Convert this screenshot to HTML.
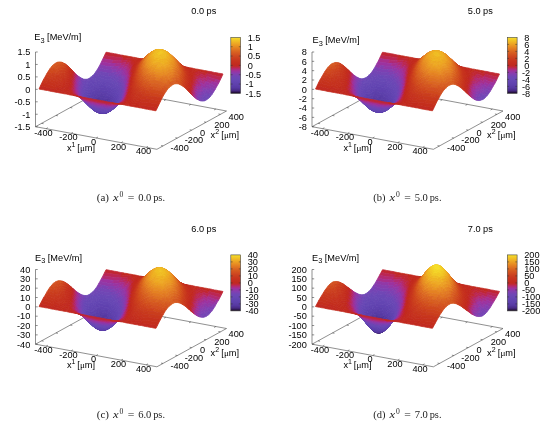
<!DOCTYPE html>
<html><head><meta charset="utf-8"><title>E3 field</title>
<style>
html,body{margin:0;padding:0;background:#fff}
svg{display:block}
.s text{font-family:"Liberation Sans",sans-serif;font-size:9.2px;fill:#000}
.mu{font-family:"Liberation Serif",serif}
.c text{font-family:"Liberation Serif",serif;font-size:9.5px;fill:#222}
.c .u{font-size:7.6px}
.sf path{stroke-width:3.2;stroke-linejoin:round}
.q0{fill:#0f0514;stroke:#0f0514}
.q1{fill:#2c164a;stroke:#2c164a}
.q2{fill:#412474;stroke:#412474}
.q3{fill:#4c2e8c;stroke:#4c2e8c}
.q4{fill:#513498;stroke:#513498}
.q5{fill:#573aa3;stroke:#573aa3}
.q6{fill:#5a3ca7;stroke:#5a3ca7}
.q7{fill:#5c3fab;stroke:#5c3fab}
.q8{fill:#5f41ae;stroke:#5f41ae}
.q9{fill:#6143b0;stroke:#6143b0}
.q10{fill:#6345b2;stroke:#6345b2}
.q11{fill:#6646b3;stroke:#6646b3}
.q12{fill:#6848b5;stroke:#6848b5}
.q13{fill:#6b47b5;stroke:#6b47b5}
.q14{fill:#6f46b5;stroke:#6f46b5}
.q15{fill:#7544b4;stroke:#7544b4}
.q16{fill:#7d41b2;stroke:#7d41b2}
.q17{fill:#863dae;stroke:#863dae}
.q18{fill:#9138a7;stroke:#9138a7}
.q19{fill:#9c33a0;stroke:#9c33a0}
.q20{fill:#a72f8c;stroke:#a72f8c}
.q21{fill:#b22b72;stroke:#b22b72}
.q22{fill:#bb2852;stroke:#bb2852}
.q23{fill:#c02832;stroke:#c02832}
.q24{fill:#c12a20;stroke:#c12a20}
.q25{fill:#c22c20;stroke:#c22c20}
.q26{fill:#c42e1f;stroke:#c42e1f}
.q27{fill:#c5311f;stroke:#c5311f}
.q28{fill:#c7351f;stroke:#c7351f}
.q29{fill:#c8391f;stroke:#c8391f}
.q30{fill:#ca3e1f;stroke:#ca3e1f}
.q31{fill:#cd431f;stroke:#cd431f}
.q32{fill:#cf491f;stroke:#cf491f}
.q33{fill:#d25020;stroke:#d25020}
.q34{fill:#d45720;stroke:#d45720}
.q35{fill:#d75e21;stroke:#d75e21}
.q36{fill:#da6621;stroke:#da6621}
.q37{fill:#dd6f21;stroke:#dd6f21}
.q38{fill:#e17822;stroke:#e17822}
.q39{fill:#e48222;stroke:#e48222}
.q40{fill:#e78c23;stroke:#e78c23}
.q41{fill:#e99623;stroke:#e99623}
.q42{fill:#eca024;stroke:#eca024}
.q43{fill:#eeaa25;stroke:#eeaa25}
.q44{fill:#efb425;stroke:#efb425}
.q45{fill:#f0bf26;stroke:#f0bf26}
.q46{fill:#f2ca27;stroke:#f2ca27}
.q47{fill:#f4d52a;stroke:#f4d52a}
.q48{fill:#f6e02c;stroke:#f6e02c}
</style></head><body>
<svg width="550" height="430" viewBox="0 0 550 430">
<rect width="550" height="430" fill="#fff"/>
<defs><filter id="bl" x="-5%" y="-5%" width="110%" height="110%"><feGaussianBlur stdDeviation="0.45"/></filter><linearGradient id="cb" x1="0" y1="0" x2="0" y2="1"><stop offset="0.000" stop-color="#f6e02c"/><stop offset="0.025" stop-color="#f4d229"/><stop offset="0.050" stop-color="#f1c526"/><stop offset="0.075" stop-color="#f0b926"/><stop offset="0.100" stop-color="#eeac25"/><stop offset="0.125" stop-color="#eca024"/><stop offset="0.150" stop-color="#e99423"/><stop offset="0.175" stop-color="#e68822"/><stop offset="0.200" stop-color="#e27c22"/><stop offset="0.225" stop-color="#de7122"/><stop offset="0.250" stop-color="#da6621"/><stop offset="0.275" stop-color="#d65d20"/><stop offset="0.300" stop-color="#d35420"/><stop offset="0.325" stop-color="#d04c20"/><stop offset="0.350" stop-color="#cd441f"/><stop offset="0.375" stop-color="#ca3e1f"/><stop offset="0.400" stop-color="#c8381f"/><stop offset="0.425" stop-color="#c6331f"/><stop offset="0.450" stop-color="#c42f1f"/><stop offset="0.475" stop-color="#c22c20"/><stop offset="0.500" stop-color="#c12a20"/><stop offset="0.525" stop-color="#c02836"/><stop offset="0.550" stop-color="#b8295f"/><stop offset="0.575" stop-color="#ac2d82"/><stop offset="0.600" stop-color="#9e329e"/><stop offset="0.625" stop-color="#9138a7"/><stop offset="0.650" stop-color="#843eb0"/><stop offset="0.675" stop-color="#7a42b2"/><stop offset="0.700" stop-color="#7046b5"/><stop offset="0.725" stop-color="#6c47b5"/><stop offset="0.750" stop-color="#6848b5"/><stop offset="0.775" stop-color="#6546b3"/><stop offset="0.800" stop-color="#6244b1"/><stop offset="0.825" stop-color="#6042ae"/><stop offset="0.850" stop-color="#5d40ac"/><stop offset="0.875" stop-color="#5a3ca7"/><stop offset="0.900" stop-color="#5639a2"/><stop offset="0.925" stop-color="#4f3193"/><stop offset="0.950" stop-color="#482a84"/><stop offset="0.975" stop-color="#321955"/><stop offset="1.000" stop-color="#0f0514"/></linearGradient></defs>
<g transform="translate(0,0)">
<g stroke="#444" stroke-width="0.6" fill="none">
<path d="M35.50 126.70L156.90 149.30L226.50 111.00L105.10 88.40z"/>
<line x1="35.50" y1="126.70" x2="35.50" y2="52.00"/>
<line x1="35.50" y1="126.70" x2="37.70" y2="126.70"/>
<line x1="35.50" y1="114.25" x2="37.70" y2="114.25"/>
<line x1="35.50" y1="101.80" x2="37.70" y2="101.80"/>
<line x1="35.50" y1="89.35" x2="37.70" y2="89.35"/>
<line x1="35.50" y1="76.90" x2="37.70" y2="76.90"/>
<line x1="35.50" y1="64.45" x2="37.70" y2="64.45"/>
<line x1="35.50" y1="52.00" x2="37.70" y2="52.00"/>
<line x1="46.14" y1="128.68" x2="47.89" y2="127.72"/>
<line x1="115.74" y1="90.38" x2="113.99" y2="91.34"/>
<line x1="163.00" y1="145.94" x2="161.03" y2="145.58"/>
<line x1="41.60" y1="123.34" x2="43.57" y2="123.71"/>
<line x1="71.17" y1="133.34" x2="72.92" y2="132.38"/>
<line x1="140.77" y1="95.04" x2="139.02" y2="96.00"/>
<line x1="177.35" y1="138.05" x2="175.38" y2="137.68"/>
<line x1="55.95" y1="115.45" x2="57.92" y2="115.81"/>
<line x1="96.20" y1="138.00" x2="97.95" y2="137.04"/>
<line x1="165.80" y1="99.70" x2="164.05" y2="100.66"/>
<line x1="191.70" y1="130.15" x2="189.73" y2="129.78"/>
<line x1="70.30" y1="107.55" x2="72.27" y2="107.92"/>
<line x1="121.23" y1="142.66" x2="122.98" y2="141.70"/>
<line x1="190.83" y1="104.36" x2="189.08" y2="105.32"/>
<line x1="206.05" y1="122.25" x2="204.08" y2="121.89"/>
<line x1="84.65" y1="99.65" x2="86.62" y2="100.02"/>
<line x1="146.26" y1="147.32" x2="148.01" y2="146.36"/>
<line x1="215.86" y1="109.02" x2="214.11" y2="109.98"/>
<line x1="220.40" y1="114.36" x2="218.43" y2="113.99"/>
<line x1="99.00" y1="91.76" x2="100.97" y2="92.12"/>
</g>
<g class="sf" filter="url(#bl)"><g transform="scale(0.25)">
<path class="q23" d="M418 222l9 1 8 2 8 1 9 1 8 1 8 1 9 1 8 1 6-10-8-1-9-2-8-2-8-1-9-2-8-1-8-2-9-1z"/>
<path class="q24" d="M485 231l8 1 9 0 8 1 8 1 9 0 8 1 8 0 9 0 8 1 8 0 9 1 8 1 8 0 7 3-9-1-8-2-8-1-9-2-8-1-9-2-8-2-8-1-9-2-8-1-8-2-9-1-8-2z"/>
<path class="q25" d="M593 238l9 1 8 1 9 1 8 1 8 1 9 2 8 1 8 2 9 1 8 2 8 2 9 2 8 2 8 2 9 2 6 4-9-2-8-1-8-2-9-2-8-1-8-2-9-1-8-2-8-1-9-2-8-1-8-2-9-2-8-1-8-2z"/>
<path class="q24" d="M719 261l8 3 8 2 9 3 8 2 8 3 9 3 8 2 9 3 8 3 8 2 9 3 8 2 8 3 6-10-8-2-8-1-9-2-8-1-8-2-9-1-8-2-8-2-9-1-8-2-8-1-9-2-8-1z"/>
<path class="q23" d="M827 295l9 2 8 2 8 2 9 2 8 2 8 2 9 2 6-13-9-2-8-1-8-2-9-1-8-2-8-2-9-1z"/>
<path class="q22" d="M412 234l8 2 9 2 8 1 8 1 9 1 8 0 9 1 8 0 8 0 6-10-8-1-8-1-9-1-8-1-8-1-9-1-8-1-8-2-9-1z"/>
<path class="q23" d="M487 242l9 0 8-1 8 0 9-1 6-6-9 0-8-1-8-1-9 0z"/>
<path class="q24" d="M521 240l8 0 8-1 9 0 8-1 6-2-8-1-9 0-8 0-8-1z"/>
<path class="q25" d="M554 238l8 0 9-1 8 0 8 0 6 1-8 0-8-1-9-1-8 0z"/>
<path class="q26" d="M587 237l9-1 8 1 8 0 9 0 8 1 8 1 9 1 8 1 9 2 8 2 8 2 9 2 8 3 8 2 9 3 8 3 6 4-8-3-9-2-8-2-8-2-9-2-8-2-8-2-9-1-8-2-8-1-9-2-8-1-8-1-9-1-8-1-9-1z"/>
<path class="q25" d="M721 260l8 4 9 3 8 4 8 3 6 0-8-3-8-2-9-3-8-2z"/>
<path class="q24" d="M754 274l9 4 8 4 8 3 9 4 6-4-8-3-9-3-8-2-9-3z"/>
<path class="q23" d="M788 289l8 4 8 3 9 4 8 3 6-8-8-3-8-2-9-3-8-2z"/>
<path class="q22" d="M821 303l9 3 8 3 8 3 9 3 8 2 8 3 9 2 6-13-9-2-8-2-8-2-9-2-8-2-8-2-9-2z"/>
<path class="q20" d="M406 247l8 2 9 2 8 1 8 1 9 1 6-13-9-1-8-1-8-1-9-2-8-2z"/>
<path class="q21" d="M448 254l8 0 8 0 9-1 8 0 6-11-8 0-8 0-9-1-8 0z"/>
<path class="q22" d="M481 253l8-1 9-1 8-1 6-9-8 0-8 1-9 0z"/>
<path class="q23" d="M506 250l9-2 8-1 6-7-8 0-9 1z"/>
<path class="q24" d="M523 247l8-2 9-2 8-1 6-4-8 1-9 0-8 1z"/>
<path class="q25" d="M548 242l8-2 9-1 6-2-9 1-8 0z"/>
<path class="q26" d="M565 239l8-2 8-1 9-1 6 1-9 1-8 0-8 0z"/>
<path class="q27" d="M590 235l8-1 8-1 9 0 8 0 6 5-8-1-9 0-8 0-8-1z"/>
<path class="q28" d="M623 233l8 1 9 0 8 1 8 2 9 1 8 3 9 2 6 6-9-2-8-2-8-2-9-2-8-1-9-1-8-1z"/>
<path class="q27" d="M682 243l8 3 8 3 9 3 8 4 6 4-8-3-9-3-8-2-8-3z"/>
<path class="q26" d="M715 256l8 4 9 4 8 5 6 2-8-4-9-3-8-4z"/>
<path class="q25" d="M740 269l8 4 9 5 6 0-9-4-8-3z"/>
<path class="q24" d="M757 278l8 5 8 4 9 5 6-3-9-4-8-3-8-4z"/>
<path class="q23" d="M782 292l8 5 8 5 6-6-8-3-8-4z"/>
<path class="q22" d="M798 302l9 4 8 4 8 5 7-9-9-3-8-3-9-4z"/>
<path class="q21" d="M823 315l9 4 8 3 8 4 9 3 6-12-8-2-9-3-8-3-8-3z"/>
<path class="q20" d="M857 329l8 2 9 3 6-12-9-2-8-3z"/>
<path class="q19" d="M400 259l8 2 9 2 8 2 8 1 9 1 8 0 8-1 6-12-8 0-8 0-9-1-8-1-8-1-9-2-8-2z"/>
<path class="q20" d="M458 266l9 0 8-1 8-2 6-11-8 1-8 0-9 1z"/>
<path class="q21" d="M483 263l9-2 8-2 6-9-8 1-9 1z"/>
<path class="q22" d="M500 259l8-2 9-2 6-8-8 1-9 2z"/>
<path class="q23" d="M517 255l8-3 6-7-8 2z"/>
<path class="q24" d="M525 252l8-3 9-2 6-5-8 1-9 2z"/>
<path class="q25" d="M542 247l8-3 9-3 6-2-9 1-8 2z"/>
<path class="q26" d="M559 241l8-2 8-2 6-1-8 1-8 2z"/>
<path class="q27" d="M575 237l9-3 8-1 6 1-8 1-9 1z"/>
<path class="q28" d="M592 233l8-2 9-1 6 3-9 0-8 1z"/>
<path class="q29" d="M609 230l8-1 8 0 9 0 8 1 8 1 9 1 8 2 8 3 9 3 8 3 6 6-8-3-8-3-9-2-8-3-9-1-8-2-8-1-9 0-8-1-8 0z"/>
<path class="q28" d="M692 243l8 4 9 4 8 5 6 4-8-4-8-4-9-3z"/>
<path class="q27" d="M717 256l9 5 8 5 6 3-8-5-9-4z"/>
<path class="q26" d="M734 266l8 5 9 6 6 1-9-5-8-4z"/>
<path class="q25" d="M751 277l8 5 6 1-8-5z"/>
<path class="q24" d="M759 282l8 6 9 6 6-2-9-5-8-4z"/>
<path class="q23" d="M776 294l8 6 8 6 6-4-8-5-8-5z"/>
<path class="q22" d="M792 306l9 5 8 6 6-7-8-4-9-4z"/>
<path class="q21" d="M809 317l8 5 9 5 6-8-9-4-8-5z"/>
<path class="q20" d="M826 327l8 4 8 4 6-9-8-4-8-3z"/>
<path class="q19" d="M842 335l9 4 8 4 8 3 7-12-9-3-8-2-9-3z"/>
<path class="q17" d="M394 270l8 3 8 2 9 2 8 2 9 1 8 0 6-13-8 0-9-1-8-1-8-2-9-2-8-2z"/>
<path class="q18" d="M444 280l8-1 9-1 8-1 6-12-8 1-9 0-8 1z"/>
<path class="q19" d="M469 277l8-2 6-12-8 2z"/>
<path class="q20" d="M477 275l9-2 8-3 6-11-8 2-9 2z"/>
<path class="q21" d="M494 270l8-3 9-3 6-9-9 2-8 2z"/>
<path class="q22" d="M511 264l8-4 6-8-8 3z"/>
<path class="q23" d="M519 260l8-3 6-8-8 3z"/>
<path class="q24" d="M527 257l9-4 8-4 6-5-8 3-9 2z"/>
<path class="q25" d="M544 249l8-4 7-4-9 3z"/>
<path class="q26" d="M552 245l9-3 6-3-8 2z"/>
<path class="q27" d="M561 242l8-4 8-3 7-1-9 3-8 2z"/>
<path class="q28" d="M577 235l9-2 6 0-8 1z"/>
<path class="q29" d="M586 233l8-3 9-2 6 2-9 1-8 2z"/>
<path class="q30" d="M603 228l8-2 8-1 9 0 6 4-9 0-8 0-8 1z"/>
<path class="q31" d="M628 225l8 0 8 0 9 1 8 2 8 3 9 2 6 7-9-3-8-3-8-2-9-1-8-1-8-1z"/>
<path class="q30" d="M678 233l8 4 8 4 9 4 6 6-9-4-8-4-8-3z"/>
<path class="q29" d="M703 245l8 5 6 6-8-5z"/>
<path class="q28" d="M711 250l8 6 9 6 6 4-8-5-9-5z"/>
<path class="q27" d="M728 262l8 6 8 6 7 3-9-6-8-5z"/>
<path class="q26" d="M744 274l9 7 6 1-8-5z"/>
<path class="q25" d="M753 281l8 7 6 0-8-6z"/>
<path class="q24" d="M761 288l9 6 8 7 6-1-8-6-9-6z"/>
<path class="q23" d="M778 301l8 7 6-2-8-6z"/>
<path class="q22" d="M786 308l9 7 6-4-9-5z"/>
<path class="q21" d="M795 315l8 6 8 7 6-6-8-5-8-6z"/>
<path class="q20" d="M811 328l9 5 6-6-9-5z"/>
<path class="q19" d="M820 333l8 6 8 5 6-9-8-4-8-4z"/>
<path class="q18" d="M836 344l9 5 8 4 8 4 6-11-8-3-8-4-9-4z"/>
<path class="q16" d="M388 280l8 4 8 3 9 2 8 2 8 1 9 1 8-1 6-13-8 1-8 0-9-1-8-2-9-2-8-2-8-3z"/>
<path class="q17" d="M446 292l8-1 9-1 6-13-8 1-9 1z"/>
<path class="q18" d="M463 290l8-2 9-3 6-12-9 2-8 2z"/>
<path class="q19" d="M480 285l8-3 6-12-8 3z"/>
<path class="q20" d="M488 282l8-4 9-4 6-10-9 3-8 3z"/>
<path class="q21" d="M505 274l8-4 6-10-8 4z"/>
<path class="q22" d="M513 270l8-5 6-8-8 3z"/>
<path class="q23" d="M521 265l9-5 6-7-9 4z"/>
<path class="q24" d="M530 260l8-4 6-7-8 4z"/>
<path class="q25" d="M538 256l8-5 6-6-8 4z"/>
<path class="q26" d="M546 251l9-5 6-4-9 3z"/>
<path class="q27" d="M555 246l8-4 6-4-8 4z"/>
<path class="q28" d="M563 242l8-4 9-4 6-1-9 2-8 3z"/>
<path class="q29" d="M580 234l8-4 6 0-8 3z"/>
<path class="q30" d="M588 230l8-3 9-2 6 1-8 2-9 2z"/>
<path class="q31" d="M605 225l8-2 8-2 7 4-9 0-8 1z"/>
<path class="q32" d="M621 221l9 0 8-1 9 1 8 1 8 2 9 3 8 4 6 6-8-4-9-2-8-3-8-2-9-1-8 0-8 0z"/>
<path class="q31" d="M680 231l8 4 9 4 6 6-9-4-8-4z"/>
<path class="q30" d="M697 239l8 6 8 6 6 5-8-6-8-5z"/>
<path class="q29" d="M713 251l9 6 6 5-9-6z"/>
<path class="q28" d="M722 257l8 7 8 7 6 3-8-6-8-6z"/>
<path class="q27" d="M738 271l9 7 6 3-9-7z"/>
<path class="q26" d="M747 278l8 8 6 2-8-7z"/>
<path class="q25" d="M755 286l8 8 7 0-9-6z"/>
<path class="q24" d="M763 294l9 7 6 0-8-7z"/>
<path class="q23" d="M772 301l8 8 6-1-8-7z"/>
<path class="q22" d="M780 309l8 8 7-2-9-7z"/>
<path class="q21" d="M788 317l9 8 6-4-8-6z"/>
<path class="q20" d="M797 325l8 7 9 7 6-6-9-5-8-7z"/>
<path class="q19" d="M814 339l8 7 6-7-8-6z"/>
<path class="q18" d="M822 346l8 6 9 5 6-8-9-5-8-5z"/>
<path class="q17" d="M839 357l8 5 8 5 6-10-8-4-8-4z"/>
<path class="q15" d="M382 289l8 5 8 4 6-11-8-3-8-4z"/>
<path class="q14" d="M398 298l9 3 8 2 8 2 9 0 6-12-9-1-8-1-8-2-9-2z"/>
<path class="q15" d="M432 305l8 0 8-1 9-1 6-13-9 1-8 1-8 1z"/>
<path class="q16" d="M457 303l8-3 6-12-8 2z"/>
<path class="q17" d="M465 300l8-3 9-3 6-12-8 3-9 3z"/>
<path class="q18" d="M482 294l8-4 6-12-8 4z"/>
<path class="q19" d="M490 290l8-5 7-11-9 4z"/>
<path class="q20" d="M498 285l9-5 6-10-8 4z"/>
<path class="q21" d="M507 280l8-5 6-10-8 5z"/>
<path class="q22" d="M515 275l9-6 6-9-9 5z"/>
<path class="q23" d="M524 269l8-6 6-7-8 4z"/>
<path class="q24" d="M532 263l8-5 6-7-8 5z"/>
<path class="q25" d="M540 258l9-6 6-6-9 5z"/>
<path class="q27" d="M549 252l8-5 6-5-8 4z"/>
<path class="q28" d="M557 247l8-6 6-3-8 4z"/>
<path class="q29" d="M565 241l9-5 8-4 6-2-8 4-9 4z"/>
<path class="q30" d="M582 232l8-4 6-1-8 3z"/>
<path class="q31" d="M590 228l9-4 6 1-9 2z"/>
<path class="q32" d="M599 224l8-3 8-2 6 2-8 2-8 2z"/>
<path class="q33" d="M615 219l9-2 8-1 6 4-8 1-9 0z"/>
<path class="q34" d="M632 216l8 0 9 1 8 2 8 2 7 6-9-3-8-2-8-1-9-1z"/>
<path class="q33" d="M665 221l9 3 8 4 9 5 6 6-9-4-8-4-8-4z"/>
<path class="q32" d="M691 233l8 6 6 6-8-6z"/>
<path class="q31" d="M699 239l8 6 9 6 6 6-9-6-8-6z"/>
<path class="q30" d="M716 251l8 8 6 5-8-7z"/>
<path class="q29" d="M724 259l8 7 6 5-8-7z"/>
<path class="q28" d="M732 266l9 9 6 3-9-7z"/>
<path class="q27" d="M741 275l8 8 6 3-8-8z"/>
<path class="q26" d="M749 283l8 9 6 2-8-8z"/>
<path class="q25" d="M757 292l9 8 6 1-9-7z"/>
<path class="q24" d="M766 300l8 9 6 0-8-8z"/>
<path class="q23" d="M774 309l8 9 6-1-8-8z"/>
<path class="q21" d="M782 318l9 9 6-2-9-8z"/>
<path class="q20" d="M791 327l8 8 6-3-8-7z"/>
<path class="q19" d="M799 335l8 8 9 8 6-5-8-7-9-7z"/>
<path class="q18" d="M816 351l8 7 6-6-8-6z"/>
<path class="q17" d="M824 358l8 7 7-8-9-5z"/>
<path class="q16" d="M832 365l9 6 8 5 6-9-8-5-8-5z"/>
<path class="q14" d="M376 297l8 6 8 4 6-9-8-4-8-5z"/>
<path class="q13" d="M392 307l9 4 8 3 8 2 9 2 8 0 8-1 6-13-8 1-8 0-9 0-8-2-8-2-9-3z"/>
<path class="q14" d="M442 317l9-1 8-3 6-13-8 3-9 1z"/>
<path class="q15" d="M459 313l8-3 6-13-8 3z"/>
<path class="q16" d="M467 310l9-4 6-12-9 3z"/>
<path class="q17" d="M476 306l8-4 6-12-8 4z"/>
<path class="q18" d="M484 302l8-5 6-12-8 5z"/>
<path class="q19" d="M492 297l9-6 6-11-9 5z"/>
<path class="q20" d="M501 291l8-6 6-10-8 5z"/>
<path class="q21" d="M509 285l8-6 7-10-9 6z"/>
<path class="q22" d="M517 279l9-7 6-9-8 6z"/>
<path class="q24" d="M526 272l8-6 6-8-8 5z"/>
<path class="q25" d="M534 266l8-7 7-7-9 6z"/>
<path class="q26" d="M542 259l9-6 6-6-8 5z"/>
<path class="q27" d="M551 253l8-7 6-5-8 6z"/>
<path class="q28" d="M559 246l9-6 6-4-9 5z"/>
<path class="q30" d="M568 240l8-5 6-3-8 4z"/>
<path class="q31" d="M576 235l8-6 6-1-8 4z"/>
<path class="q32" d="M584 229l9-4 8-4 6 0-8 3-9 4z"/>
<path class="q33" d="M601 221l8-3 6 1-8 2z"/>
<path class="q34" d="M609 218l9-3 8-2 6 3-8 1-9 2z"/>
<path class="q35" d="M626 213l8 0 9 0 8 1 8 2 9 3 8 3 6 6-8-4-9-3-8-2-8-2-9-1-8 0z"/>
<path class="q34" d="M676 222l8 5 9 5 6 7-8-6-9-5z"/>
<path class="q33" d="M693 232l8 7 6 6-8-6z"/>
<path class="q32" d="M701 239l8 7 7 5-9-6z"/>
<path class="q31" d="M709 246l9 7 6 6-8-8z"/>
<path class="q30" d="M718 253l8 8 6 5-8-7z"/>
<path class="q29" d="M726 261l9 9 6 5-9-9z"/>
<path class="q28" d="M735 270l8 9 6 4-8-8z"/>
<path class="q27" d="M743 279l8 9 6 4-8-9z"/>
<path class="q26" d="M751 288l9 10 6 2-9-8z"/>
<path class="q24" d="M760 298l8 10 6 1-8-9z"/>
<path class="q23" d="M768 308l8 10 6 0-8-9z"/>
<path class="q22" d="M776 318l9 9 6 0-9-9z"/>
<path class="q21" d="M785 327l8 10 6-2-8-8z"/>
<path class="q20" d="M793 337l8 9 6-3-8-8z"/>
<path class="q18" d="M801 346l9 9 6-4-9-8z"/>
<path class="q17" d="M810 355l8 8 6-5-8-7z"/>
<path class="q16" d="M818 363l8 8 9 7 6-7-9-6-8-7z"/>
<path class="q15" d="M835 378l8 6 6-8-8-5z"/>
<path class="q13" d="M369 304l9 6 8 6 6-9-8-4-8-6z"/>
<path class="q12" d="M386 316l8 5 9 4 8 2 9 2 8 1 8 0 9-1 6-13-9 1-8 1-8 0-9-2-8-2-8-3-9-4z"/>
<path class="q13" d="M445 329l8-3 6-13-8 3z"/>
<path class="q14" d="M453 326l8-3 9-4 6-13-9 4-8 3z"/>
<path class="q15" d="M470 319l8-4 6-13-8 4z"/>
<path class="q16" d="M478 315l8-6 6-12-8 5z"/>
<path class="q18" d="M486 309l9-6 6-12-9 6z"/>
<path class="q19" d="M495 303l8-6 6-12-8 6z"/>
<path class="q20" d="M503 297l8-7 6-11-8 6z"/>
<path class="q21" d="M511 290l9-8 6-10-9 7z"/>
<path class="q23" d="M520 282l8-7 6-9-8 6z"/>
<path class="q24" d="M528 275l8-7 6-9-8 7z"/>
<path class="q25" d="M536 268l9-8 6-7-9 6z"/>
<path class="q27" d="M545 260l8-7 6-7-8 7z"/>
<path class="q28" d="M553 253l8-7 7-6-9 6z"/>
<path class="q29" d="M561 246l9-7 6-4-8 5z"/>
<path class="q31" d="M570 239l8-6 6-4-8 6z"/>
<path class="q32" d="M578 233l9-6 6-2-9 4z"/>
<path class="q33" d="M587 227l8-5 6-1-8 4z"/>
<path class="q34" d="M595 222l8-4 6 0-8 3z"/>
<path class="q35" d="M603 218l9-4 8-3 6 2-8 2-9 3z"/>
<path class="q36" d="M620 211l8-1 9-1 8 0 8 2 9 2 8 3 8 5 6 6-8-5-8-3-9-3-8-2-8-1-9 0-8 0z"/>
<path class="q35" d="M678 221l9 5 6 6-9-5z"/>
<path class="q34" d="M687 226l8 6 8 7 6 7-8-7-8-7z"/>
<path class="q33" d="M703 239l9 8 6 6-9-7z"/>
<path class="q32" d="M712 247l8 9 6 5-8-8z"/>
<path class="q30" d="M720 256l8 9 7 5-9-9z"/>
<path class="q29" d="M728 265l9 9 6 5-8-9z"/>
<path class="q28" d="M737 274l8 10 6 4-8-9z"/>
<path class="q27" d="M745 284l8 11 7 3-9-10z"/>
<path class="q25" d="M753 295l9 10 6 3-8-10z"/>
<path class="q24" d="M762 305l8 11 6 2-8-10z"/>
<path class="q23" d="M770 316l9 11 6 0-9-9z"/>
<path class="q21" d="M779 327l8 10 6 0-8-10z"/>
<path class="q20" d="M787 337l8 10 6-1-8-9z"/>
<path class="q19" d="M795 347l9 10 6-2-9-9z"/>
<path class="q17" d="M804 357l8 9 6-3-8-8z"/>
<path class="q16" d="M812 366l8 9 6-4-8-8z"/>
<path class="q15" d="M820 375l9 8 6-5-9-7z"/>
<path class="q14" d="M829 383l8 8 6-7-8-6z"/>
<path class="q13" d="M363 309l9 8 6-7-9-6z"/>
<path class="q12" d="M372 317l8 6 6-7-8-6z"/>
<path class="q11" d="M380 323l8 6 9 5 8 4 6-11-8-2-9-4-8-5z"/>
<path class="q10" d="M405 338l8 2 9 1 6-11-8-1-9-2z"/>
<path class="q11" d="M422 341l8 1 8-1 9-2 6-13-8 3-9 1-8 0z"/>
<path class="q12" d="M447 339l8-3 6-13-8 3z"/>
<path class="q13" d="M455 336l9-4 6-13-9 4z"/>
<path class="q14" d="M464 332l8-4 6-13-8 4z"/>
<path class="q15" d="M472 328l8-6 6-13-8 6z"/>
<path class="q16" d="M480 322l9-6 6-13-9 6z"/>
<path class="q17" d="M489 316l8-7 6-12-8 6z"/>
<path class="q19" d="M497 309l8-8 6-11-8 7z"/>
<path class="q20" d="M505 301l9-8 6-11-9 8z"/>
<path class="q22" d="M514 293l8-8 6-10-8 7z"/>
<path class="q23" d="M522 285l8-8 6-9-8 7z"/>
<path class="q25" d="M530 277l9-8 6-9-9 8z"/>
<path class="q26" d="M539 269l8-9 6-7-8 7z"/>
<path class="q28" d="M547 260l8-8 6-6-8 7z"/>
<path class="q29" d="M555 252l9-8 6-5-9 7z"/>
<path class="q30" d="M564 244l8-7 6-4-8 6z"/>
<path class="q32" d="M572 237l8-7 7-3-9 6z"/>
<path class="q33" d="M580 230l9-6 6-2-8 5z"/>
<path class="q34" d="M589 224l8-5 6-1-8 4z"/>
<path class="q35" d="M597 219l8-5 7 0-9 4z"/>
<path class="q36" d="M605 214l9-3 6 0-8 3z"/>
<path class="q37" d="M614 211l8-3 9-1 8-1 6 3-8 0-9 1-8 1z"/>
<path class="q38" d="M639 206l8 1 9 1 6 5-9-2-8-2z"/>
<path class="q37" d="M656 208l8 3 8 4 9 5 6 6-9-5-8-5-8-3z"/>
<path class="q36" d="M681 220l8 6 6 6-8-6z"/>
<path class="q35" d="M689 226l8 7 6 6-8-7z"/>
<path class="q34" d="M697 233l9 8 6 6-9-8z"/>
<path class="q33" d="M706 241l8 9 6 6-8-9z"/>
<path class="q32" d="M714 250l8 9 6 6-8-9z"/>
<path class="q31" d="M722 259l9 10 6 5-9-9z"/>
<path class="q29" d="M731 269l8 11 6 4-8-10z"/>
<path class="q28" d="M739 280l8 11 6 4-8-11z"/>
<path class="q26" d="M747 291l9 11 6 3-9-10z"/>
<path class="q25" d="M756 302l8 11 6 3-8-11z"/>
<path class="q23" d="M764 313l8 12 7 2-9-11z"/>
<path class="q22" d="M772 325l9 11 6 1-8-10z"/>
<path class="q20" d="M781 336l8 11 6 0-8-10z"/>
<path class="q19" d="M789 347l8 11 7-1-9-10z"/>
<path class="q18" d="M797 358l9 11 6-3-8-9z"/>
<path class="q16" d="M806 369l8 10 6-4-8-9z"/>
<path class="q15" d="M814 379l9 9 6-5-9-8z"/>
<path class="q14" d="M823 388l8 8 6-5-8-8z"/>
<path class="q13" d="M357 313l9 9 6-5-9-8z"/>
<path class="q12" d="M366 322l8 8 6-7-8-6z"/>
<path class="q11" d="M374 330l8 6 6-7-8-6z"/>
<path class="q10" d="M382 336l9 6 8 5 6-9-8-4-9-5z"/>
<path class="q9" d="M399 347l8 3 9 2 8 1 6-11-8-1-9-1-8-2z"/>
<path class="q10" d="M424 353l8 0 9-2 6-12-9 2-8 1z"/>
<path class="q11" d="M441 351l8-2 8-4 7-13-9 4-8 3z"/>
<path class="q12" d="M457 345l9-4 6-13-8 4z"/>
<path class="q13" d="M466 341l8-6 6-13-8 6z"/>
<path class="q15" d="M474 335l8-6 7-13-9 6z"/>
<path class="q16" d="M482 329l9-8 6-12-8 7z"/>
<path class="q17" d="M491 321l8-7 6-13-8 8z"/>
<path class="q19" d="M499 314l9-9 6-12-9 8z"/>
<path class="q20" d="M508 305l8-9 6-11-8 8z"/>
<path class="q22" d="M516 296l8-9 6-10-8 8z"/>
<path class="q24" d="M524 287l9-9 6-9-9 8z"/>
<path class="q25" d="M533 278l8-9 6-9-8 9z"/>
<path class="q27" d="M541 269l8-9 6-8-8 8z"/>
<path class="q29" d="M549 260l9-9 6-7-9 8z"/>
<path class="q30" d="M558 251l8-8 6-6-8 7z"/>
<path class="q32" d="M566 243l8-8 6-5-8 7z"/>
<path class="q33" d="M574 235l9-7 6-4-9 6z"/>
<path class="q34" d="M583 228l8-6 6-3-8 5z"/>
<path class="q35" d="M591 222l8-6 6-2-8 5z"/>
<path class="q36" d="M599 216l9-5 6 0-9 3z"/>
<path class="q37" d="M608 211l8-3 6 0-8 3z"/>
<path class="q38" d="M616 208l8-3 9-1 6 2-8 1-9 1z"/>
<path class="q39" d="M633 204l8-1 8 1 9 3 6 4-8-3-9-1-8-1z"/>
<path class="q38" d="M658 207l8 3 9 4 6 6-9-5-8-4z"/>
<path class="q37" d="M675 214l8 6 8 7 6 6-8-7-8-6z"/>
<path class="q36" d="M691 227l9 8 6 6-9-8z"/>
<path class="q35" d="M700 235l8 8 6 7-8-9z"/>
<path class="q33" d="M708 243l8 10 6 6-8-9z"/>
<path class="q32" d="M716 253l9 10 6 6-9-10z"/>
<path class="q31" d="M725 263l8 11 6 6-8-11z"/>
<path class="q29" d="M733 274l8 12 6 5-8-11z"/>
<path class="q28" d="M741 286l9 11 6 5-9-11z"/>
<path class="q26" d="M750 297l8 13 6 3-8-11z"/>
<path class="q24" d="M758 310l8 12 6 3-8-12z"/>
<path class="q23" d="M766 322l9 12 6 2-9-11z"/>
<path class="q21" d="M775 334l8 12 6 1-8-11z"/>
<path class="q19" d="M783 346l8 12 6 0-8-11z"/>
<path class="q18" d="M791 358l9 11 6 0-9-11z"/>
<path class="q16" d="M800 369l8 11 6-1-8-10z"/>
<path class="q15" d="M808 380l8 11 7-3-9-9z"/>
<path class="q14" d="M816 391l9 9 6-4-8-8z"/>
<path class="q13" d="M351 316l8 10 7-4-9-9z"/>
<path class="q11" d="M359 326l9 8 6-4-8-8z"/>
<path class="q10" d="M368 334l8 8 9 7 6-7-9-6-8-6z"/>
<path class="q9" d="M385 349l8 5 6-7-8-5z"/>
<path class="q8" d="M393 354l8 5 9 3 8 1 8 1 6-11-8 0-8-1-9-2-8-3z"/>
<path class="q9" d="M426 364l9-1 8-2 6-12-8 2-9 2z"/>
<path class="q10" d="M443 361l8-3 6-13-8 4z"/>
<path class="q11" d="M451 358l9-5 6-12-9 4z"/>
<path class="q12" d="M460 353l8-5 6-13-8 6z"/>
<path class="q13" d="M468 348l8-6 6-13-8 6z"/>
<path class="q14" d="M476 342l9-8 6-13-9 8z"/>
<path class="q16" d="M485 334l8-8 6-12-8 7z"/>
<path class="q17" d="M493 326l8-9 7-12-9 9z"/>
<path class="q19" d="M501 317l9-9 6-12-8 9z"/>
<path class="q21" d="M510 308l8-9 6-12-8 9z"/>
<path class="q23" d="M518 299l8-10 7-11-9 9z"/>
<path class="q24" d="M526 289l9-10 6-10-8 9z"/>
<path class="q26" d="M535 279l8-10 6-9-8 9z"/>
<path class="q28" d="M543 269l9-10 6-8-9 9z"/>
<path class="q30" d="M552 259l8-9 6-7-8 8z"/>
<path class="q31" d="M560 250l8-9 6-6-8 8z"/>
<path class="q33" d="M568 241l9-8 6-5-9 7z"/>
<path class="q34" d="M577 233l8-7 6-4-8 6z"/>
<path class="q35" d="M585 226l8-7 6-3-8 6z"/>
<path class="q37" d="M593 219l9-6 6-2-9 5z"/>
<path class="q38" d="M602 213l8-5 8-3 6 0-8 3-8 3z"/>
<path class="q39" d="M618 205l9-2 6 1-9 1z"/>
<path class="q40" d="M627 203l8-2 8 0 9 2 8 2 6 5-8-3-9-3-8-1-8 1z"/>
<path class="q39" d="M660 205l8 4 9 6 6 5-8-6-9-4z"/>
<path class="q38" d="M677 215l8 6 6 6-8-7z"/>
<path class="q37" d="M685 221l8 7 7 7-9-8z"/>
<path class="q36" d="M693 228l9 9 6 6-8-8z"/>
<path class="q35" d="M702 237l8 10 6 6-8-10z"/>
<path class="q34" d="M710 247l9 10 6 6-9-10z"/>
<path class="q32" d="M719 257l8 11 6 6-8-11z"/>
<path class="q31" d="M727 268l8 12 6 6-8-12z"/>
<path class="q29" d="M735 280l9 12 6 5-9-11z"/>
<path class="q27" d="M744 292l8 13 6 5-8-13z"/>
<path class="q25" d="M752 305l8 13 6 4-8-12z"/>
<path class="q24" d="M760 318l9 13 6 3-9-12z"/>
<path class="q22" d="M769 331l8 13 6 2-8-12z"/>
<path class="q20" d="M777 344l8 13 6 1-8-12z"/>
<path class="q18" d="M785 357l9 12 6 0-9-11z"/>
<path class="q17" d="M794 369l8 12 6-1-8-11z"/>
<path class="q15" d="M802 381l8 11 6-1-8-11z"/>
<path class="q14" d="M810 392l9 11 6-3-9-9z"/>
<path class="q13" d="M345 317l8 11 6-2-8-10z"/>
<path class="q11" d="M353 328l9 10 6-4-9-8z"/>
<path class="q10" d="M362 338l8 9 6-5-8-8z"/>
<path class="q9" d="M370 347l8 8 7-6-9-7z"/>
<path class="q8" d="M378 355l9 6 8 5 6-7-8-5-8-5z"/>
<path class="q7" d="M395 366l8 4 9 3 8 1 9 0 6-11-9 1-8-1-8-1-9-3z"/>
<path class="q8" d="M429 374l8-1 8-3 6-12-8 3-8 2z"/>
<path class="q9" d="M445 370l9-4 6-13-9 5z"/>
<path class="q10" d="M454 366l8-5 6-13-8 5z"/>
<path class="q11" d="M462 361l8-7 6-12-8 6z"/>
<path class="q13" d="M470 354l9-7 6-13-9 8z"/>
<path class="q14" d="M479 347l8-8 6-13-8 8z"/>
<path class="q16" d="M487 339l8-9 6-13-8 9z"/>
<path class="q18" d="M495 330l9-9 6-13-9 9z"/>
<path class="q19" d="M504 321l8-10 6-12-8 9z"/>
<path class="q21" d="M512 311l8-11 6-11-8 10z"/>
<path class="q23" d="M520 300l9-10 6-11-9 10z"/>
<path class="q25" d="M529 290l8-11 6-10-8 10z"/>
<path class="q27" d="M537 279l8-10 7-10-9 10z"/>
<path class="q29" d="M545 269l9-10 6-9-8 9z"/>
<path class="q31" d="M554 259l8-10 6-8-8 9z"/>
<path class="q32" d="M562 249l8-9 7-7-9 8z"/>
<path class="q34" d="M570 240l9-9 6-5-8 7z"/>
<path class="q35" d="M579 231l8-8 6-4-8 7z"/>
<path class="q37" d="M587 223l9-7 6-3-9 6z"/>
<path class="q38" d="M596 216l8-5 6-3-8 5z"/>
<path class="q39" d="M604 211l8-5 6-1-8 3z"/>
<path class="q40" d="M612 206l9-3 8-3 6 1-8 2-9 2z"/>
<path class="q41" d="M629 200l8 0 9 0 8 2 8 3 6 4-8-4-8-2-9-2-8 0z"/>
<path class="q40" d="M662 205l9 5 8 6 6 5-8-6-9-6z"/>
<path class="q39" d="M679 216l8 7 6 5-8-7z"/>
<path class="q38" d="M687 223l9 8 6 6-9-9z"/>
<path class="q37" d="M696 231l8 9 6 7-8-10z"/>
<path class="q35" d="M704 240l8 11 7 6-9-10z"/>
<path class="q34" d="M712 251l9 11 6 6-8-11z"/>
<path class="q32" d="M721 262l8 12 6 6-8-12z"/>
<path class="q30" d="M729 274l8 13 7 5-9-12z"/>
<path class="q29" d="M737 287l9 13 6 5-8-13z"/>
<path class="q27" d="M746 300l8 13 6 5-8-13z"/>
<path class="q25" d="M754 313l9 14 6 4-9-13z"/>
<path class="q23" d="M763 327l8 13 6 4-8-13z"/>
<path class="q21" d="M771 340l8 14 6 3-8-13z"/>
<path class="q19" d="M779 354l9 13 6 2-9-12z"/>
<path class="q17" d="M788 367l8 13 6 1-8-12z"/>
<path class="q16" d="M796 380l8 13 6-1-8-11z"/>
<path class="q14" d="M804 393l9 11 6-1-9-11z"/>
<path class="q13" d="M339 317l8 12 6-1-8-11z"/>
<path class="q12" d="M347 329l9 11 6-2-9-10z"/>
<path class="q10" d="M356 340l8 10 6-3-8-9z"/>
<path class="q9" d="M364 350l8 9 6-4-8-8z"/>
<path class="q8" d="M372 359l9 7 6-5-9-6z"/>
<path class="q7" d="M381 366l8 7 8 5 6-8-8-4-8-5z"/>
<path class="q6" d="M397 378l9 3 8 2 8 1 7-10-9 0-8-1-9-3z"/>
<path class="q7" d="M422 384l9-1 8-2 6-11-8 3-8 1z"/>
<path class="q8" d="M439 381l8-3 7-12-9 4z"/>
<path class="q9" d="M447 378l9-5 6-12-8 5z"/>
<path class="q10" d="M456 373l8-6 6-13-8 7z"/>
<path class="q11" d="M464 367l9-7 6-13-9 7z"/>
<path class="q13" d="M473 360l8-8 6-13-8 8z"/>
<path class="q14" d="M481 352l8-9 6-13-8 9z"/>
<path class="q16" d="M489 343l9-10 6-12-9 9z"/>
<path class="q18" d="M498 333l8-10 6-12-8 10z"/>
<path class="q20" d="M506 323l8-11 6-12-8 11z"/>
<path class="q22" d="M514 312l9-11 6-11-9 10z"/>
<path class="q24" d="M523 301l8-11 6-11-8 11z"/>
<path class="q26" d="M531 290l8-11 6-10-8 10z"/>
<path class="q28" d="M539 279l9-11 6-9-9 10z"/>
<path class="q30" d="M548 268l8-11 6-8-8 10z"/>
<path class="q32" d="M556 257l8-10 6-7-8 9z"/>
<path class="q33" d="M564 247l9-9 6-7-9 9z"/>
<path class="q35" d="M573 238l8-9 6-6-8 8z"/>
<path class="q36" d="M581 229l8-8 7-5-9 7z"/>
<path class="q38" d="M589 221l9-7 6-3-8 5z"/>
<path class="q39" d="M598 214l8-6 6-2-8 5z"/>
<path class="q40" d="M606 208l8-4 7-1-9 3z"/>
<path class="q41" d="M614 204l9-3 8-2 6 1-8 0-8 3z"/>
<path class="q42" d="M631 199l9-1 8 1 8 3 6 3-8-3-8-2-9 0z"/>
<path class="q41" d="M656 202l9 4 8 5 6 5-8-6-9-5z"/>
<path class="q40" d="M673 211l8 6 6 6-8-7z"/>
<path class="q39" d="M681 217l9 8 6 6-9-8z"/>
<path class="q38" d="M690 225l8 9 6 6-8-9z"/>
<path class="q37" d="M698 234l8 10 6 7-8-11z"/>
<path class="q35" d="M706 244l9 12 6 6-9-11z"/>
<path class="q34" d="M715 256l8 12 6 6-8-12z"/>
<path class="q32" d="M723 268l8 12 6 7-8-13z"/>
<path class="q30" d="M731 280l9 14 6 6-9-13z"/>
<path class="q28" d="M740 294l8 14 6 5-8-13z"/>
<path class="q26" d="M748 308l8 14 7 5-9-14z"/>
<path class="q24" d="M756 322l9 14 6 4-8-13z"/>
<path class="q22" d="M765 336l8 14 6 4-8-14z"/>
<path class="q20" d="M773 350l8 14 7 3-9-13z"/>
<path class="q18" d="M781 364l9 14 6 2-8-13z"/>
<path class="q16" d="M790 378l8 14 6 1-8-13z"/>
<path class="q15" d="M798 392l9 12 6 0-9-11z"/>
<path class="q14" d="M333 316l8 13 6 0-8-12z"/>
<path class="q12" d="M341 329l9 12 6-1-9-11z"/>
<path class="q10" d="M350 341l8 11 6-2-8-10z"/>
<path class="q9" d="M358 352l8 10 6-3-8-9z"/>
<path class="q8" d="M366 362l9 8 6-4-9-7z"/>
<path class="q7" d="M375 370l8 8 6-5-8-7z"/>
<path class="q6" d="M383 378l8 6 9 4 6-7-9-3-8-5z"/>
<path class="q5" d="M400 388l8 3 8 2 6-9-8-1-8-2z"/>
<path class="q6" d="M416 393l9 0 8-1 6-11-8 2-9 1z"/>
<path class="q7" d="M433 392l8-3 9-4 6-12-9 5-8 3z"/>
<path class="q9" d="M450 385l8-6 6-12-8 6z"/>
<path class="q10" d="M458 379l8-6 7-13-9 7z"/>
<path class="q11" d="M466 373l9-8 6-13-8 8z"/>
<path class="q13" d="M475 365l8-9 6-13-8 9z"/>
<path class="q15" d="M483 356l9-10 6-13-9 10z"/>
<path class="q16" d="M492 346l8-10 6-13-8 10z"/>
<path class="q18" d="M500 336l8-11 6-13-8 11z"/>
<path class="q20" d="M508 325l9-11 6-13-9 11z"/>
<path class="q22" d="M517 314l8-12 6-12-8 11z"/>
<path class="q25" d="M525 302l8-12 6-11-8 11z"/>
<path class="q27" d="M533 290l9-11 6-11-9 11z"/>
<path class="q29" d="M542 279l8-12 6-10-8 11z"/>
<path class="q31" d="M550 267l8-11 6-9-8 10z"/>
<path class="q33" d="M558 256l9-10 6-8-9 9z"/>
<path class="q34" d="M567 246l8-10 6-7-8 9z"/>
<path class="q36" d="M575 236l8-9 6-6-8 8z"/>
<path class="q38" d="M583 227l9-8 6-5-9 7z"/>
<path class="q39" d="M592 219l8-7 6-4-8 6z"/>
<path class="q40" d="M600 212l8-5 6-3-8 4z"/>
<path class="q41" d="M608 207l9-5 6-1-9 3z"/>
<path class="q42" d="M617 202l8-2 8-2 7 0-9 1-8 2z"/>
<path class="q43" d="M633 198l9 0 8 2 6 2-8-3-8-1z"/>
<path class="q42" d="M650 200l8 3 9 4 6 4-8-5-9-4z"/>
<path class="q41" d="M667 207l8 6 9 7 6 5-9-8-8-6z"/>
<path class="q39" d="M684 220l8 9 6 5-8-9z"/>
<path class="q38" d="M692 229l8 10 6 5-8-10z"/>
<path class="q37" d="M700 239l9 10 6 7-9-12z"/>
<path class="q35" d="M709 249l8 12 6 7-8-12z"/>
<path class="q33" d="M717 261l8 13 6 6-8-12z"/>
<path class="q32" d="M725 274l9 14 6 6-9-14z"/>
<path class="q30" d="M734 288l8 14 6 6-8-14z"/>
<path class="q28" d="M742 302l8 14 6 6-8-14z"/>
<path class="q26" d="M750 316l9 15 6 5-9-14z"/>
<path class="q23" d="M759 331l8 15 6 4-8-14z"/>
<path class="q21" d="M767 346l8 15 6 3-8-14z"/>
<path class="q19" d="M775 361l9 14 6 3-9-14z"/>
<path class="q17" d="M784 375l8 14 6 3-8-14z"/>
<path class="q15" d="M792 389l8 14 7 1-9-12z"/>
<path class="q14" d="M327 313l8 14 6 2-8-13z"/>
<path class="q13" d="M335 327l8 13 7 1-9-12z"/>
<path class="q11" d="M343 340l9 12 6 0-8-11z"/>
<path class="q9" d="M352 352l8 11 6-1-8-10z"/>
<path class="q8" d="M360 363l9 10 6-3-9-8z"/>
<path class="q7" d="M369 373l8 8 6-3-8-8z"/>
<path class="q6" d="M377 381l8 7 6-4-8-6z"/>
<path class="q5" d="M385 388l9 6 8 4 8 3 9 1 8-1 8-2 6-10-8 3-8 1-9 0-8-2-8-3-9-4z"/>
<path class="q6" d="M435 399l9-3 6-11-9 4z"/>
<path class="q7" d="M444 396l8-5 6-12-8 6z"/>
<path class="q8" d="M452 391l8-6 6-12-8 6z"/>
<path class="q10" d="M460 385l9-7 6-13-9 8z"/>
<path class="q11" d="M469 378l8-9 6-13-8 9z"/>
<path class="q13" d="M477 369l8-10 7-13-9 10z"/>
<path class="q15" d="M485 359l9-10 6-13-8 10z"/>
<path class="q17" d="M494 349l8-11 6-13-8 11z"/>
<path class="q19" d="M502 338l8-12 7-12-9 11z"/>
<path class="q21" d="M510 326l9-12 6-12-8 12z"/>
<path class="q23" d="M519 314l8-12 6-12-8 12z"/>
<path class="q25" d="M527 302l9-12 6-11-9 11z"/>
<path class="q28" d="M536 290l8-12 6-11-8 12z"/>
<path class="q30" d="M544 278l8-12 6-10-8 11z"/>
<path class="q32" d="M552 266l9-11 6-9-9 10z"/>
<path class="q34" d="M561 255l8-11 6-8-8 10z"/>
<path class="q35" d="M569 244l8-10 6-7-8 9z"/>
<path class="q37" d="M577 234l9-9 6-6-9 8z"/>
<path class="q39" d="M586 225l8-7 6-6-8 7z"/>
<path class="q40" d="M594 218l8-7 6-4-8 5z"/>
<path class="q41" d="M602 211l9-5 6-4-9 5z"/>
<path class="q42" d="M611 206l8-4 6-2-8 2z"/>
<path class="q43" d="M619 202l8-3 9-1 8 0 8 3 9 3 8 5 6 4-8-6-9-4-8-3-8-2-9 0-8 2z"/>
<path class="q42" d="M669 209l8 7 7 4-9-7z"/>
<path class="q41" d="M677 216l9 8 6 5-8-9z"/>
<path class="q40" d="M686 224l8 9 6 6-8-10z"/>
<path class="q38" d="M694 233l8 11 7 5-9-10z"/>
<path class="q37" d="M702 244l9 11 6 6-8-12z"/>
<path class="q35" d="M711 255l8 13 6 6-8-13z"/>
<path class="q33" d="M719 268l9 13 6 7-9-14z"/>
<path class="q31" d="M728 281l8 15 6 6-8-14z"/>
<path class="q29" d="M736 296l8 14 6 6-8-14z"/>
<path class="q27" d="M744 310l9 15 6 6-9-15z"/>
<path class="q25" d="M753 325l8 16 6 5-8-15z"/>
<path class="q23" d="M761 341l8 15 6 5-8-15z"/>
<path class="q20" d="M769 356l9 15 6 4-9-14z"/>
<path class="q18" d="M778 371l8 15 6 3-8-14z"/>
<path class="q16" d="M786 386l8 14 6 3-8-14z"/>
<path class="q15" d="M321 310l8 15 6 2-8-14z"/>
<path class="q13" d="M329 325l8 13 6 2-8-13z"/>
<path class="q12" d="M337 338l9 13 6 1-9-12z"/>
<path class="q10" d="M346 351l8 12 6 0-8-11z"/>
<path class="q8" d="M354 363l8 11 7-1-9-10z"/>
<path class="q7" d="M362 374l9 10 6-3-8-8z"/>
<path class="q6" d="M371 384l8 8 6-4-8-7z"/>
<path class="q5" d="M379 392l8 7 7-5-9-6z"/>
<path class="q4" d="M387 399l9 5 8 3 9 2 8 1 8-1 6-10-8 2-8 1-9-1-8-3-8-4z"/>
<path class="q5" d="M429 409l9-3 6-10-9 3z"/>
<path class="q6" d="M438 406l8-4 6-11-8 5z"/>
<path class="q7" d="M446 402l8-6 6-11-8 6z"/>
<path class="q8" d="M454 396l9-6 6-12-9 7z"/>
<path class="q10" d="M463 390l8-9 6-12-8 9z"/>
<path class="q12" d="M471 381l8-9 6-13-8 10z"/>
<path class="q13" d="M479 372l9-10 6-13-9 10z"/>
<path class="q15" d="M488 362l8-11 6-13-8 11z"/>
<path class="q17" d="M496 351l8-12 6-13-8 12z"/>
<path class="q20" d="M504 339l9-12 6-13-9 12z"/>
<path class="q22" d="M513 327l8-12 6-13-8 12z"/>
<path class="q24" d="M521 315l8-13 7-12-9 12z"/>
<path class="q26" d="M529 302l9-13 6-11-8 12z"/>
<path class="q28" d="M538 289l8-12 6-11-8 12z"/>
<path class="q31" d="M546 277l8-12 7-10-9 11z"/>
<path class="q33" d="M554 265l9-11 6-10-8 11z"/>
<path class="q35" d="M563 254l8-11 6-9-8 10z"/>
<path class="q36" d="M571 243l9-10 6-8-9 9z"/>
<path class="q38" d="M580 233l8-9 6-6-8 7z"/>
<path class="q40" d="M588 224l8-8 6-5-8 7z"/>
<path class="q41" d="M596 216l9-6 6-4-9 5z"/>
<path class="q42" d="M605 210l8-5 6-3-8 4z"/>
<path class="q43" d="M613 205l8-4 6-2-8 3z"/>
<path class="q44" d="M621 201l9-2 8 0 8 1 9 2 8 5 6 2-8-5-9-3-8-3-8 0-9 1z"/>
<path class="q43" d="M663 207l8 5 6 4-8-7z"/>
<path class="q42" d="M671 212l9 8 6 4-9-8z"/>
<path class="q41" d="M680 220l8 8 6 5-8-9z"/>
<path class="q40" d="M688 228l8 10 6 6-8-11z"/>
<path class="q38" d="M696 238l9 11 6 6-9-11z"/>
<path class="q36" d="M705 249l8 13 6 6-8-13z"/>
<path class="q35" d="M713 262l8 13 7 6-9-13z"/>
<path class="q33" d="M721 275l9 14 6 7-8-15z"/>
<path class="q31" d="M730 289l8 15 6 6-8-14z"/>
<path class="q28" d="M738 304l9 15 6 6-9-15z"/>
<path class="q26" d="M747 319l8 16 6 6-8-16z"/>
<path class="q24" d="M755 335l8 16 6 5-8-15z"/>
<path class="q22" d="M763 351l9 15 6 5-9-15z"/>
<path class="q20" d="M772 366l8 16 6 4-8-15z"/>
<path class="q17" d="M780 382l8 15 6 3-8-14z"/>
<path class="q16" d="M315 306l8 15 6 4-8-15z"/>
<path class="q14" d="M323 321l8 15 6 2-8-13z"/>
<path class="q12" d="M331 336l9 13 6 2-9-13z"/>
<path class="q11" d="M340 349l8 13 6 1-8-12z"/>
<path class="q9" d="M348 362l8 12 6 0-8-11z"/>
<path class="q7" d="M356 374l9 11 6-1-9-10z"/>
<path class="q6" d="M365 385l8 9 6-2-8-8z"/>
<path class="q5" d="M373 394l8 8 6-3-8-7z"/>
<path class="q4" d="M381 402l9 6 8 5 8 3 7-7-9-2-8-3-9-5z"/>
<path class="q3" d="M406 416l9 1 6-7-8-1z"/>
<path class="q4" d="M415 417l8 0 8-2 7-9-9 3-8 1z"/>
<path class="q5" d="M431 415l9-3 6-10-8 4z"/>
<path class="q6" d="M440 412l8-5 6-11-8 6z"/>
<path class="q7" d="M448 407l9-6 6-11-9 6z"/>
<path class="q8" d="M457 401l8-8 6-12-8 9z"/>
<path class="q10" d="M465 393l8-8 6-13-8 9z"/>
<path class="q12" d="M473 385l9-10 6-13-9 10z"/>
<path class="q14" d="M482 375l8-11 6-13-8 11z"/>
<path class="q16" d="M490 364l8-12 6-13-8 12z"/>
<path class="q18" d="M498 352l9-12 6-13-9 12z"/>
<path class="q20" d="M507 340l8-13 6-12-8 12z"/>
<path class="q23" d="M515 327l8-12 6-13-8 13z"/>
<path class="q25" d="M523 315l9-13 6-13-9 13z"/>
<path class="q27" d="M532 302l8-13 6-12-8 12z"/>
<path class="q29" d="M540 289l8-13 6-11-8 12z"/>
<path class="q32" d="M548 276l9-12 6-10-9 11z"/>
<path class="q34" d="M557 264l8-12 6-9-8 11z"/>
<path class="q36" d="M565 252l8-10 7-9-9 10z"/>
<path class="q37" d="M573 242l9-10 6-8-8 9z"/>
<path class="q39" d="M582 232l8-9 6-7-8 8z"/>
<path class="q41" d="M590 223l8-7 7-6-9 6z"/>
<path class="q42" d="M598 216l9-6 6-5-8 5z"/>
<path class="q43" d="M607 210l8-5 6-4-8 4z"/>
<path class="q44" d="M615 205l9-3 8-2 8 0 6 0-8-1-8 0-9 2z"/>
<path class="q45" d="M640 200l9 2 6 0-9-2z"/>
<path class="q44" d="M649 202l8 3 8 5 6 2-8-5-8-5z"/>
<path class="q43" d="M665 210l9 6 6 4-9-8z"/>
<path class="q42" d="M674 216l8 8 6 4-8-8z"/>
<path class="q41" d="M682 224l8 10 6 4-8-10z"/>
<path class="q40" d="M690 234l9 10 6 5-9-11z"/>
<path class="q38" d="M699 244l8 12 6 6-8-13z"/>
<path class="q36" d="M707 256l8 13 6 6-8-13z"/>
<path class="q34" d="M715 269l9 14 6 6-9-14z"/>
<path class="q32" d="M724 283l8 15 6 6-8-15z"/>
<path class="q30" d="M732 298l8 15 7 6-9-15z"/>
<path class="q28" d="M740 313l9 16 6 6-8-16z"/>
<path class="q25" d="M749 329l8 16 6 6-8-16z"/>
<path class="q23" d="M757 345l8 16 7 5-9-15z"/>
<path class="q21" d="M765 361l9 16 6 5-8-16z"/>
<path class="q19" d="M774 377l8 16 6 4-8-15z"/>
<path class="q18" d="M308 301l9 15 6 5-8-15z"/>
<path class="q15" d="M317 316l8 16 6 4-8-15z"/>
<path class="q13" d="M325 332l9 14 6 3-9-13z"/>
<path class="q11" d="M334 346l8 14 6 2-8-13z"/>
<path class="q10" d="M342 360l8 13 6 1-8-12z"/>
<path class="q8" d="M350 373l9 11 6 1-9-11z"/>
<path class="q7" d="M359 384l8 10 6 0-8-9z"/>
<path class="q5" d="M367 394l8 9 6-1-8-8z"/>
<path class="q4" d="M375 403l9 8 8 5 6-3-8-5-9-6z"/>
<path class="q3" d="M392 416l8 5 9 2 8 1 8-1 6-8-8 2-8 0-9-1-8-3z"/>
<path class="q4" d="M425 423l9-2 6-9-9 3z"/>
<path class="q5" d="M434 421l8-4 6-10-8 5z"/>
<path class="q6" d="M442 417l8-6 7-10-9 6z"/>
<path class="q7" d="M450 411l9-6 6-12-8 8z"/>
<path class="q9" d="M459 405l8-9 6-11-8 8z"/>
<path class="q10" d="M467 396l8-9 7-12-9 10z"/>
<path class="q12" d="M475 387l9-11 6-12-8 11z"/>
<path class="q14" d="M484 376l8-11 6-13-8 12z"/>
<path class="q16" d="M492 365l9-12 6-13-9 12z"/>
<path class="q19" d="M501 353l8-13 6-13-8 13z"/>
<path class="q21" d="M509 340l8-13 6-12-8 12z"/>
<path class="q23" d="M517 327l9-13 6-12-9 13z"/>
<path class="q26" d="M526 314l8-13 6-12-8 13z"/>
<path class="q28" d="M534 301l8-13 6-12-8 13z"/>
<path class="q30" d="M542 288l9-13 6-11-9 12z"/>
<path class="q33" d="M551 275l8-12 6-11-8 12z"/>
<path class="q35" d="M559 263l8-12 6-9-8 10z"/>
<path class="q37" d="M567 251l9-10 6-9-9 10z"/>
<path class="q38" d="M576 241l8-10 6-8-8 9z"/>
<path class="q40" d="M584 231l8-8 6-7-8 7z"/>
<path class="q41" d="M592 223l9-7 6-6-9 6z"/>
<path class="q43" d="M601 216l8-6 6-5-8 5z"/>
<path class="q44" d="M609 210l8-4 9-3 6-3-8 2-9 3z"/>
<path class="q45" d="M626 203l8-1 8 0 9 3 8 4 6 1-8-5-8-3-9-2-8 0z"/>
<path class="q44" d="M659 209l9 5 6 2-9-6z"/>
<path class="q43" d="M668 214l8 7 6 3-8-8z"/>
<path class="q42" d="M676 221l8 9 6 4-8-10z"/>
<path class="q41" d="M684 230l9 10 6 4-9-10z"/>
<path class="q39" d="M693 240l8 11 6 5-8-12z"/>
<path class="q38" d="M701 251l8 13 6 5-8-13z"/>
<path class="q36" d="M709 264l9 13 6 6-9-14z"/>
<path class="q34" d="M718 277l8 15 6 6-8-15z"/>
<path class="q32" d="M726 292l8 15 6 6-8-15z"/>
<path class="q29" d="M734 307l9 16 6 6-9-16z"/>
<path class="q27" d="M743 323l8 16 6 6-8-16z"/>
<path class="q25" d="M751 339l8 16 6 6-8-16z"/>
<path class="q22" d="M759 355l9 16 6 6-9-16z"/>
<path class="q20" d="M768 371l8 17 6 5-8-16z"/>
<path class="q19" d="M302 295l9 16 6 5-9-15z"/>
<path class="q17" d="M311 311l8 16 6 5-8-16z"/>
<path class="q15" d="M319 327l8 15 7 4-9-14z"/>
<path class="q12" d="M327 342l9 15 6 3-8-14z"/>
<path class="q11" d="M336 357l8 13 6 3-8-13z"/>
<path class="q9" d="M344 370l8 13 7 1-9-11z"/>
<path class="q7" d="M352 383l9 11 6 0-8-10z"/>
<path class="q6" d="M361 394l8 10 6-1-8-9z"/>
<path class="q5" d="M369 404l9 8 6-1-9-8z"/>
<path class="q4" d="M378 412l8 7 6-3-8-5z"/>
<path class="q3" d="M386 419l8 5 9 4 8 2 8 0 9-1 6-8-9 2-8 1-8-1-9-2-8-5z"/>
<path class="q4" d="M428 429l8-3 6-9-8 4z"/>
<path class="q5" d="M436 426l8-5 6-10-8 6z"/>
<path class="q6" d="M444 421l9-6 6-10-9 6z"/>
<path class="q7" d="M453 415l8-8 6-11-8 9z"/>
<path class="q9" d="M461 407l8-8 6-12-8 9z"/>
<path class="q11" d="M469 399l9-10 6-13-9 11z"/>
<path class="q13" d="M478 389l8-11 6-13-8 11z"/>
<path class="q15" d="M486 378l8-12 7-13-9 12z"/>
<path class="q17" d="M494 366l9-13 6-13-8 13z"/>
<path class="q19" d="M503 353l8-13 6-13-8 13z"/>
<path class="q22" d="M511 340l8-13 7-13-9 13z"/>
<path class="q24" d="M519 327l9-13 6-13-8 13z"/>
<path class="q27" d="M528 314l8-14 6-12-8 13z"/>
<path class="q29" d="M536 300l9-13 6-12-9 13z"/>
<path class="q31" d="M545 287l8-13 6-11-8 12z"/>
<path class="q33" d="M553 274l8-12 6-11-8 12z"/>
<path class="q36" d="M561 262l9-11 6-10-9 10z"/>
<path class="q37" d="M570 251l8-11 6-9-8 10z"/>
<path class="q39" d="M578 240l8-9 6-8-8 8z"/>
<path class="q41" d="M586 231l9-8 6-7-9 7z"/>
<path class="q42" d="M595 223l8-7 6-6-8 6z"/>
<path class="q43" d="M603 216l8-5 6-5-8 4z"/>
<path class="q44" d="M611 211l9-4 6-4-9 3z"/>
<path class="q45" d="M620 207l8-2 8 0 9 1 8 3 8 4 7 1-9-5-8-4-9-3-8 0-8 1z"/>
<path class="q44" d="M661 213l9 6 6 2-8-7z"/>
<path class="q43" d="M670 219l8 8 6 3-8-9z"/>
<path class="q42" d="M678 227l8 9 7 4-9-10z"/>
<path class="q41" d="M686 236l9 11 6 4-8-11z"/>
<path class="q39" d="M695 247l8 12 6 5-8-13z"/>
<path class="q37" d="M703 259l9 13 6 5-9-13z"/>
<path class="q35" d="M712 272l8 14 6 6-8-15z"/>
<path class="q33" d="M720 286l8 15 6 6-8-15z"/>
<path class="q31" d="M728 301l9 15 6 7-9-16z"/>
<path class="q29" d="M737 316l8 16 6 7-8-16z"/>
<path class="q26" d="M745 332l8 17 6 6-8-16z"/>
<path class="q24" d="M753 349l9 16 6 6-9-16z"/>
<path class="q21" d="M762 365l8 17 6 6-8-17z"/>
<path class="q21" d="M296 289l9 16 6 6-9-16z"/>
<path class="q18" d="M305 305l8 17 6 5-8-16z"/>
<path class="q16" d="M313 322l8 15 6 5-8-15z"/>
<path class="q14" d="M321 337l9 15 6 5-9-15z"/>
<path class="q12" d="M330 352l8 15 6 3-8-13z"/>
<path class="q10" d="M338 367l8 13 6 3-8-13z"/>
<path class="q8" d="M346 380l9 12 6 2-9-11z"/>
<path class="q7" d="M355 392l8 11 6 1-8-10z"/>
<path class="q5" d="M363 403l8 9 7 0-9-8z"/>
<path class="q4" d="M371 412l9 8 6-1-8-7z"/>
<path class="q3" d="M380 420l8 6 8 5 9 3 6-4-8-2-9-4-8-5z"/>
<path class="q2" d="M405 434l8 1 6-5-8 0z"/>
<path class="q3" d="M413 435l9 0 8-2 6-7-8 3-9 1z"/>
<path class="q4" d="M430 433l8-4 6-8-8 5z"/>
<path class="q5" d="M438 429l9-5 6-9-9 6z"/>
<path class="q6" d="M447 424l8-7 6-10-8 8z"/>
<path class="q8" d="M455 417l8-8 6-10-8 8z"/>
<path class="q10" d="M463 409l9-9 6-11-9 10z"/>
<path class="q11" d="M472 400l8-10 6-12-8 11z"/>
<path class="q13" d="M480 390l8-12 6-12-8 12z"/>
<path class="q16" d="M488 378l9-12 6-13-9 13z"/>
<path class="q18" d="M497 366l8-13 6-13-8 13z"/>
<path class="q20" d="M505 353l8-13 6-13-8 13z"/>
<path class="q23" d="M513 340l9-13 6-13-9 13z"/>
<path class="q25" d="M522 327l8-14 6-13-8 14z"/>
<path class="q27" d="M530 313l8-13 7-13-9 13z"/>
<path class="q30" d="M538 300l9-14 6-12-8 13z"/>
<path class="q32" d="M547 286l8-12 6-12-8 12z"/>
<path class="q34" d="M555 274l8-12 7-11-9 11z"/>
<path class="q36" d="M563 262l9-11 6-11-8 11z"/>
<path class="q38" d="M572 251l8-10 6-10-8 9z"/>
<path class="q40" d="M580 241l9-9 6-9-9 8z"/>
<path class="q41" d="M589 232l8-8 6-8-8 7z"/>
<path class="q43" d="M597 224l8-6 6-7-8 5z"/>
<path class="q44" d="M605 218l9-5 6-6-9 4z"/>
<path class="q45" d="M614 213l8-3 8-2 9 0 6-2-9-1-8 0-8 2z"/>
<path class="q46" d="M639 208l8 2 6-1-8-3z"/>
<path class="q45" d="M647 210l8 3 9 6 6 0-9-6-8-4z"/>
<path class="q44" d="M664 219l8 6 6 2-8-8z"/>
<path class="q43" d="M672 225l8 9 6 2-8-9z"/>
<path class="q42" d="M680 234l9 9 6 4-9-11z"/>
<path class="q40" d="M689 243l8 12 6 4-8-12z"/>
<path class="q38" d="M697 255l8 12 7 5-9-13z"/>
<path class="q37" d="M705 267l9 13 6 6-8-14z"/>
<path class="q35" d="M714 280l8 15 6 6-8-15z"/>
<path class="q32" d="M722 295l8 15 7 6-9-15z"/>
<path class="q30" d="M730 310l9 16 6 6-8-16z"/>
<path class="q28" d="M739 326l8 17 6 6-8-17z"/>
<path class="q25" d="M747 343l9 16 6 6-9-16z"/>
<path class="q23" d="M756 359l8 17 6 6-8-17z"/>
<path class="q22" d="M290 282l9 17 6 6-9-16z"/>
<path class="q20" d="M299 299l8 17 6 6-8-17z"/>
<path class="q17" d="M307 316l8 16 6 5-8-15z"/>
<path class="q15" d="M315 332l9 15 6 5-9-15z"/>
<path class="q13" d="M324 347l8 15 6 5-8-15z"/>
<path class="q11" d="M332 362l8 14 6 4-8-13z"/>
<path class="q9" d="M340 376l9 13 6 3-9-12z"/>
<path class="q7" d="M349 389l8 12 6 2-8-11z"/>
<path class="q6" d="M357 401l8 10 6 1-8-9z"/>
<path class="q5" d="M365 411l9 9 6 0-9-8z"/>
<path class="q4" d="M374 420l8 7 6-1-8-6z"/>
<path class="q3" d="M382 427l8 6 9 4 6-3-9-3-8-5z"/>
<path class="q2" d="M399 437l8 2 8 1 7-5-9 0-8-1z"/>
<path class="q3" d="M415 440l9-1 8-2 6-8-8 4-8 2z"/>
<path class="q4" d="M432 437l9-5 6-8-9 5z"/>
<path class="q5" d="M441 432l8-6 6-9-8 7z"/>
<path class="q7" d="M449 426l8-7 6-10-8 8z"/>
<path class="q8" d="M457 419l9-8 6-11-9 9z"/>
<path class="q10" d="M466 411l8-10 6-11-8 10z"/>
<path class="q12" d="M474 401l8-11 6-12-8 12z"/>
<path class="q14" d="M482 390l9-12 6-12-9 12z"/>
<path class="q16" d="M491 378l8-12 6-13-8 13z"/>
<path class="q19" d="M499 366l8-13 6-13-8 13z"/>
<path class="q21" d="M507 353l9-13 6-13-9 13z"/>
<path class="q24" d="M516 340l8-14 6-13-8 14z"/>
<path class="q26" d="M524 326l8-14 6-12-8 13z"/>
<path class="q28" d="M532 312l9-13 6-13-9 14z"/>
<path class="q31" d="M541 299l8-13 6-12-8 12z"/>
<path class="q33" d="M549 286l8-12 6-12-8 12z"/>
<path class="q35" d="M557 274l9-12 6-11-9 11z"/>
<path class="q37" d="M566 262l8-11 6-10-8 10z"/>
<path class="q39" d="M574 251l8-10 7-9-9 9z"/>
<path class="q41" d="M582 241l9-8 6-9-8 8z"/>
<path class="q42" d="M591 233l8-7 6-8-8 6z"/>
<path class="q43" d="M599 226l8-6 7-7-9 5z"/>
<path class="q44" d="M607 220l9-5 6-5-8 3z"/>
<path class="q45" d="M616 215l8-2 9-1 6-4-9 0-8 2z"/>
<path class="q46" d="M633 212l8 1 8 2 6-2-8-3-8-2z"/>
<path class="q45" d="M649 215l9 4 8 6 6 0-8-6-9-6z"/>
<path class="q44" d="M666 225l8 7 6 2-8-9z"/>
<path class="q43" d="M674 232l9 9 6 2-9-9z"/>
<path class="q41" d="M683 241l8 10 6 4-8-12z"/>
<path class="q40" d="M691 251l8 12 6 4-8-12z"/>
<path class="q38" d="M699 263l9 13 6 4-9-13z"/>
<path class="q36" d="M708 276l8 14 6 5-8-15z"/>
<path class="q34" d="M716 290l8 15 6 5-8-15z"/>
<path class="q32" d="M724 305l9 15 6 6-9-16z"/>
<path class="q29" d="M733 320l8 16 6 7-8-17z"/>
<path class="q27" d="M741 336l8 17 7 6-9-16z"/>
<path class="q24" d="M749 353l9 17 6 6-8-17z"/>
<path class="q24" d="M284 276l8 17 7 6-9-17z"/>
<path class="q21" d="M292 293l9 16 6 7-8-17z"/>
<path class="q19" d="M301 309l8 17 6 6-8-16z"/>
<path class="q16" d="M309 326l9 16 6 5-9-15z"/>
<path class="q14" d="M318 342l8 15 6 5-8-15z"/>
<path class="q12" d="M326 357l8 15 6 4-8-14z"/>
<path class="q10" d="M334 372l9 13 6 4-9-13z"/>
<path class="q8" d="M343 385l8 12 6 4-8-12z"/>
<path class="q7" d="M351 397l8 12 6 2-8-10z"/>
<path class="q5" d="M359 409l9 9 6 2-9-9z"/>
<path class="q4" d="M368 418l8 9 6 0-8-7z"/>
<path class="q3" d="M376 427l8 6 9 6 6-2-9-4-8-6z"/>
<path class="q2" d="M393 439l8 3 8 2 6-4-8-1-8-2z"/>
<path class="q3" d="M409 444l9 0 8-2 6-5-8 2-9 1z"/>
<path class="q4" d="M426 442l8-3 7-7-9 5z"/>
<path class="q5" d="M434 439l9-5 6-8-8 6z"/>
<path class="q6" d="M443 434l8-6 6-9-8 7z"/>
<path class="q7" d="M451 428l8-8 7-9-9 8z"/>
<path class="q9" d="M459 420l9-9 6-10-8 10z"/>
<path class="q11" d="M468 411l8-10 6-11-8 11z"/>
<path class="q13" d="M476 401l9-11 6-12-9 12z"/>
<path class="q15" d="M485 390l8-12 6-12-8 12z"/>
<path class="q17" d="M493 378l8-12 6-13-8 13z"/>
<path class="q20" d="M501 366l9-14 6-12-9 13z"/>
<path class="q22" d="M510 352l8-13 6-13-8 14z"/>
<path class="q24" d="M518 339l8-14 6-13-8 14z"/>
<path class="q27" d="M526 325l9-13 6-13-9 13z"/>
<path class="q29" d="M535 312l8-13 6-13-8 13z"/>
<path class="q32" d="M543 299l8-13 6-12-8 12z"/>
<path class="q34" d="M551 286l9-12 6-12-9 12z"/>
<path class="q36" d="M560 274l8-12 6-11-8 11z"/>
<path class="q38" d="M568 262l8-10 6-11-8 10z"/>
<path class="q40" d="M576 252l9-9 6-10-9 8z"/>
<path class="q41" d="M585 243l8-8 6-9-8 7z"/>
<path class="q43" d="M593 235l8-7 6-8-8 6z"/>
<path class="q44" d="M601 228l9-5 6-8-9 5z"/>
<path class="q45" d="M610 223l8-4 8-2 7-5-9 1-8 2z"/>
<path class="q46" d="M626 217l9 0 8 1 6-3-8-2-8-1z"/>
<path class="q45" d="M643 218l9 3 8 5 6-1-8-6-9-4z"/>
<path class="q44" d="M660 226l8 6 6 0-8-7z"/>
<path class="q43" d="M668 232l9 8 6 1-9-9z"/>
<path class="q42" d="M677 240l8 9 6 2-8-10z"/>
<path class="q41" d="M685 249l8 11 6 3-8-12z"/>
<path class="q39" d="M693 260l9 12 6 4-9-13z"/>
<path class="q37" d="M702 272l8 13 6 5-8-14z"/>
<path class="q35" d="M710 285l8 15 6 5-8-15z"/>
<path class="q33" d="M718 300l9 15 6 5-9-15z"/>
<path class="q31" d="M727 315l8 15 6 6-8-16z"/>
<path class="q28" d="M735 330l8 17 6 6-8-17z"/>
<path class="q26" d="M743 347l9 16 6 7-9-17z"/>
<path class="q25" d="M278 270l8 17 6 6-8-17z"/>
<path class="q23" d="M286 287l9 16 6 6-9-16z"/>
<path class="q20" d="M295 303l8 17 6 6-8-17z"/>
<path class="q18" d="M303 320l8 16 7 6-9-16z"/>
<path class="q16" d="M311 336l9 15 6 6-8-15z"/>
<path class="q13" d="M320 351l8 15 6 6-8-15z"/>
<path class="q11" d="M328 366l8 14 7 5-9-13z"/>
<path class="q10" d="M336 380l9 13 6 4-8-12z"/>
<path class="q8" d="M345 393l8 12 6 4-8-12z"/>
<path class="q6" d="M353 405l9 11 6 2-9-9z"/>
<path class="q5" d="M362 416l8 9 6 2-8-9z"/>
<path class="q4" d="M370 425l8 8 6 0-8-6z"/>
<path class="q3" d="M378 433l9 6 8 4 6-1-8-3-9-6z"/>
<path class="q2" d="M395 443l8 3 6-2-8-2z"/>
<path class="q3" d="M403 446l9 1 8 0 8-2 6-6-8 3-8 2-9 0z"/>
<path class="q4" d="M428 445l9-4 6-7-9 5z"/>
<path class="q5" d="M437 441l8-5 6-8-8 6z"/>
<path class="q7" d="M445 436l8-7 6-9-8 8z"/>
<path class="q8" d="M453 429l9-8 6-10-9 9z"/>
<path class="q10" d="M462 421l8-9 6-11-8 10z"/>
<path class="q12" d="M470 412l8-11 7-11-9 11z"/>
<path class="q14" d="M478 401l9-11 6-12-8 12z"/>
<path class="q16" d="M487 390l8-12 6-12-8 12z"/>
<path class="q18" d="M495 378l8-13 7-13-9 14z"/>
<path class="q21" d="M503 365l9-13 6-13-8 13z"/>
<path class="q23" d="M512 352l8-14 6-13-8 14z"/>
<path class="q25" d="M520 338l9-13 6-13-9 13z"/>
<path class="q28" d="M529 325l8-13 6-13-8 13z"/>
<path class="q30" d="M537 312l8-13 6-13-8 13z"/>
<path class="q32" d="M545 299l9-13 6-12-9 12z"/>
<path class="q35" d="M554 286l8-12 6-12-8 12z"/>
<path class="q37" d="M562 274l8-11 6-11-8 10z"/>
<path class="q38" d="M570 263l9-10 6-10-9 9z"/>
<path class="q40" d="M579 253l8-8 6-10-8 8z"/>
<path class="q42" d="M587 245l8-8 6-9-8 7z"/>
<path class="q43" d="M595 237l9-6 6-8-9 5z"/>
<path class="q44" d="M604 231l8-5 6-7-8 4z"/>
<path class="q45" d="M612 226l8-3 9-1 6-5-9 0-8 2z"/>
<path class="q46" d="M629 222l8 0 6-4-8-1z"/>
<path class="q45" d="M637 222l8 2 9 4 8 5 6-1-8-6-8-5-9-3z"/>
<path class="q44" d="M662 233l8 7 7 0-9-8z"/>
<path class="q43" d="M670 240l9 8 6 1-8-9z"/>
<path class="q41" d="M679 248l8 10 6 2-8-11z"/>
<path class="q40" d="M687 258l9 11 6 3-9-12z"/>
<path class="q38" d="M696 269l8 13 6 3-8-13z"/>
<path class="q36" d="M704 282l8 13 6 5-8-15z"/>
<path class="q34" d="M712 295l9 15 6 5-9-15z"/>
<path class="q32" d="M721 310l8 15 6 5-8-15z"/>
<path class="q30" d="M729 325l8 16 6 6-8-17z"/>
<path class="q27" d="M737 341l9 16 6 6-9-16z"/>
<path class="q27" d="M272 264l8 17 6 6-8-17z"/>
<path class="q24" d="M280 281l9 16 6 6-9-16z"/>
<path class="q22" d="M289 297l8 16 6 7-8-17z"/>
<path class="q19" d="M297 313l8 16 6 7-8-16z"/>
<path class="q17" d="M305 329l9 16 6 6-9-15z"/>
<path class="q15" d="M314 345l8 15 6 6-8-15z"/>
<path class="q13" d="M322 360l8 15 6 5-8-14z"/>
<path class="q11" d="M330 375l9 13 6 5-9-13z"/>
<path class="q9" d="M339 388l8 13 6 4-8-12z"/>
<path class="q7" d="M347 401l8 11 7 4-9-11z"/>
<path class="q6" d="M355 412l9 10 6 3-8-9z"/>
<path class="q5" d="M364 422l8 9 6 2-8-8z"/>
<path class="q4" d="M372 431l8 7 7 1-9-6z"/>
<path class="q3" d="M380 438l9 5 8 4 9 3 8 0 8-1 6-4-8 2-8 0-9-1-8-3-8-4z"/>
<path class="q4" d="M422 449l9-3 6-5-9 4z"/>
<path class="q5" d="M431 446l8-4 6-6-8 5z"/>
<path class="q6" d="M439 442l8-6 6-7-8 7z"/>
<path class="q7" d="M447 436l9-7 6-8-9 8z"/>
<path class="q9" d="M456 429l8-8 6-9-8 9z"/>
<path class="q11" d="M464 421l8-10 6-10-8 11z"/>
<path class="q12" d="M472 411l9-10 6-11-9 11z"/>
<path class="q15" d="M481 401l8-12 6-11-8 12z"/>
<path class="q17" d="M489 389l8-12 6-12-8 13z"/>
<path class="q19" d="M497 377l9-13 6-12-9 13z"/>
<path class="q21" d="M506 364l8-13 6-13-8 14z"/>
<path class="q24" d="M514 351l8-13 7-13-9 13z"/>
<path class="q26" d="M522 338l9-13 6-13-8 13z"/>
<path class="q29" d="M531 325l8-13 6-13-8 13z"/>
<path class="q31" d="M539 312l8-13 7-13-9 13z"/>
<path class="q33" d="M547 299l9-12 6-13-8 12z"/>
<path class="q35" d="M556 287l8-11 6-13-8 11z"/>
<path class="q37" d="M564 276l9-11 6-12-9 10z"/>
<path class="q39" d="M573 265l8-9 6-11-8 8z"/>
<path class="q41" d="M581 256l8-9 6-10-8 8z"/>
<path class="q42" d="M589 247l9-6 6-10-9 6z"/>
<path class="q43" d="M598 241l8-6 6-9-8 5z"/>
<path class="q44" d="M606 235l8-4 6-8-8 3z"/>
<path class="q45" d="M614 231l9-2 8-1 8 1 9 2 8 5 6-3-8-5-9-4-8-2-8 0-9 1z"/>
<path class="q44" d="M656 236l8 5 6-1-8-7z"/>
<path class="q43" d="M664 241l9 8 6-1-9-8z"/>
<path class="q42" d="M673 249l8 9 6 0-8-10z"/>
<path class="q41" d="M681 258l8 10 7 1-9-11z"/>
<path class="q39" d="M689 268l9 11 6 3-8-13z"/>
<path class="q37" d="M698 279l8 13 6 3-8-13z"/>
<path class="q36" d="M706 292l8 14 7 4-9-15z"/>
<path class="q33" d="M714 306l9 14 6 5-8-15z"/>
<path class="q31" d="M723 320l8 16 6 5-8-16z"/>
<path class="q29" d="M731 336l9 15 6 6-9-16z"/>
<path class="q28" d="M266 259l8 16 6 6-8-17z"/>
<path class="q26" d="M274 275l9 16 6 6-9-16z"/>
<path class="q23" d="M283 291l8 16 6 6-8-16z"/>
<path class="q21" d="M291 307l8 16 6 6-8-16z"/>
<path class="q19" d="M299 323l9 16 6 6-9-16z"/>
<path class="q16" d="M308 339l8 15 6 6-8-15z"/>
<path class="q14" d="M316 354l8 15 6 6-8-15z"/>
<path class="q12" d="M324 369l9 14 6 5-9-13z"/>
<path class="q10" d="M333 383l8 13 6 5-8-13z"/>
<path class="q9" d="M341 396l8 12 6 4-8-11z"/>
<path class="q7" d="M349 408l9 10 6 4-9-10z"/>
<path class="q6" d="M358 418l8 10 6 3-8-9z"/>
<path class="q5" d="M366 428l8 8 6 2-8-7z"/>
<path class="q4" d="M374 436l9 6 6 1-9-5z"/>
<path class="q3" d="M383 442l8 5 8 3 9 2 8 0 6-3-8 1-8 0-9-3-8-4z"/>
<path class="q4" d="M416 452l8-2 9-3 6-5-8 4-9 3z"/>
<path class="q5" d="M433 447l8-5 6-6-8 6z"/>
<path class="q7" d="M441 442l9-6 6-7-9 7z"/>
<path class="q8" d="M450 436l8-7 6-8-8 8z"/>
<path class="q10" d="M458 429l8-9 6-9-8 10z"/>
<path class="q11" d="M466 420l9-10 6-9-9 10z"/>
<path class="q13" d="M475 410l8-10 6-11-8 12z"/>
<path class="q15" d="M483 400l8-12 6-11-8 12z"/>
<path class="q18" d="M491 388l9-12 6-12-9 13z"/>
<path class="q20" d="M500 376l8-13 6-12-8 13z"/>
<path class="q22" d="M508 363l8-13 6-12-8 13z"/>
<path class="q25" d="M516 350l9-13 6-12-9 13z"/>
<path class="q27" d="M525 337l8-12 6-13-8 13z"/>
<path class="q29" d="M533 325l8-13 6-13-8 13z"/>
<path class="q32" d="M541 312l9-12 6-13-9 12z"/>
<path class="q34" d="M550 300l8-12 6-12-8 11z"/>
<path class="q36" d="M558 288l8-11 7-12-9 11z"/>
<path class="q38" d="M566 277l9-10 6-11-8 9z"/>
<path class="q39" d="M575 267l8-8 6-12-8 9z"/>
<path class="q41" d="M583 259l8-8 7-10-9 6z"/>
<path class="q42" d="M591 251l9-6 6-10-8 6z"/>
<path class="q43" d="M600 245l8-5 6-9-8 4z"/>
<path class="q44" d="M608 240l9-3 6-8-9 2z"/>
<path class="q45" d="M617 237l8-2 8 0 9 1 8 3 6-3-8-5-9-2-8-1-8 1z"/>
<path class="q44" d="M650 239l8 5 9 6 6-1-9-8-8-5z"/>
<path class="q43" d="M667 250l8 8 6 0-8-9z"/>
<path class="q41" d="M675 258l8 9 6 1-8-10z"/>
<path class="q40" d="M683 267l9 11 6 1-9-11z"/>
<path class="q38" d="M692 278l8 12 6 2-8-13z"/>
<path class="q37" d="M700 290l8 13 6 3-8-14z"/>
<path class="q35" d="M708 303l9 13 6 4-9-14z"/>
<path class="q33" d="M717 316l8 15 6 5-8-16z"/>
<path class="q30" d="M725 331l8 15 7 5-9-15z"/>
<path class="q29" d="M260 255l8 15 6 5-8-16z"/>
<path class="q27" d="M268 270l8 16 7 5-9-16z"/>
<path class="q25" d="M276 286l9 15 6 6-8-16z"/>
<path class="q23" d="M285 301l8 16 6 6-8-16z"/>
<path class="q20" d="M293 317l8 16 7 6-9-16z"/>
<path class="q18" d="M301 333l9 15 6 6-8-15z"/>
<path class="q16" d="M310 348l8 15 6 6-8-15z"/>
<path class="q14" d="M318 363l9 14 6 6-9-14z"/>
<path class="q12" d="M327 377l8 13 6 6-8-13z"/>
<path class="q10" d="M335 390l8 13 6 5-8-12z"/>
<path class="q8" d="M343 403l9 11 6 4-9-10z"/>
<path class="q7" d="M352 414l8 10 6 4-8-10z"/>
<path class="q6" d="M360 424l8 8 6 4-8-8z"/>
<path class="q5" d="M368 432l9 8 6 2-9-6z"/>
<path class="q4" d="M377 440l8 5 8 5 6 0-8-3-8-5z"/>
<path class="q3" d="M393 450l9 2 6 0-9-2z"/>
<path class="q4" d="M402 452l8 1 8 0 9-2 6-4-9 3-8 2-8 0z"/>
<path class="q5" d="M427 451l8-4 6-5-8 5z"/>
<path class="q6" d="M435 447l8-5 7-6-9 6z"/>
<path class="q7" d="M443 442l9-6 6-7-8 7z"/>
<path class="q9" d="M452 436l8-8 6-8-8 9z"/>
<path class="q11" d="M460 428l8-9 7-9-9 10z"/>
<path class="q12" d="M468 419l9-10 6-9-8 10z"/>
<path class="q14" d="M477 409l8-11 6-10-8 12z"/>
<path class="q16" d="M485 398l9-11 6-11-9 12z"/>
<path class="q19" d="M494 387l8-12 6-12-8 13z"/>
<path class="q21" d="M502 375l8-12 6-13-8 13z"/>
<path class="q23" d="M510 363l9-13 6-13-9 13z"/>
<path class="q25" d="M519 350l8-13 6-12-8 12z"/>
<path class="q28" d="M527 337l8-12 6-13-8 13z"/>
<path class="q30" d="M535 325l9-12 6-13-9 12z"/>
<path class="q32" d="M544 313l8-12 6-13-8 12z"/>
<path class="q34" d="M552 301l8-11 6-13-8 11z"/>
<path class="q36" d="M560 290l9-10 6-13-9 10z"/>
<path class="q38" d="M569 280l8-9 6-12-8 8z"/>
<path class="q40" d="M577 271l8-9 6-11-8 8z"/>
<path class="q41" d="M585 262l9-6 6-11-9 6z"/>
<path class="q42" d="M594 256l8-6 6-10-8 5z"/>
<path class="q43" d="M602 250l8-4 7-9-9 3z"/>
<path class="q44" d="M610 246l9-3 8-1 6-7-8 0-8 2z"/>
<path class="q45" d="M627 242l8 1 7-7-9-1z"/>
<path class="q44" d="M635 243l9 2 8 3 9 5 6-3-9-6-8-5-8-3z"/>
<path class="q43" d="M661 253l8 7 6-2-8-8z"/>
<path class="q42" d="M669 260l8 8 6-1-8-9z"/>
<path class="q41" d="M677 268l9 10 6 0-9-11z"/>
<path class="q39" d="M686 278l8 11 6 1-8-12z"/>
<path class="q37" d="M694 289l8 12 6 2-8-13z"/>
<path class="q36" d="M702 301l9 13 6 2-9-13z"/>
<path class="q34" d="M711 314l8 13 6 4-8-15z"/>
<path class="q32" d="M719 327l8 15 6 4-8-15z"/>
<path class="q31" d="M254 252l8 14 6 4-8-15z"/>
<path class="q28" d="M262 266l8 15 6 5-8-16z"/>
<path class="q26" d="M270 281l9 15 6 5-9-15z"/>
<path class="q24" d="M279 296l8 15 6 6-8-16z"/>
<path class="q22" d="M287 311l8 16 6 6-8-16z"/>
<path class="q20" d="M295 327l9 15 6 6-9-15z"/>
<path class="q17" d="M304 342l8 14 6 7-8-15z"/>
<path class="q15" d="M312 356l8 15 7 6-9-14z"/>
<path class="q13" d="M320 371l9 13 6 6-8-13z"/>
<path class="q12" d="M329 384l8 13 6 6-8-13z"/>
<path class="q10" d="M337 397l9 11 6 6-9-11z"/>
<path class="q8" d="M346 408l8 11 6 5-8-10z"/>
<path class="q7" d="M354 419l8 9 6 4-8-8z"/>
<path class="q6" d="M362 428l9 8 6 4-9-8z"/>
<path class="q5" d="M371 436l8 7 6 2-8-5z"/>
<path class="q4" d="M379 443l8 5 9 3 8 3 8 0 9-1 6-2-9 2-8 0-8-1-9-2-8-5z"/>
<path class="q5" d="M421 453l8-3 6-3-8 4z"/>
<path class="q6" d="M429 450l8-4 6-4-8 5z"/>
<path class="q7" d="M437 446l9-5 6-5-9 6z"/>
<path class="q8" d="M446 441l8-7 6-6-8 8z"/>
<path class="q10" d="M454 434l8-7 6-8-8 9z"/>
<path class="q12" d="M462 427l9-9 6-9-9 10z"/>
<path class="q13" d="M471 418l8-10 6-10-8 11z"/>
<path class="q15" d="M479 408l8-11 7-10-9 11z"/>
<path class="q17" d="M487 397l9-11 6-11-8 12z"/>
<path class="q20" d="M496 386l8-12 6-11-8 12z"/>
<path class="q22" d="M504 374l8-12 7-12-9 13z"/>
<path class="q24" d="M512 362l9-12 6-13-8 13z"/>
<path class="q26" d="M521 350l8-12 6-13-8 12z"/>
<path class="q28" d="M529 338l9-12 6-13-9 12z"/>
<path class="q31" d="M538 326l8-12 6-13-8 12z"/>
<path class="q33" d="M546 314l8-11 6-13-8 11z"/>
<path class="q35" d="M554 303l9-10 6-13-9 10z"/>
<path class="q36" d="M563 293l8-10 6-12-8 9z"/>
<path class="q38" d="M571 283l8-9 6-12-8 9z"/>
<path class="q40" d="M579 274l9-7 6-11-9 6z"/>
<path class="q41" d="M588 267l8-6 6-11-8 6z"/>
<path class="q42" d="M596 261l8-5 6-10-8 4z"/>
<path class="q43" d="M604 256l9-3 6-10-9 3z"/>
<path class="q44" d="M613 253l8-2 8-1 9 1 8 3 8 4 7-5-9-5-8-3-9-2-8-1-8 1z"/>
<path class="q43" d="M654 258l9 6 6-4-8-7z"/>
<path class="q42" d="M663 264l8 7 6-3-8-8z"/>
<path class="q41" d="M671 271l8 8 7-1-9-10z"/>
<path class="q40" d="M679 279l9 10 6 0-8-11z"/>
<path class="q38" d="M688 289l8 11 6 1-8-12z"/>
<path class="q36" d="M696 300l9 12 6 2-9-13z"/>
<path class="q35" d="M705 312l8 13 6 2-8-13z"/>
<path class="q33" d="M713 325l8 14 6 3-8-15z"/>
<path class="q32" d="M248 249l8 14 6 3-8-14z"/>
<path class="q30" d="M256 263l8 14 6 4-8-15z"/>
<path class="q28" d="M264 277l9 14 6 5-9-15z"/>
<path class="q25" d="M273 291l8 15 6 5-8-15z"/>
<path class="q23" d="M281 306l8 15 6 6-8-16z"/>
<path class="q21" d="M289 321l9 15 6 6-9-15z"/>
<path class="q19" d="M298 336l8 14 6 6-8-14z"/>
<path class="q17" d="M306 350l8 14 6 7-8-15z"/>
<path class="q15" d="M314 364l9 14 6 6-9-13z"/>
<path class="q13" d="M323 378l8 13 6 6-8-13z"/>
<path class="q11" d="M331 391l8 12 7 5-9-11z"/>
<path class="q10" d="M339 403l9 10 6 6-8-11z"/>
<path class="q8" d="M348 413l8 10 6 5-8-9z"/>
<path class="q7" d="M356 423l8 9 7 4-9-8z"/>
<path class="q6" d="M364 432l9 7 6 4-8-7z"/>
<path class="q5" d="M373 439l8 6 9 4 8 3 8 2 9 0 8-2 6-2-8 3-9 1-8 0-8-3-9-3-8-5z"/>
<path class="q6" d="M423 452l8-2 6-4-8 4z"/>
<path class="q7" d="M431 450l9-5 6-4-9 5z"/>
<path class="q8" d="M440 445l8-5 6-6-8 7z"/>
<path class="q9" d="M448 440l8-7 6-6-8 7z"/>
<path class="q11" d="M456 433l9-8 6-7-9 9z"/>
<path class="q13" d="M465 425l8-9 6-8-8 10z"/>
<path class="q14" d="M473 416l8-10 6-9-8 11z"/>
<path class="q16" d="M481 406l9-10 6-10-9 11z"/>
<path class="q18" d="M490 396l8-11 6-11-8 12z"/>
<path class="q20" d="M498 385l8-12 6-11-8 12z"/>
<path class="q23" d="M506 373l9-11 6-12-9 12z"/>
<path class="q25" d="M515 362l8-12 6-12-8 12z"/>
<path class="q27" d="M523 350l8-12 7-12-9 12z"/>
<path class="q29" d="M531 338l9-11 6-13-8 12z"/>
<path class="q31" d="M540 327l8-11 6-13-8 11z"/>
<path class="q33" d="M548 316l8-10 7-13-9 10z"/>
<path class="q35" d="M556 306l9-10 6-13-8 10z"/>
<path class="q37" d="M565 296l8-9 6-13-8 9z"/>
<path class="q38" d="M573 287l9-8 6-12-9 7z"/>
<path class="q40" d="M582 279l8-6 6-12-8 6z"/>
<path class="q41" d="M590 273l8-6 6-11-8 5z"/>
<path class="q42" d="M598 267l9-4 6-10-9 3z"/>
<path class="q43" d="M607 263l8-3 8-1 9 0 8 2 8 3 9 4 6-4-9-6-8-4-8-3-9-1-8 1-8 2z"/>
<path class="q42" d="M657 268l8 6 6-3-8-7z"/>
<path class="q41" d="M665 274l8 8 6-3-8-8z"/>
<path class="q40" d="M673 282l9 8 6-1-9-10z"/>
<path class="q39" d="M682 290l8 10 6 0-8-11z"/>
<path class="q37" d="M690 300l8 11 7 1-9-12z"/>
<path class="q35" d="M698 311l9 12 6 2-8-13z"/>
<path class="q34" d="M707 323l8 13 6 3-8-14z"/>
<path class="q33" d="M241 248l9 12 6 3-8-14z"/>
<path class="q31" d="M250 260l8 14 6 3-8-14z"/>
<path class="q29" d="M258 274l9 14 6 3-9-14z"/>
<path class="q27" d="M267 288l8 14 6 4-8-15z"/>
<path class="q25" d="M275 302l8 14 6 5-8-15z"/>
<path class="q22" d="M283 316l9 14 6 6-9-15z"/>
<path class="q20" d="M292 330l8 14 6 6-8-14z"/>
<path class="q18" d="M300 344l8 14 6 6-8-14z"/>
<path class="q16" d="M308 358l9 14 6 6-9-14z"/>
<path class="q15" d="M317 372l8 12 6 7-8-13z"/>
<path class="q13" d="M325 384l8 12 6 7-8-12z"/>
<path class="q11" d="M333 396l9 12 6 5-9-10z"/>
<path class="q10" d="M342 408l8 10 6 5-8-10z"/>
<path class="q9" d="M350 418l8 9 6 5-8-9z"/>
<path class="q7" d="M358 427l9 8 8 6 6 4-8-6-9-7z"/>
<path class="q6" d="M375 441l8 5 9 4 6 2-8-3-9-4z"/>
<path class="q5" d="M392 450l8 3 8 1 7 0-9 0-8-2z"/>
<path class="q6" d="M408 454l9-1 8-2 6-1-8 2-8 2z"/>
<path class="q7" d="M425 451l9-3 6-3-9 5z"/>
<path class="q8" d="M434 448l8-4 6-4-8 5z"/>
<path class="q9" d="M442 444l8-6 6-5-8 7z"/>
<path class="q10" d="M450 438l9-7 6-6-9 8z"/>
<path class="q12" d="M459 431l8-8 6-7-8 9z"/>
<path class="q14" d="M467 423l8-9 6-8-8 10z"/>
<path class="q15" d="M475 414l9-9 6-9-9 10z"/>
<path class="q17" d="M484 405l8-10 6-10-8 11z"/>
<path class="q19" d="M492 395l8-11 6-11-8 12z"/>
<path class="q21" d="M500 384l9-11 6-11-9 11z"/>
<path class="q23" d="M509 373l8-11 6-12-8 12z"/>
<path class="q26" d="M517 362l8-11 6-13-8 12z"/>
<path class="q28" d="M525 351l9-11 6-13-9 11z"/>
<path class="q30" d="M534 340l8-11 6-13-8 11z"/>
<path class="q32" d="M542 329l8-10 6-13-8 10z"/>
<path class="q33" d="M550 319l9-10 6-13-9 10z"/>
<path class="q35" d="M559 309l8-9 6-13-8 9z"/>
<path class="q37" d="M567 300l8-8 7-13-9 8z"/>
<path class="q38" d="M575 292l9-7 6-12-8 6z"/>
<path class="q39" d="M584 285l8-6 6-12-8 6z"/>
<path class="q41" d="M592 279l9-5 8-3 6-11-8 3-9 4z"/>
<path class="q42" d="M609 271l8-2 9-1 6-9-9 0-8 1z"/>
<path class="q43" d="M626 268l8 1 8 2 6-7-8-3-8-2z"/>
<path class="q42" d="M642 271l9 3 8 5 6-5-8-6-9-4z"/>
<path class="q41" d="M659 279l8 7 6-4-8-8z"/>
<path class="q40" d="M667 286l9 7 6-3-9-8z"/>
<path class="q39" d="M676 293l8 9 6-2-8-10z"/>
<path class="q38" d="M684 302l8 10 6-1-8-11z"/>
<path class="q36" d="M692 312l9 11 6 0-9-12z"/>
<path class="q34" d="M701 323l8 12 6 1-8-13z"/>
<path class="q33" d="M235 248l9 11 6 1-9-12z"/>
<path class="q32" d="M244 259l8 13 6 2-8-14z"/>
<path class="q30" d="M252 272l8 13 7 3-9-14z"/>
<path class="q28" d="M260 285l9 13 6 4-8-14z"/>
<path class="q26" d="M269 298l8 14 6 4-8-14z"/>
<path class="q24" d="M277 312l8 13 7 5-9-14z"/>
<path class="q22" d="M285 325l9 14 6 5-8-14z"/>
<path class="q20" d="M294 339l8 13 6 6-8-14z"/>
<path class="q18" d="M302 352l9 13 6 7-9-14z"/>
<path class="q16" d="M311 365l8 13 6 6-8-12z"/>
<path class="q14" d="M319 378l8 12 6 6-8-12z"/>
<path class="q13" d="M327 390l9 11 6 7-9-12z"/>
<path class="q11" d="M336 401l8 11 6 6-8-10z"/>
<path class="q10" d="M344 412l8 9 6 6-8-9z"/>
<path class="q9" d="M352 421l9 8 6 6-9-8z"/>
<path class="q8" d="M361 429l8 7 6 5-8-6z"/>
<path class="q7" d="M369 436l8 6 9 5 6 3-9-4-8-5z"/>
<path class="q6" d="M386 447l8 3 8 2 9 0 6 1-9 1-8-1-8-3z"/>
<path class="q7" d="M411 452l8 0 8-3 7-1-9 3-8 2z"/>
<path class="q8" d="M427 449l9-3 6-2-8 4z"/>
<path class="q9" d="M436 446l8-5 6-3-8 6z"/>
<path class="q10" d="M444 441l8-5 7-5-9 7z"/>
<path class="q12" d="M452 436l9-7 6-6-8 8z"/>
<path class="q13" d="M461 429l8-8 6-7-8 9z"/>
<path class="q15" d="M469 421l9-9 6-7-9 9z"/>
<path class="q16" d="M478 412l8-9 6-8-8 10z"/>
<path class="q18" d="M486 403l8-10 6-9-8 11z"/>
<path class="q20" d="M494 393l9-10 6-10-9 11z"/>
<path class="q22" d="M503 383l8-10 6-11-8 11z"/>
<path class="q24" d="M511 373l8-11 6-11-8 11z"/>
<path class="q26" d="M519 362l9-10 6-12-9 11z"/>
<path class="q28" d="M528 352l8-11 6-12-8 11z"/>
<path class="q30" d="M536 341l8-10 6-12-8 10z"/>
<path class="q32" d="M544 331l9-9 6-13-9 10z"/>
<path class="q34" d="M553 322l8-9 6-13-8 9z"/>
<path class="q35" d="M561 313l8-8 6-13-8 8z"/>
<path class="q37" d="M569 305l9-7 6-13-9 7z"/>
<path class="q38" d="M578 298l8-7 6-12-8 6z"/>
<path class="q39" d="M586 291l8-5 7-12-9 5z"/>
<path class="q40" d="M594 286l9-4 6-11-8 3z"/>
<path class="q41" d="M603 282l8-3 8-1 7-10-9 1-8 2z"/>
<path class="q42" d="M619 278l9 0 8 1 9 3 6-8-9-3-8-2-8-1z"/>
<path class="q41" d="M645 282l8 4 8 5 6-5-8-7-8-5z"/>
<path class="q40" d="M661 291l9 6 6-4-9-7z"/>
<path class="q39" d="M670 297l8 8 6-3-8-9z"/>
<path class="q38" d="M678 305l8 9 6-2-8-10z"/>
<path class="q36" d="M686 314l9 10 6-1-9-11z"/>
<path class="q35" d="M695 324l8 11 6 0-8-12z"/>
<path class="q34" d="M229 249l9 11 6-1-9-11z"/>
<path class="q32" d="M238 260l8 11 6 1-8-13z"/>
<path class="q31" d="M246 271l8 12 6 2-8-13z"/>
<path class="q29" d="M254 283l9 12 6 3-9-13z"/>
<path class="q27" d="M263 295l8 13 6 4-8-14z"/>
<path class="q25" d="M271 308l8 13 6 4-8-13z"/>
<path class="q23" d="M279 321l9 13 6 5-9-14z"/>
<path class="q21" d="M288 334l8 13 6 5-8-13z"/>
<path class="q19" d="M296 347l8 13 7 5-9-13z"/>
<path class="q18" d="M304 360l9 12 6 6-8-13z"/>
<path class="q16" d="M313 372l8 12 6 6-8-12z"/>
<path class="q14" d="M321 384l8 11 7 6-9-11z"/>
<path class="q13" d="M329 395l9 10 6 7-8-11z"/>
<path class="q11" d="M338 405l8 10 6 6-8-9z"/>
<path class="q10" d="M346 415l9 9 6 5-9-8z"/>
<path class="q9" d="M355 424l8 7 6 5-8-7z"/>
<path class="q8" d="M363 431l8 6 9 6 6 4-9-5-8-6z"/>
<path class="q7" d="M380 443l8 4 8 2 9 2 8 0 6 1-8 0-9 0-8-2-8-3z"/>
<path class="q8" d="M413 451l8-2 9-2 6-1-9 3-8 3z"/>
<path class="q9" d="M430 447l8-3 6-3-8 5z"/>
<path class="q10" d="M438 444l8-5 6-3-8 5z"/>
<path class="q11" d="M446 439l9-6 6-4-9 7z"/>
<path class="q13" d="M455 433l8-7 6-5-8 8z"/>
<path class="q14" d="M463 426l8-7 7-7-9 9z"/>
<path class="q16" d="M471 419l9-8 6-8-8 9z"/>
<path class="q17" d="M480 411l8-9 6-9-8 10z"/>
<path class="q19" d="M488 402l8-9 7-10-9 10z"/>
<path class="q21" d="M496 393l9-10 6-10-8 10z"/>
<path class="q23" d="M505 383l8-10 6-11-8 11z"/>
<path class="q25" d="M513 373l9-10 6-11-9 10z"/>
<path class="q27" d="M522 363l8-10 6-12-8 11z"/>
<path class="q29" d="M530 353l8-9 6-13-8 10z"/>
<path class="q30" d="M538 344l9-9 6-13-9 9z"/>
<path class="q32" d="M547 335l8-9 6-13-8 9z"/>
<path class="q34" d="M555 326l8-8 6-13-8 8z"/>
<path class="q35" d="M563 318l9-8 6-12-9 7z"/>
<path class="q37" d="M572 310l8-6 6-13-8 7z"/>
<path class="q38" d="M580 304l8-5 6-13-8 5z"/>
<path class="q39" d="M588 299l9-5 6-12-9 4z"/>
<path class="q40" d="M597 294l8-3 8-2 6-11-8 1-8 3z"/>
<path class="q41" d="M613 289l9-1 8 1 8 1 9 3 6-7-8-4-9-3-8-1-9 0z"/>
<path class="q40" d="M647 293l8 5 8 5 7-6-9-6-8-5z"/>
<path class="q39" d="M663 303l9 7 6-5-8-8z"/>
<path class="q38" d="M672 310l8 8 6-4-8-9z"/>
<path class="q37" d="M680 318l9 8 6-2-9-10z"/>
<path class="q35" d="M689 326l8 10 6-1-8-11z"/>
<path class="q34" d="M223 252l9 9 6-1-9-11z"/>
<path class="q33" d="M232 261l8 11 6-1-8-11z"/>
<path class="q31" d="M240 272l8 11 6 0-8-12z"/>
<path class="q30" d="M248 283l9 11 6 1-9-12z"/>
<path class="q28" d="M257 294l8 12 6 2-8-13z"/>
<path class="q26" d="M265 306l8 12 6 3-8-13z"/>
<path class="q24" d="M273 318l9 12 6 4-9-13z"/>
<path class="q23" d="M282 330l8 12 6 5-8-13z"/>
<path class="q21" d="M290 342l8 13 6 5-8-13z"/>
<path class="q19" d="M298 355l9 11 6 6-9-12z"/>
<path class="q17" d="M307 366l8 12 6 6-8-12z"/>
<path class="q16" d="M315 378l8 11 6 6-8-11z"/>
<path class="q14" d="M323 389l9 10 6 6-9-10z"/>
<path class="q13" d="M332 399l8 10 6 6-8-10z"/>
<path class="q12" d="M340 409l8 8 7 7-9-9z"/>
<path class="q11" d="M348 417l9 8 6 6-8-7z"/>
<path class="q10" d="M357 425l8 7 6 5-8-6z"/>
<path class="q9" d="M365 432l8 6 9 4 6 5-8-4-9-6z"/>
<path class="q8" d="M382 442l8 3 9 3 8 1 8-1 6 1-8 2-8 0-9-2-8-2z"/>
<path class="q9" d="M415 448l9-1 6 0-9 2z"/>
<path class="q10" d="M424 447l8-3 8-3 6-2-8 5-8 3z"/>
<path class="q11" d="M440 441l9-5 6-3-9 6z"/>
<path class="q13" d="M449 436l8-6 6-4-8 7z"/>
<path class="q14" d="M457 430l8-6 6-5-8 7z"/>
<path class="q15" d="M465 424l9-7 6-6-9 8z"/>
<path class="q17" d="M474 417l8-8 6-7-8 9z"/>
<path class="q18" d="M482 409l8-8 6-8-8 9z"/>
<path class="q20" d="M490 401l9-9 6-9-9 10z"/>
<path class="q22" d="M499 392l8-9 6-10-8 10z"/>
<path class="q24" d="M507 383l8-9 7-11-9 10z"/>
<path class="q25" d="M515 374l9-9 6-12-8 10z"/>
<path class="q27" d="M524 365l8-9 6-12-8 9z"/>
<path class="q29" d="M532 356l8-9 7-12-9 9z"/>
<path class="q31" d="M540 347l9-9 6-12-8 9z"/>
<path class="q32" d="M549 338l8-7 6-13-8 8z"/>
<path class="q34" d="M557 331l9-8 6-13-9 8z"/>
<path class="q35" d="M566 323l8-6 6-13-8 6z"/>
<path class="q36" d="M574 317l8-6 6-12-8 5z"/>
<path class="q37" d="M582 311l9-4 6-13-9 5z"/>
<path class="q38" d="M591 307l8-4 6-12-8 3z"/>
<path class="q39" d="M599 303l8-2 9-2 6-11-9 1-8 2z"/>
<path class="q40" d="M616 299l8 0 8 1 9 2 8 3 6-7-8-5-9-3-8-1-8-1z"/>
<path class="q39" d="M649 305l8 5 6-7-8-5z"/>
<path class="q38" d="M657 310l9 6 8 6 6-4-8-8-9-7z"/>
<path class="q37" d="M674 322l8 8 7-4-9-8z"/>
<path class="q35" d="M682 330l9 9 6-3-8-10z"/>
<path class="q34" d="M217 256l8 8 7-3-9-9z"/>
<path class="q33" d="M225 264l9 9 6-1-8-11z"/>
<path class="q32" d="M234 273l8 10 6 0-8-11z"/>
<path class="q30" d="M242 283l9 11 6 0-9-11z"/>
<path class="q29" d="M251 294l8 11 6 1-8-12z"/>
<path class="q27" d="M259 305l8 11 6 2-8-12z"/>
<path class="q25" d="M267 316l9 11 6 3-9-12z"/>
<path class="q24" d="M276 327l8 12 6 3-8-12z"/>
<path class="q22" d="M284 339l8 11 6 5-8-13z"/>
<path class="q20" d="M292 350l9 11 6 5-9-11z"/>
<path class="q19" d="M301 361l8 11 6 6-8-12z"/>
<path class="q17" d="M309 372l8 11 6 6-8-11z"/>
<path class="q16" d="M317 383l9 10 6 6-9-10z"/>
<path class="q15" d="M326 393l8 9 6 7-8-10z"/>
<path class="q13" d="M334 402l8 9 6 6-8-8z"/>
<path class="q12" d="M342 411l9 8 6 6-9-8z"/>
<path class="q11" d="M351 419l8 7 8 6 6 6-8-6-8-7z"/>
<path class="q10" d="M367 432l9 5 8 4 6 4-8-3-9-4z"/>
<path class="q9" d="M384 441l8 3 9 1 8 1 6 2-8 1-8-1-9-3z"/>
<path class="q10" d="M409 446l8-1 9-1 6 0-8 3-9 1z"/>
<path class="q11" d="M426 444l8-3 6 0-8 3z"/>
<path class="q12" d="M434 441l9-3 6-2-9 5z"/>
<path class="q13" d="M443 438l8-5 6-3-8 6z"/>
<path class="q14" d="M451 433l8-5 6-4-8 6z"/>
<path class="q15" d="M459 428l9-6 6-5-9 7z"/>
<path class="q16" d="M468 422l8-7 6-6-8 8z"/>
<path class="q18" d="M476 415l8-7 6-7-8 8z"/>
<path class="q19" d="M484 408l9-8 6-8-9 9z"/>
<path class="q21" d="M493 400l8-8 6-9-8 9z"/>
<path class="q23" d="M501 392l8-9 6-9-8 9z"/>
<path class="q24" d="M509 383l9-8 6-10-9 9z"/>
<path class="q26" d="M518 375l8-8 6-11-8 9z"/>
<path class="q28" d="M526 367l8-8 6-12-8 9z"/>
<path class="q29" d="M534 359l9-8 6-13-9 9z"/>
<path class="q31" d="M543 351l8-8 6-12-8 7z"/>
<path class="q32" d="M551 343l8-7 7-13-9 8z"/>
<path class="q33" d="M559 336l9-6 6-13-8 6z"/>
<path class="q35" d="M568 330l8-6 6-13-8 6z"/>
<path class="q36" d="M576 324l8-4 7-13-9 4z"/>
<path class="q37" d="M584 320l9-4 8-3 6-12-8 2-8 4z"/>
<path class="q38" d="M601 313l9-2 8-1 6-11-8 0-9 2z"/>
<path class="q39" d="M618 310l8 1 9 1 8 2 6-9-8-3-9-2-8-1z"/>
<path class="q38" d="M643 314l8 4 9 5 6-7-9-6-8-5z"/>
<path class="q37" d="M660 323l8 6 6-7-8-6z"/>
<path class="q36" d="M668 329l8 6 6-5-8-8z"/>
<path class="q35" d="M676 335l9 8 6-4-9-9z"/>
<path class="q34" d="M211 261l8 8 6-5-8-8z"/>
<path class="q33" d="M219 269l9 8 6-4-9-9z"/>
<path class="q32" d="M228 277l8 9 6-3-8-10z"/>
<path class="q30" d="M236 286l8 9 7-1-9-11z"/>
<path class="q29" d="M244 295l9 10 6 0-8-11z"/>
<path class="q28" d="M253 305l8 10 6 1-8-11z"/>
<path class="q26" d="M261 315l8 10 7 2-9-11z"/>
<path class="q25" d="M269 325l9 11 6 3-8-12z"/>
<path class="q23" d="M278 336l8 11 6 3-8-11z"/>
<path class="q22" d="M286 347l9 10 6 4-9-11z"/>
<path class="q20" d="M295 357l8 11 6 4-8-11z"/>
<path class="q19" d="M303 368l8 10 6 5-8-11z"/>
<path class="q17" d="M311 378l9 9 6 6-9-10z"/>
<path class="q16" d="M320 387l8 9 6 6-8-9z"/>
<path class="q15" d="M328 396l8 9 6 6-8-9z"/>
<path class="q14" d="M336 405l9 8 6 6-9-8z"/>
<path class="q13" d="M345 413l8 7 6 6-8-7z"/>
<path class="q12" d="M353 420l8 6 6 6-8-6z"/>
<path class="q11" d="M361 426l9 5 8 5 8 3 6 5-8-3-8-4-9-5z"/>
<path class="q10" d="M386 439l9 2 8 2 6 3-8-1-9-1z"/>
<path class="q11" d="M403 443l8 0 9-1 8-1 6 0-8 3-9 1-8 1z"/>
<path class="q12" d="M428 441l8-3 7 0-9 3z"/>
<path class="q13" d="M436 438l9-4 6-1-8 5z"/>
<path class="q14" d="M445 434l8-4 6-2-8 5z"/>
<path class="q15" d="M453 430l8-5 7-3-9 6z"/>
<path class="q16" d="M461 425l9-6 6-4-8 7z"/>
<path class="q18" d="M470 419l8-6 6-5-8 7z"/>
<path class="q19" d="M478 413l9-7 6-6-9 8z"/>
<path class="q20" d="M487 406l8-7 6-7-8 8z"/>
<path class="q22" d="M495 399l8-7 6-9-8 9z"/>
<path class="q23" d="M503 392l9-8 6-9-9 8z"/>
<path class="q25" d="M512 384l8-7 6-10-8 8z"/>
<path class="q26" d="M520 377l8-7 6-11-8 8z"/>
<path class="q28" d="M528 370l9-8 6-11-9 8z"/>
<path class="q29" d="M537 362l8-7 6-12-8 8z"/>
<path class="q31" d="M545 355l8-6 6-13-8 7z"/>
<path class="q32" d="M553 349l9-6 6-13-9 6z"/>
<path class="q33" d="M562 343l8-6 6-13-8 6z"/>
<path class="q34" d="M570 337l8-4 6-13-8 4z"/>
<path class="q35" d="M578 333l9-4 6-13-9 4z"/>
<path class="q36" d="M587 329l8-3 6-13-8 3z"/>
<path class="q37" d="M595 326l8-3 9-1 8 0 6-11-8-1-8 1-9 2z"/>
<path class="q38" d="M620 322l8 1 9 2 6-11-8-2-9-1z"/>
<path class="q37" d="M637 325l8 2 9 4 8 5 6-7-8-6-9-5-8-4z"/>
<path class="q36" d="M662 336l8 6 6-7-8-6z"/>
<path class="q35" d="M670 342l9 6 6-5-9-8z"/>
<path class="q34" d="M205 268l8 6 6-5-8-8z"/>
<path class="q33" d="M213 274l9 7 6-4-9-8z"/>
<path class="q32" d="M222 281l8 8 6-3-8-9z"/>
<path class="q31" d="M230 289l8 8 6-2-8-9z"/>
<path class="q29" d="M238 297l9 9 6-1-9-10z"/>
<path class="q28" d="M247 306l8 9 6 0-8-10z"/>
<path class="q27" d="M255 315l8 10 6 0-8-10z"/>
<path class="q25" d="M263 325l9 9 6 2-9-11z"/>
<path class="q24" d="M272 334l8 10 6 3-8-11z"/>
<path class="q23" d="M280 344l8 10 7 3-9-10z"/>
<path class="q21" d="M288 354l9 10 6 4-8-11z"/>
<path class="q20" d="M297 364l8 9 6 5-8-10z"/>
<path class="q19" d="M305 373l8 9 7 5-9-9z"/>
<path class="q18" d="M313 382l9 9 6 5-8-9z"/>
<path class="q16" d="M322 391l8 8 6 6-8-9z"/>
<path class="q15" d="M330 399l9 7 6 7-9-8z"/>
<path class="q14" d="M339 406l8 7 8 7 6 6-8-6-8-7z"/>
<path class="q13" d="M355 420l9 5 6 6-9-5z"/>
<path class="q12" d="M364 425l8 5 8 3 9 3 8 2 8 1 9 0 8 0 6 2-8 1-9 1-8 0-8-2-9-2-8-3-8-5z"/>
<path class="q13" d="M422 439l8-2 9-3 6 0-9 4-8 3z"/>
<path class="q14" d="M439 434l8-3 6-1-8 4z"/>
<path class="q15" d="M447 431l8-4 6-2-8 5z"/>
<path class="q16" d="M455 427l9-4 6-4-9 6z"/>
<path class="q17" d="M464 423l8-6 6-4-8 6z"/>
<path class="q19" d="M472 417l8-5 7-6-9 7z"/>
<path class="q20" d="M480 412l9-6 6-7-8 7z"/>
<path class="q21" d="M489 406l8-7 6-7-8 7z"/>
<path class="q23" d="M497 399l9-6 6-9-9 8z"/>
<path class="q24" d="M506 393l8-7 6-9-8 7z"/>
<path class="q25" d="M514 386l8-6 6-10-8 7z"/>
<path class="q27" d="M522 380l9-7 6-11-9 8z"/>
<path class="q28" d="M531 373l8-6 6-12-8 7z"/>
<path class="q29" d="M539 367l8-6 6-12-8 6z"/>
<path class="q30" d="M547 361l9-6 6-12-9 6z"/>
<path class="q32" d="M556 355l8-5 6-13-8 6z"/>
<path class="q33" d="M564 350l8-4 6-13-8 4z"/>
<path class="q34" d="M572 346l9-4 8-3 6-13-8 3-9 4z"/>
<path class="q35" d="M589 339l8-3 6-13-8 3z"/>
<path class="q36" d="M597 336l9-1 8-1 8 0 9 2 8 2 8 3 9 4 6-9-8-5-9-4-8-2-9-2-8-1-8 0-9 1z"/>
<path class="q35" d="M656 345l8 4 8 6 7-7-9-6-8-6z"/>
<path class="q33" d="M199 276l8 5 6-7-8-6z"/>
<path class="q32" d="M207 281l9 6 8 7 6-5-8-8-9-7z"/>
<path class="q31" d="M224 294l8 7 6-4-8-8z"/>
<path class="q30" d="M232 301l9 8 6-3-9-9z"/>
<path class="q28" d="M241 309l8 8 6-2-8-9z"/>
<path class="q27" d="M249 317l8 8 6 0-8-10z"/>
<path class="q26" d="M257 325l9 9 6 0-9-9z"/>
<path class="q25" d="M266 334l8 9 6 1-8-10z"/>
<path class="q24" d="M274 343l8 9 6 2-8-10z"/>
<path class="q22" d="M282 352l9 8 6 4-9-10z"/>
<path class="q21" d="M291 360l8 9 6 4-8-9z"/>
<path class="q20" d="M299 369l8 8 6 5-8-9z"/>
<path class="q19" d="M307 377l9 9 6 5-9-9z"/>
<path class="q18" d="M316 386l8 7 6 6-8-8z"/>
<path class="q17" d="M324 393l8 8 7 5-9-7z"/>
<path class="q16" d="M332 401l9 6 6 6-8-7z"/>
<path class="q15" d="M341 407l8 6 6 7-8-7z"/>
<path class="q14" d="M349 413l8 6 9 5 6 6-8-5-9-5z"/>
<path class="q13" d="M366 424l8 4 9 3 8 2 8 2 9 1 8 0 6 3-8 0-9 0-8-1-8-2-9-3-8-3z"/>
<path class="q14" d="M416 436l8-1 9-2 6 1-9 3-8 2z"/>
<path class="q15" d="M433 433l8-2 6 0-8 3z"/>
<path class="q16" d="M441 431l8-3 9-4 6-1-9 4-8 4z"/>
<path class="q17" d="M458 424l8-4 6-3-8 6z"/>
<path class="q18" d="M466 420l8-4 6-4-8 5z"/>
<path class="q20" d="M474 416l9-5 6-5-9 6z"/>
<path class="q21" d="M483 411l8-6 6-6-8 7z"/>
<path class="q22" d="M491 405l8-5 7-7-9 6z"/>
<path class="q23" d="M499 400l9-6 6-8-8 7z"/>
<path class="q24" d="M508 394l8-5 6-9-8 6z"/>
<path class="q26" d="M516 389l8-6 7-10-9 7z"/>
<path class="q27" d="M524 383l9-6 6-10-8 6z"/>
<path class="q28" d="M533 377l8-5 6-11-8 6z"/>
<path class="q29" d="M541 372l9-5 6-12-9 6z"/>
<path class="q30" d="M550 367l8-5 6-12-8 5z"/>
<path class="q31" d="M558 362l8-4 6-12-8 4z"/>
<path class="q32" d="M566 358l9-3 6-13-9 4z"/>
<path class="q33" d="M575 355l8-3 6-13-8 3z"/>
<path class="q34" d="M583 352l8-3 9-1 6-13-9 1-8 3z"/>
<path class="q35" d="M600 348l8-1 8 0 9 0 8 2 8 2 9 3 6-9-9-4-8-3-8-2-9-2-8 0-8 1z"/>
<path class="q34" d="M650 354l8 4 8 5 6-8-8-6-8-4z"/>
<path class="q32" d="M193 285l8 5 8 5 7-8-9-6-8-5z"/>
<path class="q31" d="M209 295l9 5 6-6-8-7z"/>
<path class="q30" d="M218 300l8 6 6-5-8-7z"/>
<path class="q29" d="M226 306l8 7 9 7 6-3-8-8-9-8z"/>
<path class="q28" d="M243 320l8 7 6-2-8-8z"/>
<path class="q27" d="M251 327l9 8 6-1-9-9z"/>
<path class="q25" d="M260 335l8 8 6 0-8-9z"/>
<path class="q24" d="M268 343l8 8 6 1-8-9z"/>
<path class="q23" d="M276 351l9 7 6 2-9-8z"/>
<path class="q22" d="M285 358l8 8 6 3-8-9z"/>
<path class="q21" d="M293 366l8 8 6 3-8-8z"/>
<path class="q20" d="M301 374l9 7 6 5-9-9z"/>
<path class="q19" d="M310 381l8 7 6 5-8-7z"/>
<path class="q18" d="M318 388l8 7 6 6-8-8z"/>
<path class="q17" d="M326 395l9 6 8 6 6 6-8-6-9-6z"/>
<path class="q16" d="M343 407l8 6 6 6-8-6z"/>
<path class="q15" d="M351 413l9 4 8 4 8 4 7 6-9-3-8-4-9-5z"/>
<path class="q14" d="M376 425l9 3 8 2 8 1 9 1 6 4-8 0-9-1-8-2-8-2z"/>
<path class="q15" d="M410 432l8-1 9 0 6 2-9 2-8 1z"/>
<path class="q16" d="M427 431l8-2 8-2 6 1-8 3-8 2z"/>
<path class="q17" d="M443 427l9-2 6-1-9 4z"/>
<path class="q18" d="M452 425l8-3 6-2-8 4z"/>
<path class="q19" d="M460 422l8-4 9-4 6-3-9 5-8 4z"/>
<path class="q20" d="M477 414l8-4 6-5-8 6z"/>
<path class="q21" d="M485 410l8-4 6-6-8 5z"/>
<path class="q23" d="M493 406l9-5 6-7-9 6z"/>
<path class="q24" d="M502 401l8-5 6-7-8 5z"/>
<path class="q25" d="M510 396l8-4 6-9-8 6z"/>
<path class="q26" d="M518 392l9-5 6-10-9 6z"/>
<path class="q27" d="M527 387l8-5 6-10-8 5z"/>
<path class="q28" d="M535 382l8-4 7-11-9 5z"/>
<path class="q29" d="M543 378l9-4 6-12-8 5z"/>
<path class="q30" d="M552 374l8-4 6-12-8 4z"/>
<path class="q31" d="M560 370l8-3 9-3 6-12-8 3-9 3z"/>
<path class="q32" d="M577 364l8-2 6-13-8 3z"/>
<path class="q33" d="M585 362l9-1 8-1 8-1 6-12-8 0-8 1-9 1z"/>
<path class="q34" d="M610 359l9 1 8 1 8 2 9 2 6-11-9-3-8-2-8-2-9 0z"/>
<path class="q33" d="M644 365l8 3 8 4 6-9-8-5-8-4z"/>
<path class="q31" d="M187 295l8 4 8 4 6-8-8-5-8-5z"/>
<path class="q30" d="M203 303l9 5 8 5 6-7-8-6-9-5z"/>
<path class="q29" d="M220 313l8 6 6-6-8-7z"/>
<path class="q28" d="M228 319l9 5 8 7 6-4-8-7-9-7z"/>
<path class="q27" d="M245 331l8 6 7-2-9-8z"/>
<path class="q26" d="M253 337l9 7 6-1-8-8z"/>
<path class="q25" d="M262 344l8 7 6 0-8-8z"/>
<path class="q24" d="M270 351l8 7 7 0-9-7z"/>
<path class="q23" d="M278 358l9 6 6 2-8-8z"/>
<path class="q22" d="M287 364l8 7 6 3-8-8z"/>
<path class="q21" d="M295 371l9 7 6 3-9-7z"/>
<path class="q20" d="M304 378l8 6 8 6 6 5-8-7-8-7z"/>
<path class="q19" d="M320 390l9 6 6 5-9-6z"/>
<path class="q18" d="M329 396l8 6 8 5 6 6-8-6-8-6z"/>
<path class="q17" d="M345 407l9 4 8 4 6 6-8-4-9-4z"/>
<path class="q16" d="M362 415l8 4 9 2 8 3 8 2 9 1 8 0 8 0 7 4-9 0-8 1-9-1-8-1-8-2-9-3-8-4z"/>
<path class="q17" d="M420 427l9 0 8-1 6 1-8 2-8 2z"/>
<path class="q18" d="M437 426l8-2 9-2 6 0-8 3-9 2z"/>
<path class="q19" d="M454 422l8-3 6-1-8 4z"/>
<path class="q20" d="M462 419l9-2 8-3 6-4-8 4-9 4z"/>
<path class="q21" d="M479 414l8-4 6-4-8 4z"/>
<path class="q22" d="M487 410l9-3 6-6-9 5z"/>
<path class="q23" d="M496 407l8-4 6-7-8 5z"/>
<path class="q24" d="M504 403l8-4 6-7-8 4z"/>
<path class="q25" d="M512 399l9-4 6-8-9 5z"/>
<path class="q26" d="M521 395l8-3 6-10-8 5z"/>
<path class="q27" d="M529 392l8-4 6-10-8 4z"/>
<path class="q28" d="M537 388l9-3 8-3 6-12-8 4-9 4z"/>
<path class="q29" d="M554 382l8-3 6-12-8 3z"/>
<path class="q30" d="M562 379l9-2 8-2 6-13-8 2-9 3z"/>
<path class="q31" d="M579 375l8-1 9-1 6-13-8 1-9 1z"/>
<path class="q32" d="M596 373l8-1 8 0 9 1 8 2 9 2 8 2 8 3 6-10-8-4-8-3-9-2-8-2-8-1-9-1-8 1z"/>
<path class="q30" d="M181 306l8 3 8 4 9 4 6-9-9-5-8-4-8-4z"/>
<path class="q29" d="M206 317l8 4 8 4 6-6-8-6-8-5z"/>
<path class="q28" d="M222 325l9 5 6-6-9-5z"/>
<path class="q27" d="M231 330l8 5 8 6 6-4-8-6-8-7z"/>
<path class="q26" d="M247 341l9 5 6-2-9-7z"/>
<path class="q25" d="M256 346l8 6 6-1-8-7z"/>
<path class="q24" d="M264 352l8 6 9 6 6 0-9-6-8-7z"/>
<path class="q23" d="M281 364l8 6 6 1-8-7z"/>
<path class="q22" d="M289 370l8 5 7 3-9-7z"/>
<path class="q21" d="M297 375l9 6 8 5 6 4-8-6-8-6z"/>
<path class="q20" d="M314 386l8 5 9 5 6 6-8-6-9-6z"/>
<path class="q19" d="M331 396l8 5 6 6-8-5z"/>
<path class="q18" d="M339 401l9 4 8 4 8 3 6 7-8-4-8-4-9-4z"/>
<path class="q17" d="M364 412l9 3 8 3 8 2 9 1 8 1 8 1 6 4-8 0-8 0-9-1-8-2-8-3-9-2z"/>
<path class="q18" d="M414 423l9 0 8 0 8-1 6 2-8 2-8 1-9 0z"/>
<path class="q19" d="M439 422l9-1 8-2 6 0-8 3-9 2z"/>
<path class="q20" d="M456 419l8-1 7-1-9 2z"/>
<path class="q21" d="M464 418l9-3 8-2 6-3-8 4-8 3z"/>
<path class="q22" d="M481 413l8-2 7-4-9 3z"/>
<path class="q23" d="M489 411l9-3 6-5-8 4z"/>
<path class="q24" d="M498 408l8-3 9-2 6-8-9 4-8 4z"/>
<path class="q25" d="M515 403l8-3 6-8-8 3z"/>
<path class="q26" d="M523 400l8-3 6-9-8 4z"/>
<path class="q27" d="M531 397l9-2 8-2 6-11-8 3-9 3z"/>
<path class="q28" d="M548 393l8-2 9-2 6-12-9 2-8 3z"/>
<path class="q29" d="M565 389l8-2 6-12-8 2z"/>
<path class="q30" d="M573 387l8-1 9 0 8-1 6-13-8 1-9 1-8 1z"/>
<path class="q31" d="M598 385l8 0 9 1 8 1 8 2 9 2 8 2 6-11-8-3-8-2-9-2-8-2-9-1-8 0z"/>
<path class="q29" d="M174 318l9 3 8 2 9 3 6-9-9-4-8-4-8-3z"/>
<path class="q28" d="M200 326l8 4 8 3 6-8-8-4-8-4z"/>
<path class="q27" d="M216 333l9 4 8 5 6-7-8-5-9-5z"/>
<path class="q26" d="M233 342l8 4 9 4 6-4-9-5-8-6z"/>
<path class="q25" d="M250 350l8 5 8 5 6-2-8-6-8-6z"/>
<path class="q24" d="M266 360l9 5 8 4 6 1-8-6-9-6z"/>
<path class="q23" d="M283 369l8 5 6 1-8-5z"/>
<path class="q22" d="M291 374l9 5 8 4 6 3-8-5-9-6z"/>
<path class="q21" d="M308 383l8 5 9 4 6 4-9-5-8-5z"/>
<path class="q20" d="M325 392l8 4 8 4 9 3 6 6-8-4-9-4-8-5z"/>
<path class="q19" d="M350 403l8 3 8 3 9 2 8 3 9 1 8 2 8 1 9 0 8 1 8 0 6 3-8 1-8 0-9 0-8-1-8-1-9-1-8-2-8-3-9-3-8-3z"/>
<path class="q20" d="M433 419l9 0 8-1 6 1-8 2-9 1z"/>
<path class="q21" d="M450 418l8-1 9-1 6-1-9 3-8 1z"/>
<path class="q22" d="M467 416l8-1 8-2 6-2-8 2-8 2z"/>
<path class="q23" d="M483 413l9-1 8-2 6-5-8 3-9 3z"/>
<path class="q24" d="M500 410l8-1 9-2 6-7-8 3-9 2z"/>
<path class="q25" d="M517 407l8-2 6-8-8 3z"/>
<path class="q26" d="M525 405l8-1 9-2 6-9-8 2-9 2z"/>
<path class="q27" d="M542 402l8-1 9-1 6-11-9 2-8 2z"/>
<path class="q28" d="M559 400l8-1 8 0 9-1 6-12-9 0-8 1-8 2z"/>
<path class="q29" d="M584 398l8 0 8 0 9 1 8 1 8 1 9 2 8 2 6-12-8-2-9-2-8-2-8-1-9-1-8 0-8 1z"/>
<path class="q28" d="M168 330l9 2 8 3 6-12-8-2-9-3z"/>
<path class="q27" d="M185 335l8 2 9 3 8 3 8 3 7-9-9-4-8-3-8-4-9-3z"/>
<path class="q26" d="M218 346l9 3 8 3 9 4 6-6-9-4-8-4-8-5z"/>
<path class="q25" d="M244 356l8 3 8 4 6-3-8-5-8-5z"/>
<path class="q24" d="M260 363l9 4 8 3 8 4 6 0-8-5-8-4-9-5z"/>
<path class="q23" d="M285 374l9 4 8 3 6 2-8-4-9-5z"/>
<path class="q22" d="M302 381l8 4 9 3 8 4 6 4-8-4-9-4-8-5z"/>
<path class="q21" d="M327 392l8 3 9 3 8 2 8 3 6 6-8-3-8-3-9-3-8-4z"/>
<path class="q20" d="M360 403l9 2 8 2 8 2 9 2 8 1 9 1 8 1 6 5-8-1-9 0-8-1-8-2-9-1-8-3-9-2z"/>
<path class="q21" d="M419 414l8 1 9 0 8 0 8 1 6 1-8 1-8 1-9 0-8 0z"/>
<path class="q22" d="M452 416l9-1 8 0 8 0 6-2-8 2-8 1-9 1z"/>
<path class="q23" d="M477 415l9-1 8 0 6-4-8 2-9 1z"/>
<path class="q24" d="M494 414l8-1 9 0 8-1 6-7-8 2-9 2-8 1z"/>
<path class="q25" d="M519 412l8 0 9-1 6-9-9 2-8 1z"/>
<path class="q26" d="M536 411l8 0 8-1 9 0 6-11-8 1-9 1-8 1z"/>
<path class="q27" d="M561 410l8 0 8 0 9 1 8 0 6-13-8 0-8 0-9 1-8 0z"/>
<path class="q28" d="M594 411l9 1 8 1 8 1 9 2 8 2 6-13-8-2-9-2-8-1-8-1-9-1z"/>
<path class="q26" d="M162 343l9 2 8 2 8 2 9 2 8 2 8 2 9 2 6-8-9-3-8-3-8-3-9-3-8-2-8-3-9-2z"/>
<path class="q25" d="M221 357l8 3 8 2 9 3 8 2 6-4-8-4-8-3-9-4-8-3z"/>
<path class="q24" d="M254 367l8 3 9 3 8 2 9 3 6 0-9-4-8-4-8-3-9-4z"/>
<path class="q23" d="M288 378l8 3 8 2 9 3 8 2 6 4-8-4-9-3-8-4-8-3z"/>
<path class="q22" d="M321 388l8 3 9 2 8 2 8 2 9 2 8 2 8 2 9 1 8 2 8 1 9 2 8 1 8 1 9 1 8 1 9 1 6 1-9 1-8-1-8 0-9 0-8-1-8-1-9-1-8-1-9-2-8-2-8-2-9-2-8-3-8-2-9-3-8-3z"/>
<path class="q23" d="M455 414l8 0 8 1 9 1 8 0 6-2-8 0-9 1-8 0-8 0z"/>
<path class="q24" d="M488 416l8 1 9 0 8 0 8 1 6-6-8 0-8 1-9 0-8 1z"/>
<path class="q25" d="M521 418l9 0 8 1 8 1 9 0 6-10-9 0-8 1-8 0-9 1z"/>
<path class="q26" d="M555 420l8 1 8 1 9 1 8 1 8 1 9 1 8 1 8 2 9 1 6-12-8-2-9-2-8-1-8-1-9-1-8 0-9-1-8 0-8 0z"/>
<path class="q25" d="M156 356l9 2 8 1 8 2 9 1 8 2 8 2 9 1 6-10-9-2-8-2-8-2-9-2-8-2-8-2-9-2z"/>
<path class="q24" d="M215 367l8 2 8 1 9 2 8 1 8 2 9 1 8 2 8 2 9 1 8 2 8 1 9 2 8 1 6 4-8-3-8-2-9-3-8-2-8-3-9-3-8-2-9-3-8-3-8-2-9-3-8-2-8-3z"/>
<path class="q23" d="M323 387l9 2 8 1 8 2 9 2 8 1 8 2 9 1 8 2 8 1 9 2 8 1 8 2 9 2 8 1 8 2 7 3-9-1-8-1-9-1-8-1-8-1-9-2-8-1-8-2-9-1-8-2-8-2-9-2-8-2-8-2-9-2z"/>
<path class="q24" d="M448 411l9 1 8 2 8 1 9 2 8 1 9 2 8 2 8 1 9 2 8 1 8 2 9 1 8 2 6-10-8-1-9 0-8-1-8-1-9 0-8-1-8 0-9 0-8-1-8 0-9-1-8-1-8 0z"/>
<path class="q25" d="M557 431l8 1 9 2 8 2 8 1 9 2 8 1 8 2 9 1 6-13-9-1-8-2-8-1-9-1-8-1-8-1-9-1-8-1z"/>
</g></g>
<rect x="230.8" y="37.4" width="9.8" height="56" fill="url(#cb)" stroke="#444" stroke-width="0.6"/>
<g stroke="#333" stroke-width="0.5">
<line x1="230.80" y1="46.73" x2="232.60" y2="46.73"/>
<line x1="240.60" y1="46.73" x2="238.80" y2="46.73"/>
<line x1="230.80" y1="56.07" x2="232.60" y2="56.07"/>
<line x1="240.60" y1="56.07" x2="238.80" y2="56.07"/>
<line x1="230.80" y1="65.40" x2="232.60" y2="65.40"/>
<line x1="240.60" y1="65.40" x2="238.80" y2="65.40"/>
<line x1="230.80" y1="74.73" x2="232.60" y2="74.73"/>
<line x1="240.60" y1="74.73" x2="238.80" y2="74.73"/>
<line x1="230.80" y1="84.07" x2="232.60" y2="84.07"/>
<line x1="240.60" y1="84.07" x2="238.80" y2="84.07"/>
</g>
<g class="s">
<text x="203.8" y="14.3" text-anchor="middle">0.0 ps</text>
<text x="34.3" y="40.0">E<tspan dy="2.5" font-size="7.4">3</tspan><tspan dy="-2.5"> [MeV/m]</tspan></text>
<text x="30.3" y="130.00" text-anchor="end">-1.5</text>
<text x="30.3" y="117.55" text-anchor="end">-1</text>
<text x="30.3" y="105.10" text-anchor="end">-0.5</text>
<text x="30.3" y="92.65" text-anchor="end">0</text>
<text x="30.3" y="80.20" text-anchor="end">0.5</text>
<text x="30.3" y="67.75" text-anchor="end">1</text>
<text x="30.3" y="55.30" text-anchor="end">1.5</text>
<text x="245.4" y="96.70">-1.5</text>
<text x="245.4" y="87.37">-1</text>
<text x="245.4" y="78.03">-0.5</text>
<text x="247.7" y="68.70">0</text>
<text x="247.7" y="59.37">0.5</text>
<text x="247.7" y="50.03">1</text>
<text x="247.7" y="40.70">1.5</text>
<text x="43.44" y="135.53" text-anchor="middle">-400</text>
<text x="170.40" y="151.34">-400</text>
<text x="68.47" y="140.19" text-anchor="middle">-200</text>
<text x="184.75" y="143.45">-200</text>
<text x="93.50" y="144.85" text-anchor="middle">0</text>
<text x="199.90" y="135.55">0</text>
<text x="118.53" y="149.51" text-anchor="middle">200</text>
<text x="214.25" y="127.65">200</text>
<text x="143.56" y="154.17" text-anchor="middle">400</text>
<text x="228.60" y="119.76">400</text>
<text x="66.9" y="150.6">x<tspan dy="-3.8" font-size="7">1</tspan><tspan dy="3.8" dx="-0.6"> [<tspan class="mu">μ</tspan>m]</tspan></text>
<text x="210.6" y="138.0">x<tspan dy="-3.8" font-size="7">2</tspan><tspan dy="3.8" dx="-0.3"> [<tspan class="mu">μ</tspan>m]</tspan></text>
</g>
<g class="c">
<text x="96.8" y="200.5" textLength="12.2" lengthAdjust="spacingAndGlyphs">(a)</text>
<text x="113.0" y="200.5" font-style="italic" textLength="5.6" lengthAdjust="spacingAndGlyphs">x</text>
<text class="u" x="119.5" y="196.6">0</text>
<text x="127.8" y="200.5" textLength="6.6" lengthAdjust="spacingAndGlyphs">=</text>
<text x="138.2" y="200.5" textLength="13.2" lengthAdjust="spacingAndGlyphs">0.0</text>
<text x="153.2" y="200.5" textLength="11.8" lengthAdjust="spacingAndGlyphs">ps.</text>
</g>
</g>
<g transform="translate(276.5,0)">
<g stroke="#444" stroke-width="0.6" fill="none">
<path d="M35.50 126.70L156.90 149.30L226.50 111.00L105.10 88.40z"/>
<line x1="35.50" y1="126.70" x2="35.50" y2="52.00"/>
<line x1="35.50" y1="126.70" x2="37.70" y2="126.70"/>
<line x1="35.50" y1="117.36" x2="37.70" y2="117.36"/>
<line x1="35.50" y1="108.03" x2="37.70" y2="108.03"/>
<line x1="35.50" y1="98.69" x2="37.70" y2="98.69"/>
<line x1="35.50" y1="89.35" x2="37.70" y2="89.35"/>
<line x1="35.50" y1="80.01" x2="37.70" y2="80.01"/>
<line x1="35.50" y1="70.67" x2="37.70" y2="70.67"/>
<line x1="35.50" y1="61.34" x2="37.70" y2="61.34"/>
<line x1="35.50" y1="52.00" x2="37.70" y2="52.00"/>
<line x1="46.14" y1="128.68" x2="47.89" y2="127.72"/>
<line x1="115.74" y1="90.38" x2="113.99" y2="91.34"/>
<line x1="163.00" y1="145.94" x2="161.03" y2="145.58"/>
<line x1="41.60" y1="123.34" x2="43.57" y2="123.71"/>
<line x1="71.17" y1="133.34" x2="72.92" y2="132.38"/>
<line x1="140.77" y1="95.04" x2="139.02" y2="96.00"/>
<line x1="177.35" y1="138.05" x2="175.38" y2="137.68"/>
<line x1="55.95" y1="115.45" x2="57.92" y2="115.81"/>
<line x1="96.20" y1="138.00" x2="97.95" y2="137.04"/>
<line x1="165.80" y1="99.70" x2="164.05" y2="100.66"/>
<line x1="191.70" y1="130.15" x2="189.73" y2="129.78"/>
<line x1="70.30" y1="107.55" x2="72.27" y2="107.92"/>
<line x1="121.23" y1="142.66" x2="122.98" y2="141.70"/>
<line x1="190.83" y1="104.36" x2="189.08" y2="105.32"/>
<line x1="206.05" y1="122.25" x2="204.08" y2="121.89"/>
<line x1="84.65" y1="99.65" x2="86.62" y2="100.02"/>
<line x1="146.26" y1="147.32" x2="148.01" y2="146.36"/>
<line x1="215.86" y1="109.02" x2="214.11" y2="109.98"/>
<line x1="220.40" y1="114.36" x2="218.43" y2="113.99"/>
<line x1="99.00" y1="91.76" x2="100.97" y2="92.12"/>
</g>
<g class="sf" filter="url(#bl)"><g transform="scale(0.25)">
<path class="q23" d="M418 221l9 2 8 1 8 2 9 1 8 1 8 1 9 1 8 1 6-10-8-1-9-2-8-2-8-1-9-2-8-1-8-2-9-1z"/>
<path class="q24" d="M485 231l8 1 9 0 8 1 8 0 9 1 8 0 8 1 9 1 8 0 8 1 9 0 8 1 8 1 7 2-9-1-8-2-8-1-9-2-8-1-9-2-8-2-8-1-9-2-8-1-8-2-9-1-8-2z"/>
<path class="q25" d="M593 239l9 0 8 1 9 1 8 1 8 2 9 1 8 1 8 2 9 2 8 1 8 2 9 2 8 2 8 2 9 3 6 3-9-2-8-1-8-2-9-2-8-1-8-2-9-1-8-2-8-1-9-2-8-1-8-2-9-2-8-1-8-2z"/>
<path class="q24" d="M719 262l8 2 8 3 9 2 8 3 8 2 9 3 8 2 9 3 8 2 8 3 9 2 8 3 8 2 6-9-8-2-8-1-9-2-8-1-8-2-9-1-8-2-8-2-9-1-8-2-8-1-9-2-8-1z"/>
<path class="q23" d="M827 294l9 3 8 2 8 2 9 2 8 2 8 2 9 1 6-12-9-2-8-1-8-2-9-1-8-2-8-2-9-1z"/>
<path class="q22" d="M412 234l8 1 9 2 8 1 8 1 9 1 8 1 9 0 8 0 6-10-8-1-9-1-8-1-8-1-9-1-8-2-8-1-9-2z"/>
<path class="q23" d="M479 241l8 0 9 0 8 0 8 0 9-1 6-6-9-1-8 0-8-1-9 0-8-1z"/>
<path class="q24" d="M521 240l8 0 8-1 9 0 8-1 6-2-8 0-9-1-8-1-8 0z"/>
<path class="q25" d="M554 238l8 0 9-1 8 0 8 0 9 0 6 2-9 0-8-1-8-1-9 0-8-1z"/>
<path class="q26" d="M596 237l8 0 8 0 9 1 8 1 8 0 9 2 8 1 9 2 8 1 8 3 9 2 8 2 8 3 9 3 6 4-9-3-8-2-8-2-9-2-8-2-8-1-9-2-8-2-8-1-9-1-8-2-8-1-9-1-8-1z"/>
<path class="q25" d="M713 258l8 3 8 3 9 4 8 3 8 3 6 0-8-2-8-3-9-2-8-3-8-2z"/>
<path class="q24" d="M754 274l9 4 8 4 8 3 9 4 6-5-8-2-9-3-8-2-9-3z"/>
<path class="q23" d="M788 289l8 3 8 4 9 3 8 4 9 3 6-9-9-3-8-2-8-3-9-2-8-3z"/>
<path class="q22" d="M830 306l8 3 8 3 9 2 8 3 8 2 9 2 6-13-9-1-8-2-8-2-9-2-8-2-8-2z"/>
<path class="q20" d="M406 246l8 2 9 2 8 1 8 1 9 1 6-13-9-1-8-1-8-1-9-2-8-1z"/>
<path class="q21" d="M448 253l8 0 8 0 9 0 8-1 6-11-8 0-8 0-9 0-8-1z"/>
<path class="q22" d="M481 252l8-1 9-1 8-1 6-8-8 0-8 0-9 0z"/>
<path class="q23" d="M506 249l9-1 8-2 6-6-8 0-9 1z"/>
<path class="q24" d="M523 246l8-1 9-2 8-1 6-4-8 1-9 0-8 1z"/>
<path class="q25" d="M548 242l8-2 9-1 6-2-9 1-8 0z"/>
<path class="q26" d="M565 239l8-1 8-2 9 0 6 1-9 0-8 0-8 0z"/>
<path class="q27" d="M590 236l8-1 8-1 9 0 8 0 8 1 6 4-8 0-8-1-9-1-8 0-8 0z"/>
<path class="q28" d="M631 235l9 0 8 1 8 2 9 2 8 2 9 2 6 6-9-2-8-3-8-1-9-2-8-1-9-2z"/>
<path class="q27" d="M682 244l8 3 8 3 9 3 8 4 6 4-8-3-9-3-8-3-8-2z"/>
<path class="q26" d="M715 257l8 4 9 4 8 4 6 2-8-3-9-4-8-3z"/>
<path class="q25" d="M740 269l8 5 9 4 6 0-9-4-8-3z"/>
<path class="q24" d="M757 278l8 5 8 4 9 5 6-3-9-4-8-3-8-4z"/>
<path class="q23" d="M782 292l8 5 8 4 6-5-8-4-8-3z"/>
<path class="q22" d="M798 301l9 5 8 4 8 4 7-8-9-3-8-4-9-3z"/>
<path class="q21" d="M823 314l9 4 8 3 8 4 9 3 8 2 6-11-8-2-8-3-9-2-8-3-8-3z"/>
<path class="q20" d="M865 330l9 3 6-12-9-2z"/>
<path class="q19" d="M400 257l8 3 9 2 8 1 8 1 9 1 8 0 8 0 6-12-8 0-8 0-9-1-8-1-8-1-9-2-8-2z"/>
<path class="q20" d="M458 265l9 0 8-1 8-2 6-11-8 1-8 1-9 0z"/>
<path class="q21" d="M483 262l9-1 8-2 6-10-8 1-9 1z"/>
<path class="q22" d="M500 259l8-2 9-3 6-8-8 2-9 1z"/>
<path class="q23" d="M517 254l8-2 6-7-8 1z"/>
<path class="q24" d="M525 252l8-3 9-2 6-5-8 1-9 2z"/>
<path class="q25" d="M542 247l8-3 9-2 6-3-9 1-8 2z"/>
<path class="q26" d="M559 242l8-3 8-2 6-1-8 2-8 1z"/>
<path class="q27" d="M575 237l9-2 8-1 6 1-8 1-9 0z"/>
<path class="q28" d="M592 234l8-2 9-1 8 0 6 3-8 0-9 0-8 1z"/>
<path class="q29" d="M617 231l8-1 9 1 8 0 8 1 9 2 8 2 8 2 9 3 8 3 6 6-8-3-8-3-9-2-8-2-9-2-8-2-8-1-9 0-8-1z"/>
<path class="q28" d="M692 244l8 4 9 4 8 5 6 4-8-4-8-4-9-3z"/>
<path class="q27" d="M717 257l9 4 8 5 6 3-8-4-9-4z"/>
<path class="q26" d="M734 266l8 6 9 5 6 1-9-4-8-5z"/>
<path class="q25" d="M751 277l8 6 6 0-8-5z"/>
<path class="q24" d="M759 283l8 5 9 6 6-2-9-5-8-4z"/>
<path class="q23" d="M776 294l8 6 8 5 6-4-8-4-8-5z"/>
<path class="q22" d="M792 305l9 6 8 5 6-6-8-4-9-5z"/>
<path class="q21" d="M809 316l8 5 9 5 6-8-9-4-8-4z"/>
<path class="q20" d="M826 326l8 4 8 4 9 4 6-10-9-3-8-4-8-3z"/>
<path class="q19" d="M851 338l8 3 8 3 7-11-9-3-8-2z"/>
<path class="q18" d="M394 268l8 3 8 3 7-12-9-2-8-3z"/>
<path class="q17" d="M410 274l9 2 8 1 6-13-8-1-8-1z"/>
<path class="q18" d="M427 277l9 1 8 0 8 0 9-1 6-12-9 0-8 0-8 0-9-1z"/>
<path class="q19" d="M461 277l8-1 8-2 6-12-8 2-8 1z"/>
<path class="q20" d="M477 274l9-2 8-3 6-10-8 2-9 1z"/>
<path class="q21" d="M494 269l8-3 6-9-8 2z"/>
<path class="q22" d="M502 266l9-3 8-3 6-8-8 2-9 3z"/>
<path class="q23" d="M519 260l8-4 6-7-8 3z"/>
<path class="q24" d="M527 256l9-3 8-4 6-5-8 3-9 2z"/>
<path class="q25" d="M544 249l8-3 7-4-9 2z"/>
<path class="q26" d="M552 246l9-4 6-3-8 3z"/>
<path class="q27" d="M561 242l8-3 8-3 7-1-9 2-8 2z"/>
<path class="q28" d="M577 236l9-2 8-3 6 1-8 2-8 1z"/>
<path class="q29" d="M594 231l9-2 8-1 6 3-8 0-9 1z"/>
<path class="q30" d="M611 228l8-1 9-1 8 0 8 1 6 5-8-1-8 0-9-1-8 1z"/>
<path class="q31" d="M644 227l9 1 8 2 6 6-8-2-9-2z"/>
<path class="q30" d="M661 230l8 2 9 3 8 4 8 3 6 6-8-4-8-3-9-3-8-2z"/>
<path class="q29" d="M694 242l9 5 8 5 6 5-8-5-9-4z"/>
<path class="q28" d="M711 252l8 5 9 6 6 3-8-5-9-4z"/>
<path class="q27" d="M728 263l8 6 6 3-8-6z"/>
<path class="q26" d="M736 269l8 6 9 6 6 2-8-6-9-5z"/>
<path class="q25" d="M753 281l8 7 6 0-8-5z"/>
<path class="q24" d="M761 288l9 7 8 6 6-1-8-6-9-6z"/>
<path class="q23" d="M778 301l8 7 6-3-8-5z"/>
<path class="q22" d="M786 308l9 6 6-3-9-6z"/>
<path class="q21" d="M795 314l8 7 8 6 6-6-8-5-8-5z"/>
<path class="q20" d="M811 327l9 5 8 6 6-8-8-4-9-5z"/>
<path class="q19" d="M828 338l8 5 9 4 6-9-9-4-8-4z"/>
<path class="q18" d="M845 347l8 4 8 4 6-11-8-3-8-3z"/>
<path class="q16" d="M388 278l8 4 8 3 9 2 8 2 8 1 9 1 8-1 6-12-8 0-8 0-9-1-8-1-9-2-8-3-8-3z"/>
<path class="q17" d="M446 290l8-1 9-1 6-12-8 1-9 1z"/>
<path class="q18" d="M463 288l8-2 9-3 6-11-9 2-8 2z"/>
<path class="q19" d="M480 283l8-3 6-11-8 3z"/>
<path class="q20" d="M488 280l8-3 6-11-8 3z"/>
<path class="q21" d="M496 277l9-4 8-4 6-9-8 3-9 3z"/>
<path class="q22" d="M513 269l8-4 6-9-8 4z"/>
<path class="q23" d="M521 265l9-5 6-7-9 3z"/>
<path class="q24" d="M530 260l8-4 6-7-8 4z"/>
<path class="q25" d="M538 256l8-5 6-5-8 3z"/>
<path class="q26" d="M546 251l9-4 6-5-9 4z"/>
<path class="q27" d="M555 247l8-4 8-4 6-3-8 3-8 3z"/>
<path class="q28" d="M571 239l9-4 6-1-9 2z"/>
<path class="q29" d="M580 235l8-3 6-1-8 3z"/>
<path class="q30" d="M588 232l8-3 9-3 6 2-8 1-9 2z"/>
<path class="q31" d="M605 226l8-1 8-2 7 3-9 1-8 1z"/>
<path class="q32" d="M621 223l9 0 8 0 9 0 8 2 8 2 9 2 8 4 6 6-8-4-9-3-8-2-8-2-9-1-8-1-8 0z"/>
<path class="q31" d="M680 233l8 4 9 4 6 6-9-5-8-3z"/>
<path class="q30" d="M697 241l8 5 8 6 6 5-8-5-8-5z"/>
<path class="q29" d="M713 252l9 6 6 5-9-6z"/>
<path class="q28" d="M722 258l8 7 6 4-8-6z"/>
<path class="q27" d="M730 265l8 7 9 7 6 2-9-6-8-6z"/>
<path class="q26" d="M747 279l8 7 6 2-8-7z"/>
<path class="q25" d="M755 286l8 8 7 1-9-7z"/>
<path class="q24" d="M763 294l9 7 6 0-8-6z"/>
<path class="q23" d="M772 301l8 8 6-1-8-7z"/>
<path class="q22" d="M780 309l8 8 7-3-9-6z"/>
<path class="q21" d="M788 317l9 7 8 7 6-4-8-6-8-7z"/>
<path class="q20" d="M805 331l9 7 6-6-9-5z"/>
<path class="q19" d="M814 338l8 6 6-6-8-6z"/>
<path class="q18" d="M822 344l8 6 9 6 6-9-9-4-8-5z"/>
<path class="q17" d="M839 356l8 5 8 4 6-10-8-4-8-4z"/>
<path class="q15" d="M382 287l8 4 8 4 9 3 8 3 8 1 9 1 8 0 8-1 6-13-8 1-8 1-9-1-8-1-8-2-9-2-8-3-8-4z"/>
<path class="q16" d="M448 302l9-1 8-3 6-12-8 2-9 1z"/>
<path class="q17" d="M465 298l8-2 7-13-9 3z"/>
<path class="q18" d="M473 296l9-4 8-4 6-11-8 3-8 3z"/>
<path class="q19" d="M490 288l8-4 7-11-9 4z"/>
<path class="q20" d="M498 284l9-5 6-10-8 4z"/>
<path class="q21" d="M507 279l8-5 6-9-8 4z"/>
<path class="q22" d="M515 274l9-5 6-9-9 5z"/>
<path class="q23" d="M524 269l8-6 6-7-8 4z"/>
<path class="q24" d="M532 263l8-5 6-7-8 5z"/>
<path class="q25" d="M540 258l9-5 6-6-9 4z"/>
<path class="q26" d="M549 253l8-6 6-4-8 4z"/>
<path class="q27" d="M557 247l8-5 6-3-8 4z"/>
<path class="q28" d="M565 242l9-4 6-3-9 4z"/>
<path class="q29" d="M574 238l8-5 6-1-8 3z"/>
<path class="q30" d="M582 233l8-4 6 0-8 3z"/>
<path class="q31" d="M590 229l9-3 6 0-9 3z"/>
<path class="q32" d="M599 226l8-3 8-2 6 2-8 2-8 1z"/>
<path class="q33" d="M615 221l9-1 8-1 8 0 9 1 8 1 8 3 9 3 8 4 6 6-8-4-8-4-9-2-8-2-8-2-9 0-8 0-9 0z"/>
<path class="q32" d="M682 231l9 4 8 6 6 5-8-5-9-4z"/>
<path class="q31" d="M699 241l8 6 6 5-8-6z"/>
<path class="q30" d="M707 247l9 6 8 7 6 5-8-7-9-6z"/>
<path class="q29" d="M724 260l8 8 6 4-8-7z"/>
<path class="q28" d="M732 268l9 7 6 4-9-7z"/>
<path class="q27" d="M741 275l8 9 6 2-8-7z"/>
<path class="q26" d="M749 284l8 8 6 2-8-8z"/>
<path class="q25" d="M757 292l9 9 6 0-9-7z"/>
<path class="q24" d="M766 301l8 8 6 0-8-8z"/>
<path class="q23" d="M774 309l8 9 6-1-8-8z"/>
<path class="q22" d="M782 318l9 8 6-2-9-7z"/>
<path class="q21" d="M791 326l8 8 6-3-8-7z"/>
<path class="q20" d="M799 334l8 8 7-4-9-7z"/>
<path class="q19" d="M807 342l9 7 6-5-8-6z"/>
<path class="q18" d="M816 349l8 7 6-6-8-6z"/>
<path class="q17" d="M824 356l8 7 7-7-9-6z"/>
<path class="q16" d="M832 363l9 6 8 5 6-9-8-4-8-5z"/>
<path class="q15" d="M376 295l8 5 6-9-8-4z"/>
<path class="q14" d="M384 300l8 5 9 4 6-11-9-3-8-4z"/>
<path class="q13" d="M401 309l8 3 8 2 9 1 6-12-9-1-8-1-8-3z"/>
<path class="q14" d="M426 315l8 0 8 0 9-2 6-12-9 1-8 1-8 0z"/>
<path class="q15" d="M451 313l8-2 8-3 6-12-8 2-8 3z"/>
<path class="q16" d="M467 308l9-4 6-12-9 4z"/>
<path class="q17" d="M476 304l8-4 6-12-8 4z"/>
<path class="q18" d="M484 300l8-5 6-11-8 4z"/>
<path class="q19" d="M492 295l9-5 6-11-9 5z"/>
<path class="q20" d="M501 290l8-6 6-10-8 5z"/>
<path class="q21" d="M509 284l8-6 7-9-9 5z"/>
<path class="q22" d="M517 278l9-6 6-9-8 6z"/>
<path class="q24" d="M526 272l8-6 6-8-8 5z"/>
<path class="q25" d="M534 266l8-7 7-6-9 5z"/>
<path class="q26" d="M542 259l9-6 6-6-8 6z"/>
<path class="q27" d="M551 253l8-6 6-5-8 5z"/>
<path class="q28" d="M559 247l9-6 6-3-9 4z"/>
<path class="q29" d="M568 241l8-5 6-3-8 5z"/>
<path class="q30" d="M576 236l8-5 6-2-8 4z"/>
<path class="q31" d="M584 231l9-4 6-1-9 3z"/>
<path class="q32" d="M593 227l8-4 6 0-8 3z"/>
<path class="q33" d="M601 223l8-3 9-2 6 2-9 1-8 2z"/>
<path class="q34" d="M618 218l8-2 8-1 6 4-8 0-8 1z"/>
<path class="q35" d="M634 215l9 1 8 1 8 1 6 6-8-3-8-1-9-1z"/>
<path class="q34" d="M659 218l9 3 8 4 8 4 7 6-9-4-8-4-9-3z"/>
<path class="q33" d="M684 229l9 6 8 6 6 6-8-6-8-6z"/>
<path class="q32" d="M701 241l8 7 7 5-9-6z"/>
<path class="q31" d="M709 248l9 7 6 5-8-7z"/>
<path class="q30" d="M718 255l8 8 6 5-8-8z"/>
<path class="q29" d="M726 263l9 8 6 4-9-7z"/>
<path class="q28" d="M735 271l8 9 6 4-8-9z"/>
<path class="q27" d="M743 280l8 9 6 3-8-8z"/>
<path class="q26" d="M751 289l9 9 6 3-9-9z"/>
<path class="q24" d="M760 298l8 10 6 1-8-8z"/>
<path class="q23" d="M768 308l8 9 6 1-8-9z"/>
<path class="q22" d="M776 317l9 10 6-1-9-8z"/>
<path class="q21" d="M785 327l8 9 6-2-8-8z"/>
<path class="q20" d="M793 336l8 9 6-3-8-8z"/>
<path class="q19" d="M801 345l9 8 6-4-9-7z"/>
<path class="q18" d="M810 353l8 8 6-5-8-7z"/>
<path class="q17" d="M818 361l8 8 6-6-8-7z"/>
<path class="q16" d="M826 369l9 7 6-7-9-6z"/>
<path class="q15" d="M835 376l8 6 6-8-8-5z"/>
<path class="q14" d="M369 301l9 7 6-8-8-5z"/>
<path class="q13" d="M378 308l8 5 8 5 7-9-9-4-8-5z"/>
<path class="q12" d="M394 318l9 4 8 2 9 2 8 1 8 0 6-12-8 0-8 0-9-1-8-2-8-3z"/>
<path class="q13" d="M436 327l9-1 8-2 6-13-8 2-9 2z"/>
<path class="q14" d="M453 324l8-3 6-13-8 3z"/>
<path class="q15" d="M461 321l9-4 6-13-9 4z"/>
<path class="q16" d="M470 317l8-5 6-12-8 4z"/>
<path class="q17" d="M478 312l8-5 6-12-8 5z"/>
<path class="q18" d="M486 307l9-5 6-12-9 5z"/>
<path class="q19" d="M495 302l8-7 6-11-8 6z"/>
<path class="q20" d="M503 295l8-6 6-11-8 6z"/>
<path class="q21" d="M511 289l9-7 6-10-9 6z"/>
<path class="q23" d="M520 282l8-7 6-9-8 6z"/>
<path class="q24" d="M528 275l8-7 6-9-8 7z"/>
<path class="q25" d="M536 268l9-8 6-7-9 6z"/>
<path class="q27" d="M545 260l8-7 6-6-8 6z"/>
<path class="q28" d="M553 253l8-6 7-6-9 6z"/>
<path class="q29" d="M561 247l9-7 6-4-8 5z"/>
<path class="q30" d="M570 240l8-6 6-3-8 5z"/>
<path class="q31" d="M578 234l9-5 6-2-9 4z"/>
<path class="q32" d="M587 229l8-5 6-1-8 4z"/>
<path class="q33" d="M595 224l8-4 6 0-8 3z"/>
<path class="q34" d="M603 220l9-3 6 1-9 2z"/>
<path class="q35" d="M612 217l8-3 8-1 6 2-8 1-8 2z"/>
<path class="q36" d="M628 213l9-1 8 1 8 1 9 2 8 3 6 6-8-4-9-3-8-1-8-1-9-1z"/>
<path class="q35" d="M670 219l8 5 9 5 6 6-9-6-8-4z"/>
<path class="q34" d="M687 229l8 6 6 6-8-6z"/>
<path class="q33" d="M695 235l8 7 6 6-8-7z"/>
<path class="q32" d="M703 242l9 7 6 6-9-7z"/>
<path class="q31" d="M712 249l8 8 6 6-8-8z"/>
<path class="q30" d="M720 257l8 9 7 5-9-8z"/>
<path class="q29" d="M728 266l9 10 6 4-8-9z"/>
<path class="q28" d="M737 276l8 9 6 4-8-9z"/>
<path class="q27" d="M745 285l8 10 7 3-9-9z"/>
<path class="q25" d="M753 295l9 11 6 2-8-10z"/>
<path class="q24" d="M762 306l8 10 6 1-8-9z"/>
<path class="q23" d="M770 316l9 10 6 1-9-10z"/>
<path class="q21" d="M779 326l8 10 6 0-8-9z"/>
<path class="q20" d="M787 336l8 10 6-1-8-9z"/>
<path class="q19" d="M795 346l9 10 6-3-9-8z"/>
<path class="q18" d="M804 356l8 9 6-4-8-8z"/>
<path class="q17" d="M812 365l8 8 6-4-8-8z"/>
<path class="q16" d="M820 373l9 8 6-5-9-7z"/>
<path class="q15" d="M829 381l8 7 6-6-8-6z"/>
<path class="q13" d="M363 307l9 7 8 6 6-7-8-5-9-7z"/>
<path class="q12" d="M380 320l8 6 6-8-8-5z"/>
<path class="q11" d="M388 326l9 5 8 3 8 3 9 1 8 0 8 0 7-12-9 1-8 0-8-1-9-2-8-2-9-4z"/>
<path class="q12" d="M438 338l9-2 6-12-8 2z"/>
<path class="q13" d="M447 336l8-3 9-3 6-13-9 4-8 3z"/>
<path class="q14" d="M464 330l8-5 6-13-8 5z"/>
<path class="q15" d="M472 325l8-5 6-13-8 5z"/>
<path class="q16" d="M480 320l9-6 6-12-9 5z"/>
<path class="q18" d="M489 314l8-7 6-12-8 7z"/>
<path class="q19" d="M497 307l8-7 6-11-8 6z"/>
<path class="q20" d="M505 300l9-7 6-11-9 7z"/>
<path class="q22" d="M514 293l8-8 6-10-8 7z"/>
<path class="q23" d="M522 285l8-8 6-9-8 7z"/>
<path class="q25" d="M530 277l9-8 6-9-9 8z"/>
<path class="q26" d="M539 269l8-8 6-8-8 7z"/>
<path class="q28" d="M547 261l8-8 6-6-8 6z"/>
<path class="q29" d="M555 253l9-7 6-6-9 7z"/>
<path class="q30" d="M564 246l8-7 6-5-8 6z"/>
<path class="q31" d="M572 239l8-7 7-3-9 5z"/>
<path class="q33" d="M580 232l9-5 6-3-8 5z"/>
<path class="q34" d="M589 227l8-6 6-1-8 4z"/>
<path class="q35" d="M597 221l8-4 9-3 6 0-8 3-9 3z"/>
<path class="q36" d="M614 214l8-3 6 2-8 1z"/>
<path class="q37" d="M622 211l9-1 8-1 8 1 9 2 8 3 8 3 6 6-8-5-8-3-9-2-8-1-8-1-9 1z"/>
<path class="q36" d="M672 218l9 5 6 6-9-5z"/>
<path class="q35" d="M681 223l8 6 8 7 6 6-8-7-8-6z"/>
<path class="q34" d="M697 236l9 7 6 6-9-7z"/>
<path class="q33" d="M706 243l8 9 6 5-8-8z"/>
<path class="q32" d="M714 252l8 9 6 5-8-9z"/>
<path class="q30" d="M722 261l9 10 6 5-9-10z"/>
<path class="q29" d="M731 271l8 10 6 4-8-9z"/>
<path class="q28" d="M739 281l8 10 6 4-8-10z"/>
<path class="q26" d="M747 291l9 11 6 4-9-11z"/>
<path class="q25" d="M756 302l8 11 6 3-8-10z"/>
<path class="q23" d="M764 313l8 11 7 2-9-10z"/>
<path class="q22" d="M772 324l9 12 6 0-8-10z"/>
<path class="q20" d="M781 336l8 10 6 0-8-10z"/>
<path class="q19" d="M789 346l8 11 7-1-9-10z"/>
<path class="q18" d="M797 357l9 10 6-2-8-9z"/>
<path class="q17" d="M806 367l8 9 6-3-8-8z"/>
<path class="q15" d="M814 376l9 9 6-4-9-8z"/>
<path class="q14" d="M823 385l8 9 6-6-8-7z"/>
<path class="q13" d="M357 311l9 8 6-5-9-7z"/>
<path class="q12" d="M366 319l8 8 6-7-8-6z"/>
<path class="q11" d="M374 327l8 6 9 6 6-8-9-5-8-6z"/>
<path class="q10" d="M391 339l8 4 8 3 9 2 8 1 8 0 6-11-8 0-8 0-9-1-8-3-8-3z"/>
<path class="q11" d="M432 349l9-1 8-2 6-13-8 3-9 2z"/>
<path class="q12" d="M449 346l8-4 7-12-9 3z"/>
<path class="q13" d="M457 342l9-4 6-13-8 5z"/>
<path class="q14" d="M466 338l8-6 6-12-8 5z"/>
<path class="q15" d="M474 332l8-6 7-12-9 6z"/>
<path class="q16" d="M482 326l9-7 6-12-8 7z"/>
<path class="q18" d="M491 319l8-7 6-12-8 7z"/>
<path class="q19" d="M499 312l9-8 6-11-9 7z"/>
<path class="q21" d="M508 304l8-8 6-11-8 8z"/>
<path class="q22" d="M516 296l8-9 6-10-8 8z"/>
<path class="q24" d="M524 287l9-9 6-9-9 8z"/>
<path class="q25" d="M533 278l8-8 6-9-8 8z"/>
<path class="q27" d="M541 270l8-9 6-8-8 8z"/>
<path class="q28" d="M549 261l9-8 6-7-9 7z"/>
<path class="q30" d="M558 253l8-8 6-6-8 7z"/>
<path class="q31" d="M566 245l8-8 6-5-8 7z"/>
<path class="q33" d="M574 237l9-7 6-3-9 5z"/>
<path class="q34" d="M583 230l8-6 6-3-8 6z"/>
<path class="q35" d="M591 224l8-5 6-2-8 4z"/>
<path class="q36" d="M599 219l9-5 6 0-9 3z"/>
<path class="q37" d="M608 214l8-3 8-2 7 1-9 1-8 3z"/>
<path class="q38" d="M624 209l9-2 8 0 8 1 9 2 8 4 6 4-8-3-8-3-9-2-8-1-8 1z"/>
<path class="q37" d="M666 214l9 4 8 5 6 6-8-6-9-5z"/>
<path class="q36" d="M683 223l8 7 6 6-8-7z"/>
<path class="q35" d="M691 230l9 7 6 6-9-7z"/>
<path class="q34" d="M700 237l8 9 6 6-8-9z"/>
<path class="q33" d="M708 246l8 9 6 6-8-9z"/>
<path class="q32" d="M716 255l9 10 6 6-9-10z"/>
<path class="q30" d="M725 265l8 11 6 5-8-10z"/>
<path class="q29" d="M733 276l8 11 6 4-8-10z"/>
<path class="q27" d="M741 287l9 11 6 4-9-11z"/>
<path class="q26" d="M750 298l8 12 6 3-8-11z"/>
<path class="q24" d="M758 310l8 12 6 2-8-11z"/>
<path class="q23" d="M766 322l9 12 6 2-9-12z"/>
<path class="q21" d="M775 334l8 11 6 1-8-10z"/>
<path class="q20" d="M783 345l8 12 6 0-8-11z"/>
<path class="q18" d="M791 357l9 11 6-1-9-10z"/>
<path class="q17" d="M800 368l8 10 6-2-8-9z"/>
<path class="q15" d="M808 378l8 10 7-3-9-9z"/>
<path class="q14" d="M816 388l9 10 6-4-8-9z"/>
<path class="q13" d="M351 313l8 10 7-4-9-8z"/>
<path class="q12" d="M359 323l9 8 6-4-8-8z"/>
<path class="q11" d="M368 331l8 8 6-6-8-6z"/>
<path class="q10" d="M376 339l9 6 8 6 6-8-8-4-9-6z"/>
<path class="q9" d="M393 351l8 4 9 3 8 2 8 0 9-1 6-11-9 1-8 0-8-1-9-2-8-3z"/>
<path class="q10" d="M435 359l8-2 8-3 6-12-8 4-8 2z"/>
<path class="q11" d="M451 354l9-4 6-12-9 4z"/>
<path class="q12" d="M460 350l8-5 6-13-8 6z"/>
<path class="q13" d="M468 345l8-6 6-13-8 6z"/>
<path class="q15" d="M476 339l9-7 6-13-9 7z"/>
<path class="q16" d="M485 332l8-8 6-12-8 7z"/>
<path class="q18" d="M493 324l8-8 7-12-9 8z"/>
<path class="q19" d="M501 316l9-9 6-11-8 8z"/>
<path class="q21" d="M510 307l8-9 6-11-8 9z"/>
<path class="q23" d="M518 298l8-9 7-11-9 9z"/>
<path class="q24" d="M526 289l9-10 6-9-8 8z"/>
<path class="q26" d="M535 279l8-9 6-9-8 9z"/>
<path class="q28" d="M543 270l9-9 6-8-9 8z"/>
<path class="q29" d="M552 261l8-9 6-7-8 8z"/>
<path class="q31" d="M560 252l8-9 6-6-8 8z"/>
<path class="q32" d="M568 243l9-8 6-5-9 7z"/>
<path class="q34" d="M577 235l8-7 6-4-8 6z"/>
<path class="q35" d="M585 228l8-6 6-3-8 5z"/>
<path class="q36" d="M593 222l9-6 6-2-9 5z"/>
<path class="q37" d="M602 216l8-4 6-1-8 3z"/>
<path class="q38" d="M610 212l8-3 9-3 6 1-9 2-8 2z"/>
<path class="q39" d="M627 206l8-1 8 0 9 2 8 2 8 4 7 5-9-4-8-4-9-2-8-1-8 0z"/>
<path class="q38" d="M668 213l9 5 8 6 6 6-8-7-8-5z"/>
<path class="q37" d="M685 224l8 8 7 5-9-7z"/>
<path class="q36" d="M693 232l9 8 6 6-8-9z"/>
<path class="q35" d="M702 240l8 9 6 6-8-9z"/>
<path class="q33" d="M710 249l9 10 6 6-9-10z"/>
<path class="q32" d="M719 259l8 11 6 6-8-11z"/>
<path class="q30" d="M727 270l8 11 6 6-8-11z"/>
<path class="q29" d="M735 281l9 12 6 5-9-11z"/>
<path class="q27" d="M744 293l8 13 6 4-8-12z"/>
<path class="q25" d="M752 306l8 12 6 4-8-12z"/>
<path class="q24" d="M760 318l9 13 6 3-9-12z"/>
<path class="q22" d="M769 331l8 12 6 2-8-11z"/>
<path class="q20" d="M777 343l8 13 6 1-8-12z"/>
<path class="q19" d="M785 356l9 12 6 0-9-11z"/>
<path class="q17" d="M794 368l8 11 6-1-8-10z"/>
<path class="q16" d="M802 379l8 11 6-2-8-10z"/>
<path class="q14" d="M810 390l9 10 6-2-9-10z"/>
<path class="q13" d="M345 315l8 10 6-2-8-10z"/>
<path class="q12" d="M353 325l9 10 6-4-9-8z"/>
<path class="q11" d="M362 335l8 8 6-4-8-8z"/>
<path class="q10" d="M370 343l8 8 7-6-9-6z"/>
<path class="q9" d="M378 351l9 6 6-6-8-6z"/>
<path class="q8" d="M387 357l8 5 8 4 9 3 8 1 9 0 8-1 6-12-8 2-9 1-8 0-8-2-9-3-8-4z"/>
<path class="q9" d="M437 369l8-3 6-12-8 3z"/>
<path class="q10" d="M445 366l9-4 6-12-9 4z"/>
<path class="q11" d="M454 362l8-5 6-12-8 5z"/>
<path class="q12" d="M462 357l8-6 6-12-8 6z"/>
<path class="q13" d="M470 351l9-6 6-13-9 7z"/>
<path class="q15" d="M479 345l8-8 6-13-8 8z"/>
<path class="q16" d="M487 337l8-9 6-12-8 8z"/>
<path class="q18" d="M495 328l9-9 6-12-9 9z"/>
<path class="q20" d="M504 319l8-9 6-12-8 9z"/>
<path class="q21" d="M512 310l8-10 6-11-8 9z"/>
<path class="q23" d="M520 300l9-10 6-11-9 10z"/>
<path class="q25" d="M529 290l8-10 6-10-8 9z"/>
<path class="q27" d="M537 280l8-10 7-9-9 9z"/>
<path class="q29" d="M545 270l9-10 6-8-8 9z"/>
<path class="q30" d="M554 260l8-10 6-7-8 9z"/>
<path class="q32" d="M562 250l8-8 7-7-9 8z"/>
<path class="q33" d="M570 242l9-9 6-5-8 7z"/>
<path class="q35" d="M579 233l8-7 6-4-8 6z"/>
<path class="q36" d="M587 226l9-6 6-4-9 6z"/>
<path class="q37" d="M596 220l8-6 6-2-8 4z"/>
<path class="q38" d="M604 214l8-4 6-1-8 3z"/>
<path class="q39" d="M612 210l9-4 6 0-9 3z"/>
<path class="q40" d="M621 206l8-2 8 0 9 0 8 2 8 3 9 5 6 4-9-5-8-4-8-2-9-2-8 0-8 1z"/>
<path class="q39" d="M671 214l8 5 6 5-8-6z"/>
<path class="q38" d="M679 219l8 7 6 6-8-8z"/>
<path class="q37" d="M687 226l9 8 6 6-9-8z"/>
<path class="q36" d="M696 234l8 9 6 6-8-9z"/>
<path class="q35" d="M704 243l8 10 7 6-9-10z"/>
<path class="q33" d="M712 253l9 11 6 6-8-11z"/>
<path class="q32" d="M721 264l8 12 6 5-8-11z"/>
<path class="q30" d="M729 276l8 12 7 5-9-12z"/>
<path class="q28" d="M737 288l9 13 6 5-8-13z"/>
<path class="q27" d="M746 301l8 13 6 4-8-12z"/>
<path class="q25" d="M754 314l9 13 6 4-9-13z"/>
<path class="q23" d="M763 327l8 13 6 3-8-12z"/>
<path class="q21" d="M771 340l8 13 6 3-8-13z"/>
<path class="q19" d="M779 353l9 13 6 2-9-12z"/>
<path class="q18" d="M788 366l8 12 6 1-8-11z"/>
<path class="q16" d="M796 378l8 12 6 0-8-11z"/>
<path class="q15" d="M804 390l9 12 6-2-9-10z"/>
<path class="q13" d="M339 315l8 11 6-1-8-10z"/>
<path class="q12" d="M347 326l9 11 6-2-9-10z"/>
<path class="q11" d="M356 337l8 9 6-3-8-8z"/>
<path class="q10" d="M364 346l8 9 6-4-8-8z"/>
<path class="q9" d="M372 355l9 7 6-5-9-6z"/>
<path class="q8" d="M381 362l8 7 6-7-8-5z"/>
<path class="q7" d="M389 369l8 4 9 4 8 2 8 1 9-1 6-10-8 1-9 0-8-1-9-3-8-4z"/>
<path class="q8" d="M431 379l8-2 6-11-8 3z"/>
<path class="q9" d="M439 377l8-3 9-5 6-12-8 5-9 4z"/>
<path class="q11" d="M456 369l8-5 6-13-8 6z"/>
<path class="q12" d="M464 364l9-7 6-12-9 6z"/>
<path class="q13" d="M473 357l8-8 6-12-8 8z"/>
<path class="q15" d="M481 349l8-8 6-13-8 9z"/>
<path class="q16" d="M489 341l9-9 6-13-9 9z"/>
<path class="q18" d="M498 332l8-10 6-12-8 9z"/>
<path class="q20" d="M506 322l8-10 6-12-8 10z"/>
<path class="q22" d="M514 312l9-11 6-11-9 10z"/>
<path class="q24" d="M523 301l8-11 6-10-8 10z"/>
<path class="q26" d="M531 290l8-10 6-10-8 10z"/>
<path class="q28" d="M539 280l9-11 6-9-9 10z"/>
<path class="q29" d="M548 269l8-10 6-9-8 10z"/>
<path class="q31" d="M556 259l8-10 6-7-8 8z"/>
<path class="q33" d="M564 249l9-9 6-7-9 9z"/>
<path class="q35" d="M573 240l8-8 6-6-8 7z"/>
<path class="q36" d="M581 232l8-8 7-4-9 6z"/>
<path class="q37" d="M589 224l9-6 6-4-8 6z"/>
<path class="q38" d="M598 218l8-6 6-2-8 4z"/>
<path class="q39" d="M606 212l8-4 7-2-9 4z"/>
<path class="q40" d="M614 208l9-3 6-1-8 2z"/>
<path class="q41" d="M623 205l8-2 9 0 8 1 8 2 9 4 6 4-9-5-8-3-8-2-9 0-8 0z"/>
<path class="q40" d="M665 210l8 5 6 4-8-5z"/>
<path class="q39" d="M673 215l8 6 9 8 6 5-9-8-8-7z"/>
<path class="q37" d="M690 229l8 9 6 5-8-9z"/>
<path class="q36" d="M698 238l8 10 6 5-8-10z"/>
<path class="q35" d="M706 248l9 10 6 6-9-11z"/>
<path class="q33" d="M715 258l8 12 6 6-8-12z"/>
<path class="q32" d="M723 270l8 12 6 6-8-12z"/>
<path class="q30" d="M731 282l9 13 6 6-9-13z"/>
<path class="q28" d="M740 295l8 14 6 5-8-13z"/>
<path class="q26" d="M748 309l8 13 7 5-9-13z"/>
<path class="q24" d="M756 322l9 14 6 4-8-13z"/>
<path class="q22" d="M765 336l8 14 6 3-8-13z"/>
<path class="q20" d="M773 350l8 13 7 3-9-13z"/>
<path class="q19" d="M781 363l9 14 6 1-8-12z"/>
<path class="q17" d="M790 377l8 13 6 0-8-12z"/>
<path class="q15" d="M798 390l9 12 6 0-9-12z"/>
<path class="q14" d="M333 314l8 12 6 0-8-11z"/>
<path class="q12" d="M341 326l9 12 6-1-9-11z"/>
<path class="q11" d="M350 338l8 10 6-2-8-9z"/>
<path class="q10" d="M358 348l8 10 6-3-8-9z"/>
<path class="q9" d="M366 358l9 8 6-4-9-7z"/>
<path class="q8" d="M375 366l8 8 6-5-8-7z"/>
<path class="q7" d="M383 374l8 5 6-6-8-4z"/>
<path class="q6" d="M391 379l9 5 8 3 8 1 9 1 6-10-9 1-8-1-8-2-9-4z"/>
<path class="q7" d="M425 389l8-2 8-2 6-11-8 3-8 2z"/>
<path class="q8" d="M441 385l9-4 6-12-9 5z"/>
<path class="q9" d="M450 381l8-5 6-12-8 5z"/>
<path class="q10" d="M458 376l8-7 7-12-9 7z"/>
<path class="q12" d="M466 369l9-7 6-13-8 8z"/>
<path class="q13" d="M475 362l8-9 6-12-8 8z"/>
<path class="q15" d="M483 353l9-9 6-12-9 9z"/>
<path class="q17" d="M492 344l8-10 6-12-8 10z"/>
<path class="q19" d="M500 334l8-10 6-12-8 10z"/>
<path class="q21" d="M508 324l9-11 6-12-9 11z"/>
<path class="q23" d="M517 313l8-11 6-12-8 11z"/>
<path class="q25" d="M525 302l8-12 6-10-8 10z"/>
<path class="q27" d="M533 290l9-11 6-10-9 11z"/>
<path class="q29" d="M542 279l8-11 6-9-8 10z"/>
<path class="q30" d="M550 268l8-10 6-9-8 10z"/>
<path class="q32" d="M558 258l9-10 6-8-9 9z"/>
<path class="q34" d="M567 248l8-9 6-7-8 8z"/>
<path class="q36" d="M575 239l8-9 6-6-8 8z"/>
<path class="q37" d="M583 230l9-7 6-5-9 6z"/>
<path class="q38" d="M592 223l8-7 6-4-8 6z"/>
<path class="q39" d="M600 216l8-5 6-3-8 4z"/>
<path class="q40" d="M608 211l9-4 6-2-9 3z"/>
<path class="q41" d="M617 207l8-3 6-1-8 2z"/>
<path class="q42" d="M625 204l8-1 9 0 8 1 8 3 7 3-9-4-8-2-8-1-9 0z"/>
<path class="q41" d="M658 207l9 4 8 6 6 4-8-6-8-5z"/>
<path class="q40" d="M675 217l9 7 6 5-9-8z"/>
<path class="q39" d="M684 224l8 8 6 6-8-9z"/>
<path class="q38" d="M692 232l8 10 6 6-8-10z"/>
<path class="q36" d="M700 242l9 11 6 5-9-10z"/>
<path class="q35" d="M709 253l8 11 6 6-8-12z"/>
<path class="q33" d="M717 264l8 12 6 6-8-12z"/>
<path class="q31" d="M725 276l9 13 6 6-9-13z"/>
<path class="q29" d="M734 289l8 14 6 6-8-14z"/>
<path class="q27" d="M742 303l8 14 6 5-8-13z"/>
<path class="q25" d="M750 317l9 14 6 5-9-14z"/>
<path class="q23" d="M759 331l8 15 6 4-8-14z"/>
<path class="q21" d="M767 346l8 14 6 3-8-13z"/>
<path class="q19" d="M775 360l9 14 6 3-9-14z"/>
<path class="q18" d="M784 374l8 14 6 2-8-13z"/>
<path class="q16" d="M792 388l8 13 7 1-9-12z"/>
<path class="q15" d="M327 311l8 14 6 1-8-12z"/>
<path class="q13" d="M335 325l8 12 7 1-9-12z"/>
<path class="q11" d="M343 337l9 12 6-1-8-10z"/>
<path class="q10" d="M352 349l8 10 6-1-8-10z"/>
<path class="q9" d="M360 359l9 10 6-3-9-8z"/>
<path class="q8" d="M369 369l8 8 6-3-8-8z"/>
<path class="q7" d="M377 377l8 7 6-5-8-5z"/>
<path class="q6" d="M385 384l9 6 8 4 6-7-8-3-9-5z"/>
<path class="q5" d="M402 394l8 2 9 1 6-8-9-1-8-1z"/>
<path class="q6" d="M419 397l8 0 8-2 6-10-8 2-8 2z"/>
<path class="q7" d="M435 395l9-3 6-11-9 4z"/>
<path class="q8" d="M444 392l8-5 6-11-8 5z"/>
<path class="q9" d="M452 387l8-6 6-12-8 7z"/>
<path class="q10" d="M460 381l9-7 6-12-9 7z"/>
<path class="q12" d="M469 374l8-8 6-13-8 9z"/>
<path class="q13" d="M477 366l8-9 7-13-9 9z"/>
<path class="q15" d="M485 357l9-10 6-13-8 10z"/>
<path class="q17" d="M494 347l8-11 6-12-8 10z"/>
<path class="q19" d="M502 336l8-11 7-12-9 11z"/>
<path class="q21" d="M510 325l9-11 6-12-8 11z"/>
<path class="q23" d="M519 314l8-12 6-12-8 12z"/>
<path class="q25" d="M527 302l9-12 6-11-9 11z"/>
<path class="q27" d="M536 290l8-11 6-11-8 11z"/>
<path class="q29" d="M544 279l8-11 6-10-8 10z"/>
<path class="q31" d="M552 268l9-11 6-9-9 10z"/>
<path class="q33" d="M561 257l8-10 6-8-8 9z"/>
<path class="q35" d="M569 247l8-10 6-7-8 9z"/>
<path class="q37" d="M577 237l9-8 6-6-9 7z"/>
<path class="q38" d="M586 229l8-8 6-5-8 7z"/>
<path class="q39" d="M594 221l8-6 6-4-8 5z"/>
<path class="q40" d="M602 215l9-5 6-3-9 4z"/>
<path class="q41" d="M611 210l8-4 6-2-8 3z"/>
<path class="q42" d="M619 206l8-2 9-1 6 0-9 0-8 1z"/>
<path class="q43" d="M636 203l8 0 8 2 6 2-8-3-8-1z"/>
<path class="q42" d="M652 205l9 4 8 5 6 3-8-6-9-4z"/>
<path class="q41" d="M669 214l8 6 7 4-9-7z"/>
<path class="q40" d="M677 220l9 8 6 4-8-8z"/>
<path class="q39" d="M686 228l8 9 6 5-8-10z"/>
<path class="q38" d="M694 237l8 10 7 6-9-11z"/>
<path class="q36" d="M702 247l9 11 6 6-8-11z"/>
<path class="q35" d="M711 258l8 12 6 6-8-12z"/>
<path class="q33" d="M719 270l9 14 6 5-9-13z"/>
<path class="q31" d="M728 284l8 13 6 6-8-14z"/>
<path class="q29" d="M736 297l8 14 6 6-8-14z"/>
<path class="q27" d="M744 311l9 15 6 5-9-14z"/>
<path class="q25" d="M753 326l8 15 6 5-8-15z"/>
<path class="q23" d="M761 341l8 15 6 4-8-14z"/>
<path class="q21" d="M769 356l9 14 6 4-9-14z"/>
<path class="q19" d="M778 370l8 15 6 3-8-14z"/>
<path class="q17" d="M786 385l8 14 6 2-8-13z"/>
<path class="q16" d="M321 308l8 14 6 3-8-14z"/>
<path class="q14" d="M329 322l8 14 6 1-8-12z"/>
<path class="q12" d="M337 336l9 12 6 1-9-12z"/>
<path class="q10" d="M346 348l8 12 6-1-8-10z"/>
<path class="q9" d="M354 360l8 10 7-1-9-10z"/>
<path class="q8" d="M362 370l9 9 6-2-8-8z"/>
<path class="q7" d="M371 379l8 8 6-3-8-7z"/>
<path class="q6" d="M379 387l8 7 7-4-9-6z"/>
<path class="q5" d="M387 394l9 5 8 4 9 2 8 0 8-1 6-9-8 2-8 0-9-1-8-2-8-4z"/>
<path class="q6" d="M429 404l9-2 6-10-9 3z"/>
<path class="q7" d="M438 402l8-4 6-11-8 5z"/>
<path class="q8" d="M446 398l8-6 6-11-8 6z"/>
<path class="q9" d="M454 392l9-6 6-12-9 7z"/>
<path class="q10" d="M463 386l8-8 6-12-8 8z"/>
<path class="q12" d="M471 378l8-9 6-12-8 9z"/>
<path class="q14" d="M479 369l9-10 6-12-9 10z"/>
<path class="q16" d="M488 359l8-10 6-13-8 11z"/>
<path class="q18" d="M496 349l8-11 6-13-8 11z"/>
<path class="q20" d="M504 338l9-12 6-12-9 11z"/>
<path class="q22" d="M513 326l8-12 6-12-8 12z"/>
<path class="q24" d="M521 314l8-12 7-12-9 12z"/>
<path class="q26" d="M529 302l9-12 6-11-8 11z"/>
<path class="q28" d="M538 290l8-12 6-10-8 11z"/>
<path class="q30" d="M546 278l8-11 7-10-9 11z"/>
<path class="q32" d="M554 267l9-11 6-9-8 10z"/>
<path class="q34" d="M563 256l8-11 6-8-8 10z"/>
<path class="q36" d="M571 245l9-9 6-7-9 8z"/>
<path class="q38" d="M580 236l8-8 6-7-8 8z"/>
<path class="q39" d="M588 228l8-8 6-5-8 6z"/>
<path class="q40" d="M596 220l9-6 6-4-9 5z"/>
<path class="q41" d="M605 214l8-5 6-3-8 4z"/>
<path class="q42" d="M613 209l8-3 6-2-8 2z"/>
<path class="q43" d="M621 206l9-2 8 0 8 1 9 2 8 4 6 3-8-5-9-4-8-2-8 0-9 1z"/>
<path class="q42" d="M663 211l8 6 6 3-8-6z"/>
<path class="q41" d="M671 217l9 7 6 4-9-8z"/>
<path class="q40" d="M680 224l8 8 6 5-8-9z"/>
<path class="q39" d="M688 232l8 10 6 5-8-10z"/>
<path class="q38" d="M696 242l9 11 6 5-9-11z"/>
<path class="q36" d="M705 253l8 12 6 5-8-12z"/>
<path class="q34" d="M713 265l8 13 7 6-9-14z"/>
<path class="q32" d="M721 278l9 13 6 6-8-13z"/>
<path class="q30" d="M730 291l8 15 6 5-8-14z"/>
<path class="q28" d="M738 306l9 14 6 6-9-15z"/>
<path class="q26" d="M747 320l8 15 6 6-8-15z"/>
<path class="q24" d="M755 335l8 16 6 5-8-15z"/>
<path class="q22" d="M763 351l9 15 6 4-9-14z"/>
<path class="q20" d="M772 366l8 15 6 4-8-15z"/>
<path class="q18" d="M780 381l8 14 6 4-8-14z"/>
<path class="q17" d="M315 304l8 15 6 3-8-14z"/>
<path class="q15" d="M323 319l8 14 6 3-8-14z"/>
<path class="q13" d="M331 333l9 13 6 2-9-12z"/>
<path class="q11" d="M340 346l8 13 6 1-8-12z"/>
<path class="q9" d="M348 359l8 11 6 0-8-10z"/>
<path class="q8" d="M356 370l9 10 6-1-9-9z"/>
<path class="q7" d="M365 380l8 9 6-2-8-8z"/>
<path class="q6" d="M373 389l8 8 6-3-8-7z"/>
<path class="q5" d="M381 397l9 6 8 5 6-5-8-4-9-5z"/>
<path class="q4" d="M398 408l8 3 9 1 8 0 6-8-8 1-8 0-9-2z"/>
<path class="q5" d="M423 412l8-2 7-8-9 2z"/>
<path class="q6" d="M431 410l9-3 6-9-8 4z"/>
<path class="q7" d="M440 407l8-4 6-11-8 6z"/>
<path class="q8" d="M448 403l9-6 6-11-9 6z"/>
<path class="q9" d="M457 397l8-7 6-12-8 8z"/>
<path class="q11" d="M465 390l8-9 6-12-8 9z"/>
<path class="q12" d="M473 381l9-9 6-13-9 10z"/>
<path class="q14" d="M482 372l8-11 6-12-8 10z"/>
<path class="q16" d="M490 361l8-11 6-12-8 11z"/>
<path class="q18" d="M498 350l9-11 6-13-9 12z"/>
<path class="q20" d="M507 339l8-12 6-13-8 12z"/>
<path class="q23" d="M515 327l8-13 6-12-8 12z"/>
<path class="q25" d="M523 314l9-12 6-12-9 12z"/>
<path class="q27" d="M532 302l8-12 6-12-8 12z"/>
<path class="q29" d="M540 290l8-13 6-10-8 11z"/>
<path class="q31" d="M548 277l9-11 6-10-9 11z"/>
<path class="q33" d="M557 266l8-11 6-10-8 11z"/>
<path class="q35" d="M565 255l8-10 7-9-9 9z"/>
<path class="q37" d="M573 245l9-10 6-7-8 8z"/>
<path class="q39" d="M582 235l8-8 6-7-8 8z"/>
<path class="q40" d="M590 227l8-7 7-6-9 6z"/>
<path class="q41" d="M598 220l9-6 6-5-8 5z"/>
<path class="q42" d="M607 214l8-4 6-4-8 3z"/>
<path class="q43" d="M615 210l9-3 8-2 6-1-8 0-9 2z"/>
<path class="q44" d="M632 205l8 0 9 2 8 3 6 1-8-4-9-2-8-1z"/>
<path class="q43" d="M657 210l8 5 6 2-8-6z"/>
<path class="q42" d="M665 215l9 6 6 3-9-7z"/>
<path class="q41" d="M674 221l8 8 6 3-8-8z"/>
<path class="q40" d="M682 229l8 9 6 4-8-10z"/>
<path class="q39" d="M690 238l9 10 6 5-9-11z"/>
<path class="q37" d="M699 248l8 11 6 6-8-12z"/>
<path class="q36" d="M707 259l8 13 6 6-8-13z"/>
<path class="q34" d="M715 272l9 13 6 6-9-13z"/>
<path class="q32" d="M724 285l8 15 6 6-8-15z"/>
<path class="q30" d="M732 300l8 14 7 6-9-14z"/>
<path class="q28" d="M740 314l9 16 6 5-8-15z"/>
<path class="q25" d="M749 330l8 15 6 6-8-16z"/>
<path class="q23" d="M757 345l8 16 7 5-9-15z"/>
<path class="q21" d="M765 361l9 15 6 5-8-15z"/>
<path class="q19" d="M774 376l8 15 6 4-8-14z"/>
<path class="q18" d="M308 299l9 16 6 4-8-15z"/>
<path class="q16" d="M317 315l8 14 6 4-8-14z"/>
<path class="q14" d="M325 329l9 15 6 2-9-13z"/>
<path class="q12" d="M334 344l8 13 6 2-8-13z"/>
<path class="q10" d="M342 357l8 12 6 1-8-11z"/>
<path class="q9" d="M350 369l9 11 6 0-9-10z"/>
<path class="q7" d="M359 380l8 10 6-1-8-9z"/>
<path class="q6" d="M367 390l8 9 6-2-8-8z"/>
<path class="q5" d="M375 399l9 7 6-3-9-6z"/>
<path class="q4" d="M384 406l8 5 8 5 9 2 8 1 8-1 6-8-8 2-8 0-9-1-8-3-8-5z"/>
<path class="q5" d="M425 418l9-2 6-9-9 3z"/>
<path class="q6" d="M434 416l8-4 6-9-8 4z"/>
<path class="q7" d="M442 412l8-5 7-10-9 6z"/>
<path class="q8" d="M450 407l9-7 6-10-8 7z"/>
<path class="q9" d="M459 400l8-7 6-12-8 9z"/>
<path class="q11" d="M467 393l8-9 7-12-9 9z"/>
<path class="q13" d="M475 384l9-10 6-13-8 11z"/>
<path class="q15" d="M484 374l8-11 6-13-8 11z"/>
<path class="q17" d="M492 363l9-12 6-12-9 11z"/>
<path class="q19" d="M501 351l8-12 6-12-8 12z"/>
<path class="q21" d="M509 339l8-12 6-13-8 13z"/>
<path class="q23" d="M517 327l9-13 6-12-9 12z"/>
<path class="q26" d="M526 314l8-13 6-11-8 12z"/>
<path class="q28" d="M534 301l8-12 6-12-8 13z"/>
<path class="q30" d="M542 289l9-12 6-11-9 11z"/>
<path class="q32" d="M551 277l8-12 6-10-8 11z"/>
<path class="q34" d="M559 265l8-11 6-9-8 10z"/>
<path class="q36" d="M567 254l9-10 6-9-9 10z"/>
<path class="q38" d="M576 244l8-9 6-8-8 8z"/>
<path class="q39" d="M584 235l8-8 6-7-8 7z"/>
<path class="q41" d="M592 227l9-7 6-6-9 6z"/>
<path class="q42" d="M601 220l8-5 6-5-8 4z"/>
<path class="q43" d="M609 215l8-5 7-3-9 3z"/>
<path class="q44" d="M617 210l9-2 8-1 8 1 9 2 8 4 6 1-8-5-8-3-9-2-8 0-8 2z"/>
<path class="q43" d="M659 214l9 5 6 2-9-6z"/>
<path class="q42" d="M668 219l8 7 6 3-8-8z"/>
<path class="q41" d="M676 226l8 8 6 4-8-9z"/>
<path class="q40" d="M684 234l9 10 6 4-9-10z"/>
<path class="q39" d="M693 244l8 11 6 4-8-11z"/>
<path class="q37" d="M701 255l8 12 6 5-8-13z"/>
<path class="q35" d="M709 267l9 13 6 5-9-13z"/>
<path class="q33" d="M718 280l8 14 6 6-8-15z"/>
<path class="q31" d="M726 294l8 15 6 5-8-14z"/>
<path class="q29" d="M734 309l9 15 6 6-9-16z"/>
<path class="q27" d="M743 324l8 15 6 6-8-15z"/>
<path class="q25" d="M751 339l8 16 6 6-8-16z"/>
<path class="q22" d="M759 355l9 16 6 5-9-15z"/>
<path class="q20" d="M768 371l8 15 6 5-8-15z"/>
<path class="q19" d="M302 294l9 16 6 5-9-16z"/>
<path class="q17" d="M311 310l8 15 6 4-8-14z"/>
<path class="q15" d="M319 325l8 15 7 4-9-15z"/>
<path class="q13" d="M327 340l9 14 6 3-8-13z"/>
<path class="q11" d="M336 354l8 13 6 2-8-12z"/>
<path class="q9" d="M344 367l8 12 7 1-9-11z"/>
<path class="q8" d="M352 379l9 11 6 0-8-10z"/>
<path class="q7" d="M361 390l8 9 6 0-8-9z"/>
<path class="q5" d="M369 399l9 8 8 7 6-3-8-5-9-7z"/>
<path class="q4" d="M386 414l8 5 9 4 8 2 8 0 9-1 6-8-9 2-8 1-8-1-9-2-8-5z"/>
<path class="q5" d="M428 424l8-3 6-9-8 4z"/>
<path class="q6" d="M436 421l8-5 6-9-8 5z"/>
<path class="q7" d="M444 416l9-5 6-11-9 7z"/>
<path class="q8" d="M453 411l8-8 6-10-8 7z"/>
<path class="q10" d="M461 403l8-8 6-11-8 9z"/>
<path class="q11" d="M469 395l9-9 6-12-9 10z"/>
<path class="q13" d="M478 386l8-11 6-12-8 11z"/>
<path class="q15" d="M486 375l8-11 7-13-9 12z"/>
<path class="q17" d="M494 364l9-12 6-13-8 12z"/>
<path class="q20" d="M503 352l8-13 6-12-8 12z"/>
<path class="q22" d="M511 339l8-12 7-13-9 13z"/>
<path class="q24" d="M519 327l9-13 6-13-8 13z"/>
<path class="q26" d="M528 314l8-13 6-12-8 12z"/>
<path class="q29" d="M536 301l9-13 6-11-9 12z"/>
<path class="q31" d="M545 288l8-12 6-11-8 12z"/>
<path class="q33" d="M553 276l8-11 6-11-8 11z"/>
<path class="q35" d="M561 265l9-11 6-10-9 10z"/>
<path class="q37" d="M570 254l8-10 6-9-8 9z"/>
<path class="q39" d="M578 244l8-9 6-8-8 8z"/>
<path class="q40" d="M586 235l9-8 6-7-9 7z"/>
<path class="q41" d="M595 227l8-6 6-6-8 5z"/>
<path class="q43" d="M603 221l8-5 9-4 6-4-9 2-8 5z"/>
<path class="q44" d="M620 212l8-2 8 0 9 1 8 3 8 4 7 1-9-5-8-4-9-2-8-1-8 1z"/>
<path class="q43" d="M661 218l9 6 6 2-8-7z"/>
<path class="q42" d="M670 224l8 8 6 2-8-8z"/>
<path class="q41" d="M678 232l8 8 7 4-9-10z"/>
<path class="q40" d="M686 240l9 11 6 4-8-11z"/>
<path class="q38" d="M695 251l8 11 6 5-8-12z"/>
<path class="q37" d="M703 262l9 13 6 5-9-13z"/>
<path class="q35" d="M712 275l8 13 6 6-8-14z"/>
<path class="q33" d="M720 288l8 15 6 6-8-15z"/>
<path class="q31" d="M728 303l9 15 6 6-9-15z"/>
<path class="q28" d="M737 318l8 15 6 6-8-15z"/>
<path class="q26" d="M745 333l8 16 6 6-8-16z"/>
<path class="q24" d="M753 349l9 16 6 6-9-16z"/>
<path class="q22" d="M762 365l8 16 6 5-8-15z"/>
<path class="q21" d="M296 288l9 16 6 6-9-16z"/>
<path class="q18" d="M305 304l8 16 6 5-8-15z"/>
<path class="q16" d="M313 320l8 15 6 5-8-15z"/>
<path class="q14" d="M321 335l9 15 6 4-9-14z"/>
<path class="q12" d="M330 350l8 14 6 3-8-13z"/>
<path class="q10" d="M338 364l8 12 6 3-8-12z"/>
<path class="q9" d="M346 376l9 12 6 2-9-11z"/>
<path class="q7" d="M355 388l8 10 6 1-8-9z"/>
<path class="q6" d="M363 398l8 10 7-1-9-8z"/>
<path class="q5" d="M371 408l9 7 6-1-8-7z"/>
<path class="q4" d="M380 415l8 6 8 5 7-3-9-4-8-5z"/>
<path class="q3" d="M396 426l9 3 8 1 6-5-8 0-8-2z"/>
<path class="q4" d="M413 430l9 0 8-2 6-7-8 3-9 1z"/>
<path class="q5" d="M430 428l8-3 6-9-8 5z"/>
<path class="q6" d="M438 425l9-5 6-9-9 5z"/>
<path class="q7" d="M447 420l8-7 6-10-8 8z"/>
<path class="q8" d="M455 413l8-7 6-11-8 8z"/>
<path class="q10" d="M463 406l9-9 6-11-9 9z"/>
<path class="q12" d="M472 397l8-10 6-12-8 11z"/>
<path class="q14" d="M480 387l8-11 6-12-8 11z"/>
<path class="q16" d="M488 376l9-12 6-12-9 12z"/>
<path class="q18" d="M497 364l8-12 6-13-8 13z"/>
<path class="q20" d="M505 352l8-13 6-12-8 12z"/>
<path class="q23" d="M513 339l9-13 6-12-9 13z"/>
<path class="q25" d="M522 326l8-13 6-12-8 13z"/>
<path class="q27" d="M530 313l8-12 7-13-9 13z"/>
<path class="q30" d="M538 301l9-13 6-12-8 12z"/>
<path class="q32" d="M547 288l8-12 6-11-8 11z"/>
<path class="q34" d="M555 276l8-12 7-10-9 11z"/>
<path class="q36" d="M563 264l9-10 6-10-8 10z"/>
<path class="q38" d="M572 254l8-10 6-9-8 9z"/>
<path class="q39" d="M580 244l9-8 6-9-9 8z"/>
<path class="q41" d="M589 236l8-8 6-7-8 6z"/>
<path class="q42" d="M597 228l8-6 6-6-8 5z"/>
<path class="q43" d="M605 222l9-4 6-6-9 4z"/>
<path class="q44" d="M614 218l8-3 8-2 6-3-8 0-8 2z"/>
<path class="q45" d="M630 213l9 0 8 2 6-1-8-3-9-1z"/>
<path class="q44" d="M647 215l8 3 9 6 6 0-9-6-8-4z"/>
<path class="q43" d="M664 224l8 6 6 2-8-8z"/>
<path class="q42" d="M672 230l8 8 6 2-8-8z"/>
<path class="q41" d="M680 238l9 10 6 3-9-11z"/>
<path class="q40" d="M689 248l8 10 6 4-8-11z"/>
<path class="q38" d="M697 258l8 12 7 5-9-13z"/>
<path class="q36" d="M705 270l9 13 6 5-8-13z"/>
<path class="q34" d="M714 283l8 14 6 6-8-15z"/>
<path class="q32" d="M722 297l8 15 7 6-9-15z"/>
<path class="q30" d="M730 312l9 16 6 5-8-15z"/>
<path class="q28" d="M739 328l8 15 6 6-8-16z"/>
<path class="q25" d="M747 343l9 16 6 6-9-16z"/>
<path class="q23" d="M756 359l8 16 6 6-8-16z"/>
<path class="q22" d="M290 282l9 17 6 5-9-16z"/>
<path class="q20" d="M299 299l8 16 6 5-8-16z"/>
<path class="q18" d="M307 315l8 15 6 5-8-15z"/>
<path class="q15" d="M315 330l9 15 6 5-9-15z"/>
<path class="q13" d="M324 345l8 14 6 5-8-14z"/>
<path class="q11" d="M332 359l8 14 6 3-8-12z"/>
<path class="q10" d="M340 373l9 12 6 3-9-12z"/>
<path class="q8" d="M349 385l8 12 6 1-8-10z"/>
<path class="q7" d="M357 397l8 10 6 1-8-10z"/>
<path class="q5" d="M365 407l9 8 8 7 6-1-8-6-9-7z"/>
<path class="q4" d="M382 422l8 6 6-2-8-5z"/>
<path class="q3" d="M390 428l9 4 8 2 8 1 7-5-9 0-8-1-9-3z"/>
<path class="q4" d="M415 435l9-1 8-2 6-7-8 3-8 2z"/>
<path class="q5" d="M432 432l9-4 6-8-9 5z"/>
<path class="q6" d="M441 428l8-6 6-9-8 7z"/>
<path class="q7" d="M449 422l8-7 6-9-8 7z"/>
<path class="q9" d="M457 415l9-8 6-10-9 9z"/>
<path class="q11" d="M466 407l8-9 6-11-8 10z"/>
<path class="q13" d="M474 398l8-11 6-11-8 11z"/>
<path class="q15" d="M482 387l9-11 6-12-9 12z"/>
<path class="q17" d="M491 376l8-12 6-12-8 12z"/>
<path class="q19" d="M499 364l8-12 6-13-8 13z"/>
<path class="q21" d="M507 352l9-13 6-13-9 13z"/>
<path class="q24" d="M516 339l8-13 6-13-8 13z"/>
<path class="q26" d="M524 326l8-13 6-12-8 12z"/>
<path class="q28" d="M532 313l9-13 6-12-9 13z"/>
<path class="q30" d="M541 300l8-12 6-12-8 12z"/>
<path class="q33" d="M549 288l8-12 6-12-8 12z"/>
<path class="q35" d="M557 276l9-11 6-11-9 10z"/>
<path class="q37" d="M566 265l8-11 6-10-8 10z"/>
<path class="q38" d="M574 254l8-9 7-9-9 8z"/>
<path class="q40" d="M582 245l9-8 6-9-8 8z"/>
<path class="q41" d="M591 237l8-7 6-8-8 6z"/>
<path class="q43" d="M599 230l8-6 9-4 6-5-8 3-9 4z"/>
<path class="q44" d="M616 220l8-2 6-5-8 2z"/>
<path class="q45" d="M624 218l9-1 8 1 8 2 6-2-8-3-8-2-9 0z"/>
<path class="q44" d="M649 220l9 4 8 6 6 0-8-6-9-6z"/>
<path class="q43" d="M666 230l8 7 6 1-8-8z"/>
<path class="q42" d="M674 237l9 8 6 3-9-10z"/>
<path class="q41" d="M683 245l8 10 6 3-8-10z"/>
<path class="q39" d="M691 255l8 12 6 3-8-12z"/>
<path class="q37" d="M699 267l9 12 6 4-9-13z"/>
<path class="q35" d="M708 279l8 14 6 4-8-14z"/>
<path class="q33" d="M716 293l8 14 6 5-8-15z"/>
<path class="q31" d="M724 307l9 15 6 6-9-16z"/>
<path class="q29" d="M733 322l8 15 6 6-8-15z"/>
<path class="q27" d="M741 337l8 16 7 6-9-16z"/>
<path class="q24" d="M749 353l9 17 6 5-8-16z"/>
<path class="q24" d="M284 277l8 16 7 6-9-17z"/>
<path class="q21" d="M292 293l9 16 6 6-8-16z"/>
<path class="q19" d="M301 309l8 15 6 6-8-15z"/>
<path class="q17" d="M309 324l9 16 6 5-9-15z"/>
<path class="q15" d="M318 340l8 15 6 4-8-14z"/>
<path class="q13" d="M326 355l8 14 6 4-8-14z"/>
<path class="q11" d="M334 369l9 13 6 3-9-12z"/>
<path class="q9" d="M343 382l8 12 6 3-8-12z"/>
<path class="q7" d="M351 394l8 10 6 3-8-10z"/>
<path class="q6" d="M359 404l9 10 6 1-9-8z"/>
<path class="q5" d="M368 414l8 8 6 0-8-7z"/>
<path class="q4" d="M376 422l8 6 9 6 6-2-9-4-8-6z"/>
<path class="q3" d="M393 434l8 3 8 2 9 0 6-5-9 1-8-1-8-2z"/>
<path class="q4" d="M418 439l8-2 6-5-8 2z"/>
<path class="q5" d="M426 437l8-3 9-4 6-8-8 6-9 4z"/>
<path class="q7" d="M443 430l8-6 6-9-8 7z"/>
<path class="q8" d="M451 424l8-8 7-9-9 8z"/>
<path class="q10" d="M459 416l9-8 6-10-8 9z"/>
<path class="q11" d="M468 408l8-10 6-11-8 11z"/>
<path class="q13" d="M476 398l9-10 6-12-9 11z"/>
<path class="q15" d="M485 388l8-12 6-12-8 12z"/>
<path class="q18" d="M493 376l8-12 6-12-8 12z"/>
<path class="q20" d="M501 364l9-13 6-12-9 13z"/>
<path class="q22" d="M510 351l8-12 6-13-8 13z"/>
<path class="q24" d="M518 339l8-13 6-13-8 13z"/>
<path class="q27" d="M526 326l9-13 6-13-9 13z"/>
<path class="q29" d="M535 313l8-13 6-12-8 12z"/>
<path class="q31" d="M543 300l8-12 6-12-8 12z"/>
<path class="q33" d="M551 288l9-12 6-11-9 11z"/>
<path class="q35" d="M560 276l8-11 6-11-8 11z"/>
<path class="q37" d="M568 265l8-10 6-10-8 9z"/>
<path class="q39" d="M576 255l9-9 6-9-9 8z"/>
<path class="q41" d="M585 246l8-7 6-9-8 7z"/>
<path class="q42" d="M593 239l8-7 6-8-8 6z"/>
<path class="q43" d="M601 232l9-5 6-7-9 4z"/>
<path class="q44" d="M610 227l8-3 8-2 7-5-9 1-8 2z"/>
<path class="q45" d="M626 222l9 0 8 1 9 3 6-2-9-4-8-2-8-1z"/>
<path class="q44" d="M652 226l8 5 6-1-8-6z"/>
<path class="q43" d="M660 231l8 6 9 7 6 1-9-8-8-7z"/>
<path class="q41" d="M677 244l8 10 6 1-8-10z"/>
<path class="q40" d="M685 254l8 10 6 3-8-12z"/>
<path class="q38" d="M693 264l9 12 6 3-9-12z"/>
<path class="q37" d="M702 276l8 12 6 5-8-14z"/>
<path class="q35" d="M710 288l8 14 6 5-8-14z"/>
<path class="q33" d="M718 302l9 15 6 5-9-15z"/>
<path class="q30" d="M727 317l8 15 6 5-8-15z"/>
<path class="q28" d="M735 332l8 16 6 5-8-16z"/>
<path class="q26" d="M743 348l9 16 6 6-9-17z"/>
<path class="q25" d="M278 271l8 16 6 6-8-16z"/>
<path class="q23" d="M286 287l9 16 6 6-9-16z"/>
<path class="q20" d="M295 303l8 16 6 5-8-15z"/>
<path class="q18" d="M303 319l8 15 7 6-9-16z"/>
<path class="q16" d="M311 334l9 15 6 6-8-15z"/>
<path class="q14" d="M320 349l8 15 6 5-8-14z"/>
<path class="q12" d="M328 364l8 13 7 5-9-13z"/>
<path class="q10" d="M336 377l9 13 6 4-8-12z"/>
<path class="q8" d="M345 390l8 11 6 3-8-10z"/>
<path class="q7" d="M353 401l9 11 6 2-9-10z"/>
<path class="q6" d="M362 412l8 8 6 2-8-8z"/>
<path class="q5" d="M370 420l8 8 6 0-8-6z"/>
<path class="q4" d="M378 428l9 6 8 4 6-1-8-3-9-6z"/>
<path class="q3" d="M395 438l8 3 9 1 6-3-9 0-8-2z"/>
<path class="q4" d="M412 442l8 0 8-2 6-6-8 3-8 2z"/>
<path class="q5" d="M428 440l9-4 6-6-9 4z"/>
<path class="q6" d="M437 436l8-5 6-7-8 6z"/>
<path class="q7" d="M445 431l8-6 6-9-8 8z"/>
<path class="q9" d="M453 425l9-8 6-9-9 8z"/>
<path class="q10" d="M462 417l8-9 6-10-8 10z"/>
<path class="q12" d="M470 408l8-10 7-10-9 10z"/>
<path class="q14" d="M478 398l9-11 6-11-8 12z"/>
<path class="q16" d="M487 387l8-11 6-12-8 12z"/>
<path class="q18" d="M495 376l8-12 7-13-9 13z"/>
<path class="q21" d="M503 364l9-13 6-12-8 12z"/>
<path class="q23" d="M512 351l8-13 6-12-8 13z"/>
<path class="q25" d="M520 338l9-13 6-12-9 13z"/>
<path class="q28" d="M529 325l8-12 6-13-8 13z"/>
<path class="q30" d="M537 313l8-13 6-12-8 12z"/>
<path class="q32" d="M545 300l9-12 6-12-9 12z"/>
<path class="q34" d="M554 288l8-11 6-12-8 11z"/>
<path class="q36" d="M562 277l8-11 6-11-8 10z"/>
<path class="q38" d="M570 266l9-9 6-11-9 9z"/>
<path class="q40" d="M579 257l8-8 6-10-8 7z"/>
<path class="q41" d="M587 249l8-8 6-9-8 7z"/>
<path class="q42" d="M595 241l9-5 6-9-9 5z"/>
<path class="q43" d="M604 236l8-5 6-7-8 3z"/>
<path class="q44" d="M612 231l8-3 9-1 6-5-9 0-8 2z"/>
<path class="q45" d="M629 227l8 0 8 2 7-3-9-3-8-1z"/>
<path class="q44" d="M645 229l9 4 8 5 6-1-8-6-8-5z"/>
<path class="q43" d="M662 238l8 7 7-1-9-7z"/>
<path class="q42" d="M670 245l9 8 6 1-8-10z"/>
<path class="q41" d="M679 253l8 9 6 2-8-10z"/>
<path class="q39" d="M687 262l9 11 6 3-9-12z"/>
<path class="q38" d="M696 273l8 12 6 3-8-12z"/>
<path class="q36" d="M704 285l8 13 6 4-8-14z"/>
<path class="q34" d="M712 298l9 14 6 5-9-15z"/>
<path class="q32" d="M721 312l8 15 6 5-8-15z"/>
<path class="q30" d="M729 327l8 15 6 6-8-16z"/>
<path class="q27" d="M737 342l9 16 6 6-9-16z"/>
<path class="q26" d="M272 266l8 15 6 6-8-16z"/>
<path class="q24" d="M280 281l9 16 6 6-9-16z"/>
<path class="q22" d="M289 297l8 16 6 6-8-16z"/>
<path class="q20" d="M297 313l8 15 6 6-8-15z"/>
<path class="q17" d="M305 328l9 15 6 6-9-15z"/>
<path class="q15" d="M314 343l8 15 6 6-8-15z"/>
<path class="q13" d="M322 358l8 14 6 5-8-13z"/>
<path class="q11" d="M330 372l9 13 6 5-9-13z"/>
<path class="q10" d="M339 385l8 12 6 4-8-11z"/>
<path class="q8" d="M347 397l8 11 7 4-9-11z"/>
<path class="q7" d="M355 408l9 10 6 2-8-8z"/>
<path class="q6" d="M364 418l8 8 6 2-8-8z"/>
<path class="q5" d="M372 426l8 7 7 1-9-6z"/>
<path class="q4" d="M380 433l9 5 8 4 9 2 8 1 8-1 6-4-8 2-8 0-9-1-8-3-8-4z"/>
<path class="q5" d="M422 444l9-2 8-5 6-6-8 5-9 4z"/>
<path class="q7" d="M439 437l8-5 6-7-8 6z"/>
<path class="q8" d="M447 432l9-7 6-8-9 8z"/>
<path class="q9" d="M456 425l8-8 6-9-8 9z"/>
<path class="q11" d="M464 417l8-9 6-10-8 10z"/>
<path class="q13" d="M472 408l9-10 6-11-9 11z"/>
<path class="q15" d="M481 398l8-11 6-11-8 11z"/>
<path class="q17" d="M489 387l8-12 6-11-8 12z"/>
<path class="q19" d="M497 375l9-12 6-12-9 13z"/>
<path class="q22" d="M506 363l8-12 6-13-8 13z"/>
<path class="q24" d="M514 351l8-13 7-13-9 13z"/>
<path class="q26" d="M522 338l9-13 6-12-8 12z"/>
<path class="q28" d="M531 325l8-12 6-13-8 13z"/>
<path class="q31" d="M539 313l8-12 7-13-9 12z"/>
<path class="q33" d="M547 301l9-12 6-12-8 11z"/>
<path class="q35" d="M556 289l8-11 6-12-8 11z"/>
<path class="q37" d="M564 278l9-10 6-11-9 9z"/>
<path class="q38" d="M573 268l8-9 6-10-8 8z"/>
<path class="q40" d="M581 259l8-7 6-11-8 8z"/>
<path class="q41" d="M589 252l9-7 6-9-9 5z"/>
<path class="q42" d="M598 245l8-5 6-9-8 5z"/>
<path class="q43" d="M606 240l8-4 6-8-8 3z"/>
<path class="q44" d="M614 236l9-2 8-1 8 1 9 2 8 5 6-3-8-5-9-4-8-2-8 0-9 1z"/>
<path class="q43" d="M656 241l8 5 9 7 6 0-9-8-8-7z"/>
<path class="q41" d="M673 253l8 9 6 0-8-9z"/>
<path class="q40" d="M681 262l8 10 7 1-9-11z"/>
<path class="q39" d="M689 272l9 11 6 2-8-12z"/>
<path class="q37" d="M698 283l8 12 6 3-8-13z"/>
<path class="q35" d="M706 295l8 13 7 4-9-14z"/>
<path class="q33" d="M714 308l9 15 6 4-8-15z"/>
<path class="q31" d="M723 323l8 14 6 5-8-15z"/>
<path class="q29" d="M731 337l9 16 6 5-9-16z"/>
<path class="q28" d="M266 261l8 15 6 5-8-15z"/>
<path class="q26" d="M274 276l9 15 6 6-9-16z"/>
<path class="q23" d="M283 291l8 16 6 6-8-16z"/>
<path class="q21" d="M291 307l8 15 6 6-8-15z"/>
<path class="q19" d="M299 322l9 16 6 5-9-15z"/>
<path class="q17" d="M308 338l8 14 6 6-8-15z"/>
<path class="q15" d="M316 352l8 15 6 5-8-14z"/>
<path class="q13" d="M324 367l9 13 6 5-9-13z"/>
<path class="q11" d="M333 380l8 13 6 4-8-12z"/>
<path class="q9" d="M341 393l8 11 6 4-8-11z"/>
<path class="q8" d="M349 404l9 10 6 4-9-10z"/>
<path class="q7" d="M358 414l8 9 6 3-8-8z"/>
<path class="q6" d="M366 423l8 8 6 2-8-7z"/>
<path class="q5" d="M374 431l9 6 6 1-9-5z"/>
<path class="q4" d="M383 437l8 5 8 3 9 2 8 0 8-2 7-3-9 2-8 1-8-1-9-2-8-4z"/>
<path class="q5" d="M424 445l9-3 6-5-8 5z"/>
<path class="q6" d="M433 442l8-4 6-6-8 5z"/>
<path class="q7" d="M441 438l9-6 6-7-9 7z"/>
<path class="q9" d="M450 432l8-7 6-8-8 8z"/>
<path class="q10" d="M458 425l8-8 6-9-8 9z"/>
<path class="q12" d="M466 417l9-10 6-9-9 10z"/>
<path class="q14" d="M475 407l8-10 6-10-8 11z"/>
<path class="q16" d="M483 397l8-11 6-11-8 12z"/>
<path class="q18" d="M491 386l9-11 6-12-9 12z"/>
<path class="q20" d="M500 375l8-13 6-11-8 12z"/>
<path class="q22" d="M508 362l8-12 6-12-8 13z"/>
<path class="q25" d="M516 350l9-12 6-13-9 13z"/>
<path class="q27" d="M525 338l8-13 6-12-8 12z"/>
<path class="q29" d="M533 325l8-12 6-12-8 12z"/>
<path class="q31" d="M541 313l9-11 6-13-9 12z"/>
<path class="q33" d="M550 302l8-11 6-13-8 11z"/>
<path class="q35" d="M558 291l8-11 7-12-9 10z"/>
<path class="q37" d="M566 280l9-9 6-12-8 9z"/>
<path class="q39" d="M575 271l8-9 6-10-8 7z"/>
<path class="q40" d="M583 262l8-7 7-10-9 7z"/>
<path class="q41" d="M591 255l9-6 6-9-8 5z"/>
<path class="q42" d="M600 249l8-4 6-9-8 4z"/>
<path class="q43" d="M608 245l9-3 6-8-9 2z"/>
<path class="q44" d="M617 242l8-2 8 0 9 1 8 3 8 5 6-3-8-5-8-5-9-2-8-1-8 1z"/>
<path class="q43" d="M658 249l9 6 6-2-9-7z"/>
<path class="q42" d="M667 255l8 8 6-1-8-9z"/>
<path class="q41" d="M675 263l8 9 6 0-8-10z"/>
<path class="q39" d="M683 272l9 10 6 1-9-11z"/>
<path class="q38" d="M692 282l8 11 6 2-8-12z"/>
<path class="q36" d="M700 293l8 13 6 2-8-13z"/>
<path class="q34" d="M708 306l9 13 6 4-9-15z"/>
<path class="q32" d="M717 319l8 14 6 4-8-14z"/>
<path class="q30" d="M725 333l8 15 7 5-9-16z"/>
<path class="q29" d="M260 257l8 14 6 5-8-15z"/>
<path class="q27" d="M268 271l8 15 7 5-9-15z"/>
<path class="q25" d="M276 286l9 15 6 6-8-16z"/>
<path class="q23" d="M285 301l8 16 6 5-8-15z"/>
<path class="q20" d="M293 317l8 15 7 6-9-16z"/>
<path class="q18" d="M301 332l9 14 6 6-8-14z"/>
<path class="q16" d="M310 346l8 15 6 6-8-15z"/>
<path class="q14" d="M318 361l9 13 6 6-9-13z"/>
<path class="q12" d="M327 374l8 13 6 6-8-13z"/>
<path class="q11" d="M335 387l8 12 6 5-8-11z"/>
<path class="q9" d="M343 399l9 11 6 4-9-10z"/>
<path class="q8" d="M352 410l8 10 6 3-8-9z"/>
<path class="q7" d="M360 420l8 8 6 3-8-8z"/>
<path class="q6" d="M368 428l9 7 6 2-9-6z"/>
<path class="q5" d="M377 435l8 6 6 1-8-5z"/>
<path class="q4" d="M385 441l8 4 9 2 8 1 6-1-8 0-9-2-8-3z"/>
<path class="q5" d="M410 448l8 0 9-2 6-4-9 3-8 2z"/>
<path class="q6" d="M427 446l8-3 6-5-8 4z"/>
<path class="q7" d="M435 443l8-5 7-6-9 6z"/>
<path class="q8" d="M443 438l9-6 6-7-8 7z"/>
<path class="q9" d="M452 432l8-8 6-7-8 8z"/>
<path class="q11" d="M460 424l8-8 7-9-9 10z"/>
<path class="q13" d="M468 416l9-9 6-10-8 10z"/>
<path class="q15" d="M477 407l8-11 6-10-8 11z"/>
<path class="q17" d="M485 396l9-11 6-10-9 11z"/>
<path class="q19" d="M494 385l8-11 6-12-8 13z"/>
<path class="q21" d="M502 374l8-12 6-12-8 12z"/>
<path class="q23" d="M510 362l9-12 6-12-9 12z"/>
<path class="q25" d="M519 350l8-12 6-13-8 13z"/>
<path class="q28" d="M527 338l8-12 6-13-8 12z"/>
<path class="q30" d="M535 326l9-12 6-12-9 11z"/>
<path class="q32" d="M544 314l8-11 6-12-8 11z"/>
<path class="q34" d="M552 303l8-10 6-13-8 11z"/>
<path class="q36" d="M560 293l9-10 6-12-9 9z"/>
<path class="q37" d="M569 283l8-9 6-12-8 9z"/>
<path class="q39" d="M577 274l8-8 6-11-8 7z"/>
<path class="q40" d="M585 266l9-6 6-11-9 6z"/>
<path class="q41" d="M594 260l8-6 6-9-8 4z"/>
<path class="q42" d="M602 254l8-4 7-8-9 3z"/>
<path class="q43" d="M610 250l9-2 6-8-8 2z"/>
<path class="q44" d="M619 248l8-1 8 0 9 2 6-5-8-3-9-1-8 0z"/>
<path class="q43" d="M644 249l8 4 9 5 6-3-9-6-8-5z"/>
<path class="q42" d="M661 258l8 7 6-2-8-8z"/>
<path class="q41" d="M669 265l8 8 6-1-8-9z"/>
<path class="q40" d="M677 273l9 9 6 0-9-10z"/>
<path class="q39" d="M686 282l8 10 6 1-8-11z"/>
<path class="q37" d="M694 292l8 12 6 2-8-13z"/>
<path class="q35" d="M702 304l9 12 6 3-9-13z"/>
<path class="q33" d="M711 316l8 14 6 3-8-14z"/>
<path class="q31" d="M719 330l8 14 6 4-8-15z"/>
<path class="q30" d="M254 253l8 14 6 4-8-14z"/>
<path class="q28" d="M262 267l8 15 6 4-8-15z"/>
<path class="q26" d="M270 282l9 14 6 5-9-15z"/>
<path class="q24" d="M279 296l8 15 6 6-8-16z"/>
<path class="q22" d="M287 311l8 15 6 6-8-15z"/>
<path class="q20" d="M295 326l9 15 6 5-9-14z"/>
<path class="q18" d="M304 341l8 14 6 6-8-15z"/>
<path class="q16" d="M312 355l8 13 7 6-9-13z"/>
<path class="q14" d="M320 368l9 14 6 5-8-13z"/>
<path class="q12" d="M329 382l8 12 6 5-8-12z"/>
<path class="q10" d="M337 394l9 11 6 5-9-11z"/>
<path class="q9" d="M346 405l8 10 6 5-8-10z"/>
<path class="q8" d="M354 415l8 9 6 4-8-8z"/>
<path class="q7" d="M362 424l9 8 6 3-9-7z"/>
<path class="q6" d="M371 432l8 6 6 3-8-6z"/>
<path class="q5" d="M379 438l8 5 9 4 8 2 8 0 9-1 6-2-9 2-8 0-8-1-9-2-8-4z"/>
<path class="q6" d="M421 448l8-2 6-3-8 3z"/>
<path class="q7" d="M429 446l8-4 6-4-8 5z"/>
<path class="q8" d="M437 442l9-5 6-5-9 6z"/>
<path class="q9" d="M446 437l8-6 6-7-8 8z"/>
<path class="q10" d="M454 431l8-8 6-7-8 8z"/>
<path class="q12" d="M462 423l9-8 6-8-9 9z"/>
<path class="q14" d="M471 415l8-10 6-9-8 11z"/>
<path class="q16" d="M479 405l8-10 7-10-9 11z"/>
<path class="q18" d="M487 395l9-11 6-10-8 11z"/>
<path class="q20" d="M496 384l8-11 6-11-8 12z"/>
<path class="q22" d="M504 373l8-11 7-12-9 12z"/>
<path class="q24" d="M512 362l9-12 6-12-8 12z"/>
<path class="q26" d="M521 350l8-12 6-12-8 12z"/>
<path class="q28" d="M529 338l9-11 6-13-9 12z"/>
<path class="q30" d="M538 327l8-11 6-13-8 11z"/>
<path class="q32" d="M546 316l8-11 6-12-8 10z"/>
<path class="q34" d="M554 305l9-10 6-12-9 10z"/>
<path class="q36" d="M563 295l8-9 6-12-8 9z"/>
<path class="q38" d="M571 286l8-8 6-12-8 8z"/>
<path class="q39" d="M579 278l9-7 6-11-9 6z"/>
<path class="q40" d="M588 271l8-6 6-11-8 6z"/>
<path class="q41" d="M596 265l8-5 6-10-8 4z"/>
<path class="q42" d="M604 260l9-3 6-9-9 2z"/>
<path class="q43" d="M613 257l8-2 8 0 9 1 8 2 8 4 7-4-9-5-8-4-9-2-8 0-8 1z"/>
<path class="q42" d="M654 262l9 6 6-3-8-7z"/>
<path class="q41" d="M663 268l8 7 6-2-8-8z"/>
<path class="q40" d="M671 275l8 8 7-1-9-9z"/>
<path class="q39" d="M679 283l9 10 6-1-8-10z"/>
<path class="q38" d="M688 293l8 10 6 1-8-12z"/>
<path class="q36" d="M696 303l9 12 6 1-9-12z"/>
<path class="q34" d="M705 315l8 12 6 3-8-14z"/>
<path class="q32" d="M713 327l8 14 6 3-8-14z"/>
<path class="q31" d="M248 251l8 13 6 3-8-14z"/>
<path class="q29" d="M256 264l8 14 6 4-8-15z"/>
<path class="q27" d="M264 278l9 14 6 4-9-14z"/>
<path class="q25" d="M273 292l8 14 6 5-8-15z"/>
<path class="q23" d="M281 306l8 15 6 5-8-15z"/>
<path class="q21" d="M289 321l9 14 6 6-9-15z"/>
<path class="q19" d="M298 335l8 14 6 6-8-14z"/>
<path class="q17" d="M306 349l8 14 6 5-8-13z"/>
<path class="q15" d="M314 363l9 13 6 6-9-14z"/>
<path class="q13" d="M323 376l8 12 6 6-8-12z"/>
<path class="q12" d="M331 388l8 11 7 6-9-11z"/>
<path class="q10" d="M339 399l9 11 6 5-8-10z"/>
<path class="q9" d="M348 410l8 10 6 4-8-9z"/>
<path class="q8" d="M356 420l8 8 7 4-9-8z"/>
<path class="q7" d="M364 428l9 7 6 3-8-6z"/>
<path class="q6" d="M373 435l8 6 9 4 6 2-9-4-8-5z"/>
<path class="q5" d="M390 445l8 3 8 1 6 0-8 0-8-2z"/>
<path class="q6" d="M406 449l9 0 8-1 6-2-8 2-9 1z"/>
<path class="q7" d="M423 448l8-3 6-3-8 4z"/>
<path class="q8" d="M431 445l9-4 6-4-9 5z"/>
<path class="q9" d="M440 441l8-5 6-5-8 6z"/>
<path class="q10" d="M448 436l8-7 6-6-8 8z"/>
<path class="q11" d="M456 429l9-7 6-7-9 8z"/>
<path class="q13" d="M465 422l8-9 6-8-8 10z"/>
<path class="q15" d="M473 413l8-9 6-9-8 10z"/>
<path class="q17" d="M481 404l9-10 6-10-9 11z"/>
<path class="q19" d="M490 394l8-10 6-11-8 11z"/>
<path class="q21" d="M498 384l8-11 6-11-8 11z"/>
<path class="q23" d="M506 373l9-11 6-12-9 12z"/>
<path class="q25" d="M515 362l8-12 6-12-8 12z"/>
<path class="q27" d="M523 350l8-11 7-12-9 11z"/>
<path class="q29" d="M531 339l9-11 6-12-8 11z"/>
<path class="q31" d="M540 328l8-10 6-13-8 11z"/>
<path class="q33" d="M548 318l8-10 7-13-9 10z"/>
<path class="q35" d="M556 308l9-9 6-13-8 9z"/>
<path class="q36" d="M565 299l8-9 6-12-8 8z"/>
<path class="q38" d="M573 290l9-7 6-12-9 7z"/>
<path class="q39" d="M582 283l8-7 6-11-8 6z"/>
<path class="q40" d="M590 276l8-5 6-11-8 5z"/>
<path class="q41" d="M598 271l9-4 6-10-9 3z"/>
<path class="q42" d="M607 267l8-2 8-2 6-8-8 0-8 2z"/>
<path class="q43" d="M623 263l9 1 8 1 6-7-8-2-9-1z"/>
<path class="q42" d="M640 265l8 3 9 5 6-5-9-6-8-4z"/>
<path class="q41" d="M657 273l8 5 6-3-8-7z"/>
<path class="q40" d="M665 278l8 8 6-3-8-8z"/>
<path class="q39" d="M673 286l9 8 6-1-9-10z"/>
<path class="q38" d="M682 294l8 10 6-1-8-10z"/>
<path class="q37" d="M690 304l8 10 7 1-9-12z"/>
<path class="q35" d="M698 314l9 12 6 1-8-12z"/>
<path class="q33" d="M707 326l8 12 6 3-8-14z"/>
<path class="q32" d="M241 250l9 12 6 2-8-13z"/>
<path class="q30" d="M250 262l8 13 6 3-8-14z"/>
<path class="q29" d="M258 275l9 14 6 3-9-14z"/>
<path class="q27" d="M267 289l8 13 6 4-8-14z"/>
<path class="q25" d="M275 302l8 14 6 5-8-15z"/>
<path class="q23" d="M283 316l9 14 6 5-9-14z"/>
<path class="q21" d="M292 330l8 13 6 6-8-14z"/>
<path class="q19" d="M300 343l8 14 6 6-8-14z"/>
<path class="q17" d="M308 357l9 13 6 6-9-13z"/>
<path class="q15" d="M317 370l8 12 6 6-8-12z"/>
<path class="q13" d="M325 382l8 12 6 5-8-11z"/>
<path class="q12" d="M333 394l9 10 6 6-9-11z"/>
<path class="q10" d="M342 404l8 10 6 6-8-10z"/>
<path class="q9" d="M350 414l8 9 6 5-8-8z"/>
<path class="q8" d="M358 423l9 8 6 4-9-7z"/>
<path class="q7" d="M367 431l8 6 8 5 7 3-9-4-8-6z"/>
<path class="q6" d="M383 442l9 4 8 2 8 1 9 0 6-1-8 1-9 0-8-1-8-3z"/>
<path class="q7" d="M417 449l8-2 6-2-8 3z"/>
<path class="q8" d="M425 447l9-3 6-3-9 4z"/>
<path class="q9" d="M434 444l8-4 6-4-8 5z"/>
<path class="q10" d="M442 440l8-6 6-5-8 7z"/>
<path class="q11" d="M450 434l9-6 6-6-9 7z"/>
<path class="q12" d="M459 428l8-8 6-7-8 9z"/>
<path class="q14" d="M467 420l8-8 6-8-8 9z"/>
<path class="q16" d="M475 412l9-9 6-9-9 10z"/>
<path class="q18" d="M484 403l8-10 6-9-8 10z"/>
<path class="q19" d="M492 393l8-10 6-10-8 11z"/>
<path class="q21" d="M500 383l9-11 6-10-9 11z"/>
<path class="q23" d="M509 372l8-10 6-12-8 12z"/>
<path class="q25" d="M517 362l8-11 6-12-8 11z"/>
<path class="q27" d="M525 351l9-11 6-12-9 11z"/>
<path class="q29" d="M534 340l8-10 6-12-8 10z"/>
<path class="q31" d="M542 330l8-10 6-12-8 10z"/>
<path class="q33" d="M550 320l9-9 6-12-9 9z"/>
<path class="q35" d="M559 311l8-8 6-13-8 9z"/>
<path class="q36" d="M567 303l8-8 7-12-9 7z"/>
<path class="q38" d="M575 295l9-7 6-12-8 7z"/>
<path class="q39" d="M584 288l8-5 6-12-8 5z"/>
<path class="q40" d="M592 283l9-5 6-11-9 4z"/>
<path class="q41" d="M601 278l8-3 8-2 6-10-8 2-8 2z"/>
<path class="q42" d="M617 273l9-1 8 1 8 2 9 4 6-6-9-5-8-3-8-1-9-1z"/>
<path class="q41" d="M651 279l8 4 6-5-8-5z"/>
<path class="q40" d="M659 283l8 7 6-4-8-8z"/>
<path class="q39" d="M667 290l9 7 6-3-9-8z"/>
<path class="q38" d="M676 297l8 9 6-2-8-10z"/>
<path class="q37" d="M684 306l8 9 6-1-8-10z"/>
<path class="q36" d="M692 315l9 11 6 0-9-12z"/>
<path class="q34" d="M701 326l8 11 6 1-8-12z"/>
<path class="q33" d="M235 250l9 12 6 0-9-12z"/>
<path class="q31" d="M244 262l8 12 6 1-8-13z"/>
<path class="q29" d="M252 274l8 12 7 3-9-14z"/>
<path class="q28" d="M260 286l9 13 6 3-8-13z"/>
<path class="q26" d="M269 299l8 13 6 4-8-14z"/>
<path class="q24" d="M277 312l8 13 7 5-9-14z"/>
<path class="q22" d="M285 325l9 13 6 5-8-13z"/>
<path class="q20" d="M294 338l8 13 6 6-8-14z"/>
<path class="q18" d="M302 351l9 13 6 6-9-13z"/>
<path class="q16" d="M311 364l8 12 6 6-8-12z"/>
<path class="q15" d="M319 376l8 12 6 6-8-12z"/>
<path class="q13" d="M327 388l9 11 6 5-9-10z"/>
<path class="q12" d="M336 399l8 10 6 5-8-10z"/>
<path class="q11" d="M344 409l8 9 6 5-8-9z"/>
<path class="q9" d="M352 418l9 8 8 7 6 4-8-6-9-8z"/>
<path class="q8" d="M369 433l8 5 6 4-8-5z"/>
<path class="q7" d="M377 438l9 5 8 3 8 2 9 0 8 0 6-1-8 2-9 0-8-1-8-2-9-4z"/>
<path class="q8" d="M419 448l8-2 7-2-9 3z"/>
<path class="q9" d="M427 446l9-4 6-2-8 4z"/>
<path class="q10" d="M436 442l8-4 6-4-8 6z"/>
<path class="q11" d="M444 438l8-6 7-4-9 6z"/>
<path class="q12" d="M452 432l9-6 6-6-8 8z"/>
<path class="q13" d="M461 426l8-7 6-7-8 8z"/>
<path class="q15" d="M469 419l9-9 6-7-9 9z"/>
<path class="q17" d="M478 410l8-8 6-9-8 10z"/>
<path class="q19" d="M486 402l8-10 6-9-8 10z"/>
<path class="q20" d="M494 392l9-10 6-10-9 11z"/>
<path class="q22" d="M503 382l8-10 6-10-8 10z"/>
<path class="q24" d="M511 372l8-10 6-11-8 11z"/>
<path class="q26" d="M519 362l9-10 6-12-9 11z"/>
<path class="q28" d="M528 352l8-10 6-12-8 10z"/>
<path class="q30" d="M536 342l8-9 6-13-8 10z"/>
<path class="q32" d="M544 333l9-9 6-13-9 9z"/>
<path class="q33" d="M553 324l8-9 6-12-8 8z"/>
<path class="q35" d="M561 315l8-8 6-12-8 8z"/>
<path class="q36" d="M569 307l9-6 6-13-9 7z"/>
<path class="q37" d="M578 301l8-6 6-12-8 5z"/>
<path class="q39" d="M586 295l8-5 9-4 6-11-8 3-9 5z"/>
<path class="q40" d="M603 286l8-3 6-10-8 2z"/>
<path class="q41" d="M611 283l8-1 9 0 8 1 9 3 8 4 6-7-8-4-9-4-8-2-8-1-9 1z"/>
<path class="q40" d="M653 290l8 5 6-5-8-7z"/>
<path class="q39" d="M661 295l9 6 6-4-9-7z"/>
<path class="q38" d="M670 301l8 8 6-3-8-9z"/>
<path class="q37" d="M678 309l8 8 6-2-8-9z"/>
<path class="q36" d="M686 317l9 10 6-1-9-11z"/>
<path class="q35" d="M695 327l8 10 6 0-8-11z"/>
<path class="q33" d="M229 252l9 10 6 0-9-12z"/>
<path class="q32" d="M238 262l8 11 6 1-8-12z"/>
<path class="q30" d="M246 273l8 11 6 2-8-12z"/>
<path class="q29" d="M254 284l9 12 6 3-9-13z"/>
<path class="q27" d="M263 296l8 13 6 3-8-13z"/>
<path class="q25" d="M271 309l8 12 6 4-8-13z"/>
<path class="q23" d="M279 321l9 13 6 4-9-13z"/>
<path class="q21" d="M288 334l8 12 6 5-8-13z"/>
<path class="q20" d="M296 346l8 13 7 5-9-13z"/>
<path class="q18" d="M304 359l9 12 6 5-8-12z"/>
<path class="q16" d="M313 371l8 11 6 6-8-12z"/>
<path class="q15" d="M321 382l8 11 7 6-9-11z"/>
<path class="q13" d="M329 393l9 10 6 6-8-10z"/>
<path class="q12" d="M338 403l8 9 6 6-8-9z"/>
<path class="q11" d="M346 412l9 8 6 6-9-8z"/>
<path class="q10" d="M355 420l8 8 6 5-8-7z"/>
<path class="q9" d="M363 428l8 6 6 4-8-5z"/>
<path class="q8" d="M371 434l9 5 8 4 8 2 9 2 8 0 8-1 6 0-8 2-8 0-9 0-8-2-8-3-9-5z"/>
<path class="q9" d="M421 446l9-3 6-1-9 4z"/>
<path class="q10" d="M430 443l8-3 6-2-8 4z"/>
<path class="q11" d="M438 440l8-4 6-4-8 6z"/>
<path class="q12" d="M446 436l9-6 6-4-9 6z"/>
<path class="q13" d="M455 430l8-6 6-5-8 7z"/>
<path class="q15" d="M463 424l8-7 7-7-9 9z"/>
<path class="q16" d="M471 417l9-8 6-7-8 8z"/>
<path class="q18" d="M480 409l8-9 6-8-8 10z"/>
<path class="q19" d="M488 400l8-9 7-9-9 10z"/>
<path class="q21" d="M496 391l9-9 6-10-8 10z"/>
<path class="q23" d="M505 382l8-9 6-11-8 10z"/>
<path class="q25" d="M513 373l9-10 6-11-9 10z"/>
<path class="q27" d="M522 363l8-9 6-12-8 10z"/>
<path class="q28" d="M530 354l8-9 6-12-8 9z"/>
<path class="q30" d="M538 345l9-9 6-12-9 9z"/>
<path class="q32" d="M547 336l8-8 6-13-8 9z"/>
<path class="q33" d="M555 328l8-8 6-13-8 8z"/>
<path class="q35" d="M563 320l9-7 6-12-9 6z"/>
<path class="q36" d="M572 313l8-6 6-12-8 6z"/>
<path class="q37" d="M580 307l8-5 6-12-8 5z"/>
<path class="q38" d="M588 302l9-4 6-12-9 4z"/>
<path class="q39" d="M597 298l8-3 6-12-8 3z"/>
<path class="q40" d="M605 295l8-2 9-1 8 0 8 2 9 3 8 4 6-6-8-5-8-4-9-3-8-1-9 0-8 1z"/>
<path class="q39" d="M655 301l8 6 7-6-9-6z"/>
<path class="q38" d="M663 307l9 6 6-4-8-8z"/>
<path class="q37" d="M672 313l8 8 6-4-8-8z"/>
<path class="q36" d="M680 321l9 8 6-2-9-10z"/>
<path class="q35" d="M689 329l8 10 6-2-8-10z"/>
<path class="q34" d="M223 254l9 10 6-2-9-10z"/>
<path class="q32" d="M232 264l8 10 6-1-8-11z"/>
<path class="q31" d="M240 274l8 10 6 0-8-11z"/>
<path class="q29" d="M248 284l9 11 6 1-9-12z"/>
<path class="q28" d="M257 295l8 12 6 2-8-13z"/>
<path class="q26" d="M265 307l8 11 6 3-8-12z"/>
<path class="q24" d="M273 318l9 12 6 4-9-13z"/>
<path class="q23" d="M282 330l8 12 6 4-8-12z"/>
<path class="q21" d="M290 342l8 12 6 5-8-13z"/>
<path class="q19" d="M298 354l9 11 6 6-9-12z"/>
<path class="q18" d="M307 365l8 11 6 6-8-11z"/>
<path class="q16" d="M315 376l8 11 6 6-8-11z"/>
<path class="q15" d="M323 387l9 10 6 6-9-10z"/>
<path class="q13" d="M332 397l8 9 6 6-8-9z"/>
<path class="q12" d="M340 406l8 9 7 5-9-8z"/>
<path class="q11" d="M348 415l9 7 6 6-8-8z"/>
<path class="q10" d="M357 422l8 7 8 5 7 5-9-5-8-6z"/>
<path class="q9" d="M373 434l9 4 8 4 9 2 8 1 8 0 6 1-8 1-8 0-9-2-8-2-8-4z"/>
<path class="q10" d="M415 445l9-2 8-2 6-1-8 3-9 3z"/>
<path class="q11" d="M432 441l8-3 6-2-8 4z"/>
<path class="q12" d="M440 438l9-5 6-3-9 6z"/>
<path class="q13" d="M449 433l8-5 6-4-8 6z"/>
<path class="q14" d="M457 428l8-6 6-5-8 7z"/>
<path class="q16" d="M465 422l9-7 6-6-9 8z"/>
<path class="q17" d="M474 415l8-8 6-7-8 9z"/>
<path class="q19" d="M482 407l8-8 6-8-8 9z"/>
<path class="q20" d="M490 399l9-8 6-9-9 9z"/>
<path class="q22" d="M499 391l8-9 6-9-8 9z"/>
<path class="q24" d="M507 382l8-8 7-11-9 10z"/>
<path class="q25" d="M515 374l9-9 6-11-8 9z"/>
<path class="q27" d="M524 365l8-9 6-11-8 9z"/>
<path class="q29" d="M532 356l8-8 7-12-9 9z"/>
<path class="q30" d="M540 348l9-8 6-12-8 8z"/>
<path class="q32" d="M549 340l8-7 6-13-8 8z"/>
<path class="q33" d="M557 333l9-7 6-13-9 7z"/>
<path class="q35" d="M566 326l8-6 6-13-8 6z"/>
<path class="q36" d="M574 320l8-6 6-12-8 5z"/>
<path class="q37" d="M582 314l9-4 6-12-9 4z"/>
<path class="q38" d="M591 310l8-4 8-2 6-11-8 2-8 3z"/>
<path class="q39" d="M607 304l9-1 8 0 8 1 9 2 8 3 6-8-8-4-9-3-8-2-8 0-9 1z"/>
<path class="q38" d="M649 309l8 4 9 6 6-6-9-6-8-6z"/>
<path class="q37" d="M666 319l8 6 6-4-8-8z"/>
<path class="q36" d="M674 325l8 8 7-4-9-8z"/>
<path class="q35" d="M682 333l9 8 6-2-8-10z"/>
<path class="q34" d="M217 258l8 9 7-3-9-10z"/>
<path class="q33" d="M225 267l9 9 6-2-8-10z"/>
<path class="q31" d="M234 276l8 9 6-1-8-10z"/>
<path class="q30" d="M242 285l9 10 6 0-9-11z"/>
<path class="q28" d="M251 295l8 11 6 1-8-12z"/>
<path class="q27" d="M259 306l8 10 6 2-8-11z"/>
<path class="q25" d="M267 316l9 12 6 2-9-12z"/>
<path class="q24" d="M276 328l8 11 6 3-8-12z"/>
<path class="q22" d="M284 339l8 11 6 4-8-12z"/>
<path class="q21" d="M292 350l9 11 6 4-9-11z"/>
<path class="q19" d="M301 361l8 10 6 5-8-11z"/>
<path class="q18" d="M309 371l8 10 6 6-8-11z"/>
<path class="q16" d="M317 381l9 10 6 6-9-10z"/>
<path class="q15" d="M326 391l8 9 6 6-8-9z"/>
<path class="q14" d="M334 400l8 9 6 6-8-9z"/>
<path class="q13" d="M342 409l9 7 6 6-9-7z"/>
<path class="q12" d="M351 416l8 7 6 6-8-7z"/>
<path class="q11" d="M359 423l8 6 9 5 6 4-9-4-8-5z"/>
<path class="q10" d="M376 434l8 3 8 3 9 2 8 1 8-1 7 1-9 2-8 0-8-1-9-2-8-4z"/>
<path class="q11" d="M417 442l9-1 8-3 6 0-8 3-8 2z"/>
<path class="q12" d="M434 438l9-3 6-2-9 5z"/>
<path class="q13" d="M443 435l8-4 6-3-8 5z"/>
<path class="q14" d="M451 431l8-6 6-3-8 6z"/>
<path class="q15" d="M459 425l9-5 6-5-9 7z"/>
<path class="q17" d="M468 420l8-7 6-6-8 8z"/>
<path class="q18" d="M476 413l8-7 6-7-8 8z"/>
<path class="q20" d="M484 406l9-7 6-8-9 8z"/>
<path class="q21" d="M493 399l8-8 6-9-8 9z"/>
<path class="q23" d="M501 391l8-8 6-9-8 8z"/>
<path class="q24" d="M509 383l9-8 6-10-9 9z"/>
<path class="q26" d="M518 375l8-8 6-11-8 9z"/>
<path class="q27" d="M526 367l8-8 6-11-8 8z"/>
<path class="q29" d="M534 359l9-7 6-12-9 8z"/>
<path class="q30" d="M543 352l8-7 6-12-8 7z"/>
<path class="q32" d="M551 345l8-7 7-12-9 7z"/>
<path class="q33" d="M559 338l9-6 6-12-8 6z"/>
<path class="q34" d="M568 332l8-5 6-13-8 6z"/>
<path class="q35" d="M576 327l8-5 7-12-9 4z"/>
<path class="q36" d="M584 322l9-3 6-13-8 4z"/>
<path class="q37" d="M593 319l8-3 9-2 6-11-9 1-8 2z"/>
<path class="q38" d="M610 314l8 0 8 0 9 1 8 3 8 3 6-8-8-4-8-3-9-2-8-1-8 0z"/>
<path class="q37" d="M651 321l9 5 8 6 6-7-8-6-9-6z"/>
<path class="q36" d="M668 332l8 6 6-5-8-8z"/>
<path class="q35" d="M676 338l9 7 6-4-9-8z"/>
<path class="q34" d="M211 264l8 7 6-4-8-9z"/>
<path class="q33" d="M219 271l9 8 6-3-9-9z"/>
<path class="q31" d="M228 279l8 8 6-2-8-9z"/>
<path class="q30" d="M236 287l8 9 7-1-9-10z"/>
<path class="q29" d="M244 296l9 10 6 0-8-11z"/>
<path class="q28" d="M253 306l8 10 6 0-8-10z"/>
<path class="q26" d="M261 316l8 10 7 2-9-12z"/>
<path class="q25" d="M269 326l9 10 6 3-8-11z"/>
<path class="q23" d="M278 336l8 10 6 4-8-11z"/>
<path class="q22" d="M286 346l9 11 6 4-9-11z"/>
<path class="q20" d="M295 357l8 10 6 4-8-10z"/>
<path class="q19" d="M303 367l8 9 6 5-8-10z"/>
<path class="q18" d="M311 376l9 10 6 5-9-10z"/>
<path class="q16" d="M320 386l8 9 6 5-8-9z"/>
<path class="q15" d="M328 395l8 8 6 6-8-9z"/>
<path class="q14" d="M336 403l9 7 6 6-9-7z"/>
<path class="q13" d="M345 410l8 7 8 6 6 6-8-6-8-7z"/>
<path class="q12" d="M361 423l9 5 6 6-9-5z"/>
<path class="q11" d="M370 428l8 5 8 3 9 2 8 1 8 1 9-1 6 2-9 1-8 1-8-1-9-2-8-3-8-3z"/>
<path class="q12" d="M420 439l8-1 6 0-8 3z"/>
<path class="q13" d="M428 438l8-3 9-3 6-1-8 4-9 3z"/>
<path class="q14" d="M445 432l8-4 6-3-8 6z"/>
<path class="q15" d="M453 428l8-5 7-3-9 5z"/>
<path class="q17" d="M461 423l9-5 6-5-8 7z"/>
<path class="q18" d="M470 418l8-6 6-6-8 7z"/>
<path class="q19" d="M478 412l9-7 6-6-9 7z"/>
<path class="q20" d="M487 405l8-6 6-8-8 8z"/>
<path class="q22" d="M495 399l8-7 6-9-8 8z"/>
<path class="q23" d="M503 392l9-8 6-9-9 8z"/>
<path class="q25" d="M512 384l8-7 6-10-8 8z"/>
<path class="q26" d="M520 377l8-7 6-11-8 8z"/>
<path class="q28" d="M528 370l9-7 6-11-9 7z"/>
<path class="q29" d="M537 363l8-6 6-12-8 7z"/>
<path class="q30" d="M545 357l8-7 6-12-8 7z"/>
<path class="q32" d="M553 350l9-5 6-13-9 6z"/>
<path class="q33" d="M562 345l8-5 6-13-8 5z"/>
<path class="q34" d="M570 340l8-5 6-13-8 5z"/>
<path class="q35" d="M578 335l9-4 8-3 6-12-8 3-9 3z"/>
<path class="q36" d="M595 328l8-2 7-12-9 2z"/>
<path class="q37" d="M603 326l9-1 8 0 8 1 9 2 8 2 9 4 6-8-9-5-8-3-8-3-9-1-8 0-8 0z"/>
<path class="q36" d="M654 334l8 5 6-7-8-6z"/>
<path class="q35" d="M662 339l8 5 9 7 6-6-9-7-8-6z"/>
<path class="q33" d="M205 270l8 6 6-5-8-7z"/>
<path class="q32" d="M213 276l9 7 6-4-9-8z"/>
<path class="q31" d="M222 283l8 8 6-4-8-8z"/>
<path class="q30" d="M230 291l8 8 6-3-8-9z"/>
<path class="q29" d="M238 299l9 8 6-1-9-10z"/>
<path class="q28" d="M247 307l8 9 6 0-8-10z"/>
<path class="q27" d="M255 316l8 9 6 1-8-10z"/>
<path class="q25" d="M263 325l9 10 6 1-9-10z"/>
<path class="q24" d="M272 335l8 9 6 2-8-10z"/>
<path class="q23" d="M280 344l8 10 7 3-9-11z"/>
<path class="q21" d="M288 354l9 9 6 4-8-10z"/>
<path class="q20" d="M297 363l8 9 6 4-8-9z"/>
<path class="q19" d="M305 372l8 9 7 5-9-10z"/>
<path class="q18" d="M313 381l9 8 6 6-8-9z"/>
<path class="q17" d="M322 389l8 8 6 6-8-8z"/>
<path class="q16" d="M330 397l9 7 6 6-9-7z"/>
<path class="q15" d="M339 404l8 7 6 6-8-7z"/>
<path class="q14" d="M347 411l8 6 6 6-8-6z"/>
<path class="q13" d="M355 417l9 6 8 4 6 6-8-5-9-5z"/>
<path class="q12" d="M372 427l8 4 9 3 8 1 8 1 9 1 6 2-9 1-8-1-8-1-9-2-8-3z"/>
<path class="q13" d="M414 437l8-1 8-2 6 1-8 3-8 1z"/>
<path class="q14" d="M430 434l9-2 6 0-9 3z"/>
<path class="q15" d="M439 432l8-3 6-1-8 4z"/>
<path class="q16" d="M447 429l8-4 6-2-8 5z"/>
<path class="q17" d="M455 425l9-4 6-3-9 5z"/>
<path class="q18" d="M464 421l8-5 6-4-8 6z"/>
<path class="q19" d="M472 416l8-5 7-6-9 7z"/>
<path class="q20" d="M480 411l9-6 6-6-8 6z"/>
<path class="q21" d="M489 405l8-6 6-7-8 7z"/>
<path class="q23" d="M497 399l9-6 6-9-9 8z"/>
<path class="q24" d="M506 393l8-7 6-9-8 7z"/>
<path class="q25" d="M514 386l8-6 6-10-8 7z"/>
<path class="q27" d="M522 380l9-6 6-11-9 7z"/>
<path class="q28" d="M531 374l8-6 6-11-8 6z"/>
<path class="q29" d="M539 368l8-6 6-12-8 7z"/>
<path class="q30" d="M547 362l9-5 6-12-9 5z"/>
<path class="q31" d="M556 357l8-5 6-12-8 5z"/>
<path class="q32" d="M564 352l8-4 6-13-8 5z"/>
<path class="q33" d="M572 348l9-4 6-13-9 4z"/>
<path class="q34" d="M581 344l8-3 6-13-8 3z"/>
<path class="q35" d="M589 341l8-2 9-2 6-12-9 1-8 2z"/>
<path class="q36" d="M606 337l8 0 8 0 9 1 8 2 8 3 7-9-9-4-8-2-9-2-8-1-8 0z"/>
<path class="q35" d="M647 343l9 4 8 5 6-8-8-5-8-5z"/>
<path class="q34" d="M664 352l8 5 7-6-9-7z"/>
<path class="q33" d="M199 278l8 5 6-7-8-6z"/>
<path class="q32" d="M207 283l9 6 6-6-9-7z"/>
<path class="q31" d="M216 289l8 7 6-5-8-8z"/>
<path class="q30" d="M224 296l8 7 6-4-8-8z"/>
<path class="q29" d="M232 303l9 7 6-3-9-8z"/>
<path class="q28" d="M241 310l8 8 6-2-8-9z"/>
<path class="q27" d="M249 318l8 8 6-1-8-9z"/>
<path class="q26" d="M257 326l9 8 6 1-9-10z"/>
<path class="q25" d="M266 334l8 9 6 1-8-9z"/>
<path class="q24" d="M274 343l8 8 6 3-8-10z"/>
<path class="q22" d="M282 351l9 9 6 3-9-9z"/>
<path class="q21" d="M291 360l8 8 6 4-8-9z"/>
<path class="q20" d="M299 368l8 9 6 4-8-9z"/>
<path class="q19" d="M307 377l9 7 6 5-9-8z"/>
<path class="q18" d="M316 384l8 8 6 5-8-8z"/>
<path class="q17" d="M324 392l8 7 7 5-9-7z"/>
<path class="q16" d="M332 399l9 6 6 6-8-7z"/>
<path class="q15" d="M341 405l8 6 8 6 7 6-9-6-8-6z"/>
<path class="q14" d="M357 417l9 4 8 4 9 3 6 6-9-3-8-4-8-4z"/>
<path class="q13" d="M383 428l8 3 8 1 9 1 6 4-9-1-8-1-8-1z"/>
<path class="q14" d="M408 433l8 0 8-1 6 2-8 2-8 1z"/>
<path class="q15" d="M424 432l9-1 8-2 6 0-8 3-9 2z"/>
<path class="q16" d="M441 429l8-3 6-1-8 4z"/>
<path class="q17" d="M449 426l9-3 6-2-9 4z"/>
<path class="q18" d="M458 423l8-4 6-3-8 5z"/>
<path class="q19" d="M466 419l8-5 6-3-8 5z"/>
<path class="q20" d="M474 414l9-4 6-5-9 6z"/>
<path class="q21" d="M483 410l8-5 6-6-8 6z"/>
<path class="q22" d="M491 405l8-6 7-6-9 6z"/>
<path class="q23" d="M499 399l9-5 6-8-8 7z"/>
<path class="q24" d="M508 394l8-5 6-9-8 6z"/>
<path class="q26" d="M516 389l8-6 7-9-9 6z"/>
<path class="q27" d="M524 383l9-5 6-10-8 6z"/>
<path class="q28" d="M533 378l8-5 6-11-8 6z"/>
<path class="q29" d="M541 373l9-5 6-11-9 5z"/>
<path class="q30" d="M550 368l8-4 6-12-8 5z"/>
<path class="q31" d="M558 364l8-4 6-12-8 4z"/>
<path class="q32" d="M566 360l9-4 6-12-9 4z"/>
<path class="q33" d="M575 356l8-2 8-3 6-12-8 2-8 3z"/>
<path class="q34" d="M591 351l9-1 8-1 8 0 6-12-8 0-8 0-9 2z"/>
<path class="q35" d="M616 349l9 1 8 1 8 3 6-11-8-3-8-2-9-1z"/>
<path class="q34" d="M641 354l9 3 8 4 6-9-8-5-9-4z"/>
<path class="q33" d="M658 361l8 4 6-8-8-5z"/>
<path class="q32" d="M193 287l8 4 8 5 7-7-9-6-8-5z"/>
<path class="q31" d="M209 296l9 6 6-6-8-7z"/>
<path class="q30" d="M218 302l8 6 6-5-8-7z"/>
<path class="q29" d="M226 308l8 6 7-4-9-7z"/>
<path class="q28" d="M234 314l9 7 6-3-8-8z"/>
<path class="q27" d="M243 321l8 7 6-2-8-8z"/>
<path class="q26" d="M251 328l9 7 6-1-9-8z"/>
<path class="q25" d="M260 335l8 8 6 0-8-9z"/>
<path class="q24" d="M268 343l8 8 6 0-8-8z"/>
<path class="q23" d="M276 351l9 7 6 2-9-9z"/>
<path class="q22" d="M285 358l8 8 6 2-8-8z"/>
<path class="q21" d="M293 366l8 7 6 4-8-9z"/>
<path class="q20" d="M301 373l9 7 6 4-9-7z"/>
<path class="q19" d="M310 380l8 7 6 5-8-8z"/>
<path class="q18" d="M318 387l8 7 9 6 6 5-9-6-8-7z"/>
<path class="q17" d="M335 400l8 6 6 5-8-6z"/>
<path class="q16" d="M343 406l8 5 9 4 6 6-9-4-8-6z"/>
<path class="q15" d="M360 415l8 4 8 4 9 2 8 2 8 2 9 0 8 0 9 0 6 2-9 1-8 1-8 0-9-1-8-1-8-3-9-3-8-4z"/>
<path class="q16" d="M427 429l8-2 8-1 6 0-8 3-8 2z"/>
<path class="q17" d="M443 426l9-3 6 0-9 3z"/>
<path class="q18" d="M452 423l8-3 6-1-8 4z"/>
<path class="q19" d="M460 420l8-3 6-3-8 5z"/>
<path class="q20" d="M468 417l9-4 6-3-9 4z"/>
<path class="q21" d="M477 413l8-4 6-4-8 5z"/>
<path class="q22" d="M485 409l8-4 6-6-8 6z"/>
<path class="q23" d="M493 405l9-4 6-7-9 5z"/>
<path class="q24" d="M502 401l8-5 6-7-8 5z"/>
<path class="q25" d="M510 396l8-4 6-9-8 6z"/>
<path class="q26" d="M518 392l9-5 6-9-9 5z"/>
<path class="q27" d="M527 387l8-4 6-10-8 5z"/>
<path class="q28" d="M535 383l8-4 7-11-9 5z"/>
<path class="q29" d="M543 379l9-4 6-11-8 4z"/>
<path class="q30" d="M552 375l8-3 8-3 7-13-9 4-8 4z"/>
<path class="q31" d="M568 369l9-3 6-12-8 2z"/>
<path class="q32" d="M577 366l8-2 9-1 6-13-9 1-8 3z"/>
<path class="q33" d="M594 363l8-1 8-1 9 1 8 1 8 2 9 2 8 3 8 4 6-9-8-4-8-4-9-3-8-3-8-1-9-1-8 0-8 1z"/>
<path class="q31" d="M187 297l8 4 8 4 6-9-8-5-8-4z"/>
<path class="q30" d="M203 305l9 4 8 5 6-6-8-6-9-6z"/>
<path class="q29" d="M220 314l8 6 6-6-8-6z"/>
<path class="q28" d="M228 320l9 5 6-4-9-7z"/>
<path class="q27" d="M237 325l8 6 8 7 7-3-9-7-8-7z"/>
<path class="q26" d="M253 338l9 6 6-1-8-8z"/>
<path class="q25" d="M262 344l8 7 6 0-8-8z"/>
<path class="q24" d="M270 351l8 6 7 1-9-7z"/>
<path class="q23" d="M278 357l9 7 6 2-8-8z"/>
<path class="q22" d="M287 364l8 7 6 2-8-7z"/>
<path class="q21" d="M295 371l9 6 8 6 6 4-8-7-9-7z"/>
<path class="q20" d="M312 383l8 6 6 5-8-7z"/>
<path class="q19" d="M320 389l9 6 6 5-9-6z"/>
<path class="q18" d="M329 395l8 5 8 5 6 6-8-5-8-6z"/>
<path class="q17" d="M345 405l9 5 8 3 6 6-8-4-9-4z"/>
<path class="q16" d="M362 413l8 4 9 3 8 2 8 2 9 1 8 1 8 0 7 3-9 0-8 0-9 0-8-2-8-2-9-2-8-4z"/>
<path class="q17" d="M420 426l9-1 8-1 6 2-8 1-8 2z"/>
<path class="q18" d="M437 424l8-1 9-2 6-1-8 3-9 3z"/>
<path class="q19" d="M454 421l8-3 6-1-8 3z"/>
<path class="q20" d="M462 418l9-2 6-3-9 4z"/>
<path class="q21" d="M471 416l8-3 8-3 6-5-8 4-8 4z"/>
<path class="q22" d="M487 410l9-4 6-5-9 4z"/>
<path class="q23" d="M496 406l8-3 6-7-8 5z"/>
<path class="q24" d="M504 403l8-4 6-7-8 4z"/>
<path class="q25" d="M512 399l9-3 6-9-9 5z"/>
<path class="q26" d="M521 396l8-4 6-9-8 4z"/>
<path class="q27" d="M529 392l8-3 9-3 6-11-9 4-8 4z"/>
<path class="q28" d="M546 386l8-3 6-11-8 3z"/>
<path class="q29" d="M554 383l8-3 6-11-8 3z"/>
<path class="q30" d="M562 380l9-2 8-2 6-12-8 2-9 3z"/>
<path class="q31" d="M579 376l8-1 9-1 6-12-8 1-9 1z"/>
<path class="q32" d="M596 374l8 0 8 0 9 1 8 1 9 2 8 3 8 3 6-10-8-4-8-3-9-2-8-2-8-1-9-1-8 1z"/>
<path class="q30" d="M181 308l8 3 8 3 6-9-8-4-8-4z"/>
<path class="q29" d="M197 314l9 4 8 4 6-8-8-5-9-4z"/>
<path class="q28" d="M214 322l8 4 9 5 6-6-9-5-8-6z"/>
<path class="q27" d="M231 331l8 5 8 5 6-3-8-7-8-6z"/>
<path class="q26" d="M247 341l9 6 6-3-9-6z"/>
<path class="q25" d="M256 347l8 5 6-1-8-7z"/>
<path class="q24" d="M264 352l8 6 9 6 6 0-9-7-8-6z"/>
<path class="q23" d="M281 364l8 5 6 2-8-7z"/>
<path class="q22" d="M289 369l8 6 9 5 6 3-8-6-9-6z"/>
<path class="q21" d="M306 380l8 6 6 3-8-6z"/>
<path class="q20" d="M314 386l8 5 9 4 6 5-8-5-9-6z"/>
<path class="q19" d="M331 395l8 5 9 4 6 6-9-5-8-5z"/>
<path class="q18" d="M348 404l8 4 8 3 9 3 8 2 6 6-8-2-9-3-8-4-8-3z"/>
<path class="q17" d="M381 416l8 2 9 2 6 5-9-1-8-2z"/>
<path class="q18" d="M398 420l8 1 8 0 9 1 8-1 6 3-8 1-9 1-8 0-8-1z"/>
<path class="q19" d="M431 421l8 0 9-1 6 1-9 2-8 1z"/>
<path class="q20" d="M448 420l8-2 8-1 7-1-9 2-8 3z"/>
<path class="q21" d="M464 417l9-2 8-2 6-3-8 3-8 3z"/>
<path class="q22" d="M481 413l8-3 7-4-9 4z"/>
<path class="q23" d="M489 410l9-2 6-5-8 3z"/>
<path class="q24" d="M498 408l8-3 9-2 6-7-9 3-8 4z"/>
<path class="q25" d="M515 403l8-3 6-8-8 4z"/>
<path class="q26" d="M523 400l8-2 9-3 6-9-9 3-8 3z"/>
<path class="q27" d="M540 395l8-2 6-10-8 3z"/>
<path class="q28" d="M548 393l8-2 9-1 6-12-9 2-8 3z"/>
<path class="q29" d="M565 390l8-2 8-1 6-12-8 1-8 2z"/>
<path class="q30" d="M581 387l9 0 8 0 8 0 9 1 6-13-9-1-8 0-8 0-9 1z"/>
<path class="q31" d="M615 388l8 1 8 1 7-12-9-2-8-1z"/>
<path class="q30" d="M631 390l9 2 8 3 6-11-8-3-8-3z"/>
<path class="q29" d="M174 319l9 3 8 2 6-10-8-3-8-3z"/>
<path class="q28" d="M191 324l9 3 8 4 8 3 6-8-8-4-8-4-9-4z"/>
<path class="q27" d="M216 334l9 4 8 4 6-6-8-5-9-5z"/>
<path class="q26" d="M233 342l8 4 9 5 6-4-9-6-8-5z"/>
<path class="q25" d="M250 351l8 4 8 5 6-2-8-6-8-5z"/>
<path class="q24" d="M266 360l9 5 8 4 6 0-8-5-9-6z"/>
<path class="q23" d="M283 369l8 5 6 1-8-6z"/>
<path class="q22" d="M291 374l9 4 8 5 6 3-8-6-9-5z"/>
<path class="q21" d="M308 383l8 4 9 4 6 4-9-4-8-5z"/>
<path class="q20" d="M325 391l8 4 8 4 9 3 6 6-8-4-9-4-8-5z"/>
<path class="q19" d="M350 402l8 3 8 3 9 2 8 2 9 2 8 2 8 1 9 0 8 1 6 3-8 1-9-1-8 0-8-1-9-2-8-2-8-2-9-3-8-3z"/>
<path class="q20" d="M425 418l8 0 9 0 8-1 6 1-8 2-9 1-8 0z"/>
<path class="q21" d="M450 417l8-1 9 0 6-1-9 2-8 1z"/>
<path class="q22" d="M467 416l8-2 8-1 6-3-8 3-8 2z"/>
<path class="q23" d="M483 413l9-1 8-2 6-5-8 3-9 2z"/>
<path class="q24" d="M500 410l8-1 9-2 6-7-8 3-9 2z"/>
<path class="q25" d="M517 407l8-1 6-8-8 2z"/>
<path class="q26" d="M525 406l8-2 9-1 6-10-8 2-9 3z"/>
<path class="q27" d="M542 403l8-1 9-1 6-11-9 1-8 2z"/>
<path class="q28" d="M559 401l8-1 8-1 9 0 6-12-9 0-8 1-8 2z"/>
<path class="q29" d="M584 399l8 0 8 0 9 1 8 1 8 1 9 2 8 2 6-11-8-3-9-2-8-1-8-1-9-1-8 0-8 0z"/>
<path class="q28" d="M168 331l9 2 6-11-9-3z"/>
<path class="q27" d="M177 333l8 2 8 3 9 2 8 3 8 3 7-8-9-4-8-3-8-4-9-3-8-2z"/>
<path class="q26" d="M218 346l9 3 8 4 9 3 6-5-9-5-8-4-8-4z"/>
<path class="q25" d="M244 356l8 4 8 3 6-3-8-5-8-4z"/>
<path class="q24" d="M260 363l9 4 8 3 8 4 6 0-8-5-8-4-9-5z"/>
<path class="q23" d="M285 374l9 4 8 3 6 2-8-5-9-4z"/>
<path class="q22" d="M302 381l8 3 9 4 8 3 6 4-8-4-9-4-8-4z"/>
<path class="q21" d="M327 391l8 3 9 3 8 3 8 2 6 6-8-3-8-3-9-3-8-4z"/>
<path class="q20" d="M360 402l9 2 8 3 8 1 9 2 8 1 9 2 6 4-9 0-8-1-8-2-9-2-8-2-9-2z"/>
<path class="q21" d="M411 413l8 0 8 1 9 1 8 0 8 0 6 1-8 1-8 1-9 0-8 0-8-1z"/>
<path class="q22" d="M452 415l9 0 8 0 8 0 6-2-8 1-8 2-9 0z"/>
<path class="q23" d="M477 415l9-1 8 0 6-4-8 2-9 1z"/>
<path class="q24" d="M494 414l8-1 9 0 8-1 6-6-8 1-9 2-8 1z"/>
<path class="q25" d="M519 412l8 0 9-1 6-8-9 1-8 2z"/>
<path class="q26" d="M536 411l8 0 8 0 9 0 6-11-8 1-9 1-8 1z"/>
<path class="q27" d="M561 411l8 0 8 0 9 0 8 1 6-13-8 0-8 0-9 0-8 1z"/>
<path class="q28" d="M594 412l9 1 8 1 8 1 9 2 8 1 6-12-8-2-9-2-8-1-8-1-9-1z"/>
<path class="q26" d="M162 344l9 1 8 2 8 2 9 2 8 2 8 2 6-9-8-3-8-3-9-2-8-3-8-2-9-2z"/>
<path class="q25" d="M212 355l9 3 8 2 8 3 9 2 8 3 6-5-8-3-8-4-9-3-8-4-9-3z"/>
<path class="q24" d="M254 368l8 2 9 3 8 2 9 3 6 0-9-4-8-4-8-3-9-4z"/>
<path class="q23" d="M288 378l8 2 8 3 9 2 8 3 8 2 6 4-8-3-8-3-9-4-8-3-8-3z"/>
<path class="q22" d="M329 390l9 3 8 2 8 2 9 2 8 2 8 1 9 2 8 2 8 1 9 1 8 2 8 1 9 1 8 1 6 2-8 0-8 0-9-1-8-1-8 0-9-2-8-1-9-2-8-1-8-3-9-2-8-2-8-3-9-3z"/>
<path class="q23" d="M446 413l9 0 8 1 8 1 9 0 8 1 6-2-8 0-9 1-8 0-8 0-9 0z"/>
<path class="q24" d="M488 416l8 0 9 1 8 1 8 0 6-6-8 0-8 1-9 0-8 1z"/>
<path class="q25" d="M521 418l9 1 8 0 8 1 9 0 8 1 6-10-8 0-9 0-8 0-8 0-9 1z"/>
<path class="q26" d="M563 421l8 1 9 1 8 1 8 1 9 1 8 2 8 1 9 2 6-13-8-1-9-2-8-1-8-1-9-1-8-1-9 0-8 0z"/>
<path class="q25" d="M156 356l9 2 8 1 8 2 9 1 8 2 8 2 9 1 6-9-9-3-8-2-8-2-9-2-8-2-8-2-9-1z"/>
<path class="q24" d="M215 367l8 2 8 1 9 2 8 1 8 2 9 1 8 2 8 2 9 1 8 2 8 1 9 2 8 1 6 3-8-2-8-3-9-2-8-3-8-2-9-3-8-2-9-3-8-2-8-3-9-2-8-3-8-2z"/>
<path class="q23" d="M323 387l9 2 8 1 8 2 9 2 8 1 8 2 9 1 8 2 8 1 9 2 8 1 8 2 9 2 8 1 8 2 7 2-9 0-8-1-9-1-8-1-8-2-9-1-8-1-8-2-9-2-8-1-8-2-9-2-8-2-8-2-9-3z"/>
<path class="q24" d="M448 411l9 1 8 2 8 1 9 2 8 1 9 2 8 2 8 1 9 2 8 1 8 2 9 1 8 2 6-10-8-1-9 0-8-1-8 0-9-1-8 0-8-1-9-1-8 0-8-1-9 0-8-1-8-1z"/>
<path class="q25" d="M557 431l8 1 9 2 8 2 8 1 9 2 8 1 8 2 9 1 6-12-9-2-8-1-8-2-9-1-8-1-8-1-9-1-8-1z"/>
</g></g>
<rect x="230.8" y="37.4" width="9.8" height="56" fill="url(#cb)" stroke="#444" stroke-width="0.6"/>
<g stroke="#333" stroke-width="0.5">
<line x1="230.80" y1="44.40" x2="232.60" y2="44.40"/>
<line x1="240.60" y1="44.40" x2="238.80" y2="44.40"/>
<line x1="230.80" y1="51.40" x2="232.60" y2="51.40"/>
<line x1="240.60" y1="51.40" x2="238.80" y2="51.40"/>
<line x1="230.80" y1="58.40" x2="232.60" y2="58.40"/>
<line x1="240.60" y1="58.40" x2="238.80" y2="58.40"/>
<line x1="230.80" y1="65.40" x2="232.60" y2="65.40"/>
<line x1="240.60" y1="65.40" x2="238.80" y2="65.40"/>
<line x1="230.80" y1="72.40" x2="232.60" y2="72.40"/>
<line x1="240.60" y1="72.40" x2="238.80" y2="72.40"/>
<line x1="230.80" y1="79.40" x2="232.60" y2="79.40"/>
<line x1="240.60" y1="79.40" x2="238.80" y2="79.40"/>
<line x1="230.80" y1="86.40" x2="232.60" y2="86.40"/>
<line x1="240.60" y1="86.40" x2="238.80" y2="86.40"/>
</g>
<g class="s">
<text x="203.8" y="14.3" text-anchor="middle">5.0 ps</text>
<text x="36.0" y="43.4">E<tspan dy="2.5" font-size="7.4">3</tspan><tspan dy="-2.5"> [MeV/m]</tspan></text>
<text x="30.3" y="130.00" text-anchor="end">-8</text>
<text x="30.3" y="120.66" text-anchor="end">-6</text>
<text x="30.3" y="111.33" text-anchor="end">-4</text>
<text x="30.3" y="101.99" text-anchor="end">-2</text>
<text x="30.3" y="92.65" text-anchor="end">0</text>
<text x="30.3" y="83.31" text-anchor="end">2</text>
<text x="30.3" y="73.97" text-anchor="end">4</text>
<text x="30.3" y="64.64" text-anchor="end">6</text>
<text x="30.3" y="55.30" text-anchor="end">8</text>
<text x="245.4" y="96.70">-8</text>
<text x="245.4" y="89.70">-6</text>
<text x="245.4" y="82.70">-4</text>
<text x="245.4" y="75.70">-2</text>
<text x="247.7" y="68.70">0</text>
<text x="247.7" y="61.70">2</text>
<text x="247.7" y="54.70">4</text>
<text x="247.7" y="47.70">6</text>
<text x="247.7" y="40.70">8</text>
<text x="43.44" y="135.53" text-anchor="middle">-400</text>
<text x="170.40" y="151.34">-400</text>
<text x="68.47" y="140.19" text-anchor="middle">-200</text>
<text x="184.75" y="143.45">-200</text>
<text x="93.50" y="144.85" text-anchor="middle">0</text>
<text x="199.90" y="135.55">0</text>
<text x="118.53" y="149.51" text-anchor="middle">200</text>
<text x="214.25" y="127.65">200</text>
<text x="143.56" y="154.17" text-anchor="middle">400</text>
<text x="228.60" y="119.76">400</text>
<text x="66.9" y="150.6">x<tspan dy="-3.8" font-size="7">1</tspan><tspan dy="3.8" dx="-0.6"> [<tspan class="mu">μ</tspan>m]</tspan></text>
<text x="210.6" y="138.0">x<tspan dy="-3.8" font-size="7">2</tspan><tspan dy="3.8" dx="-0.3"> [<tspan class="mu">μ</tspan>m]</tspan></text>
</g>
<g class="c">
<text x="96.8" y="200.5" textLength="12.2" lengthAdjust="spacingAndGlyphs">(b)</text>
<text x="113.0" y="200.5" font-style="italic" textLength="5.6" lengthAdjust="spacingAndGlyphs">x</text>
<text class="u" x="119.5" y="196.6">0</text>
<text x="127.8" y="200.5" textLength="6.6" lengthAdjust="spacingAndGlyphs">=</text>
<text x="138.2" y="200.5" textLength="13.2" lengthAdjust="spacingAndGlyphs">5.0</text>
<text x="153.2" y="200.5" textLength="11.8" lengthAdjust="spacingAndGlyphs">ps.</text>
</g>
</g>
<g transform="translate(0,217.5)">
<g stroke="#444" stroke-width="0.6" fill="none">
<path d="M35.50 126.70L156.90 149.30L226.50 111.00L105.10 88.40z"/>
<line x1="35.50" y1="126.70" x2="35.50" y2="52.00"/>
<line x1="35.50" y1="126.70" x2="37.70" y2="126.70"/>
<line x1="35.50" y1="117.36" x2="37.70" y2="117.36"/>
<line x1="35.50" y1="108.03" x2="37.70" y2="108.03"/>
<line x1="35.50" y1="98.69" x2="37.70" y2="98.69"/>
<line x1="35.50" y1="89.35" x2="37.70" y2="89.35"/>
<line x1="35.50" y1="80.01" x2="37.70" y2="80.01"/>
<line x1="35.50" y1="70.67" x2="37.70" y2="70.67"/>
<line x1="35.50" y1="61.34" x2="37.70" y2="61.34"/>
<line x1="35.50" y1="52.00" x2="37.70" y2="52.00"/>
<line x1="46.14" y1="128.68" x2="47.89" y2="127.72"/>
<line x1="115.74" y1="90.38" x2="113.99" y2="91.34"/>
<line x1="163.00" y1="145.94" x2="161.03" y2="145.58"/>
<line x1="41.60" y1="123.34" x2="43.57" y2="123.71"/>
<line x1="71.17" y1="133.34" x2="72.92" y2="132.38"/>
<line x1="140.77" y1="95.04" x2="139.02" y2="96.00"/>
<line x1="177.35" y1="138.05" x2="175.38" y2="137.68"/>
<line x1="55.95" y1="115.45" x2="57.92" y2="115.81"/>
<line x1="96.20" y1="138.00" x2="97.95" y2="137.04"/>
<line x1="165.80" y1="99.70" x2="164.05" y2="100.66"/>
<line x1="191.70" y1="130.15" x2="189.73" y2="129.78"/>
<line x1="70.30" y1="107.55" x2="72.27" y2="107.92"/>
<line x1="121.23" y1="142.66" x2="122.98" y2="141.70"/>
<line x1="190.83" y1="104.36" x2="189.08" y2="105.32"/>
<line x1="206.05" y1="122.25" x2="204.08" y2="121.89"/>
<line x1="84.65" y1="99.65" x2="86.62" y2="100.02"/>
<line x1="146.26" y1="147.32" x2="148.01" y2="146.36"/>
<line x1="215.86" y1="109.02" x2="214.11" y2="109.98"/>
<line x1="220.40" y1="114.36" x2="218.43" y2="113.99"/>
<line x1="99.00" y1="91.76" x2="100.97" y2="92.12"/>
</g>
<g class="sf" filter="url(#bl)"><g transform="scale(0.25)">
<path class="q23" d="M418 221l9 1 8 2 8 1 9 1 8 2 8 1 9 1 8 0 6-9-8-1-9-2-8-2-8-1-9-2-8-1-8-2-9-1z"/>
<path class="q24" d="M485 230l8 1 9 1 8 1 8 0 9 1 8 0 8 1 9 1 8 0 8 1 9 1 8 0 8 1 9 1 6 3-8-2-9-1-8-2-8-1-9-2-8-1-9-2-8-2-8-1-9-2-8-1-8-2-9-1-8-2z"/>
<path class="q25" d="M602 240l8 1 9 1 8 1 8 1 9 1 8 2 8 1 9 2 8 2 8 2 9 2 8 2 8 2 9 2 6 3-9-2-8-1-8-2-9-2-8-1-8-2-9-1-8-2-8-1-9-2-8-1-8-2-9-2-8-1z"/>
<path class="q24" d="M719 262l8 2 8 3 9 2 8 3 8 2 9 3 8 2 9 3 8 2 8 3 9 2 8 3 8 2 9 2 6-10-9-1-8-2-8-1-9-2-8-1-8-2-9-1-8-2-8-2-9-1-8-2-8-1-9-2-8-1z"/>
<path class="q23" d="M836 296l8 2 8 2 9 2 8 2 8 2 9 2 6-12-9-2-8-1-8-2-9-1-8-2-8-2z"/>
<path class="q22" d="M412 233l8 1 9 2 8 1 8 1 9 1 8 1 9 0 8 1 6-11-8 0-9-1-8-1-8-2-9-1-8-1-8-2-9-1z"/>
<path class="q23" d="M479 241l8 0 9 0 8 0 8-1 9 0 6-6-9-1-8 0-8-1-9-1-8-1z"/>
<path class="q24" d="M521 240l8 0 8-1 9 0 8-1 6-2-8 0-9-1-8-1-8 0z"/>
<path class="q25" d="M554 238l8 0 9 0 8 0 8 0 9 0 6 2-9-1-8-1-8 0-9-1-8-1z"/>
<path class="q26" d="M596 238l8 0 8 0 9 1 8 1 8 1 9 1 8 1 9 2 8 2 8 2 9 2 8 2 8 3 9 3 6 3-9-2-8-2-8-2-9-2-8-2-8-2-9-2-8-1-8-2-9-1-8-1-8-1-9-1-8-1z"/>
<path class="q25" d="M713 259l8 3 8 3 9 3 8 3 8 4 6-1-8-2-8-3-9-2-8-3-8-2z"/>
<path class="q24" d="M754 275l9 3 8 4 8 3 9 4 6-5-8-2-9-3-8-2-9-3z"/>
<path class="q23" d="M788 289l8 3 8 4 9 3 8 3 9 3 6-9-9-2-8-2-8-3-9-2-8-3z"/>
<path class="q22" d="M830 305l8 3 8 3 9 2 8 3 8 2 9 2 6-12-9-2-8-2-8-2-9-2-8-2-8-2z"/>
<path class="q21" d="M406 244l8 2 9 2 8 1 8 1 9 1 8 0 8 1 9-1 8 0 6-10-8 0-8-1-9 0-8-1-9-1-8-1-8-1-9-2-8-1z"/>
<path class="q22" d="M481 251l8-1 9-1 8-1 6-8-8 1-8 0-9 0z"/>
<path class="q23" d="M506 248l9-1 8-1 6-6-8 0-9 0z"/>
<path class="q24" d="M523 246l8-1 9-2 8-1 6-4-8 1-9 0-8 1z"/>
<path class="q25" d="M548 242l8-1 9-2 8-1 6 0-8 0-9 0-8 0z"/>
<path class="q26" d="M573 238l8-1 9 0 8-1 6 2-8 0-9 0-8 0z"/>
<path class="q27" d="M598 236l8 0 9-1 8 1 8 0 9 1 8 1 8 1 9 2 8 2 9 3 8 2 8 3 9 4 8 3 6 4-8-3-9-3-8-3-8-2-9-2-8-2-8-2-9-2-8-1-9-1-8-1-8-1-9-1-8 0z"/>
<path class="q26" d="M715 258l8 4 9 4 8 4 6 1-8-3-9-3-8-3z"/>
<path class="q25" d="M740 270l8 4 9 5 6-1-9-3-8-4z"/>
<path class="q24" d="M757 279l8 4 8 4 9 5 6-3-9-4-8-3-8-4z"/>
<path class="q23" d="M782 292l8 4 8 5 9 4 6-6-9-3-8-4-8-3z"/>
<path class="q22" d="M807 305l8 4 8 4 9 4 6-9-8-3-9-3-8-3z"/>
<path class="q21" d="M832 317l8 3 8 3 9 3 8 3 9 2 6-11-9-2-8-2-8-3-9-2-8-3z"/>
<path class="q19" d="M400 255l8 3 9 2 8 1 8 2 9 0 8 1 6-13-8 0-9-1-8-1-8-1-9-2-8-2z"/>
<path class="q20" d="M450 264l8-1 9 0 8-1 6-11-8 0-9 1-8-1z"/>
<path class="q21" d="M475 262l8-1 9-2 6-10-9 1-8 1z"/>
<path class="q22" d="M492 259l8-1 8-2 7-9-9 1-8 1z"/>
<path class="q23" d="M508 256l9-2 8-3 6-6-8 1-8 1z"/>
<path class="q24" d="M525 251l8-2 9-2 6-5-8 1-9 2z"/>
<path class="q25" d="M542 247l8-2 9-3 6-3-9 2-8 1z"/>
<path class="q26" d="M559 242l8-2 8-2 6-1-8 1-8 1z"/>
<path class="q27" d="M575 238l9-2 8-1 6 1-8 1-9 0z"/>
<path class="q28" d="M592 235l8-1 9-1 8-1 8 0 6 4-8 0-8-1-9 1-8 0z"/>
<path class="q29" d="M625 232l9 0 8 1 8 1 9 2 8 2 8 2 9 3 6 5-8-2-9-3-8-2-9-2-8-1-8-1-9-1z"/>
<path class="q28" d="M684 243l8 3 8 4 9 4 6 4-8-3-9-4-8-3z"/>
<path class="q27" d="M709 254l8 4 9 5 6 3-9-4-8-4z"/>
<path class="q26" d="M726 263l8 4 8 6 6 1-8-4-8-4z"/>
<path class="q25" d="M742 273l9 5 8 5 6 0-8-4-9-5z"/>
<path class="q24" d="M759 283l8 5 9 6 6-2-9-5-8-4z"/>
<path class="q23" d="M776 294l8 5 8 6 6-4-8-5-8-4z"/>
<path class="q22" d="M792 305l9 5 8 5 6-6-8-4-9-4z"/>
<path class="q21" d="M809 315l8 5 9 4 6-7-9-4-8-4z"/>
<path class="q20" d="M826 324l8 5 8 4 9 3 8 4 6-11-8-3-9-3-8-3-8-3z"/>
<path class="q19" d="M859 340l8 2 7-11-9-2z"/>
<path class="q18" d="M394 266l8 3 8 2 9 2 8 2 9 1 8 0 8 0 6-13-8 1-8-1-9 0-8-2-8-1-9-2-8-3z"/>
<path class="q19" d="M452 276l9-1 8-1 8-2 6-11-8 1-8 1-9 0z"/>
<path class="q20" d="M477 272l9-2 8-2 6-10-8 1-9 2z"/>
<path class="q21" d="M494 268l8-3 6-9-8 2z"/>
<path class="q22" d="M502 265l9-3 8-3 6-8-8 3-9 2z"/>
<path class="q23" d="M519 259l8-3 6-7-8 2z"/>
<path class="q24" d="M527 256l9-3 8-3 6-5-8 2-9 2z"/>
<path class="q25" d="M544 250l8-4 7-4-9 3z"/>
<path class="q26" d="M552 246l9-3 8-3 6-2-8 2-8 2z"/>
<path class="q27" d="M569 240l8-2 7-2-9 2z"/>
<path class="q28" d="M577 238l9-3 8-2 6 1-8 1-8 1z"/>
<path class="q29" d="M594 233l9-2 8-1 8-1 6 3-8 0-8 1-9 1z"/>
<path class="q30" d="M619 229l9 0 8 0 8 0 9 1 8 2 8 2 9 3 8 4 6 5-8-3-9-3-8-2-8-2-9-2-8-1-8-1-9 0z"/>
<path class="q29" d="M686 241l8 3 9 5 8 5 6 4-8-4-9-4-8-4z"/>
<path class="q28" d="M711 254l8 5 9 5 6 3-8-4-9-5z"/>
<path class="q27" d="M728 264l8 6 6 3-8-6z"/>
<path class="q26" d="M736 270l8 6 9 6 6 1-8-5-9-5z"/>
<path class="q25" d="M753 282l8 6 6 0-8-5z"/>
<path class="q24" d="M761 288l9 7 8 6 6-2-8-5-9-6z"/>
<path class="q23" d="M778 301l8 6 6-2-8-6z"/>
<path class="q22" d="M786 307l9 6 8 6 6-4-8-5-9-5z"/>
<path class="q21" d="M803 319l8 6 6-5-8-5z"/>
<path class="q20" d="M811 325l9 6 8 5 6-7-8-5-9-4z"/>
<path class="q19" d="M828 336l8 5 9 4 8 4 6-9-8-4-9-3-8-4z"/>
<path class="q18" d="M853 349l8 4 6-11-8-2z"/>
<path class="q17" d="M388 276l8 3 8 3 6-11-8-2-8-3z"/>
<path class="q16" d="M404 282l9 3 8 2 8 1 7-12-9-1-8-2-9-2z"/>
<path class="q17" d="M429 288l9 0 8 0 8-1 7-12-9 1-8 0-8 0z"/>
<path class="q18" d="M454 287l9-1 8-2 6-12-8 2-8 1z"/>
<path class="q19" d="M471 284l9-3 8-2 6-11-8 2-9 2z"/>
<path class="q20" d="M488 279l8-4 6-10-8 3z"/>
<path class="q21" d="M496 275l9-3 8-4 6-9-8 3-9 3z"/>
<path class="q22" d="M513 268l8-4 6-8-8 3z"/>
<path class="q23" d="M521 264l9-4 6-7-9 3z"/>
<path class="q24" d="M530 260l8-4 6-6-8 3z"/>
<path class="q25" d="M538 256l8-4 6-6-8 4z"/>
<path class="q26" d="M546 252l9-4 8-4 6-4-8 3-9 3z"/>
<path class="q27" d="M563 244l8-4 6-2-8 2z"/>
<path class="q28" d="M571 240l9-3 6-2-9 3z"/>
<path class="q29" d="M580 237l8-4 8-2 7 0-9 2-8 2z"/>
<path class="q30" d="M596 231l9-3 8-1 6 2-8 1-8 1z"/>
<path class="q31" d="M613 227l8-1 9-1 8 0 6 4-8 0-8 0-9 0z"/>
<path class="q32" d="M638 225l9 1 8 1 8 2 6 5-8-2-8-2-9-1z"/>
<path class="q31" d="M663 229l9 3 8 3 8 4 6 5-8-3-8-4-9-3z"/>
<path class="q30" d="M688 239l9 4 8 5 6 6-8-5-9-5z"/>
<path class="q29" d="M705 248l8 6 9 6 6 4-9-5-8-5z"/>
<path class="q28" d="M722 260l8 6 6 4-8-6z"/>
<path class="q27" d="M730 266l8 7 9 7 6 2-9-6-8-6z"/>
<path class="q26" d="M747 280l8 7 6 1-8-6z"/>
<path class="q25" d="M755 287l8 7 7 1-9-7z"/>
<path class="q24" d="M763 294l9 7 6 0-8-6z"/>
<path class="q23" d="M772 301l8 8 6-2-8-6z"/>
<path class="q22" d="M780 309l8 7 9 7 6-4-8-6-9-6z"/>
<path class="q21" d="M797 323l8 7 6-5-8-6z"/>
<path class="q20" d="M805 330l9 6 6-5-9-6z"/>
<path class="q19" d="M814 336l8 6 8 6 6-7-8-5-8-5z"/>
<path class="q18" d="M830 348l9 6 8 4 6-9-8-4-9-4z"/>
<path class="q17" d="M847 358l8 5 6-10-8-4z"/>
<path class="q16" d="M382 285l8 4 6-10-8-3z"/>
<path class="q15" d="M390 289l8 4 9 3 8 2 8 2 9 1 8-1 6-12-8 0-9 0-8-1-8-2-9-3-8-3z"/>
<path class="q16" d="M440 300l8 0 9-2 6-12-9 1-8 1z"/>
<path class="q17" d="M457 298l8-2 8-3 7-12-9 3-8 2z"/>
<path class="q18" d="M473 293l9-3 6-11-8 2z"/>
<path class="q19" d="M482 290l8-4 6-11-8 4z"/>
<path class="q20" d="M490 286l8-4 9-4 6-10-8 4-9 3z"/>
<path class="q21" d="M507 278l8-5 6-9-8 4z"/>
<path class="q22" d="M515 273l9-5 6-8-9 4z"/>
<path class="q23" d="M524 268l8-5 6-7-8 4z"/>
<path class="q24" d="M532 263l8-5 6-6-8 4z"/>
<path class="q25" d="M540 258l9-5 6-5-9 4z"/>
<path class="q26" d="M549 253l8-5 6-4-8 4z"/>
<path class="q27" d="M557 248l8-4 6-4-8 4z"/>
<path class="q28" d="M565 244l9-5 6-2-9 3z"/>
<path class="q29" d="M574 239l8-4 6-2-8 4z"/>
<path class="q30" d="M582 235l8-4 9-3 6 0-9 3-8 2z"/>
<path class="q31" d="M599 228l8-3 6 2-8 1z"/>
<path class="q32" d="M607 225l8-2 9-1 6 3-9 1-8 1z"/>
<path class="q33" d="M624 222l8-1 8 0 9 1 8 2 8 2 9 3 6 6-8-3-9-3-8-2-8-1-9-1-8 0z"/>
<path class="q32" d="M674 229l8 4 9 5 6 5-9-4-8-4z"/>
<path class="q31" d="M691 238l8 5 8 6 6 5-8-6-8-5z"/>
<path class="q30" d="M707 249l9 6 6 5-9-6z"/>
<path class="q29" d="M716 255l8 7 6 4-8-6z"/>
<path class="q28" d="M724 262l8 7 9 8 6 3-9-7-8-7z"/>
<path class="q27" d="M741 277l8 8 6 2-8-7z"/>
<path class="q26" d="M749 285l8 8 6 1-8-7z"/>
<path class="q25" d="M757 293l9 8 6 0-9-7z"/>
<path class="q24" d="M766 301l8 8 6 0-8-8z"/>
<path class="q23" d="M774 309l8 8 6-1-8-7z"/>
<path class="q22" d="M782 317l9 8 6-2-9-7z"/>
<path class="q21" d="M791 325l8 8 6-3-8-7z"/>
<path class="q20" d="M799 333l8 7 7-4-9-6z"/>
<path class="q19" d="M807 340l9 7 6-5-8-6z"/>
<path class="q18" d="M816 347l8 7 8 7 7-7-9-6-8-6z"/>
<path class="q17" d="M832 361l9 5 6-8-8-4z"/>
<path class="q16" d="M841 366l8 6 6-9-8-5z"/>
<path class="q15" d="M376 292l8 6 6-9-8-4z"/>
<path class="q14" d="M384 298l8 4 9 4 8 3 8 2 9 2 8 0 8-1 6-12-8 0-8 1-9-1-8-2-8-2-9-3-8-4z"/>
<path class="q15" d="M442 312l9-1 8-2 6-13-8 2-9 2z"/>
<path class="q16" d="M459 309l8-3 6-13-8 3z"/>
<path class="q17" d="M467 306l9-4 8-4 6-12-8 4-9 3z"/>
<path class="q18" d="M484 298l8-5 6-11-8 4z"/>
<path class="q19" d="M492 293l9-5 6-10-9 4z"/>
<path class="q20" d="M501 288l8-5 6-10-8 5z"/>
<path class="q21" d="M509 283l8-6 7-9-9 5z"/>
<path class="q23" d="M517 277l9-5 6-9-8 5z"/>
<path class="q24" d="M526 272l8-6 6-8-8 5z"/>
<path class="q25" d="M534 266l8-6 7-7-9 5z"/>
<path class="q26" d="M542 260l9-6 6-6-8 5z"/>
<path class="q27" d="M551 254l8-6 6-4-8 4z"/>
<path class="q28" d="M559 248l9-5 6-4-9 5z"/>
<path class="q29" d="M568 243l8-5 6-3-8 4z"/>
<path class="q30" d="M576 238l8-5 6-2-8 4z"/>
<path class="q31" d="M584 233l9-4 6-1-9 3z"/>
<path class="q32" d="M593 229l8-4 8-3 6 1-8 2-8 3z"/>
<path class="q33" d="M609 222l9-2 6 2-9 1z"/>
<path class="q34" d="M618 220l8-2 8 0 9 0 8 1 8 2 9 3 8 3 6 6-8-4-9-3-8-2-8-2-9-1-8 0-8 1z"/>
<path class="q33" d="M676 227l8 5 9 5 6 6-8-5-9-5z"/>
<path class="q32" d="M693 237l8 6 6 6-8-6z"/>
<path class="q31" d="M701 243l8 7 9 7 6 5-8-7-9-6z"/>
<path class="q30" d="M718 257l8 8 6 4-8-7z"/>
<path class="q29" d="M726 265l9 8 6 4-9-8z"/>
<path class="q28" d="M735 273l8 8 6 4-8-8z"/>
<path class="q27" d="M743 281l8 9 6 3-8-8z"/>
<path class="q25" d="M751 290l9 9 6 2-9-8z"/>
<path class="q24" d="M760 299l8 9 6 1-8-8z"/>
<path class="q23" d="M768 308l8 9 6 0-8-8z"/>
<path class="q22" d="M776 317l9 9 6-1-9-8z"/>
<path class="q21" d="M785 326l8 9 6-2-8-8z"/>
<path class="q20" d="M793 335l8 8 6-3-8-7z"/>
<path class="q19" d="M801 343l9 8 6-4-9-7z"/>
<path class="q18" d="M810 351l8 8 6-5-8-7z"/>
<path class="q17" d="M818 359l8 7 6-5-8-7z"/>
<path class="q16" d="M826 366l9 7 8 6 6-7-8-6-9-5z"/>
<path class="q14" d="M369 299l9 6 8 6 6-9-8-4-8-6z"/>
<path class="q13" d="M386 311l8 5 9 3 8 3 6-11-8-2-8-3-9-4z"/>
<path class="q12" d="M411 322l9 2 6-11-9-2z"/>
<path class="q13" d="M420 324l8 1 8 0 9-2 6-12-9 1-8 1-8 0z"/>
<path class="q14" d="M445 323l8-2 8-3 6-12-8 3-8 2z"/>
<path class="q15" d="M461 318l9-3 6-13-9 4z"/>
<path class="q16" d="M470 315l8-5 6-12-8 4z"/>
<path class="q17" d="M478 310l8-5 6-12-8 5z"/>
<path class="q18" d="M486 305l9-5 6-12-9 5z"/>
<path class="q19" d="M495 300l8-6 6-11-8 5z"/>
<path class="q20" d="M503 294l8-7 6-10-8 6z"/>
<path class="q22" d="M511 287l9-6 6-9-9 5z"/>
<path class="q23" d="M520 281l8-7 6-8-8 6z"/>
<path class="q24" d="M528 274l8-6 6-8-8 6z"/>
<path class="q25" d="M536 268l9-7 6-7-9 6z"/>
<path class="q27" d="M545 261l8-6 6-7-8 6z"/>
<path class="q28" d="M553 255l8-7 7-5-9 5z"/>
<path class="q29" d="M561 248l9-6 6-4-8 5z"/>
<path class="q30" d="M570 242l8-6 6-3-8 5z"/>
<path class="q31" d="M578 236l9-5 6-2-9 4z"/>
<path class="q32" d="M587 231l8-5 6-1-8 4z"/>
<path class="q33" d="M595 226l8-4 6 0-8 3z"/>
<path class="q34" d="M603 222l9-3 8-2 6 1-8 2-9 2z"/>
<path class="q35" d="M620 217l8-2 9-1 8 1 6 4-8-1-9 0-8 0z"/>
<path class="q36" d="M645 215l8 1 6 5-8-2z"/>
<path class="q35" d="M653 216l9 2 8 4 8 4 6 6-8-5-8-3-9-3z"/>
<path class="q34" d="M678 226l9 5 8 6 6 6-8-6-9-5z"/>
<path class="q33" d="M695 237l8 7 6 6-8-7z"/>
<path class="q32" d="M703 244l9 8 6 5-9-7z"/>
<path class="q31" d="M712 252l8 8 6 5-8-8z"/>
<path class="q30" d="M720 260l8 8 7 5-9-8z"/>
<path class="q29" d="M728 268l9 9 6 4-8-8z"/>
<path class="q28" d="M737 277l8 10 6 3-8-9z"/>
<path class="q26" d="M745 287l8 9 7 3-9-9z"/>
<path class="q25" d="M753 296l9 10 6 2-8-9z"/>
<path class="q24" d="M762 306l8 10 6 1-8-9z"/>
<path class="q23" d="M770 316l9 9 6 1-9-9z"/>
<path class="q21" d="M779 325l8 10 6 0-8-9z"/>
<path class="q20" d="M787 335l8 10 6-2-8-8z"/>
<path class="q19" d="M795 345l9 9 6-3-9-8z"/>
<path class="q18" d="M804 354l8 9 6-4-8-8z"/>
<path class="q17" d="M812 363l8 8 6-5-8-7z"/>
<path class="q16" d="M820 371l9 8 6-6-9-7z"/>
<path class="q15" d="M829 379l8 7 6-7-8-6z"/>
<path class="q14" d="M363 304l9 8 6-7-9-6z"/>
<path class="q13" d="M372 312l8 6 6-7-8-6z"/>
<path class="q12" d="M380 318l8 6 9 5 6-10-9-3-8-5z"/>
<path class="q11" d="M397 329l8 3 8 3 9 1 8 1 6-12-8 0-8-1-9-2-8-3z"/>
<path class="q12" d="M430 337l8-1 9-2 6-13-8 2-9 2z"/>
<path class="q13" d="M447 334l8-3 6-13-8 3z"/>
<path class="q14" d="M455 331l9-4 6-12-9 3z"/>
<path class="q15" d="M464 327l8-4 6-13-8 5z"/>
<path class="q16" d="M472 323l8-6 6-12-8 5z"/>
<path class="q17" d="M480 317l9-5 6-12-9 5z"/>
<path class="q18" d="M489 312l8-7 6-11-8 6z"/>
<path class="q19" d="M497 305l8-7 6-11-8 7z"/>
<path class="q21" d="M505 298l9-7 6-10-9 6z"/>
<path class="q22" d="M514 291l8-7 6-10-8 7z"/>
<path class="q23" d="M522 284l8-7 6-9-8 6z"/>
<path class="q25" d="M530 277l9-8 6-8-9 7z"/>
<path class="q26" d="M539 269l8-7 6-7-8 6z"/>
<path class="q27" d="M547 262l8-7 6-7-8 7z"/>
<path class="q29" d="M555 255l9-7 6-6-9 6z"/>
<path class="q30" d="M564 248l8-7 6-5-8 6z"/>
<path class="q31" d="M572 241l8-6 7-4-9 5z"/>
<path class="q32" d="M580 235l9-6 6-3-8 5z"/>
<path class="q33" d="M589 229l8-5 6-2-8 4z"/>
<path class="q34" d="M597 224l8-5 7 0-9 3z"/>
<path class="q35" d="M605 219l9-3 6 1-8 2z"/>
<path class="q36" d="M614 216l8-3 9-1 6 2-9 1-8 2z"/>
<path class="q37" d="M631 212l8-1 8 1 9 1 8 3 6 6-8-4-9-2-8-1-8-1z"/>
<path class="q36" d="M664 216l8 4 9 5 6 6-9-5-8-4z"/>
<path class="q35" d="M681 225l8 6 6 6-8-6z"/>
<path class="q34" d="M689 231l8 7 6 6-8-7z"/>
<path class="q33" d="M697 238l9 8 6 6-9-8z"/>
<path class="q32" d="M706 246l8 8 6 6-8-8z"/>
<path class="q31" d="M714 254l8 9 6 5-8-8z"/>
<path class="q30" d="M722 263l9 10 6 4-9-9z"/>
<path class="q29" d="M731 273l8 10 6 4-8-10z"/>
<path class="q27" d="M739 283l8 10 6 3-8-9z"/>
<path class="q26" d="M747 293l9 10 6 3-9-10z"/>
<path class="q25" d="M756 303l8 11 6 2-8-10z"/>
<path class="q23" d="M764 314l8 10 7 1-9-9z"/>
<path class="q22" d="M772 324l9 11 6 0-8-10z"/>
<path class="q21" d="M781 335l8 10 6 0-8-10z"/>
<path class="q19" d="M789 345l8 10 7-1-9-9z"/>
<path class="q18" d="M797 355l9 10 6-2-8-9z"/>
<path class="q17" d="M806 365l8 9 6-3-8-8z"/>
<path class="q16" d="M814 374l9 9 6-4-9-8z"/>
<path class="q15" d="M823 383l8 8 6-5-8-7z"/>
<path class="q13" d="M357 308l9 9 6-5-9-8z"/>
<path class="q12" d="M366 317l8 8 8 6 6-7-8-6-8-6z"/>
<path class="q11" d="M382 331l9 6 6-8-9-5z"/>
<path class="q10" d="M391 337l8 5 8 3 9 2 8 1 8 0 6-12-8 1-8-1-9-1-8-3-8-3z"/>
<path class="q11" d="M432 348l9-2 8-2 6-13-8 3-9 2z"/>
<path class="q12" d="M449 344l8-4 7-13-9 4z"/>
<path class="q13" d="M457 340l9-5 6-12-8 4z"/>
<path class="q14" d="M466 335l8-5 6-13-8 6z"/>
<path class="q15" d="M474 330l8-6 7-12-9 5z"/>
<path class="q17" d="M482 324l9-7 6-12-8 7z"/>
<path class="q18" d="M491 317l8-7 6-12-8 7z"/>
<path class="q19" d="M499 310l9-8 6-11-9 7z"/>
<path class="q21" d="M508 302l8-8 6-10-8 7z"/>
<path class="q22" d="M516 294l8-8 6-9-8 7z"/>
<path class="q24" d="M524 286l9-8 6-9-9 8z"/>
<path class="q25" d="M533 278l8-8 6-8-8 7z"/>
<path class="q27" d="M541 270l8-8 6-7-8 7z"/>
<path class="q28" d="M549 262l9-8 6-6-9 7z"/>
<path class="q30" d="M558 254l8-7 6-6-8 7z"/>
<path class="q31" d="M566 247l8-8 6-4-8 6z"/>
<path class="q32" d="M574 239l9-6 6-4-9 6z"/>
<path class="q33" d="M583 233l8-7 6-2-8 5z"/>
<path class="q35" d="M591 226l8-5 6-2-8 5z"/>
<path class="q36" d="M599 221l9-5 8-3 6 0-8 3-9 3z"/>
<path class="q37" d="M616 213l8-3 7 2-9 1z"/>
<path class="q38" d="M624 210l9-1 8-1 8 1 9 2 8 4 6 5-8-4-8-3-9-1-8-1-8 1z"/>
<path class="q37" d="M666 215l9 4 8 6 6 6-8-6-9-5z"/>
<path class="q36" d="M683 225l8 7 6 6-8-7z"/>
<path class="q35" d="M691 232l9 8 6 6-9-8z"/>
<path class="q34" d="M700 240l8 8 6 6-8-8z"/>
<path class="q33" d="M708 248l8 9 6 6-8-9z"/>
<path class="q31" d="M716 257l9 10 6 6-9-10z"/>
<path class="q30" d="M725 267l8 11 6 5-8-10z"/>
<path class="q29" d="M733 278l8 10 6 5-8-10z"/>
<path class="q27" d="M741 288l9 11 6 4-9-10z"/>
<path class="q26" d="M750 299l8 12 6 3-8-11z"/>
<path class="q24" d="M758 311l8 11 6 2-8-10z"/>
<path class="q23" d="M766 322l9 11 6 2-9-11z"/>
<path class="q21" d="M775 333l8 11 6 1-8-10z"/>
<path class="q20" d="M783 344l8 11 6 0-8-10z"/>
<path class="q18" d="M791 355l9 11 6-1-9-10z"/>
<path class="q17" d="M800 366l8 10 6-2-8-9z"/>
<path class="q16" d="M808 376l8 10 7-3-9-9z"/>
<path class="q15" d="M816 386l9 9 6-4-8-8z"/>
<path class="q13" d="M351 311l8 10 7-4-9-9z"/>
<path class="q12" d="M359 321l9 8 6-4-8-8z"/>
<path class="q11" d="M368 329l8 8 6-6-8-6z"/>
<path class="q10" d="M376 337l9 7 8 6 6-8-8-5-9-6z"/>
<path class="q9" d="M393 350l8 4 9 3 8 2 8 0 9-1 6-12-9 2-8 0-8-1-9-2-8-3z"/>
<path class="q10" d="M435 358l8-2 6-12-8 2z"/>
<path class="q11" d="M443 356l8-3 6-13-8 4z"/>
<path class="q12" d="M451 353l9-5 6-13-9 5z"/>
<path class="q13" d="M460 348l8-5 6-13-8 5z"/>
<path class="q14" d="M468 343l8-6 6-13-8 6z"/>
<path class="q15" d="M476 337l9-7 6-13-9 7z"/>
<path class="q16" d="M485 330l8-8 6-12-8 7z"/>
<path class="q18" d="M493 322l8-8 7-12-9 8z"/>
<path class="q20" d="M501 314l9-8 6-12-8 8z"/>
<path class="q21" d="M510 306l8-9 6-11-8 8z"/>
<path class="q23" d="M518 297l8-9 7-10-9 8z"/>
<path class="q24" d="M526 288l9-9 6-9-8 8z"/>
<path class="q26" d="M535 279l8-8 6-9-8 8z"/>
<path class="q27" d="M543 271l9-9 6-8-9 8z"/>
<path class="q29" d="M552 262l8-8 6-7-8 7z"/>
<path class="q31" d="M560 254l8-9 6-6-8 8z"/>
<path class="q32" d="M568 245l9-7 6-5-9 6z"/>
<path class="q33" d="M577 238l8-8 6-4-8 7z"/>
<path class="q35" d="M585 230l8-6 6-3-8 5z"/>
<path class="q36" d="M593 224l9-6 6-2-9 5z"/>
<path class="q37" d="M602 218l8-4 6-1-8 3z"/>
<path class="q38" d="M610 214l8-4 9-3 6 2-9 1-8 3z"/>
<path class="q39" d="M627 207l8-1 8 0 9 1 8 3 8 4 7 5-9-4-8-4-9-2-8-1-8 1z"/>
<path class="q38" d="M668 214l9 5 6 6-8-6z"/>
<path class="q37" d="M677 219l8 7 6 6-8-7z"/>
<path class="q36" d="M685 226l8 8 7 6-9-8z"/>
<path class="q35" d="M693 234l9 8 6 6-8-8z"/>
<path class="q34" d="M702 242l8 10 6 5-8-9z"/>
<path class="q33" d="M710 252l9 10 6 5-9-10z"/>
<path class="q32" d="M719 262l8 10 6 6-8-11z"/>
<path class="q30" d="M727 272l8 11 6 5-8-10z"/>
<path class="q28" d="M735 283l9 12 6 4-9-11z"/>
<path class="q27" d="M744 295l8 12 6 4-8-12z"/>
<path class="q25" d="M752 307l8 12 6 3-8-11z"/>
<path class="q24" d="M760 319l9 11 6 3-9-11z"/>
<path class="q22" d="M769 330l8 12 6 2-8-11z"/>
<path class="q21" d="M777 342l8 12 6 1-8-11z"/>
<path class="q19" d="M785 354l9 12 6 0-9-11z"/>
<path class="q17" d="M794 366l8 11 6-1-8-10z"/>
<path class="q16" d="M802 377l8 11 6-2-8-10z"/>
<path class="q15" d="M810 388l9 10 6-3-9-9z"/>
<path class="q14" d="M345 312l8 11 6-2-8-10z"/>
<path class="q12" d="M353 323l9 10 6-4-9-8z"/>
<path class="q11" d="M362 333l8 9 6-5-8-8z"/>
<path class="q10" d="M370 342l8 8 7-6-9-7z"/>
<path class="q9" d="M378 350l9 7 8 5 6-8-8-4-8-6z"/>
<path class="q8" d="M395 362l8 4 9 3 8 1 9 0 6-12-9 1-8 0-8-2-9-3z"/>
<path class="q9" d="M429 370l8-2 8-3 6-12-8 3-8 2z"/>
<path class="q10" d="M445 365l9-4 6-13-9 5z"/>
<path class="q11" d="M454 361l8-5 6-13-8 5z"/>
<path class="q12" d="M462 356l8-7 6-12-8 6z"/>
<path class="q14" d="M470 349l9-7 6-12-9 7z"/>
<path class="q15" d="M479 342l8-8 6-12-8 8z"/>
<path class="q17" d="M487 334l8-8 6-12-8 8z"/>
<path class="q18" d="M495 326l9-9 6-11-9 8z"/>
<path class="q20" d="M504 317l8-9 6-11-8 9z"/>
<path class="q22" d="M512 308l8-9 6-11-8 9z"/>
<path class="q23" d="M520 299l9-10 6-10-9 9z"/>
<path class="q25" d="M529 289l8-9 6-9-8 8z"/>
<path class="q27" d="M537 280l8-9 7-9-9 9z"/>
<path class="q28" d="M545 271l9-9 6-8-8 8z"/>
<path class="q30" d="M554 262l8-9 6-8-8 9z"/>
<path class="q32" d="M562 253l8-9 7-6-9 7z"/>
<path class="q33" d="M570 244l9-8 6-6-8 8z"/>
<path class="q34" d="M579 236l8-8 6-4-8 6z"/>
<path class="q36" d="M587 228l9-6 6-4-9 6z"/>
<path class="q37" d="M596 222l8-6 6-2-8 4z"/>
<path class="q38" d="M604 216l8-5 6-1-8 4z"/>
<path class="q39" d="M612 211l9-4 8-2 6 1-8 1-9 3z"/>
<path class="q40" d="M629 205l8-1 9 0 8 2 8 3 6 5-8-4-8-3-9-1-8 0z"/>
<path class="q39" d="M662 209l9 5 8 6 6 6-8-7-9-5z"/>
<path class="q38" d="M679 220l8 8 6 6-8-8z"/>
<path class="q37" d="M687 228l9 8 6 6-9-8z"/>
<path class="q36" d="M696 236l8 9 6 7-8-10z"/>
<path class="q34" d="M704 245l8 11 7 6-9-10z"/>
<path class="q33" d="M712 256l9 11 6 5-8-10z"/>
<path class="q31" d="M721 267l8 11 6 5-8-11z"/>
<path class="q30" d="M729 278l8 12 7 5-9-12z"/>
<path class="q28" d="M737 290l9 12 6 5-8-12z"/>
<path class="q26" d="M746 302l8 13 6 4-8-12z"/>
<path class="q25" d="M754 315l9 12 6 3-9-11z"/>
<path class="q23" d="M763 327l8 13 6 2-8-12z"/>
<path class="q21" d="M771 340l8 12 6 2-8-12z"/>
<path class="q20" d="M779 352l9 12 6 2-9-12z"/>
<path class="q18" d="M788 364l8 12 6 1-8-11z"/>
<path class="q16" d="M796 376l8 12 6 0-8-11z"/>
<path class="q15" d="M804 388l9 11 6-1-9-10z"/>
<path class="q14" d="M339 312l8 12 6-1-8-11z"/>
<path class="q12" d="M347 324l9 11 6-2-9-10z"/>
<path class="q11" d="M356 335l8 10 6-3-8-9z"/>
<path class="q10" d="M364 345l8 9 6-4-8-8z"/>
<path class="q9" d="M372 354l9 8 6-5-9-7z"/>
<path class="q8" d="M381 362l8 7 6-7-8-5z"/>
<path class="q7" d="M389 369l8 5 9 4 8 2 8 0 9-1 6-11-8 2-9 0-8-1-9-3-8-4z"/>
<path class="q8" d="M431 379l8-2 6-12-8 3z"/>
<path class="q9" d="M439 377l8-4 7-12-9 4z"/>
<path class="q10" d="M447 373l9-5 6-12-8 5z"/>
<path class="q11" d="M456 368l8-6 6-13-8 7z"/>
<path class="q12" d="M464 362l9-7 6-13-9 7z"/>
<path class="q14" d="M473 355l8-8 6-13-8 8z"/>
<path class="q15" d="M481 347l8-9 6-12-8 8z"/>
<path class="q17" d="M489 338l9-9 6-12-9 9z"/>
<path class="q18" d="M498 329l8-9 6-12-8 9z"/>
<path class="q20" d="M506 320l8-10 6-11-8 9z"/>
<path class="q22" d="M514 310l9-10 6-11-9 10z"/>
<path class="q24" d="M523 300l8-10 6-10-8 9z"/>
<path class="q26" d="M531 290l8-10 6-9-8 9z"/>
<path class="q27" d="M539 280l9-9 6-9-9 9z"/>
<path class="q29" d="M548 271l8-10 6-8-8 9z"/>
<path class="q31" d="M556 261l8-10 6-7-8 9z"/>
<path class="q33" d="M564 251l9-9 6-6-9 8z"/>
<path class="q34" d="M573 242l8-8 6-6-8 8z"/>
<path class="q36" d="M581 234l8-8 7-4-9 6z"/>
<path class="q37" d="M589 226l9-7 6-3-8 6z"/>
<path class="q38" d="M598 219l8-6 6-2-8 5z"/>
<path class="q39" d="M606 213l8-5 7-1-9 4z"/>
<path class="q40" d="M614 208l9-3 6 0-8 2z"/>
<path class="q41" d="M623 205l8-2 9-1 8 1 8 3 9 4 6 4-9-5-8-3-8-2-9 0-8 1z"/>
<path class="q40" d="M665 210l8 5 6 5-8-6z"/>
<path class="q39" d="M673 215l8 7 6 6-8-8z"/>
<path class="q38" d="M681 222l9 8 6 6-9-8z"/>
<path class="q37" d="M690 230l8 9 6 6-8-9z"/>
<path class="q36" d="M698 239l8 11 6 6-8-11z"/>
<path class="q34" d="M706 250l9 11 6 6-9-11z"/>
<path class="q33" d="M715 261l8 11 6 6-8-11z"/>
<path class="q31" d="M723 272l8 12 6 6-8-12z"/>
<path class="q30" d="M731 284l9 13 6 5-9-12z"/>
<path class="q28" d="M740 297l8 13 6 5-8-13z"/>
<path class="q26" d="M748 310l8 13 7 4-9-12z"/>
<path class="q24" d="M756 323l9 13 6 4-8-13z"/>
<path class="q22" d="M765 336l8 13 6 3-8-12z"/>
<path class="q21" d="M773 349l8 13 7 2-9-12z"/>
<path class="q19" d="M781 362l9 13 6 1-8-12z"/>
<path class="q17" d="M790 375l8 12 6 1-8-12z"/>
<path class="q15" d="M798 387l9 12 6 0-9-11z"/>
<path class="q14" d="M333 311l8 13 6 0-8-12z"/>
<path class="q13" d="M341 324l9 12 6-1-9-11z"/>
<path class="q11" d="M350 336l8 11 6-2-8-10z"/>
<path class="q10" d="M358 347l8 10 6-3-8-9z"/>
<path class="q9" d="M366 357l9 9 6-4-9-8z"/>
<path class="q8" d="M375 366l8 8 6-5-8-7z"/>
<path class="q7" d="M383 374l8 6 6-6-8-5z"/>
<path class="q6" d="M391 380l9 5 8 3 8 2 9 0 6-11-9 1-8 0-8-2-9-4z"/>
<path class="q7" d="M425 390l8-2 8-3 6-12-8 4-8 2z"/>
<path class="q8" d="M441 385l9-4 6-13-9 5z"/>
<path class="q9" d="M450 381l8-6 6-13-8 6z"/>
<path class="q11" d="M458 375l8-7 7-13-9 7z"/>
<path class="q12" d="M466 368l9-8 6-13-8 8z"/>
<path class="q14" d="M475 360l8-9 6-13-8 9z"/>
<path class="q15" d="M483 351l9-9 6-13-9 9z"/>
<path class="q17" d="M492 342l8-10 6-12-8 9z"/>
<path class="q19" d="M500 332l8-10 6-12-8 10z"/>
<path class="q21" d="M508 322l9-10 6-12-9 10z"/>
<path class="q23" d="M517 312l8-11 6-11-8 10z"/>
<path class="q25" d="M525 301l8-10 6-11-8 10z"/>
<path class="q26" d="M533 291l9-11 6-9-9 9z"/>
<path class="q28" d="M542 280l8-10 6-9-8 10z"/>
<path class="q30" d="M550 270l8-10 6-9-8 10z"/>
<path class="q32" d="M558 260l9-10 6-8-9 9z"/>
<path class="q34" d="M567 250l8-9 6-7-8 8z"/>
<path class="q35" d="M575 241l8-9 6-6-8 8z"/>
<path class="q37" d="M583 232l9-8 6-5-9 7z"/>
<path class="q38" d="M592 224l8-7 6-4-8 6z"/>
<path class="q39" d="M600 217l8-6 6-3-8 5z"/>
<path class="q40" d="M608 211l9-5 6-1-9 3z"/>
<path class="q41" d="M617 206l8-3 6 0-8 2z"/>
<path class="q42" d="M625 203l8-2 9 0 8 2 8 3 7 4-9-4-8-3-8-1-9 1z"/>
<path class="q41" d="M658 206l9 5 8 6 6 5-8-7-8-5z"/>
<path class="q40" d="M675 217l9 8 6 5-9-8z"/>
<path class="q39" d="M684 225l8 9 6 5-8-9z"/>
<path class="q37" d="M692 234l8 10 6 6-8-11z"/>
<path class="q36" d="M700 244l9 11 6 6-9-11z"/>
<path class="q34" d="M709 255l8 11 6 6-8-11z"/>
<path class="q33" d="M717 266l8 13 6 5-8-12z"/>
<path class="q31" d="M725 279l9 13 6 5-9-13z"/>
<path class="q29" d="M734 292l8 13 6 5-8-13z"/>
<path class="q27" d="M742 305l8 13 6 5-8-13z"/>
<path class="q25" d="M750 318l9 14 6 4-9-13z"/>
<path class="q23" d="M759 332l8 13 6 4-8-13z"/>
<path class="q22" d="M767 345l8 14 6 3-8-13z"/>
<path class="q20" d="M775 359l9 13 6 3-9-13z"/>
<path class="q18" d="M784 372l8 13 6 2-8-12z"/>
<path class="q16" d="M792 385l8 13 7 1-9-12z"/>
<path class="q15" d="M327 309l8 13 6 2-8-13z"/>
<path class="q13" d="M335 322l8 13 7 1-9-12z"/>
<path class="q12" d="M343 335l9 12 6 0-8-11z"/>
<path class="q10" d="M352 347l8 11 6-1-8-10z"/>
<path class="q9" d="M360 358l9 10 6-2-9-9z"/>
<path class="q8" d="M369 368l8 9 6-3-8-8z"/>
<path class="q7" d="M377 377l8 8 6-5-8-6z"/>
<path class="q6" d="M385 385l9 6 6-6-9-5z"/>
<path class="q5" d="M394 391l8 5 8 2 9 1 8 0 6-11-8 2-9 0-8-2-8-3z"/>
<path class="q6" d="M427 399l8-3 6-11-8 3z"/>
<path class="q7" d="M435 396l9-4 6-11-9 4z"/>
<path class="q8" d="M444 392l8-5 6-12-8 6z"/>
<path class="q9" d="M452 387l8-7 6-12-8 7z"/>
<path class="q11" d="M460 380l9-8 6-12-9 8z"/>
<path class="q12" d="M469 372l8-8 6-13-8 9z"/>
<path class="q14" d="M477 364l8-10 7-12-9 9z"/>
<path class="q16" d="M485 354l9-9 6-13-8 10z"/>
<path class="q17" d="M494 345l8-11 6-12-8 10z"/>
<path class="q19" d="M502 334l8-10 7-12-9 10z"/>
<path class="q21" d="M510 324l9-11 6-12-8 11z"/>
<path class="q23" d="M519 313l8-11 6-11-8 10z"/>
<path class="q25" d="M527 302l9-11 6-11-9 11z"/>
<path class="q27" d="M536 291l8-11 6-10-8 10z"/>
<path class="q29" d="M544 280l8-11 6-9-8 10z"/>
<path class="q31" d="M552 269l9-10 6-9-9 10z"/>
<path class="q33" d="M561 259l8-10 6-8-8 9z"/>
<path class="q35" d="M569 249l8-10 6-7-8 9z"/>
<path class="q36" d="M577 239l9-9 6-6-9 8z"/>
<path class="q38" d="M586 230l8-8 6-5-8 7z"/>
<path class="q39" d="M594 222l8-7 6-4-8 6z"/>
<path class="q40" d="M602 215l9-5 6-4-9 5z"/>
<path class="q41" d="M611 210l8-5 6-2-8 3z"/>
<path class="q42" d="M619 205l8-3 6-1-8 2z"/>
<path class="q43" d="M627 202l9-1 8 0 8 2 9 4 6 4-9-5-8-3-8-2-9 0z"/>
<path class="q42" d="M661 207l8 6 6 4-8-6z"/>
<path class="q41" d="M669 213l8 7 7 5-9-8z"/>
<path class="q40" d="M677 220l9 8 6 6-8-9z"/>
<path class="q39" d="M686 228l8 10 6 6-8-10z"/>
<path class="q37" d="M694 238l8 11 7 6-9-11z"/>
<path class="q36" d="M702 249l9 11 6 6-8-11z"/>
<path class="q34" d="M711 260l8 13 6 6-8-13z"/>
<path class="q32" d="M719 273l9 13 6 6-9-13z"/>
<path class="q31" d="M728 286l8 13 6 6-8-13z"/>
<path class="q29" d="M736 299l8 14 6 5-8-13z"/>
<path class="q27" d="M744 313l9 14 6 5-9-14z"/>
<path class="q25" d="M753 327l8 14 6 4-8-13z"/>
<path class="q23" d="M761 341l8 14 6 4-8-14z"/>
<path class="q21" d="M769 355l9 14 6 3-9-13z"/>
<path class="q19" d="M778 369l8 14 6 2-8-13z"/>
<path class="q17" d="M786 383l8 13 6 2-8-13z"/>
<path class="q16" d="M321 306l8 14 6 2-8-13z"/>
<path class="q14" d="M329 320l8 13 6 2-8-13z"/>
<path class="q12" d="M337 333l9 13 6 1-9-12z"/>
<path class="q11" d="M346 346l8 12 6 0-8-11z"/>
<path class="q9" d="M354 358l8 12 7-2-9-10z"/>
<path class="q8" d="M362 370l9 10 6-3-8-9z"/>
<path class="q7" d="M371 380l8 8 6-3-8-8z"/>
<path class="q6" d="M379 388l8 8 7-5-9-6z"/>
<path class="q5" d="M387 396l9 5 8 4 6-7-8-2-8-5z"/>
<path class="q4" d="M404 405l9 2 6-8-9-1z"/>
<path class="q5" d="M413 407l8 1 8-2 6-10-8 3-8 0z"/>
<path class="q6" d="M429 406l9-3 6-11-9 4z"/>
<path class="q7" d="M438 403l8-5 6-11-8 5z"/>
<path class="q8" d="M446 398l8-6 6-12-8 7z"/>
<path class="q9" d="M454 392l9-7 6-13-9 8z"/>
<path class="q11" d="M463 385l8-9 6-12-8 8z"/>
<path class="q12" d="M471 376l8-9 6-13-8 10z"/>
<path class="q14" d="M479 367l9-10 6-12-9 9z"/>
<path class="q16" d="M488 357l8-10 6-13-8 11z"/>
<path class="q18" d="M496 347l8-11 6-12-8 10z"/>
<path class="q20" d="M504 336l9-11 6-12-9 11z"/>
<path class="q22" d="M513 325l8-11 6-12-8 11z"/>
<path class="q24" d="M521 314l8-12 7-11-9 11z"/>
<path class="q26" d="M529 302l9-11 6-11-8 11z"/>
<path class="q28" d="M538 291l8-11 6-11-8 11z"/>
<path class="q30" d="M546 280l8-11 7-10-9 10z"/>
<path class="q32" d="M554 269l9-11 6-9-8 10z"/>
<path class="q34" d="M563 258l8-10 6-9-8 10z"/>
<path class="q36" d="M571 248l9-10 6-8-9 9z"/>
<path class="q37" d="M580 238l8-9 6-7-8 8z"/>
<path class="q39" d="M588 229l8-8 6-6-8 7z"/>
<path class="q40" d="M596 221l9-7 6-4-9 5z"/>
<path class="q41" d="M605 214l8-6 6-3-8 5z"/>
<path class="q42" d="M613 208l8-4 6-2-8 3z"/>
<path class="q43" d="M621 204l9-2 8-1 6 0-8 0-9 1z"/>
<path class="q44" d="M638 201l8 1 6 1-8-2z"/>
<path class="q43" d="M646 202l9 3 8 4 6 4-8-6-9-4z"/>
<path class="q42" d="M663 209l8 6 6 5-8-7z"/>
<path class="q41" d="M671 215l9 8 6 5-9-8z"/>
<path class="q40" d="M680 223l8 10 6 5-8-10z"/>
<path class="q39" d="M688 233l8 10 6 6-8-11z"/>
<path class="q37" d="M696 243l9 12 6 5-9-11z"/>
<path class="q36" d="M705 255l8 12 6 6-8-13z"/>
<path class="q34" d="M713 267l8 13 7 6-9-13z"/>
<path class="q32" d="M721 280l9 14 6 5-8-13z"/>
<path class="q30" d="M730 294l8 14 6 5-8-14z"/>
<path class="q28" d="M738 308l9 14 6 5-9-14z"/>
<path class="q26" d="M747 322l8 14 6 5-8-14z"/>
<path class="q24" d="M755 336l8 14 6 5-8-14z"/>
<path class="q22" d="M763 350l9 15 6 4-9-14z"/>
<path class="q20" d="M772 365l8 14 6 4-8-14z"/>
<path class="q18" d="M780 379l8 14 6 3-8-13z"/>
<path class="q17" d="M315 302l8 15 6 3-8-14z"/>
<path class="q15" d="M323 317l8 14 6 2-8-13z"/>
<path class="q13" d="M331 331l9 13 6 2-9-13z"/>
<path class="q11" d="M340 344l8 13 6 1-8-12z"/>
<path class="q10" d="M348 357l8 12 6 1-8-12z"/>
<path class="q8" d="M356 369l9 11 6 0-9-10z"/>
<path class="q7" d="M365 380l8 10 6-2-8-8z"/>
<path class="q6" d="M373 390l8 9 6-3-8-8z"/>
<path class="q5" d="M381 399l9 7 6-5-9-5z"/>
<path class="q4" d="M390 406l8 5 8 3 9 2 8-1 6-9-8 2-8-1-9-2-8-4z"/>
<path class="q5" d="M423 415l8-2 9-4 6-11-8 5-9 3z"/>
<path class="q6" d="M440 409l8-6 6-11-8 6z"/>
<path class="q8" d="M448 403l9-6 6-12-9 7z"/>
<path class="q9" d="M457 397l8-8 6-13-8 9z"/>
<path class="q11" d="M465 389l8-10 6-12-8 9z"/>
<path class="q13" d="M473 379l9-9 6-13-9 10z"/>
<path class="q15" d="M482 370l8-11 6-12-8 10z"/>
<path class="q17" d="M490 359l8-11 6-12-8 11z"/>
<path class="q19" d="M498 348l9-11 6-12-9 11z"/>
<path class="q21" d="M507 337l8-12 6-11-8 11z"/>
<path class="q23" d="M515 325l8-11 6-12-8 12z"/>
<path class="q25" d="M523 314l9-12 6-11-9 11z"/>
<path class="q27" d="M532 302l8-11 6-11-8 11z"/>
<path class="q29" d="M540 291l8-12 6-10-8 11z"/>
<path class="q31" d="M548 279l9-11 6-10-9 11z"/>
<path class="q33" d="M557 268l8-11 6-9-8 10z"/>
<path class="q35" d="M565 257l8-10 7-9-9 10z"/>
<path class="q37" d="M573 247l9-10 6-8-8 9z"/>
<path class="q38" d="M582 237l8-9 6-7-8 8z"/>
<path class="q40" d="M590 228l8-8 7-6-9 7z"/>
<path class="q41" d="M598 220l9-7 6-5-8 6z"/>
<path class="q42" d="M607 213l8-5 6-4-8 4z"/>
<path class="q43" d="M615 208l9-4 6-2-9 2z"/>
<path class="q44" d="M624 204l8-2 8 0 9 1 8 4 6 2-8-4-9-3-8-1-8 1z"/>
<path class="q43" d="M657 207l8 5 9 7 6 4-9-8-8-6z"/>
<path class="q42" d="M674 219l8 9 6 5-8-10z"/>
<path class="q40" d="M682 228l8 10 6 5-8-10z"/>
<path class="q39" d="M690 238l9 11 6 6-9-12z"/>
<path class="q37" d="M699 249l8 12 6 6-8-12z"/>
<path class="q35" d="M707 261l8 13 6 6-8-13z"/>
<path class="q33" d="M715 274l9 14 6 6-9-14z"/>
<path class="q31" d="M724 288l8 14 6 6-8-14z"/>
<path class="q29" d="M732 302l8 14 7 6-9-14z"/>
<path class="q27" d="M740 316l9 15 6 5-8-14z"/>
<path class="q25" d="M749 331l8 14 6 5-8-14z"/>
<path class="q23" d="M757 345l8 15 7 5-9-15z"/>
<path class="q21" d="M765 360l9 15 6 4-8-14z"/>
<path class="q19" d="M774 375l8 14 6 4-8-14z"/>
<path class="q18" d="M308 298l9 15 6 4-8-15z"/>
<path class="q16" d="M317 313l8 14 6 4-8-14z"/>
<path class="q14" d="M325 327l9 14 6 3-9-13z"/>
<path class="q12" d="M334 341l8 14 6 2-8-13z"/>
<path class="q10" d="M342 355l8 13 6 1-8-12z"/>
<path class="q9" d="M350 368l9 12 6 0-9-11z"/>
<path class="q7" d="M359 380l8 11 6-1-8-10z"/>
<path class="q6" d="M367 391l8 9 6-1-8-9z"/>
<path class="q5" d="M375 400l9 8 6-2-9-7z"/>
<path class="q4" d="M384 408l8 7 8 4 6-5-8-3-8-5z"/>
<path class="q3" d="M400 419l9 3 8 1 6-8-8 1-9-2z"/>
<path class="q4" d="M417 423l8-1 9-3 6-10-9 4-8 2z"/>
<path class="q5" d="M434 419l8-5 6-11-8 6z"/>
<path class="q6" d="M442 414l8-6 7-11-9 6z"/>
<path class="q8" d="M450 408l9-8 6-11-8 8z"/>
<path class="q9" d="M459 400l8-9 6-12-8 10z"/>
<path class="q11" d="M467 391l8-9 7-12-9 9z"/>
<path class="q13" d="M475 382l9-11 6-12-8 11z"/>
<path class="q15" d="M484 371l8-10 6-13-8 11z"/>
<path class="q17" d="M492 361l9-12 6-12-9 11z"/>
<path class="q19" d="M501 349l8-11 6-13-8 12z"/>
<path class="q21" d="M509 338l8-12 6-12-8 11z"/>
<path class="q23" d="M517 326l9-12 6-12-9 12z"/>
<path class="q26" d="M526 314l8-12 6-11-8 11z"/>
<path class="q28" d="M534 302l8-12 6-11-8 12z"/>
<path class="q30" d="M542 290l9-11 6-11-9 11z"/>
<path class="q32" d="M551 279l8-12 6-10-8 11z"/>
<path class="q34" d="M559 267l8-11 6-9-8 10z"/>
<path class="q36" d="M567 256l9-10 6-9-9 10z"/>
<path class="q38" d="M576 246l8-10 6-8-8 9z"/>
<path class="q39" d="M584 236l8-9 6-7-8 8z"/>
<path class="q41" d="M592 227l9-7 6-7-9 7z"/>
<path class="q42" d="M601 220l8-7 6-5-8 5z"/>
<path class="q43" d="M609 213l8-5 7-4-9 4z"/>
<path class="q44" d="M617 208l9-3 8-2 6-1-8 0-8 2z"/>
<path class="q45" d="M634 203l8 1 9 2 6 1-8-4-9-1z"/>
<path class="q44" d="M651 206l8 4 9 6 6 3-9-7-8-5z"/>
<path class="q43" d="M668 216l8 8 6 4-8-9z"/>
<path class="q42" d="M676 224l8 10 6 4-8-10z"/>
<path class="q40" d="M684 234l9 10 6 5-9-11z"/>
<path class="q39" d="M693 244l8 12 6 5-8-12z"/>
<path class="q37" d="M701 256l8 13 6 5-8-13z"/>
<path class="q35" d="M709 269l9 13 6 6-9-14z"/>
<path class="q33" d="M718 282l8 14 6 6-8-14z"/>
<path class="q31" d="M726 296l8 15 6 5-8-14z"/>
<path class="q29" d="M734 311l9 14 6 6-9-15z"/>
<path class="q27" d="M743 325l8 15 6 5-8-14z"/>
<path class="q25" d="M751 340l8 15 6 5-8-15z"/>
<path class="q22" d="M759 355l9 15 6 5-9-15z"/>
<path class="q20" d="M768 370l8 15 6 4-8-14z"/>
<path class="q19" d="M302 293l9 15 6 5-9-15z"/>
<path class="q17" d="M311 308l8 15 6 4-8-14z"/>
<path class="q15" d="M319 323l8 14 7 4-9-14z"/>
<path class="q13" d="M327 337l9 15 6 3-8-14z"/>
<path class="q11" d="M336 352l8 13 6 3-8-13z"/>
<path class="q10" d="M344 365l8 13 7 2-9-12z"/>
<path class="q8" d="M352 378l9 12 6 1-8-11z"/>
<path class="q6" d="M361 390l8 10 6 0-8-9z"/>
<path class="q5" d="M369 400l9 9 6-1-9-8z"/>
<path class="q4" d="M378 409l8 8 6-2-8-7z"/>
<path class="q3" d="M386 417l8 6 9 4 8 2 8 0 6-7-8 1-8-1-9-3-8-4z"/>
<path class="q4" d="M419 429l9-2 8-4 6-9-8 5-9 3z"/>
<path class="q5" d="M436 423l8-5 6-10-8 6z"/>
<path class="q7" d="M444 418l9-7 6-11-9 8z"/>
<path class="q8" d="M453 411l8-8 6-12-8 9z"/>
<path class="q10" d="M461 403l8-9 6-12-8 9z"/>
<path class="q12" d="M469 394l9-11 6-12-9 11z"/>
<path class="q14" d="M478 383l8-10 6-12-8 10z"/>
<path class="q16" d="M486 373l8-12 7-12-9 12z"/>
<path class="q18" d="M494 361l9-11 6-12-8 11z"/>
<path class="q20" d="M503 350l8-12 6-12-8 12z"/>
<path class="q22" d="M511 338l8-12 7-12-9 12z"/>
<path class="q24" d="M519 326l9-12 6-12-8 12z"/>
<path class="q26" d="M528 314l8-12 6-12-8 12z"/>
<path class="q29" d="M536 302l9-12 6-11-9 11z"/>
<path class="q31" d="M545 290l8-12 6-11-8 12z"/>
<path class="q33" d="M553 278l8-11 6-11-8 11z"/>
<path class="q35" d="M561 267l9-11 6-10-9 10z"/>
<path class="q37" d="M570 256l8-10 6-10-8 10z"/>
<path class="q38" d="M578 246l8-10 6-9-8 9z"/>
<path class="q40" d="M586 236l9-9 6-7-9 7z"/>
<path class="q42" d="M595 227l8-7 6-7-8 7z"/>
<path class="q43" d="M603 220l8-6 6-6-8 5z"/>
<path class="q44" d="M611 214l9-5 6-4-9 3z"/>
<path class="q45" d="M620 209l8-3 8 0 9 1 8 3 6 0-8-4-9-2-8-1-8 2z"/>
<path class="q44" d="M653 210l8 5 9 7 6 2-8-8-9-6z"/>
<path class="q43" d="M670 222l8 8 6 4-8-10z"/>
<path class="q41" d="M678 230l8 10 7 4-9-10z"/>
<path class="q40" d="M686 240l9 11 6 5-8-12z"/>
<path class="q38" d="M695 251l8 13 6 5-8-13z"/>
<path class="q36" d="M703 264l9 13 6 5-9-13z"/>
<path class="q34" d="M712 277l8 14 6 5-8-14z"/>
<path class="q32" d="M720 291l8 14 6 6-8-15z"/>
<path class="q30" d="M728 305l9 15 6 5-9-14z"/>
<path class="q28" d="M737 320l8 15 6 5-8-15z"/>
<path class="q26" d="M745 335l8 15 6 5-8-15z"/>
<path class="q24" d="M753 350l9 15 6 5-9-15z"/>
<path class="q22" d="M762 365l8 15 6 5-8-15z"/>
<path class="q21" d="M296 288l9 15 6 5-9-15z"/>
<path class="q19" d="M305 303l8 15 6 5-8-15z"/>
<path class="q17" d="M313 318l8 15 6 4-8-14z"/>
<path class="q14" d="M321 333l9 14 6 5-9-15z"/>
<path class="q12" d="M330 347l8 14 6 4-8-13z"/>
<path class="q11" d="M338 361l8 14 6 3-8-13z"/>
<path class="q9" d="M346 375l9 12 6 3-9-12z"/>
<path class="q7" d="M355 387l8 12 6 1-8-10z"/>
<path class="q6" d="M363 399l8 10 7 0-9-9z"/>
<path class="q5" d="M371 409l9 9 6-1-8-8z"/>
<path class="q4" d="M380 418l8 7 6-2-8-6z"/>
<path class="q3" d="M388 425l8 5 9 3 8 2 9-1 6-7-9 2-8 0-8-2-9-4z"/>
<path class="q4" d="M422 434l8-3 8-4 6-9-8 5-8 4z"/>
<path class="q6" d="M438 427l9-6 6-10-9 7z"/>
<path class="q7" d="M447 421l8-8 6-10-8 8z"/>
<path class="q9" d="M455 413l8-8 6-11-8 9z"/>
<path class="q10" d="M463 405l9-10 6-12-9 11z"/>
<path class="q12" d="M472 395l8-10 6-12-8 10z"/>
<path class="q14" d="M480 385l8-12 6-12-8 12z"/>
<path class="q16" d="M488 373l9-11 6-12-9 11z"/>
<path class="q18" d="M497 362l8-12 6-12-8 12z"/>
<path class="q21" d="M505 350l8-12 6-12-8 12z"/>
<path class="q23" d="M513 338l9-12 6-12-9 12z"/>
<path class="q25" d="M522 326l8-12 6-12-8 12z"/>
<path class="q27" d="M530 314l8-12 7-12-9 12z"/>
<path class="q29" d="M538 302l9-12 6-12-8 12z"/>
<path class="q31" d="M547 290l8-12 6-11-8 11z"/>
<path class="q34" d="M555 278l8-11 7-11-9 11z"/>
<path class="q36" d="M563 267l9-11 6-10-8 10z"/>
<path class="q37" d="M572 256l8-10 6-10-8 10z"/>
<path class="q39" d="M580 246l9-10 6-9-9 9z"/>
<path class="q41" d="M589 236l8-8 6-8-8 7z"/>
<path class="q42" d="M597 228l8-7 6-7-8 6z"/>
<path class="q43" d="M605 221l9-6 6-6-9 5z"/>
<path class="q44" d="M614 215l8-4 6-5-8 3z"/>
<path class="q45" d="M622 211l8-2 9 0 8 2 8 4 6 0-8-5-8-3-9-1-8 0z"/>
<path class="q44" d="M655 215l9 5 8 8 6 2-8-8-9-7z"/>
<path class="q42" d="M672 228l8 9 6 3-8-10z"/>
<path class="q41" d="M680 237l9 10 6 4-9-11z"/>
<path class="q39" d="M689 247l8 12 6 5-8-13z"/>
<path class="q38" d="M697 259l8 13 7 5-9-13z"/>
<path class="q36" d="M705 272l9 14 6 5-8-14z"/>
<path class="q34" d="M714 286l8 14 6 5-8-14z"/>
<path class="q32" d="M722 300l8 14 7 6-9-15z"/>
<path class="q30" d="M730 314l9 15 6 6-8-15z"/>
<path class="q27" d="M739 329l8 15 6 6-8-15z"/>
<path class="q25" d="M747 344l9 16 6 5-9-15z"/>
<path class="q23" d="M756 360l8 15 6 5-8-15z"/>
<path class="q22" d="M290 282l9 16 6 5-9-15z"/>
<path class="q20" d="M299 298l8 15 6 5-8-15z"/>
<path class="q18" d="M307 313l8 15 6 5-8-15z"/>
<path class="q16" d="M315 328l9 15 6 4-9-14z"/>
<path class="q14" d="M324 343l8 14 6 4-8-14z"/>
<path class="q12" d="M332 357l8 14 6 4-8-14z"/>
<path class="q10" d="M340 371l9 13 6 3-9-12z"/>
<path class="q8" d="M349 384l8 12 6 3-8-12z"/>
<path class="q7" d="M357 396l8 11 6 2-8-10z"/>
<path class="q5" d="M365 407l9 10 6 1-9-9z"/>
<path class="q4" d="M374 417l8 8 6 0-8-7z"/>
<path class="q3" d="M382 425l8 7 9 4 6-3-9-3-8-5z"/>
<path class="q2" d="M399 436l8 3 6-4-8-2z"/>
<path class="q3" d="M407 439l8 0 9-1 6-7-8 3-9 1z"/>
<path class="q4" d="M424 438l8-3 6-8-8 4z"/>
<path class="q5" d="M432 435l9-5 6-9-9 6z"/>
<path class="q6" d="M441 430l8-7 6-10-8 8z"/>
<path class="q7" d="M449 423l8-8 6-10-8 8z"/>
<path class="q9" d="M457 415l9-9 6-11-9 10z"/>
<path class="q11" d="M466 406l8-10 6-11-8 10z"/>
<path class="q13" d="M474 396l8-11 6-12-8 12z"/>
<path class="q15" d="M482 385l9-11 6-12-9 11z"/>
<path class="q17" d="M491 374l8-12 6-12-8 12z"/>
<path class="q19" d="M499 362l8-12 6-12-8 12z"/>
<path class="q21" d="M507 350l9-12 6-12-9 12z"/>
<path class="q24" d="M516 338l8-12 6-12-8 12z"/>
<path class="q26" d="M524 326l8-12 6-12-8 12z"/>
<path class="q28" d="M532 314l9-12 6-12-9 12z"/>
<path class="q30" d="M541 302l8-12 6-12-8 12z"/>
<path class="q32" d="M549 290l8-12 6-11-8 11z"/>
<path class="q34" d="M557 278l9-11 6-11-9 11z"/>
<path class="q36" d="M566 267l8-11 6-10-8 10z"/>
<path class="q38" d="M574 256l8-10 7-10-9 10z"/>
<path class="q40" d="M582 246l9-9 6-9-8 8z"/>
<path class="q41" d="M591 237l8-8 6-8-8 7z"/>
<path class="q43" d="M599 229l8-7 7-7-9 6z"/>
<path class="q44" d="M607 222l9-5 6-6-8 4z"/>
<path class="q45" d="M616 217l8-3 9-1 6-4-9 0-8 2z"/>
<path class="q46" d="M633 213l8 0 6-2-8-2z"/>
<path class="q45" d="M641 213l8 3 9 4 6 0-9-5-8-4z"/>
<path class="q44" d="M658 220l8 7 6 1-8-8z"/>
<path class="q43" d="M666 227l8 8 6 2-8-9z"/>
<path class="q42" d="M674 235l9 10 6 2-9-10z"/>
<path class="q41" d="M683 245l8 11 6 3-8-12z"/>
<path class="q39" d="M691 256l8 12 6 4-8-13z"/>
<path class="q37" d="M699 268l9 13 6 5-9-14z"/>
<path class="q35" d="M708 281l8 14 6 5-8-14z"/>
<path class="q33" d="M716 295l8 14 6 5-8-14z"/>
<path class="q31" d="M724 309l9 15 6 5-9-15z"/>
<path class="q29" d="M733 324l8 15 6 5-8-15z"/>
<path class="q27" d="M741 339l8 15 7 6-9-16z"/>
<path class="q24" d="M749 354l9 16 6 5-8-15z"/>
<path class="q24" d="M284 277l8 15 7 6-9-16z"/>
<path class="q21" d="M292 292l9 16 6 5-8-15z"/>
<path class="q19" d="M301 308l8 15 6 5-8-15z"/>
<path class="q17" d="M309 323l9 15 6 5-9-15z"/>
<path class="q15" d="M318 338l8 14 6 5-8-14z"/>
<path class="q13" d="M326 352l8 14 6 5-8-14z"/>
<path class="q11" d="M334 366l9 14 6 4-9-13z"/>
<path class="q9" d="M343 380l8 13 6 3-8-12z"/>
<path class="q7" d="M351 393l8 12 6 2-8-11z"/>
<path class="q6" d="M359 405l9 10 6 2-9-10z"/>
<path class="q5" d="M368 415l8 9 6 1-8-8z"/>
<path class="q4" d="M376 424l8 8 6 0-8-7z"/>
<path class="q3" d="M384 432l9 5 8 4 6-2-8-3-9-4z"/>
<path class="q2" d="M401 441l8 2 6-4-8 0z"/>
<path class="q3" d="M409 443l9 0 8-2 6-6-8 3-9 1z"/>
<path class="q4" d="M426 441l8-4 7-7-9 5z"/>
<path class="q5" d="M434 437l9-6 6-8-8 7z"/>
<path class="q7" d="M443 431l8-7 6-9-8 8z"/>
<path class="q8" d="M451 424l8-8 7-10-9 9z"/>
<path class="q10" d="M459 416l9-10 6-10-8 10z"/>
<path class="q12" d="M468 406l8-10 6-11-8 11z"/>
<path class="q14" d="M476 396l9-11 6-11-9 11z"/>
<path class="q16" d="M485 385l8-11 6-12-8 12z"/>
<path class="q18" d="M493 374l8-12 6-12-8 12z"/>
<path class="q20" d="M501 362l9-12 6-12-9 12z"/>
<path class="q22" d="M510 350l8-12 6-12-8 12z"/>
<path class="q24" d="M518 338l8-12 6-12-8 12z"/>
<path class="q27" d="M526 326l9-12 6-12-9 12z"/>
<path class="q29" d="M535 314l8-12 6-12-8 12z"/>
<path class="q31" d="M543 302l8-12 6-12-8 12z"/>
<path class="q33" d="M551 290l9-11 6-12-9 11z"/>
<path class="q35" d="M560 279l8-12 6-11-8 11z"/>
<path class="q37" d="M568 267l8-10 6-11-8 10z"/>
<path class="q39" d="M576 257l9-10 6-10-9 9z"/>
<path class="q41" d="M585 247l8-8 6-10-8 8z"/>
<path class="q42" d="M593 239l8-8 6-9-8 7z"/>
<path class="q43" d="M601 231l9-6 6-8-9 5z"/>
<path class="q44" d="M610 225l8-4 6-7-8 3z"/>
<path class="q45" d="M618 221l8-3 9-1 6-4-8 0-9 1z"/>
<path class="q46" d="M635 217l8 2 6-3-8-3z"/>
<path class="q45" d="M643 219l9 3 8 5 6 0-8-7-9-4z"/>
<path class="q44" d="M660 227l8 7 6 1-8-8z"/>
<path class="q43" d="M668 234l9 9 6 2-9-10z"/>
<path class="q41" d="M677 243l8 10 6 3-8-11z"/>
<path class="q40" d="M685 253l8 12 6 3-8-12z"/>
<path class="q38" d="M693 265l9 12 6 4-9-13z"/>
<path class="q36" d="M702 277l8 14 6 4-8-14z"/>
<path class="q34" d="M710 291l8 14 6 4-8-14z"/>
<path class="q32" d="M718 305l9 14 6 5-9-15z"/>
<path class="q30" d="M727 319l8 15 6 5-8-15z"/>
<path class="q28" d="M735 334l8 15 6 5-8-15z"/>
<path class="q26" d="M743 349l9 15 6 6-9-16z"/>
<path class="q25" d="M278 272l8 15 6 5-8-15z"/>
<path class="q23" d="M286 287l9 15 6 6-9-16z"/>
<path class="q21" d="M295 302l8 15 6 6-8-15z"/>
<path class="q18" d="M303 317l8 15 7 6-9-15z"/>
<path class="q16" d="M311 332l9 15 6 5-8-14z"/>
<path class="q14" d="M320 347l8 14 6 5-8-14z"/>
<path class="q12" d="M328 361l8 14 7 5-9-14z"/>
<path class="q10" d="M336 375l9 13 6 5-8-13z"/>
<path class="q9" d="M345 388l8 13 6 4-8-12z"/>
<path class="q7" d="M353 401l9 11 6 3-9-10z"/>
<path class="q6" d="M362 412l8 10 6 2-8-9z"/>
<path class="q4" d="M370 422l8 8 9 7 6 0-9-5-8-8z"/>
<path class="q3" d="M387 437l8 5 8 3 9 1 8 0 6-5-8 2-9 0-8-2-8-4z"/>
<path class="q4" d="M420 446l8-3 6-6-8 4z"/>
<path class="q5" d="M428 443l9-5 6-7-9 6z"/>
<path class="q6" d="M437 438l8-6 6-8-8 7z"/>
<path class="q7" d="M445 432l8-7 6-9-8 8z"/>
<path class="q9" d="M453 425l9-9 6-10-9 10z"/>
<path class="q11" d="M462 416l8-10 6-10-8 10z"/>
<path class="q12" d="M470 406l8-10 7-11-9 11z"/>
<path class="q14" d="M478 396l9-11 6-11-8 11z"/>
<path class="q17" d="M487 385l8-11 6-12-8 12z"/>
<path class="q19" d="M495 374l8-12 7-12-9 12z"/>
<path class="q21" d="M503 362l9-12 6-12-8 12z"/>
<path class="q23" d="M512 350l8-12 6-12-8 12z"/>
<path class="q25" d="M520 338l9-12 6-12-9 12z"/>
<path class="q27" d="M529 326l8-12 6-12-8 12z"/>
<path class="q30" d="M537 314l8-12 6-12-8 12z"/>
<path class="q32" d="M545 302l9-11 6-12-9 11z"/>
<path class="q34" d="M554 291l8-12 6-12-8 12z"/>
<path class="q36" d="M562 279l8-10 6-12-8 10z"/>
<path class="q38" d="M570 269l9-11 6-11-9 10z"/>
<path class="q39" d="M579 258l8-9 6-10-8 8z"/>
<path class="q41" d="M587 249l8-8 6-10-8 8z"/>
<path class="q42" d="M595 241l9-7 6-9-9 6z"/>
<path class="q44" d="M604 234l8-5 8-4 6-7-8 3-8 4z"/>
<path class="q45" d="M620 225l9-2 8 0 8 2 9 4 6-2-8-5-9-3-8-2-9 1z"/>
<path class="q44" d="M654 229l8 6 6-1-8-7z"/>
<path class="q43" d="M662 235l8 8 7 0-9-9z"/>
<path class="q42" d="M670 243l9 9 6 1-8-10z"/>
<path class="q41" d="M679 252l8 10 6 3-8-12z"/>
<path class="q39" d="M687 262l9 12 6 3-9-12z"/>
<path class="q37" d="M696 274l8 13 6 4-8-14z"/>
<path class="q36" d="M704 287l8 13 6 5-8-14z"/>
<path class="q34" d="M712 300l9 15 6 4-9-14z"/>
<path class="q31" d="M721 315l8 14 6 5-8-15z"/>
<path class="q29" d="M729 329l8 15 6 5-8-15z"/>
<path class="q27" d="M737 344l9 15 6 5-9-15z"/>
<path class="q26" d="M272 267l8 15 6 5-8-15z"/>
<path class="q24" d="M280 282l9 15 6 5-9-15z"/>
<path class="q22" d="M289 297l8 15 6 5-8-15z"/>
<path class="q20" d="M297 312l8 15 6 5-8-15z"/>
<path class="q18" d="M305 327l9 14 6 6-9-15z"/>
<path class="q16" d="M314 341l8 15 6 5-8-14z"/>
<path class="q14" d="M322 356l8 14 6 5-8-14z"/>
<path class="q12" d="M330 370l9 13 6 5-9-13z"/>
<path class="q10" d="M339 383l8 13 6 5-8-13z"/>
<path class="q8" d="M347 396l8 12 7 4-9-11z"/>
<path class="q7" d="M355 408l9 10 6 4-8-10z"/>
<path class="q5" d="M364 418l8 10 6 2-8-8z"/>
<path class="q4" d="M372 428l8 8 9 6 6 0-8-5-9-7z"/>
<path class="q3" d="M389 442l8 4 9 2 8 1 8-2 6-4-8 3-8 0-9-1-8-3z"/>
<path class="q4" d="M422 447l9-3 6-6-9 5z"/>
<path class="q5" d="M431 444l8-5 6-7-8 6z"/>
<path class="q6" d="M439 439l8-7 6-7-8 7z"/>
<path class="q8" d="M447 432l9-7 6-9-9 9z"/>
<path class="q10" d="M456 425l8-9 6-10-8 10z"/>
<path class="q11" d="M464 416l8-10 6-10-8 10z"/>
<path class="q13" d="M472 406l9-10 6-11-9 11z"/>
<path class="q15" d="M481 396l8-11 6-11-8 11z"/>
<path class="q17" d="M489 385l8-12 6-11-8 12z"/>
<path class="q19" d="M497 373l9-11 6-12-9 12z"/>
<path class="q22" d="M506 362l8-12 6-12-8 12z"/>
<path class="q24" d="M514 350l8-12 7-12-9 12z"/>
<path class="q26" d="M522 338l9-12 6-12-8 12z"/>
<path class="q28" d="M531 326l8-12 6-12-8 12z"/>
<path class="q30" d="M539 314l8-11 7-12-9 11z"/>
<path class="q32" d="M547 303l9-12 6-12-8 12z"/>
<path class="q34" d="M556 291l8-10 6-12-8 10z"/>
<path class="q36" d="M564 281l9-11 6-12-9 11z"/>
<path class="q38" d="M573 270l8-9 6-12-8 9z"/>
<path class="q40" d="M581 261l8-9 6-11-8 8z"/>
<path class="q41" d="M589 252l9-8 6-10-9 7z"/>
<path class="q43" d="M598 244l8-6 6-9-8 5z"/>
<path class="q44" d="M606 238l8-5 9-3 6-7-9 2-8 4z"/>
<path class="q45" d="M623 230l8-1 8 1 9 3 8 4 6-2-8-6-9-4-8-2-8 0z"/>
<path class="q44" d="M656 237l8 7 6-1-8-8z"/>
<path class="q43" d="M664 244l9 8 6 0-9-9z"/>
<path class="q42" d="M673 252l8 9 6 1-8-10z"/>
<path class="q40" d="M681 261l8 11 7 2-9-12z"/>
<path class="q38" d="M689 272l9 12 6 3-8-13z"/>
<path class="q37" d="M698 284l8 13 6 3-8-13z"/>
<path class="q35" d="M706 297l8 14 7 4-9-15z"/>
<path class="q33" d="M714 311l9 14 6 4-8-14z"/>
<path class="q31" d="M723 325l8 14 6 5-8-15z"/>
<path class="q29" d="M731 339l9 15 6 5-9-15z"/>
<path class="q28" d="M266 263l8 14 6 5-8-15z"/>
<path class="q26" d="M274 277l9 15 6 5-9-15z"/>
<path class="q23" d="M283 292l8 15 6 5-8-15z"/>
<path class="q21" d="M291 307l8 14 6 6-8-15z"/>
<path class="q19" d="M299 321l9 15 6 5-9-14z"/>
<path class="q17" d="M308 336l8 14 6 6-8-15z"/>
<path class="q15" d="M316 350l8 14 6 6-8-14z"/>
<path class="q13" d="M324 364l9 14 6 5-9-13z"/>
<path class="q11" d="M333 378l8 13 6 5-8-13z"/>
<path class="q9" d="M341 391l8 12 6 5-8-12z"/>
<path class="q8" d="M349 403l9 11 6 4-9-10z"/>
<path class="q6" d="M358 414l8 10 6 4-8-10z"/>
<path class="q5" d="M366 424l8 9 6 3-8-8z"/>
<path class="q4" d="M374 433l9 7 8 5 6 1-8-4-9-6z"/>
<path class="q3" d="M391 445l8 4 9 1 6-1-8-1-9-2z"/>
<path class="q4" d="M408 450l8 0 8-2 7-4-9 3-8 2z"/>
<path class="q5" d="M424 448l9-4 6-5-8 5z"/>
<path class="q6" d="M433 444l8-5 6-7-8 7z"/>
<path class="q7" d="M441 439l9-7 6-7-9 7z"/>
<path class="q9" d="M450 432l8-8 6-8-8 9z"/>
<path class="q10" d="M458 424l8-9 6-9-8 10z"/>
<path class="q12" d="M466 415l9-10 6-9-9 10z"/>
<path class="q14" d="M475 405l8-10 6-10-8 11z"/>
<path class="q16" d="M483 395l8-11 6-11-8 12z"/>
<path class="q18" d="M491 384l9-11 6-11-9 11z"/>
<path class="q20" d="M500 373l8-12 6-11-8 12z"/>
<path class="q22" d="M508 361l8-11 6-12-8 12z"/>
<path class="q25" d="M516 350l9-12 6-12-9 12z"/>
<path class="q27" d="M525 338l8-11 6-13-8 12z"/>
<path class="q29" d="M533 327l8-12 6-12-8 11z"/>
<path class="q31" d="M541 315l9-11 6-13-9 12z"/>
<path class="q33" d="M550 304l8-11 6-12-8 10z"/>
<path class="q35" d="M558 293l8-11 7-12-9 11z"/>
<path class="q37" d="M566 282l9-9 6-12-8 9z"/>
<path class="q39" d="M575 273l8-10 6-11-8 9z"/>
<path class="q40" d="M583 263l8-8 7-11-9 8z"/>
<path class="q42" d="M591 255l9-6 6-11-8 6z"/>
<path class="q43" d="M600 249l8-6 6-10-8 5z"/>
<path class="q44" d="M608 243l9-4 8-2 6-8-8 1-9 3z"/>
<path class="q45" d="M625 237l8-1 9 2 6-5-9-3-8-1z"/>
<path class="q44" d="M642 238l8 3 8 5 6-2-8-7-8-4z"/>
<path class="q43" d="M658 246l9 7 6-1-9-8z"/>
<path class="q42" d="M667 253l8 9 6-1-8-9z"/>
<path class="q41" d="M675 262l8 10 6 0-8-11z"/>
<path class="q39" d="M683 272l9 11 6 1-9-12z"/>
<path class="q38" d="M692 283l8 12 6 2-8-13z"/>
<path class="q36" d="M700 295l8 13 6 3-8-14z"/>
<path class="q34" d="M708 308l9 13 6 4-9-14z"/>
<path class="q32" d="M717 321l8 14 6 4-8-14z"/>
<path class="q30" d="M725 335l8 15 7 4-9-15z"/>
<path class="q29" d="M260 259l8 14 6 4-8-14z"/>
<path class="q27" d="M268 273l8 14 7 5-9-15z"/>
<path class="q25" d="M276 287l9 15 6 5-8-15z"/>
<path class="q23" d="M285 302l8 14 6 5-8-14z"/>
<path class="q21" d="M293 316l8 14 7 6-9-15z"/>
<path class="q19" d="M301 330l9 14 6 6-8-14z"/>
<path class="q17" d="M310 344l8 14 6 6-8-14z"/>
<path class="q15" d="M318 358l9 14 6 6-9-14z"/>
<path class="q13" d="M327 372l8 13 6 6-8-13z"/>
<path class="q11" d="M335 385l8 12 6 6-8-12z"/>
<path class="q9" d="M343 397l9 12 6 5-9-11z"/>
<path class="q8" d="M352 409l8 10 6 5-8-10z"/>
<path class="q6" d="M360 419l8 10 6 4-8-9z"/>
<path class="q5" d="M368 429l9 8 8 6 6 2-8-5-9-7z"/>
<path class="q4" d="M385 443l8 4 9 3 8 1 8-1 6-2-8 2-8 0-9-1-8-4z"/>
<path class="q5" d="M418 450l9-2 6-4-9 4z"/>
<path class="q6" d="M427 448l8-4 6-5-8 5z"/>
<path class="q7" d="M435 444l8-6 7-6-9 7z"/>
<path class="q8" d="M443 438l9-7 6-7-8 8z"/>
<path class="q10" d="M452 431l8-8 6-8-8 9z"/>
<path class="q11" d="M460 423l8-9 7-9-9 10z"/>
<path class="q13" d="M468 414l9-10 6-9-8 10z"/>
<path class="q15" d="M477 404l8-10 6-10-8 11z"/>
<path class="q17" d="M485 394l9-11 6-10-9 11z"/>
<path class="q19" d="M494 383l8-11 6-11-8 12z"/>
<path class="q21" d="M502 372l8-11 6-11-8 11z"/>
<path class="q23" d="M510 361l9-11 6-12-9 12z"/>
<path class="q25" d="M519 350l8-12 6-11-8 11z"/>
<path class="q27" d="M527 338l8-11 6-12-8 12z"/>
<path class="q29" d="M535 327l9-11 6-12-9 11z"/>
<path class="q31" d="M544 316l8-11 6-12-8 11z"/>
<path class="q33" d="M552 305l8-10 6-13-8 11z"/>
<path class="q35" d="M560 295l9-10 6-12-9 9z"/>
<path class="q37" d="M569 285l8-9 6-13-8 10z"/>
<path class="q39" d="M577 276l8-9 6-12-8 8z"/>
<path class="q40" d="M585 267l9-7 6-11-9 6z"/>
<path class="q42" d="M594 260l8-6 6-11-8 6z"/>
<path class="q43" d="M602 254l8-5 9-3 6-9-8 2-9 4z"/>
<path class="q44" d="M619 246l8-2 8 1 9 2 8 4 6-5-8-5-8-3-9-2-8 1z"/>
<path class="q43" d="M652 251l9 5 6-3-9-7z"/>
<path class="q42" d="M661 256l8 8 6-2-8-9z"/>
<path class="q41" d="M669 264l8 8 6 0-8-10z"/>
<path class="q40" d="M677 272l9 10 6 1-9-11z"/>
<path class="q38" d="M686 282l8 12 6 1-8-12z"/>
<path class="q37" d="M694 294l8 12 6 2-8-13z"/>
<path class="q35" d="M702 306l9 13 6 2-9-13z"/>
<path class="q33" d="M711 319l8 13 6 3-8-14z"/>
<path class="q31" d="M719 332l8 14 6 4-8-15z"/>
<path class="q30" d="M254 256l8 13 6 4-8-14z"/>
<path class="q28" d="M262 269l8 14 6 4-8-14z"/>
<path class="q26" d="M270 283l9 14 6 5-9-15z"/>
<path class="q24" d="M279 297l8 14 6 5-8-14z"/>
<path class="q22" d="M287 311l8 14 6 5-8-14z"/>
<path class="q20" d="M295 325l9 14 6 5-9-14z"/>
<path class="q18" d="M304 339l8 14 6 5-8-14z"/>
<path class="q16" d="M312 353l8 13 7 6-9-14z"/>
<path class="q14" d="M320 366l9 13 6 6-8-13z"/>
<path class="q12" d="M329 379l8 13 6 5-8-12z"/>
<path class="q11" d="M337 392l9 11 6 6-9-12z"/>
<path class="q9" d="M346 403l8 11 6 5-8-10z"/>
<path class="q8" d="M354 414l8 10 6 5-8-10z"/>
<path class="q7" d="M362 424l9 8 6 5-9-8z"/>
<path class="q6" d="M371 432l8 7 6 4-8-6z"/>
<path class="q5" d="M379 439l8 6 9 4 6 1-9-3-8-4z"/>
<path class="q4" d="M396 449l8 2 6 0-8-1z"/>
<path class="q5" d="M404 451l8 0 9-1 6-2-9 2-8 1z"/>
<path class="q6" d="M421 450l8-3 6-3-8 4z"/>
<path class="q7" d="M429 447l8-5 6-4-8 6z"/>
<path class="q8" d="M437 442l9-5 6-6-9 7z"/>
<path class="q9" d="M446 437l8-7 6-7-8 8z"/>
<path class="q11" d="M454 430l8-8 6-8-8 9z"/>
<path class="q12" d="M462 422l9-9 6-9-9 10z"/>
<path class="q14" d="M471 413l8-10 6-9-8 10z"/>
<path class="q16" d="M479 403l8-10 7-10-9 11z"/>
<path class="q18" d="M487 393l9-10 6-11-8 11z"/>
<path class="q20" d="M496 383l8-11 6-11-8 11z"/>
<path class="q22" d="M504 372l8-11 7-11-9 11z"/>
<path class="q24" d="M512 361l9-11 6-12-8 12z"/>
<path class="q26" d="M521 350l8-11 6-12-8 11z"/>
<path class="q28" d="M529 339l9-11 6-12-9 11z"/>
<path class="q30" d="M538 328l8-10 6-13-8 11z"/>
<path class="q32" d="M546 318l8-11 6-12-8 10z"/>
<path class="q34" d="M554 307l9-9 6-13-9 10z"/>
<path class="q36" d="M563 298l8-10 6-12-8 9z"/>
<path class="q37" d="M571 288l8-8 6-13-8 9z"/>
<path class="q39" d="M579 280l9-8 6-12-9 7z"/>
<path class="q40" d="M588 272l8-7 6-11-8 6z"/>
<path class="q41" d="M596 265l8-5 6-11-8 5z"/>
<path class="q42" d="M604 260l9-4 6-10-9 3z"/>
<path class="q43" d="M613 256l8-3 8 0 6-8-8-1-8 2z"/>
<path class="q44" d="M629 253l9 1 6-7-9-2z"/>
<path class="q43" d="M638 254l8 2 8 5 7-5-9-5-8-4z"/>
<path class="q42" d="M654 261l9 6 6-3-8-8z"/>
<path class="q41" d="M663 267l8 8 6-3-8-8z"/>
<path class="q40" d="M671 275l8 9 7-2-9-10z"/>
<path class="q39" d="M679 284l9 10 6 0-8-12z"/>
<path class="q37" d="M688 294l8 11 6 1-8-12z"/>
<path class="q36" d="M696 305l9 12 6 2-9-13z"/>
<path class="q34" d="M705 317l8 13 6 2-8-13z"/>
<path class="q32" d="M713 330l8 13 6 3-8-14z"/>
<path class="q31" d="M248 254l8 13 6 2-8-13z"/>
<path class="q29" d="M256 267l8 13 6 3-8-14z"/>
<path class="q27" d="M264 280l9 13 6 4-9-14z"/>
<path class="q25" d="M273 293l8 14 6 4-8-14z"/>
<path class="q23" d="M281 307l8 13 6 5-8-14z"/>
<path class="q21" d="M289 320l9 14 6 5-9-14z"/>
<path class="q19" d="M298 334l8 13 6 6-8-14z"/>
<path class="q17" d="M306 347l8 13 6 6-8-13z"/>
<path class="q16" d="M314 360l9 13 6 6-9-13z"/>
<path class="q14" d="M323 373l8 13 6 6-8-13z"/>
<path class="q12" d="M331 386l8 11 7 6-9-11z"/>
<path class="q11" d="M339 397l9 11 6 6-8-11z"/>
<path class="q9" d="M348 408l8 10 6 6-8-10z"/>
<path class="q8" d="M356 418l8 9 7 5-9-8z"/>
<path class="q7" d="M364 427l9 8 6 4-8-7z"/>
<path class="q6" d="M373 435l8 6 6 4-8-6z"/>
<path class="q5" d="M381 441l9 5 8 3 8 2 9 0 6-1-9 1-8 0-8-2-9-4z"/>
<path class="q6" d="M415 451l8-2 6-2-8 3z"/>
<path class="q7" d="M423 449l8-3 6-4-8 5z"/>
<path class="q8" d="M431 446l9-5 6-4-9 5z"/>
<path class="q9" d="M440 441l8-6 6-5-8 7z"/>
<path class="q10" d="M448 435l8-7 6-6-8 8z"/>
<path class="q12" d="M456 428l9-8 6-7-9 9z"/>
<path class="q13" d="M465 420l8-9 6-8-8 10z"/>
<path class="q15" d="M473 411l8-9 6-9-8 10z"/>
<path class="q17" d="M481 402l9-10 6-9-9 10z"/>
<path class="q19" d="M490 392l8-10 6-10-8 11z"/>
<path class="q21" d="M498 382l8-10 6-11-8 11z"/>
<path class="q23" d="M506 372l9-11 6-11-9 11z"/>
<path class="q25" d="M515 361l8-10 6-12-8 11z"/>
<path class="q27" d="M523 351l8-11 7-12-9 11z"/>
<path class="q29" d="M531 340l9-10 6-12-8 10z"/>
<path class="q31" d="M540 330l8-10 6-13-8 11z"/>
<path class="q32" d="M548 320l8-10 7-12-9 9z"/>
<path class="q34" d="M556 310l9-9 6-13-8 10z"/>
<path class="q36" d="M565 301l8-9 6-12-8 8z"/>
<path class="q37" d="M573 292l9-8 6-12-9 8z"/>
<path class="q39" d="M582 284l8-7 6-12-8 7z"/>
<path class="q40" d="M590 277l8-6 6-11-8 5z"/>
<path class="q41" d="M598 271l9-4 6-11-9 4z"/>
<path class="q42" d="M607 267l8-3 6-11-8 3z"/>
<path class="q43" d="M615 264l8-2 9 0 8 2 8 3 6-6-8-5-8-2-9-1-8 0z"/>
<path class="q42" d="M648 267l9 5 6-5-9-6z"/>
<path class="q41" d="M657 272l8 6 6-3-8-8z"/>
<path class="q40" d="M665 278l8 8 6-2-8-9z"/>
<path class="q39" d="M673 286l9 9 6-1-9-10z"/>
<path class="q38" d="M682 295l8 10 6 0-8-11z"/>
<path class="q36" d="M690 305l8 11 7 1-9-12z"/>
<path class="q35" d="M698 316l9 12 6 2-8-13z"/>
<path class="q33" d="M707 328l8 13 6 2-8-13z"/>
<path class="q32" d="M241 253l9 12 6 2-8-13z"/>
<path class="q30" d="M250 265l8 12 6 3-8-13z"/>
<path class="q28" d="M258 277l9 13 6 3-9-13z"/>
<path class="q26" d="M267 290l8 13 6 4-8-14z"/>
<path class="q25" d="M275 303l8 13 6 4-8-13z"/>
<path class="q23" d="M283 316l9 13 6 5-9-14z"/>
<path class="q21" d="M292 329l8 13 6 5-8-13z"/>
<path class="q19" d="M300 342l8 13 6 5-8-13z"/>
<path class="q17" d="M308 355l9 13 6 5-9-13z"/>
<path class="q15" d="M317 368l8 12 6 6-8-13z"/>
<path class="q14" d="M325 380l8 11 6 6-8-11z"/>
<path class="q12" d="M333 391l9 11 6 6-9-11z"/>
<path class="q11" d="M342 402l8 11 6 5-8-10z"/>
<path class="q9" d="M350 413l8 9 6 5-8-9z"/>
<path class="q8" d="M358 422l9 8 6 5-9-8z"/>
<path class="q7" d="M367 430l8 7 8 5 7 4-9-5-8-6z"/>
<path class="q6" d="M383 442l9 4 8 3 8 1 9-1 6 0-8 2-9 0-8-2-8-3z"/>
<path class="q7" d="M417 449l8-2 6-1-8 3z"/>
<path class="q8" d="M425 447l9-3 6-3-9 5z"/>
<path class="q9" d="M434 444l8-5 6-4-8 6z"/>
<path class="q10" d="M442 439l8-6 6-5-8 7z"/>
<path class="q11" d="M450 433l9-7 6-6-9 8z"/>
<path class="q13" d="M459 426l8-8 6-7-8 9z"/>
<path class="q14" d="M467 418l8-8 6-8-8 9z"/>
<path class="q16" d="M475 410l9-9 6-9-9 10z"/>
<path class="q18" d="M484 401l8-10 6-9-8 10z"/>
<path class="q20" d="M492 391l8-10 6-9-8 10z"/>
<path class="q22" d="M500 381l9-9 6-11-9 11z"/>
<path class="q23" d="M509 372l8-10 6-11-8 10z"/>
<path class="q25" d="M517 362l8-10 6-12-8 11z"/>
<path class="q27" d="M525 352l9-10 6-12-9 10z"/>
<path class="q29" d="M534 342l8-10 6-12-8 10z"/>
<path class="q31" d="M542 332l8-9 6-13-8 10z"/>
<path class="q33" d="M550 323l9-9 6-13-9 9z"/>
<path class="q34" d="M559 314l8-9 6-13-8 9z"/>
<path class="q36" d="M567 305l8-8 7-13-9 8z"/>
<path class="q37" d="M575 297l9-7 6-13-8 7z"/>
<path class="q39" d="M584 290l8-6 6-13-8 6z"/>
<path class="q40" d="M592 284l9-5 6-12-9 4z"/>
<path class="q41" d="M601 279l8-4 8-2 6-11-8 2-8 3z"/>
<path class="q42" d="M617 273l9-1 8 0 8 2 9 4 6-6-9-5-8-3-8-2-9 0z"/>
<path class="q41" d="M651 278l8 5 6-5-8-6z"/>
<path class="q40" d="M659 283l8 7 6-4-8-8z"/>
<path class="q39" d="M667 290l9 8 6-3-9-9z"/>
<path class="q38" d="M676 298l8 9 6-2-8-10z"/>
<path class="q37" d="M684 307l8 10 6-1-8-11z"/>
<path class="q35" d="M692 317l9 11 6 0-9-12z"/>
<path class="q34" d="M701 328l8 12 6 1-8-13z"/>
<path class="q33" d="M235 253l9 11 6 1-9-12z"/>
<path class="q31" d="M244 264l8 12 6 1-8-12z"/>
<path class="q29" d="M252 276l8 12 7 2-9-13z"/>
<path class="q27" d="M260 288l9 12 6 3-8-13z"/>
<path class="q26" d="M269 300l8 12 6 4-8-13z"/>
<path class="q24" d="M277 312l8 13 7 4-9-13z"/>
<path class="q22" d="M285 325l9 12 6 5-8-13z"/>
<path class="q20" d="M294 337l8 13 6 5-8-13z"/>
<path class="q18" d="M302 350l9 12 6 6-9-13z"/>
<path class="q17" d="M311 362l8 12 6 6-8-12z"/>
<path class="q15" d="M319 374l8 11 6 6-8-11z"/>
<path class="q14" d="M327 385l9 11 6 6-9-11z"/>
<path class="q12" d="M336 396l8 11 6 6-8-11z"/>
<path class="q11" d="M344 407l8 9 6 6-8-9z"/>
<path class="q10" d="M352 416l9 8 6 6-9-8z"/>
<path class="q9" d="M361 424l8 8 6 5-8-7z"/>
<path class="q8" d="M369 432l8 6 6 4-8-5z"/>
<path class="q7" d="M377 438l9 5 8 3 8 2 9 0 8-1 6 0-8 2-9 1-8-1-8-3-9-4z"/>
<path class="q8" d="M419 447l8-2 7-1-9 3z"/>
<path class="q9" d="M427 445l9-4 6-2-8 5z"/>
<path class="q10" d="M436 441l8-5 6-3-8 6z"/>
<path class="q11" d="M444 436l8-6 7-4-9 7z"/>
<path class="q12" d="M452 430l9-6 6-6-8 8z"/>
<path class="q14" d="M461 424l8-8 6-6-8 8z"/>
<path class="q15" d="M469 416l9-8 6-7-9 9z"/>
<path class="q17" d="M478 408l8-9 6-8-8 10z"/>
<path class="q19" d="M486 399l8-9 6-9-8 10z"/>
<path class="q21" d="M494 390l9-9 6-9-9 9z"/>
<path class="q22" d="M503 381l8-9 6-10-8 10z"/>
<path class="q24" d="M511 372l8-9 6-11-8 10z"/>
<path class="q26" d="M519 363l9-10 6-11-9 10z"/>
<path class="q28" d="M528 353l8-9 6-12-8 10z"/>
<path class="q30" d="M536 344l8-9 6-12-8 9z"/>
<path class="q31" d="M544 335l9-9 6-12-9 9z"/>
<path class="q33" d="M553 326l8-8 6-13-8 9z"/>
<path class="q34" d="M561 318l8-8 6-13-8 8z"/>
<path class="q36" d="M569 310l9-7 6-13-9 7z"/>
<path class="q37" d="M578 303l8-7 6-12-8 6z"/>
<path class="q38" d="M586 296l8-5 7-12-9 5z"/>
<path class="q39" d="M594 291l9-4 6-12-8 4z"/>
<path class="q40" d="M603 287l8-3 6-11-8 2z"/>
<path class="q41" d="M611 284l8-2 9 0 8 1 9 3 8 4 6-7-8-5-9-4-8-2-8 0-9 1z"/>
<path class="q40" d="M653 290l8 5 6-5-8-7z"/>
<path class="q39" d="M661 295l9 7 6-4-9-8z"/>
<path class="q38" d="M670 302l8 8 6-3-8-9z"/>
<path class="q37" d="M678 310l8 9 6-2-8-10z"/>
<path class="q36" d="M686 319l9 10 6-1-9-11z"/>
<path class="q34" d="M695 329l8 11 6 0-8-12z"/>
<path class="q33" d="M229 254l9 10 6 0-9-11z"/>
<path class="q32" d="M238 264l8 11 6 1-8-12z"/>
<path class="q30" d="M246 275l8 11 6 2-8-12z"/>
<path class="q28" d="M254 286l9 12 6 2-9-12z"/>
<path class="q27" d="M263 298l8 12 6 2-8-12z"/>
<path class="q25" d="M271 310l8 12 6 3-8-13z"/>
<path class="q23" d="M279 322l9 11 6 4-9-12z"/>
<path class="q22" d="M288 333l8 12 6 5-8-13z"/>
<path class="q20" d="M296 345l8 12 7 5-9-12z"/>
<path class="q18" d="M304 357l9 12 6 5-8-12z"/>
<path class="q17" d="M313 369l8 11 6 5-8-11z"/>
<path class="q15" d="M321 380l8 10 7 6-9-11z"/>
<path class="q14" d="M329 390l9 10 6 7-8-11z"/>
<path class="q12" d="M338 400l8 10 6 6-8-9z"/>
<path class="q11" d="M346 410l9 8 6 6-9-8z"/>
<path class="q10" d="M355 418l8 8 6 6-8-8z"/>
<path class="q9" d="M363 426l8 7 9 5 6 5-9-5-8-6z"/>
<path class="q8" d="M380 438l8 4 8 3 9 1 8 0 6 1-8 1-9 0-8-2-8-3z"/>
<path class="q9" d="M413 446l8-1 9-3 6-1-9 4-8 2z"/>
<path class="q10" d="M430 442l8-4 6-2-8 5z"/>
<path class="q11" d="M438 438l8-4 6-4-8 6z"/>
<path class="q12" d="M446 434l9-6 6-4-9 6z"/>
<path class="q14" d="M455 428l8-6 6-6-8 8z"/>
<path class="q15" d="M463 422l8-8 7-6-9 8z"/>
<path class="q16" d="M471 414l9-7 6-8-8 9z"/>
<path class="q18" d="M480 407l8-9 6-8-8 9z"/>
<path class="q20" d="M488 398l8-8 7-9-9 9z"/>
<path class="q21" d="M496 390l9-9 6-9-8 9z"/>
<path class="q23" d="M505 381l8-8 6-10-8 9z"/>
<path class="q25" d="M513 373l9-9 6-11-9 10z"/>
<path class="q26" d="M522 364l8-9 6-11-8 9z"/>
<path class="q28" d="M530 355l8-9 6-11-8 9z"/>
<path class="q30" d="M538 346l9-8 6-12-9 9z"/>
<path class="q31" d="M547 338l8-8 6-12-8 8z"/>
<path class="q33" d="M555 330l8-8 6-12-8 8z"/>
<path class="q34" d="M563 322l9-7 6-12-9 7z"/>
<path class="q36" d="M572 315l8-6 6-13-8 7z"/>
<path class="q37" d="M580 309l8-5 6-13-8 5z"/>
<path class="q38" d="M588 304l9-5 6-12-9 4z"/>
<path class="q39" d="M597 299l8-3 8-2 6-12-8 2-8 3z"/>
<path class="q40" d="M613 294l9-1 8 0 8 2 9 3 6-8-8-4-9-3-8-1-9 0z"/>
<path class="q39" d="M647 298l8 4 8 6 7-6-9-7-8-5z"/>
<path class="q38" d="M663 308l9 7 6-5-8-8z"/>
<path class="q37" d="M672 315l8 8 6-4-8-9z"/>
<path class="q36" d="M680 323l9 8 6-2-9-10z"/>
<path class="q34" d="M689 331l8 10 6-1-8-11z"/>
<path class="q33" d="M223 257l9 9 6-2-9-10z"/>
<path class="q32" d="M232 266l8 10 6-1-8-11z"/>
<path class="q31" d="M240 276l8 10 6 0-8-11z"/>
<path class="q29" d="M248 286l9 11 6 1-9-12z"/>
<path class="q27" d="M257 297l8 11 6 2-8-12z"/>
<path class="q26" d="M265 308l8 11 6 3-8-12z"/>
<path class="q24" d="M273 319l9 11 6 3-9-11z"/>
<path class="q23" d="M282 330l8 11 6 4-8-12z"/>
<path class="q21" d="M290 341l8 12 6 4-8-12z"/>
<path class="q20" d="M298 353l9 11 6 5-9-12z"/>
<path class="q18" d="M307 364l8 10 6 6-8-11z"/>
<path class="q16" d="M315 374l8 11 6 5-8-10z"/>
<path class="q15" d="M323 385l9 10 6 5-9-10z"/>
<path class="q14" d="M332 395l8 9 6 6-8-10z"/>
<path class="q13" d="M340 404l8 8 7 6-9-8z"/>
<path class="q12" d="M348 412l9 8 6 6-8-8z"/>
<path class="q11" d="M357 420l8 7 6 6-8-7z"/>
<path class="q10" d="M365 427l8 6 7 5-9-5z"/>
<path class="q9" d="M373 433l9 4 8 4 9 2 8 1 8-1 6 2-8 1-8 0-9-1-8-3-8-4z"/>
<path class="q10" d="M415 443l9-1 8-3 6-1-8 4-9 3z"/>
<path class="q11" d="M432 439l8-3 6-2-8 4z"/>
<path class="q12" d="M440 436l9-5 6-3-9 6z"/>
<path class="q13" d="M449 431l8-5 6-4-8 6z"/>
<path class="q15" d="M457 426l8-7 6-5-8 8z"/>
<path class="q16" d="M465 419l9-6 6-6-9 7z"/>
<path class="q17" d="M474 413l8-8 6-7-8 9z"/>
<path class="q19" d="M482 405l8-7 6-8-8 8z"/>
<path class="q21" d="M490 398l9-8 6-9-9 9z"/>
<path class="q22" d="M499 390l8-8 6-9-8 8z"/>
<path class="q24" d="M507 382l8-8 7-10-9 9z"/>
<path class="q25" d="M515 374l9-8 6-11-8 9z"/>
<path class="q27" d="M524 366l8-8 6-12-8 9z"/>
<path class="q28" d="M532 358l8-8 7-12-9 8z"/>
<path class="q30" d="M540 350l9-8 6-12-8 8z"/>
<path class="q32" d="M549 342l8-7 6-13-8 8z"/>
<path class="q33" d="M557 335l9-7 6-13-9 7z"/>
<path class="q34" d="M566 328l8-6 6-13-8 6z"/>
<path class="q35" d="M574 322l8-5 6-13-8 5z"/>
<path class="q36" d="M582 317l9-5 6-13-9 5z"/>
<path class="q37" d="M591 312l8-4 6-12-8 3z"/>
<path class="q38" d="M599 308l8-2 6-12-8 2z"/>
<path class="q39" d="M607 306l9-2 8 0 8 1 9 2 8 3 6-8-8-4-9-3-8-2-8 0-9 1z"/>
<path class="q38" d="M649 310l8 5 9 6 6-6-9-7-8-6z"/>
<path class="q37" d="M666 321l8 6 6-4-8-8z"/>
<path class="q36" d="M674 327l8 8 7-4-9-8z"/>
<path class="q35" d="M682 335l9 9 6-3-8-10z"/>
<path class="q33" d="M217 261l8 8 7-3-9-9z"/>
<path class="q32" d="M225 269l9 9 6-2-8-10z"/>
<path class="q31" d="M234 278l8 9 6-1-8-10z"/>
<path class="q30" d="M242 287l9 10 6 0-9-11z"/>
<path class="q28" d="M251 297l8 10 6 1-8-11z"/>
<path class="q27" d="M259 307l8 10 6 2-8-11z"/>
<path class="q25" d="M267 317l9 11 6 2-9-11z"/>
<path class="q24" d="M276 328l8 10 6 3-8-11z"/>
<path class="q22" d="M284 338l8 11 6 4-8-12z"/>
<path class="q21" d="M292 349l9 10 6 5-9-11z"/>
<path class="q19" d="M301 359l8 10 6 5-8-10z"/>
<path class="q18" d="M309 369l8 10 6 6-8-11z"/>
<path class="q17" d="M317 379l9 10 6 6-9-10z"/>
<path class="q15" d="M326 389l8 9 6 6-8-9z"/>
<path class="q14" d="M334 398l8 8 6 6-8-8z"/>
<path class="q13" d="M342 406l9 8 6 6-9-8z"/>
<path class="q12" d="M351 414l8 7 6 6-8-7z"/>
<path class="q11" d="M359 421l8 6 9 5 6 5-9-4-8-6z"/>
<path class="q10" d="M376 432l8 4 8 3 9 1 8 1 8-1 7 2-9 1-8 1-8-1-9-2-8-4z"/>
<path class="q11" d="M417 440l9-1 6 0-8 3z"/>
<path class="q12" d="M426 439l8-3 9-3 6-2-9 5-8 3z"/>
<path class="q13" d="M443 433l8-5 6-2-8 5z"/>
<path class="q15" d="M451 428l8-5 6-4-8 7z"/>
<path class="q16" d="M459 423l9-6 6-4-9 6z"/>
<path class="q17" d="M468 417l8-6 6-6-8 8z"/>
<path class="q18" d="M476 411l8-7 6-6-8 7z"/>
<path class="q20" d="M484 404l9-7 6-7-9 8z"/>
<path class="q21" d="M493 397l8-7 6-8-8 8z"/>
<path class="q23" d="M501 390l8-7 6-9-8 8z"/>
<path class="q24" d="M509 383l9-8 6-9-9 8z"/>
<path class="q26" d="M518 375l8-7 6-10-8 8z"/>
<path class="q27" d="M526 368l8-7 6-11-8 8z"/>
<path class="q29" d="M534 361l9-7 6-12-9 8z"/>
<path class="q30" d="M543 354l8-7 6-12-8 7z"/>
<path class="q31" d="M551 347l8-7 7-12-9 7z"/>
<path class="q33" d="M559 340l9-5 6-13-8 6z"/>
<path class="q34" d="M568 335l8-6 6-12-8 5z"/>
<path class="q35" d="M576 329l8-4 7-13-9 5z"/>
<path class="q36" d="M584 325l9-4 6-13-8 4z"/>
<path class="q37" d="M593 321l8-3 9-2 6-12-9 2-8 2z"/>
<path class="q38" d="M610 316l8-1 8 1 9 1 8 3 8 3 6-8-8-5-8-3-9-2-8-1-8 0z"/>
<path class="q37" d="M651 323l9 5 6-7-9-6z"/>
<path class="q36" d="M660 328l8 6 8 6 6-5-8-8-8-6z"/>
<path class="q35" d="M676 340l9 8 6-4-9-9z"/>
<path class="q33" d="M211 266l8 7 6-4-8-8z"/>
<path class="q32" d="M219 273l9 8 6-3-9-9z"/>
<path class="q31" d="M228 281l8 8 6-2-8-9z"/>
<path class="q30" d="M236 289l8 9 7-1-9-10z"/>
<path class="q29" d="M244 298l9 9 6 0-8-10z"/>
<path class="q27" d="M253 307l8 10 6 0-8-10z"/>
<path class="q26" d="M261 317l8 10 7 1-9-11z"/>
<path class="q25" d="M269 327l9 9 6 2-8-10z"/>
<path class="q23" d="M278 336l8 10 6 3-8-11z"/>
<path class="q22" d="M286 346l9 10 6 3-9-10z"/>
<path class="q21" d="M295 356l8 9 6 4-8-10z"/>
<path class="q19" d="M303 365l8 10 6 4-8-10z"/>
<path class="q18" d="M311 375l9 9 6 5-9-10z"/>
<path class="q17" d="M320 384l8 8 6 6-8-9z"/>
<path class="q16" d="M328 392l8 8 6 6-8-8z"/>
<path class="q15" d="M336 400l9 8 6 6-9-8z"/>
<path class="q14" d="M345 408l8 7 6 6-8-7z"/>
<path class="q13" d="M353 415l8 6 6 6-8-6z"/>
<path class="q12" d="M361 421l9 5 8 4 6 6-8-4-9-5z"/>
<path class="q11" d="M378 430l8 4 9 2 8 1 8 1 6 2-8 1-8-1-9-1-8-3z"/>
<path class="q12" d="M411 438l9-1 8-2 6 1-8 3-9 1z"/>
<path class="q13" d="M428 435l8-2 7 0-9 3z"/>
<path class="q14" d="M436 433l9-3 6-2-8 5z"/>
<path class="q15" d="M445 430l8-4 6-3-8 5z"/>
<path class="q16" d="M453 426l8-5 7-4-9 6z"/>
<path class="q17" d="M461 421l9-5 6-5-8 6z"/>
<path class="q18" d="M470 416l8-6 6-6-8 7z"/>
<path class="q19" d="M478 410l9-6 6-7-9 7z"/>
<path class="q21" d="M487 404l8-7 6-7-8 7z"/>
<path class="q22" d="M495 397l8-6 6-8-8 7z"/>
<path class="q23" d="M503 391l9-7 6-9-9 8z"/>
<path class="q25" d="M512 384l8-6 6-10-8 7z"/>
<path class="q26" d="M520 378l8-7 6-10-8 7z"/>
<path class="q27" d="M528 371l9-6 6-11-9 7z"/>
<path class="q29" d="M537 365l8-7 6-11-8 7z"/>
<path class="q30" d="M545 358l8-6 6-12-8 7z"/>
<path class="q31" d="M553 352l9-5 6-12-9 5z"/>
<path class="q32" d="M562 347l8-5 6-13-8 6z"/>
<path class="q33" d="M570 342l8-5 6-12-8 4z"/>
<path class="q34" d="M578 337l9-3 6-13-9 4z"/>
<path class="q35" d="M587 334l8-3 6-13-8 3z"/>
<path class="q36" d="M595 331l8-2 9-2 6-12-8 1-9 2z"/>
<path class="q37" d="M612 327l8 0 8 1 9 2 8 3 6-10-8-3-8-3-9-1-8-1z"/>
<path class="q36" d="M645 333l9 3 8 5 6-7-8-6-9-5z"/>
<path class="q35" d="M662 341l8 6 6-7-8-6z"/>
<path class="q34" d="M670 347l9 6 6-5-9-8z"/>
<path class="q33" d="M205 273l8 6 6-6-8-7z"/>
<path class="q32" d="M213 279l9 7 6-5-9-8z"/>
<path class="q31" d="M222 286l8 7 6-4-8-8z"/>
<path class="q30" d="M230 293l8 8 6-3-8-9z"/>
<path class="q29" d="M238 301l9 8 6-2-9-9z"/>
<path class="q28" d="M247 309l8 8 6 0-8-10z"/>
<path class="q27" d="M255 317l8 9 6 1-8-10z"/>
<path class="q25" d="M263 326l9 9 6 1-9-9z"/>
<path class="q24" d="M272 335l8 9 6 2-8-10z"/>
<path class="q23" d="M280 344l8 9 7 3-9-10z"/>
<path class="q22" d="M288 353l9 9 6 3-8-9z"/>
<path class="q20" d="M297 362l8 9 6 4-8-10z"/>
<path class="q19" d="M305 371l8 8 7 5-9-9z"/>
<path class="q18" d="M313 379l9 8 6 5-8-8z"/>
<path class="q17" d="M322 387l8 8 6 5-8-8z"/>
<path class="q16" d="M330 395l9 7 6 6-9-8z"/>
<path class="q15" d="M339 402l8 7 6 6-8-7z"/>
<path class="q14" d="M347 409l8 6 9 5 6 6-9-5-8-6z"/>
<path class="q13" d="M364 420l8 5 8 3 9 3 6 5-9-2-8-4-8-4z"/>
<path class="q12" d="M389 431l8 2 6 4-8-1z"/>
<path class="q13" d="M397 433l8 1 9 0 8 0 6 1-8 2-9 1-8-1z"/>
<path class="q14" d="M422 434l8-2 9-2 6 0-9 3-8 2z"/>
<path class="q15" d="M439 430l8-3 6-1-8 4z"/>
<path class="q16" d="M447 427l8-4 6-2-8 5z"/>
<path class="q17" d="M455 423l9-4 6-3-9 5z"/>
<path class="q18" d="M464 419l8-5 6-4-8 6z"/>
<path class="q19" d="M472 414l8-5 7-5-9 6z"/>
<path class="q20" d="M480 409l9-5 6-7-8 7z"/>
<path class="q21" d="M489 404l8-6 6-7-8 6z"/>
<path class="q23" d="M497 398l9-6 6-8-9 7z"/>
<path class="q24" d="M506 392l8-6 6-8-8 6z"/>
<path class="q25" d="M514 386l8-6 6-9-8 7z"/>
<path class="q26" d="M522 380l9-5 6-10-9 6z"/>
<path class="q28" d="M531 375l8-6 6-11-8 7z"/>
<path class="q29" d="M539 369l8-5 6-12-8 6z"/>
<path class="q30" d="M547 364l9-5 6-12-9 5z"/>
<path class="q31" d="M556 359l8-5 6-12-8 5z"/>
<path class="q32" d="M564 354l8-4 6-13-8 5z"/>
<path class="q33" d="M572 350l9-4 6-12-9 3z"/>
<path class="q34" d="M581 346l8-3 8-2 6-12-8 2-8 3z"/>
<path class="q35" d="M597 341l9-1 8-1 8 0 6-11-8-1-8 0-9 2z"/>
<path class="q36" d="M622 339l9 2 6-11-9-2z"/>
<path class="q35" d="M631 341l8 2 8 3 9 4 6-9-8-5-9-3-8-3z"/>
<path class="q34" d="M656 350l8 4 8 6 7-7-9-6-8-6z"/>
<path class="q32" d="M199 280l8 6 9 5 6-5-9-7-8-6z"/>
<path class="q31" d="M216 291l8 7 6-5-8-7z"/>
<path class="q30" d="M224 298l8 7 6-4-8-8z"/>
<path class="q29" d="M232 305l9 7 6-3-9-8z"/>
<path class="q28" d="M241 312l8 7 6-2-8-8z"/>
<path class="q27" d="M249 319l8 8 6-1-8-9z"/>
<path class="q26" d="M257 327l9 8 6 0-9-9z"/>
<path class="q25" d="M266 335l8 8 6 1-8-9z"/>
<path class="q24" d="M274 343l8 8 6 2-8-9z"/>
<path class="q23" d="M282 351l9 8 6 3-9-9z"/>
<path class="q21" d="M291 359l8 8 6 4-8-9z"/>
<path class="q20" d="M299 367l8 8 6 4-8-8z"/>
<path class="q19" d="M307 375l9 8 6 4-9-8z"/>
<path class="q18" d="M316 383l8 7 6 5-8-8z"/>
<path class="q17" d="M324 390l8 7 9 6 6 6-8-7-9-7z"/>
<path class="q16" d="M341 403l8 6 6 6-8-6z"/>
<path class="q15" d="M349 409l8 5 9 5 6 6-8-5-9-5z"/>
<path class="q14" d="M366 419l8 4 9 3 8 2 8 2 9 1 8 0 8-1 6 2-8 2-8 0-9 0-8-1-8-2-9-3-8-3z"/>
<path class="q15" d="M424 430l9-1 6 1-9 2z"/>
<path class="q16" d="M433 429l8-2 8-3 6-1-8 4-8 3z"/>
<path class="q17" d="M449 424l9-3 6-2-9 4z"/>
<path class="q18" d="M458 421l8-4 6-3-8 5z"/>
<path class="q19" d="M466 417l8-4 6-4-8 5z"/>
<path class="q20" d="M474 413l9-5 6-4-9 5z"/>
<path class="q21" d="M483 408l8-4 6-6-8 6z"/>
<path class="q22" d="M491 404l8-5 7-7-9 6z"/>
<path class="q23" d="M499 399l9-5 6-8-8 6z"/>
<path class="q24" d="M508 394l8-5 6-9-8 6z"/>
<path class="q25" d="M516 389l8-5 7-9-9 5z"/>
<path class="q27" d="M524 384l9-5 6-10-8 6z"/>
<path class="q28" d="M533 379l8-5 6-10-8 5z"/>
<path class="q29" d="M541 374l9-4 6-11-9 5z"/>
<path class="q30" d="M550 370l8-4 6-12-8 5z"/>
<path class="q31" d="M558 366l8-4 9-3 6-13-9 4-8 4z"/>
<path class="q32" d="M575 359l8-3 6-13-8 3z"/>
<path class="q33" d="M583 356l8-2 9-2 6-12-9 1-8 2z"/>
<path class="q34" d="M600 352l8 0 8-1 9 1 8 2 8 2 9 3 8 4 6-9-8-4-9-4-8-3-8-2-9-2-8 0-8 1z"/>
<path class="q33" d="M658 363l8 4 6-7-8-6z"/>
<path class="q32" d="M193 289l8 5 6-8-8-6z"/>
<path class="q31" d="M201 294l8 4 7-7-9-5z"/>
<path class="q30" d="M209 298l9 6 8 6 6-5-8-7-8-7z"/>
<path class="q29" d="M226 310l8 6 7-4-9-7z"/>
<path class="q28" d="M234 316l9 6 6-3-8-7z"/>
<path class="q27" d="M243 322l8 7 6-2-8-8z"/>
<path class="q26" d="M251 329l9 7 6-1-9-8z"/>
<path class="q25" d="M260 336l8 7 6 0-8-8z"/>
<path class="q24" d="M268 343l8 8 6 0-8-8z"/>
<path class="q23" d="M276 351l9 7 6 1-9-8z"/>
<path class="q22" d="M285 358l8 7 6 2-8-8z"/>
<path class="q21" d="M293 365l8 7 6 3-8-8z"/>
<path class="q20" d="M301 372l9 7 8 7 6 4-8-7-9-8z"/>
<path class="q19" d="M318 386l8 6 6 5-8-7z"/>
<path class="q18" d="M326 392l9 6 6 5-9-6z"/>
<path class="q17" d="M335 398l8 6 8 5 6 5-8-5-8-6z"/>
<path class="q16" d="M351 409l9 4 8 4 6 6-8-4-9-5z"/>
<path class="q15" d="M368 417l8 3 9 3 8 2 8 1 9 1 8 0 6 3-8 1-8 0-9-1-8-2-8-2-9-3z"/>
<path class="q16" d="M418 427l9-1 8-1 6 2-8 2-9 1z"/>
<path class="q17" d="M435 425l8-1 6 0-8 3z"/>
<path class="q18" d="M443 424l9-3 8-2 6-2-8 4-9 3z"/>
<path class="q19" d="M460 419l8-4 6-2-8 4z"/>
<path class="q20" d="M468 415l9-3 6-4-9 5z"/>
<path class="q21" d="M477 412l8-4 6-4-8 4z"/>
<path class="q22" d="M485 408l8-4 6-5-8 5z"/>
<path class="q23" d="M493 404l9-4 6-6-9 5z"/>
<path class="q24" d="M502 400l8-4 6-7-8 5z"/>
<path class="q25" d="M510 396l8-4 6-8-8 5z"/>
<path class="q26" d="M518 392l9-4 6-9-9 5z"/>
<path class="q27" d="M527 388l8-4 6-10-8 5z"/>
<path class="q28" d="M535 384l8-4 9-3 6-11-8 4-9 4z"/>
<path class="q29" d="M552 377l8-4 6-11-8 4z"/>
<path class="q30" d="M560 373l8-2 7-12-9 3z"/>
<path class="q31" d="M568 371l9-3 8-2 6-12-8 2-8 3z"/>
<path class="q32" d="M585 366l9-1 8-1 6-12-8 0-9 2z"/>
<path class="q33" d="M602 364l8 0 9 0 8 1 8 2 9 3 8 3 6-10-8-4-9-3-8-2-8-2-9-1-8 1z"/>
<path class="q32" d="M652 373l8 3 6-9-8-4z"/>
<path class="q31" d="M187 299l8 4 6-9-8-5z"/>
<path class="q30" d="M195 303l8 4 9 4 6-7-9-6-8-4z"/>
<path class="q29" d="M212 311l8 5 8 5 6-5-8-6-8-6z"/>
<path class="q28" d="M228 321l9 6 6-5-9-6z"/>
<path class="q27" d="M237 327l8 6 6-4-8-7z"/>
<path class="q26" d="M245 333l8 6 9 6 6-2-8-7-9-7z"/>
<path class="q25" d="M262 345l8 6 6 0-8-8z"/>
<path class="q24" d="M270 351l8 6 7 1-9-7z"/>
<path class="q23" d="M278 357l9 7 6 1-8-7z"/>
<path class="q22" d="M287 364l8 6 6 2-8-7z"/>
<path class="q21" d="M295 370l9 6 8 6 6 4-8-7-9-7z"/>
<path class="q20" d="M312 382l8 6 6 4-8-6z"/>
<path class="q19" d="M320 388l9 5 8 5 6 6-8-6-9-6z"/>
<path class="q18" d="M337 398l8 5 9 5 6 5-9-4-8-5z"/>
<path class="q17" d="M354 408l8 3 8 4 9 3 6 5-9-3-8-3-8-4z"/>
<path class="q16" d="M379 418l8 2 8 2 9 1 6 4-9-1-8-1-8-2z"/>
<path class="q17" d="M404 423l8 0 8 0 9 0 6 2-8 1-9 1-8 0z"/>
<path class="q18" d="M429 423l8-1 8-1 7 0-9 3-8 1z"/>
<path class="q19" d="M445 421l9-2 8-2 6-2-8 4-8 2z"/>
<path class="q20" d="M462 417l9-3 6-2-9 3z"/>
<path class="q21" d="M471 414l8-2 6-4-8 4z"/>
<path class="q22" d="M479 412l8-3 9-3 6-6-9 4-8 4z"/>
<path class="q23" d="M496 406l8-4 6-6-8 4z"/>
<path class="q24" d="M504 402l8-3 6-7-8 4z"/>
<path class="q25" d="M512 399l9-3 6-8-9 4z"/>
<path class="q26" d="M521 396l8-3 6-9-8 4z"/>
<path class="q27" d="M529 393l8-3 9-3 6-10-9 3-8 4z"/>
<path class="q28" d="M546 387l8-3 6-11-8 4z"/>
<path class="q29" d="M554 384l8-2 9-2 6-12-9 3-8 2z"/>
<path class="q30" d="M571 380l8-2 8-1 7-12-9 1-8 2z"/>
<path class="q31" d="M587 377l9-1 8 0 8 0 7-12-9 0-8 0-8 1z"/>
<path class="q32" d="M612 376l9 1 8 2 9 2 6-11-9-3-8-2-8-1z"/>
<path class="q31" d="M638 381l8 2 8 3 6-10-8-3-8-3z"/>
<path class="q30" d="M181 310l8 2 6-9-8-4z"/>
<path class="q29" d="M189 312l8 4 9 3 8 4 6-7-8-5-9-4-8-4z"/>
<path class="q28" d="M214 323l8 5 9 4 6-5-9-6-8-5z"/>
<path class="q27" d="M231 332l8 5 6-4-8-6z"/>
<path class="q26" d="M239 337l8 5 9 5 6-2-9-6-8-6z"/>
<path class="q25" d="M256 347l8 6 6-2-8-6z"/>
<path class="q24" d="M264 353l8 5 9 6 6 0-9-7-8-6z"/>
<path class="q23" d="M281 364l8 5 6 1-8-6z"/>
<path class="q22" d="M289 369l8 5 9 5 6 3-8-6-9-6z"/>
<path class="q21" d="M306 379l8 6 6 3-8-6z"/>
<path class="q20" d="M314 385l8 4 9 5 6 4-8-5-9-5z"/>
<path class="q19" d="M331 394l8 4 9 4 8 4 6 5-8-3-9-5-8-5z"/>
<path class="q18" d="M356 406l8 3 9 3 8 2 8 2 9 2 8 1 8 1 9 0 6 3-9 0-8 0-8 0-9-1-8-2-8-2-9-3-8-4z"/>
<path class="q19" d="M423 420l8 0 8-1 9-1 6 1-9 2-8 1-8 1z"/>
<path class="q20" d="M448 418l8-1 8-1 7-2-9 3-8 2z"/>
<path class="q21" d="M464 416l9-2 6-2-8 2z"/>
<path class="q22" d="M473 414l8-2 8-2 7-4-9 3-8 3z"/>
<path class="q23" d="M489 410l9-3 6-5-8 4z"/>
<path class="q24" d="M498 407l8-2 9-2 6-7-9 3-8 3z"/>
<path class="q25" d="M515 403l8-2 6-8-8 3z"/>
<path class="q26" d="M523 401l8-3 9-2 6-9-9 3-8 3z"/>
<path class="q27" d="M540 396l8-2 6-10-8 3z"/>
<path class="q28" d="M548 394l8-1 9-2 6-11-9 2-8 2z"/>
<path class="q29" d="M565 391l8-1 8-1 9 0 6-13-9 1-8 1-8 2z"/>
<path class="q30" d="M590 389l8-1 8 1 9 0 8 2 8 1 9 2 8 3 6-11-8-3-8-2-9-2-8-2-9-1-8 0-8 0z"/>
<path class="q29" d="M174 321l9 2 6-11-8-2z"/>
<path class="q28" d="M183 323l8 3 9 3 8 3 8 3 6-7-8-5-8-4-9-3-8-4z"/>
<path class="q27" d="M216 335l9 4 8 4 6-6-8-5-9-4z"/>
<path class="q26" d="M233 343l8 4 9 4 6-4-9-5-8-5z"/>
<path class="q25" d="M250 351l8 5 8 4 6-2-8-5-8-6z"/>
<path class="q24" d="M266 360l9 5 8 4 6 0-8-5-9-6z"/>
<path class="q23" d="M283 369l8 4 9 5 6 1-9-5-8-5z"/>
<path class="q22" d="M300 378l8 4 8 4 6 3-8-4-8-6z"/>
<path class="q21" d="M316 386l9 4 8 4 6 4-8-4-9-5z"/>
<path class="q20" d="M333 394l8 3 9 4 8 3 6 5-8-3-8-4-9-4z"/>
<path class="q19" d="M358 404l8 2 9 3 8 2 9 2 8 1 8 1 9 1 6 4-9 0-8-1-8-1-9-2-8-2-8-2-9-3z"/>
<path class="q20" d="M417 416l8 0 8 1 9-1 8 0 6 1-8 1-9 1-8 1-8 0z"/>
<path class="q21" d="M450 416l8-1 9 0 6-1-9 2-8 1z"/>
<path class="q22" d="M467 415l8-1 8-1 6-3-8 2-8 2z"/>
<path class="q23" d="M483 413l9-2 8-1 6-5-8 2-9 3z"/>
<path class="q24" d="M500 410l8-1 9-2 6-6-8 2-9 2z"/>
<path class="q25" d="M517 407l8-1 8-1 7-9-9 2-8 3z"/>
<path class="q26" d="M533 405l9-1 8-1 6-10-8 1-8 2z"/>
<path class="q27" d="M550 403l9-1 8-1 6-11-8 1-9 2z"/>
<path class="q28" d="M567 401l8 0 9-1 8 1 6-13-8 1-9 0-8 1z"/>
<path class="q29" d="M592 401l8 0 9 1 8 1 8 1 9 2 8 2 6-11-8-3-9-2-8-1-8-2-9 0-8-1z"/>
<path class="q27" d="M168 332l9 2 8 2 8 3 9 2 8 3 6-9-8-3-8-3-9-3-8-3-9-2z"/>
<path class="q26" d="M210 344l8 3 9 3 8 3 6-6-8-4-8-4-9-4z"/>
<path class="q25" d="M235 353l9 3 8 4 8 3 6-3-8-4-8-5-9-4z"/>
<path class="q24" d="M260 363l9 4 8 3 8 4 6-1-8-4-8-4-9-5z"/>
<path class="q23" d="M285 374l9 3 8 4 6 1-8-4-9-5z"/>
<path class="q22" d="M302 381l8 3 9 3 8 3 6 4-8-4-9-4-8-4z"/>
<path class="q21" d="M327 390l8 3 9 3 8 3 8 2 9 2 8 2 8 2 9 2 8 1 9 1 8 1 8 1 9 1 8 0 6 2-8 0-9 1-8-1-8 0-9-1-8-1-8-1-9-2-8-2-9-3-8-2-8-3-9-4-8-3z"/>
<path class="q22" d="M444 414l8 0 9 0 8 0 6 0-8 1-9 0-8 1z"/>
<path class="q23" d="M469 414l8 0 9 0 8 0 6-4-8 1-9 2-8 1z"/>
<path class="q24" d="M494 414l8-1 9 0 8-1 6-6-8 1-9 2-8 1z"/>
<path class="q25" d="M519 412l8 0 9 0 6-8-9 1-8 1z"/>
<path class="q26" d="M536 412l8-1 8 0 9 0 6-10-8 1-9 1-8 1z"/>
<path class="q27" d="M561 411l8 0 8 1 9 0 8 1 9 1 8 1 8 1 9 2 8 1 6-11-8-2-9-2-8-1-8-1-9-1-8 0-8-1-9 1-8 0z"/>
<path class="q26" d="M162 344l9 2 8 2 8 2 9 2 8 2 8 2 6-9-8-3-8-3-9-2-8-3-8-2-9-2z"/>
<path class="q25" d="M212 356l9 2 8 2 8 3 9 2 8 3 6-5-8-3-8-4-9-3-8-3-9-3z"/>
<path class="q24" d="M254 368l8 2 9 3 8 2 9 3 6-1-9-3-8-4-8-3-9-4z"/>
<path class="q23" d="M288 378l8 2 8 3 9 2 8 3 8 2 6 3-8-3-8-3-9-3-8-3-8-4z"/>
<path class="q22" d="M329 390l9 2 8 2 8 2 9 2 8 2 8 2 9 2 8 1 8 2 9 1 8 1 8 1 9 1 8 1 6 2-8 0-8 0-9-1-8-1-8-1-9-1-8-1-9-2-8-2-8-2-9-2-8-2-8-3-9-3z"/>
<path class="q23" d="M446 412l9 1 8 1 8 0 9 1 8 1 6-2-8 0-9 0-8 0-8 0-9 0z"/>
<path class="q24" d="M488 416l8 0 9 1 8 1 8 0 6-6-8 0-8 1-9 0-8 1z"/>
<path class="q25" d="M521 418l9 1 8 0 8 1 9 1 8 1 6-11-8 0-9 0-8 0-8 1-9 0z"/>
<path class="q26" d="M563 422l8 0 9 1 8 1 8 2 9 1 8 1 8 2 9 1 6-12-8-1-9-2-8-1-8-1-9-1-8-1-9 0-8-1z"/>
<path class="q25" d="M156 356l9 2 8 1 8 2 9 1 8 2 8 2 6-10-8-2-8-2-9-2-8-2-8-2-9-2z"/>
<path class="q24" d="M206 366l9 1 8 2 8 1 9 2 8 1 8 2 9 1 8 2 8 2 9 1 8 2 8 1 9 2 8 1 6 3-8-2-8-3-9-2-8-3-8-2-9-3-8-2-9-3-8-2-8-3-9-2-8-3-8-2-9-2z"/>
<path class="q23" d="M323 387l9 2 8 1 8 2 9 2 8 1 8 2 9 1 8 2 8 1 9 2 8 1 8 2 9 2 8 1 6 3-8-1-9-1-8-1-8-1-9-1-8-2-8-1-9-2-8-2-8-2-9-2-8-2-8-2-9-2z"/>
<path class="q24" d="M440 409l8 2 9 1 8 2 8 1 9 2 8 1 9 2 8 2 8 1 9 2 8 1 8 2 9 1 8 2 6-9-8-1-9-1-8-1-8 0-9-1-8 0-8-1-9-1-8 0-8-1-9-1-8 0-8-1-9-1z"/>
<path class="q25" d="M557 431l8 1 9 2 8 2 8 1 9 2 8 1 8 2 9 1 6-12-9-1-8-2-8-1-9-1-8-2-8-1-9-1-8 0z"/>
</g></g>
<rect x="230.8" y="37.4" width="9.8" height="56" fill="url(#cb)" stroke="#444" stroke-width="0.6"/>
<g stroke="#333" stroke-width="0.5">
<line x1="230.80" y1="44.40" x2="232.60" y2="44.40"/>
<line x1="240.60" y1="44.40" x2="238.80" y2="44.40"/>
<line x1="230.80" y1="51.40" x2="232.60" y2="51.40"/>
<line x1="240.60" y1="51.40" x2="238.80" y2="51.40"/>
<line x1="230.80" y1="58.40" x2="232.60" y2="58.40"/>
<line x1="240.60" y1="58.40" x2="238.80" y2="58.40"/>
<line x1="230.80" y1="65.40" x2="232.60" y2="65.40"/>
<line x1="240.60" y1="65.40" x2="238.80" y2="65.40"/>
<line x1="230.80" y1="72.40" x2="232.60" y2="72.40"/>
<line x1="240.60" y1="72.40" x2="238.80" y2="72.40"/>
<line x1="230.80" y1="79.40" x2="232.60" y2="79.40"/>
<line x1="240.60" y1="79.40" x2="238.80" y2="79.40"/>
<line x1="230.80" y1="86.40" x2="232.60" y2="86.40"/>
<line x1="240.60" y1="86.40" x2="238.80" y2="86.40"/>
</g>
<g class="s">
<text x="203.8" y="14.3" text-anchor="middle">6.0 ps</text>
<text x="35.0" y="43.4">E<tspan dy="2.5" font-size="7.4">3</tspan><tspan dy="-2.5"> [MeV/m]</tspan></text>
<text x="30.3" y="130.00" text-anchor="end">-40</text>
<text x="30.3" y="120.66" text-anchor="end">-30</text>
<text x="30.3" y="111.33" text-anchor="end">-20</text>
<text x="30.3" y="101.99" text-anchor="end">-10</text>
<text x="30.3" y="92.65" text-anchor="end">0</text>
<text x="30.3" y="83.31" text-anchor="end">10</text>
<text x="30.3" y="73.97" text-anchor="end">20</text>
<text x="30.3" y="64.64" text-anchor="end">30</text>
<text x="30.3" y="55.30" text-anchor="end">40</text>
<text x="245.4" y="96.70">-40</text>
<text x="245.4" y="89.70">-30</text>
<text x="245.4" y="82.70">-20</text>
<text x="245.4" y="75.70">-10</text>
<text x="247.7" y="68.70">0</text>
<text x="247.7" y="61.70">10</text>
<text x="247.7" y="54.70">20</text>
<text x="247.7" y="47.70">30</text>
<text x="247.7" y="40.70">40</text>
<text x="43.44" y="135.53" text-anchor="middle">-400</text>
<text x="170.40" y="151.34">-400</text>
<text x="68.47" y="140.19" text-anchor="middle">-200</text>
<text x="184.75" y="143.45">-200</text>
<text x="93.50" y="144.85" text-anchor="middle">0</text>
<text x="199.90" y="135.55">0</text>
<text x="118.53" y="149.51" text-anchor="middle">200</text>
<text x="214.25" y="127.65">200</text>
<text x="143.56" y="154.17" text-anchor="middle">400</text>
<text x="228.60" y="119.76">400</text>
<text x="66.9" y="150.6">x<tspan dy="-3.8" font-size="7">1</tspan><tspan dy="3.8" dx="-0.6"> [<tspan class="mu">μ</tspan>m]</tspan></text>
<text x="210.6" y="138.0">x<tspan dy="-3.8" font-size="7">2</tspan><tspan dy="3.8" dx="-0.3"> [<tspan class="mu">μ</tspan>m]</tspan></text>
</g>
<g class="c">
<text x="96.8" y="200.5" textLength="12.2" lengthAdjust="spacingAndGlyphs">(c)</text>
<text x="113.0" y="200.5" font-style="italic" textLength="5.6" lengthAdjust="spacingAndGlyphs">x</text>
<text class="u" x="119.5" y="196.6">0</text>
<text x="127.8" y="200.5" textLength="6.6" lengthAdjust="spacingAndGlyphs">=</text>
<text x="138.2" y="200.5" textLength="13.2" lengthAdjust="spacingAndGlyphs">6.0</text>
<text x="153.2" y="200.5" textLength="11.8" lengthAdjust="spacingAndGlyphs">ps.</text>
</g>
</g>
<g transform="translate(276.5,217.5)">
<g stroke="#444" stroke-width="0.6" fill="none">
<path d="M35.50 126.70L156.90 149.30L226.50 111.00L105.10 88.40z"/>
<line x1="35.50" y1="126.70" x2="35.50" y2="52.00"/>
<line x1="35.50" y1="126.70" x2="37.70" y2="126.70"/>
<line x1="35.50" y1="117.36" x2="37.70" y2="117.36"/>
<line x1="35.50" y1="108.03" x2="37.70" y2="108.03"/>
<line x1="35.50" y1="98.69" x2="37.70" y2="98.69"/>
<line x1="35.50" y1="89.35" x2="37.70" y2="89.35"/>
<line x1="35.50" y1="80.01" x2="37.70" y2="80.01"/>
<line x1="35.50" y1="70.67" x2="37.70" y2="70.67"/>
<line x1="35.50" y1="61.34" x2="37.70" y2="61.34"/>
<line x1="35.50" y1="52.00" x2="37.70" y2="52.00"/>
<line x1="46.14" y1="128.68" x2="47.89" y2="127.72"/>
<line x1="115.74" y1="90.38" x2="113.99" y2="91.34"/>
<line x1="163.00" y1="145.94" x2="161.03" y2="145.58"/>
<line x1="41.60" y1="123.34" x2="43.57" y2="123.71"/>
<line x1="71.17" y1="133.34" x2="72.92" y2="132.38"/>
<line x1="140.77" y1="95.04" x2="139.02" y2="96.00"/>
<line x1="177.35" y1="138.05" x2="175.38" y2="137.68"/>
<line x1="55.95" y1="115.45" x2="57.92" y2="115.81"/>
<line x1="96.20" y1="138.00" x2="97.95" y2="137.04"/>
<line x1="165.80" y1="99.70" x2="164.05" y2="100.66"/>
<line x1="191.70" y1="130.15" x2="189.73" y2="129.78"/>
<line x1="70.30" y1="107.55" x2="72.27" y2="107.92"/>
<line x1="121.23" y1="142.66" x2="122.98" y2="141.70"/>
<line x1="190.83" y1="104.36" x2="189.08" y2="105.32"/>
<line x1="206.05" y1="122.25" x2="204.08" y2="121.89"/>
<line x1="84.65" y1="99.65" x2="86.62" y2="100.02"/>
<line x1="146.26" y1="147.32" x2="148.01" y2="146.36"/>
<line x1="215.86" y1="109.02" x2="214.11" y2="109.98"/>
<line x1="220.40" y1="114.36" x2="218.43" y2="113.99"/>
<line x1="99.00" y1="91.76" x2="100.97" y2="92.12"/>
</g>
<g class="sf" filter="url(#bl)"><g transform="scale(0.25)">
<path class="q23" d="M418 220l9 1 8 2 8 1 9 2 8 1 8 1 6-10-8-2-8-1-9-2-8-1-8-2-9-1z"/>
<path class="q24" d="M468 228l9 1 8 1 8 1 9 1 8 0 8 1 9 1 8 0 8 1 9 1 8 0 8 1 9 1 8 1 8 1 9 1 8 0 6 3-8-1-8-2-9-1-8-2-8-1-9-2-8-1-9-2-8-2-8-1-9-2-8-1-8-2-9-1-8-2-8-1-9-2z"/>
<path class="q25" d="M610 241l9 2 8 1 8 1 9 1 8 2 8 1 9 2 8 2 8 2 9 1 8 2 6 4-8-2-9-2-8-1-8-2-9-1-8-2-8-1-9-2-8-1-8-2-9-2z"/>
<path class="q24" d="M702 258l8 3 9 2 8 2 8 2 9 3 8 2 8 2 9 3 8 2 9 3 8 2 8 2 9 3 8 2 8 2 9 3 8 2 6-10-8-2-9-1-8-2-8-1-9-2-8-1-8-2-9-1-8-2-8-2-9-1-8-2-8-1-9-2-8-1-9-2-8-1z"/>
<path class="q23" d="M844 298l8 2 9 2 8 2 8 1 9 2 6-11-9-2-8-1-8-2-9-1-8-2z"/>
<path class="q22" d="M412 231l8 2 9 1 8 2 8 1 9 1 8 0 9 1 6-10-9-1-8-1-8-1-9-2-8-1-8-2-9-1z"/>
<path class="q23" d="M471 239l8 0 8 1 9 0 8 0 8 0 9 0 6-6-9-1-8-1-8 0-9-1-8-1-8-1z"/>
<path class="q24" d="M521 240l8-1 8 0 9 0 8 0 6-3-8 0-9-1-8-1-8 0z"/>
<path class="q25" d="M554 239l8 0 9 0 8 0 8 0 9 0 8 0 6 2-8 0-9-1-8-1-8-1-9-1-8-1z"/>
<path class="q26" d="M604 239l8 1 9 0 8 1 8 1 9 1 8 2 9 1 8 2 8 2 9 2 8 3 8 2 6 4-8-3-8-2-9-1-8-2-8-2-9-2-8-1-8-2-9-1-8-1-8-1-9-2z"/>
<path class="q25" d="M704 257l9 3 8 3 8 3 9 3 8 3 8 3 6-1-8-2-8-2-9-3-8-2-8-2-9-2z"/>
<path class="q24" d="M754 275l9 3 8 4 8 3 9 3 6-4-8-2-9-3-8-2-9-3z"/>
<path class="q23" d="M788 288l8 4 8 3 9 3 8 3 9 3 8 3 6-9-8-2-9-3-8-2-8-2-9-3-8-2z"/>
<path class="q22" d="M838 307l8 2 9 3 8 2 8 2 9 2 6-11-9-2-8-1-8-2-9-2-8-2z"/>
<path class="q21" d="M406 242l8 2 9 2 8 1 8 1 9 1 8 0 8 1 7-11-9-1-8 0-9-1-8-1-8-2-9-1-8-2z"/>
<path class="q22" d="M464 250l9-1 8 0 8 0 9-1 6-8-8 0-9 0-8-1-8 0z"/>
<path class="q23" d="M498 248l8-1 9-1 8 0 6-7-8 1-9 0-8 0z"/>
<path class="q24" d="M523 246l8-2 9-1 8-1 6-3-8 0-9 0-8 0z"/>
<path class="q25" d="M548 242l8-1 9-1 8-1 6 0-8 0-9 0-8 0z"/>
<path class="q26" d="M573 239l8 0 9-1 8 0 8-1 6 3-8-1-8 0-9 0-8 0z"/>
<path class="q27" d="M606 237l9 1 8 0 8 0 9 1 8 1 8 2 9 1 8 2 9 3 8 2 8 3 6 4-8-2-8-3-9-2-8-2-8-2-9-1-8-2-9-1-8-1-8-1-9 0z"/>
<path class="q26" d="M698 253l9 3 8 4 8 3 9 4 6 2-9-3-8-3-8-3-9-3z"/>
<path class="q25" d="M732 267l8 4 8 4 9 4 6-1-9-3-8-3-8-3z"/>
<path class="q24" d="M757 279l8 4 8 4 9 5 6-4-9-3-8-3-8-4z"/>
<path class="q23" d="M782 292l8 4 8 4 9 4 6-6-9-3-8-3-8-4z"/>
<path class="q22" d="M807 304l8 4 8 3 9 4 8 3 6-9-8-2-8-3-9-3-8-3z"/>
<path class="q21" d="M840 318l8 3 9 3 8 3 9 2 6-11-9-2-8-2-8-2-9-3z"/>
<path class="q20" d="M400 253l8 2 9 2 8 2 8 1 9 0 8 1 8 0 9-1 6-11-9 1-8-1-8 0-9-1-8-1-8-1-9-2-8-2z"/>
<path class="q21" d="M467 260l8 0 8-1 9-2 6-9-9 1-8 0-8 0z"/>
<path class="q22" d="M492 257l8-1 8-2 7-8-9 1-8 1z"/>
<path class="q23" d="M508 254l9-1 8-2 6-7-8 2-8 0z"/>
<path class="q24" d="M525 251l8-2 9-2 6-5-8 1-9 1z"/>
<path class="q25" d="M542 247l8-2 9-2 6-3-9 1-8 1z"/>
<path class="q26" d="M559 243l8-2 8-1 9-2 6 0-9 1-8 0-8 1z"/>
<path class="q27" d="M584 238l8-1 8-1 6 1-8 1-8 0z"/>
<path class="q28" d="M600 236l9-1 8 0 8 0 9 0 8 1 8 1 9 2 8 1 8 3 9 3 8 3 8 3 7 4-9-3-8-3-8-2-9-3-8-2-9-1-8-2-8-1-9-1-8 0-8 0-9-1z"/>
<path class="q27" d="M700 252l9 4 8 4 9 5 6 2-9-4-8-3-8-4z"/>
<path class="q26" d="M726 265l8 4 8 5 6 1-8-4-8-4z"/>
<path class="q25" d="M742 274l9 5 8 5 6-1-8-4-9-4z"/>
<path class="q24" d="M759 284l8 5 9 5 6-2-9-5-8-4z"/>
<path class="q23" d="M776 294l8 5 8 5 6-4-8-4-8-4z"/>
<path class="q22" d="M792 304l9 4 8 5 8 5 6-7-8-3-8-4-9-4z"/>
<path class="q21" d="M817 318l9 4 8 4 6-8-8-3-9-4z"/>
<path class="q20" d="M834 326l8 4 9 4 8 3 8 3 7-11-9-2-8-3-9-3-8-3z"/>
<path class="q18" d="M394 263l8 3 8 2 9 2 8 2 9 0 8 1 6-12-8-1-9 0-8-1-8-2-9-2-8-2z"/>
<path class="q19" d="M444 273l8 0 9-1 8-1 6-11-8 0-9 1-8 0z"/>
<path class="q20" d="M469 271l8-2 9-1 6-11-9 2-8 1z"/>
<path class="q21" d="M486 268l8-3 8-2 6-9-8 2-8 1z"/>
<path class="q22" d="M502 263l9-2 6-8-9 1z"/>
<path class="q23" d="M511 261l8-3 8-3 6-6-8 2-8 2z"/>
<path class="q24" d="M527 255l9-2 8-3 6-5-8 2-9 2z"/>
<path class="q25" d="M544 250l8-3 7-4-9 2z"/>
<path class="q26" d="M552 247l9-2 8-3 6-2-8 1-8 2z"/>
<path class="q27" d="M569 242l8-2 9-2 6-1-8 1-9 2z"/>
<path class="q28" d="M586 238l8-2 9-2 6 1-9 1-8 1z"/>
<path class="q29" d="M603 234l8-1 8-1 9 0 6 3-9 0-8 0-8 0z"/>
<path class="q30" d="M628 232l8 0 8 0 9 2 8 1 8 3 9 2 6 6-9-3-8-3-8-1-9-2-8-1-8-1z"/>
<path class="q29" d="M678 240l8 4 8 3 9 5 6 4-9-4-8-3-8-3z"/>
<path class="q28" d="M703 252l8 4 8 5 7 4-9-5-8-4z"/>
<path class="q27" d="M719 261l9 5 8 6 6 2-8-5-8-4z"/>
<path class="q26" d="M736 272l8 5 7 2-9-5z"/>
<path class="q25" d="M744 277l9 6 8 6 6 0-8-5-8-5z"/>
<path class="q24" d="M761 289l9 6 8 6 6-2-8-5-9-5z"/>
<path class="q23" d="M778 301l8 5 6-2-8-5z"/>
<path class="q22" d="M786 306l9 6 8 6 6-5-8-5-9-4z"/>
<path class="q21" d="M803 318l8 5 9 5 6-6-9-4-8-5z"/>
<path class="q20" d="M820 328l8 5 8 5 6-8-8-4-8-4z"/>
<path class="q19" d="M836 338l9 4 8 4 8 4 6-10-8-3-8-3-9-4z"/>
<path class="q17" d="M388 272l8 4 8 3 9 3 8 2 8 1 9 0 8 0 6-12-8 0-8-1-9 0-8-2-9-2-8-2-8-3z"/>
<path class="q18" d="M446 285l8-1 9-1 6-12-8 1-9 1z"/>
<path class="q19" d="M463 283l8-2 9-3 6-10-9 1-8 2z"/>
<path class="q20" d="M480 278l8-2 8-3 6-10-8 2-8 3z"/>
<path class="q21" d="M496 273l9-3 6-9-9 2z"/>
<path class="q22" d="M505 270l8-4 8-3 6-8-8 3-8 3z"/>
<path class="q23" d="M521 263l9-4 6-6-9 2z"/>
<path class="q24" d="M530 259l8-3 6-6-8 3z"/>
<path class="q25" d="M538 256l8-4 9-3 6-4-9 2-8 3z"/>
<path class="q26" d="M555 249l8-4 6-3-8 3z"/>
<path class="q27" d="M563 245l8-3 6-2-8 2z"/>
<path class="q28" d="M571 242l9-3 8-3 6 0-8 2-9 2z"/>
<path class="q29" d="M588 236l8-2 9-2 6 1-8 1-9 2z"/>
<path class="q30" d="M605 232l8-2 8-1 7 3-9 0-8 1z"/>
<path class="q31" d="M621 229l9-1 8 0 9 1 8 1 8 2 9 3 8 3 6 6-8-4-9-2-8-3-8-1-9-2-8 0-8 0z"/>
<path class="q30" d="M680 238l8 4 9 5 6 5-9-5-8-3z"/>
<path class="q29" d="M697 247l8 5 8 5 6 4-8-5-8-4z"/>
<path class="q28" d="M713 257l9 6 8 6 6 3-8-6-9-5z"/>
<path class="q27" d="M730 269l8 6 6 2-8-5z"/>
<path class="q26" d="M738 275l9 6 8 7 6 1-8-6-9-6z"/>
<path class="q25" d="M755 288l8 7 7 0-9-6z"/>
<path class="q24" d="M763 295l9 6 6 0-8-6z"/>
<path class="q23" d="M772 301l8 7 8 7 7-3-9-6-8-5z"/>
<path class="q22" d="M788 315l9 6 6-3-8-6z"/>
<path class="q21" d="M797 321l8 6 6-4-8-5z"/>
<path class="q20" d="M805 327l9 7 8 6 6-7-8-5-9-5z"/>
<path class="q19" d="M822 340l8 5 9 5 6-8-9-4-8-5z"/>
<path class="q18" d="M839 350l8 5 8 5 6-10-8-4-8-4z"/>
<path class="q16" d="M382 281l8 5 8 4 9 3 8 2 8 2 9 1 8-1 8 0 6-13-8 1-8 0-9 0-8-1-8-2-9-3-8-3-8-4z"/>
<path class="q17" d="M448 297l9-2 8-2 6-12-8 2-9 1z"/>
<path class="q18" d="M465 293l8-3 9-3 6-11-8 2-9 3z"/>
<path class="q19" d="M482 287l8-4 6-10-8 3z"/>
<path class="q20" d="M490 283l8-3 7-10-9 3z"/>
<path class="q21" d="M498 280l9-4 6-10-8 4z"/>
<path class="q22" d="M507 276l8-5 6-8-8 3z"/>
<path class="q23" d="M515 271l9-4 8-4 6-7-8 3-9 4z"/>
<path class="q24" d="M532 263l8-4 6-7-8 4z"/>
<path class="q25" d="M540 259l9-5 6-5-9 3z"/>
<path class="q26" d="M549 254l8-4 6-5-8 4z"/>
<path class="q27" d="M557 250l8-4 6-4-8 3z"/>
<path class="q28" d="M565 246l9-4 6-3-9 3z"/>
<path class="q29" d="M574 242l8-4 8-4 6 0-8 2-8 3z"/>
<path class="q30" d="M590 234l9-3 6 1-9 2z"/>
<path class="q31" d="M599 231l8-2 8-2 6 2-8 1-8 2z"/>
<path class="q32" d="M615 227l9-2 8-1 8 0 9 1 8 2 8 2 9 3 8 4 6 6-8-4-8-3-9-3-8-2-8-1-9-1-8 0-9 1z"/>
<path class="q31" d="M682 236l9 5 8 5 6 6-8-5-9-5z"/>
<path class="q30" d="M699 246l8 6 9 6 6 5-9-6-8-5z"/>
<path class="q29" d="M716 258l8 7 6 4-8-6z"/>
<path class="q28" d="M724 265l8 7 6 3-8-6z"/>
<path class="q27" d="M732 272l9 7 6 2-9-6z"/>
<path class="q26" d="M741 279l8 7 6 2-8-7z"/>
<path class="q25" d="M749 286l8 8 9 7 6 0-9-6-8-7z"/>
<path class="q24" d="M766 301l8 7 6 0-8-7z"/>
<path class="q23" d="M774 308l8 8 6-1-8-7z"/>
<path class="q22" d="M782 316l9 7 6-2-9-6z"/>
<path class="q21" d="M791 323l8 8 6-4-8-6z"/>
<path class="q20" d="M799 331l8 7 7-4-9-7z"/>
<path class="q19" d="M807 338l9 7 8 6 6-6-8-5-8-6z"/>
<path class="q18" d="M824 351l8 6 7-7-9-5z"/>
<path class="q17" d="M832 357l9 6 8 5 6-8-8-5-8-5z"/>
<path class="q15" d="M376 289l8 6 8 5 9 4 6-11-9-3-8-4-8-5z"/>
<path class="q14" d="M401 304l8 3 8 2 9 1 8 0 6-13-8 1-9-1-8-2-8-2z"/>
<path class="q15" d="M434 310l8 0 9-2 6-13-9 2-8 0z"/>
<path class="q16" d="M451 308l8-2 8-3 6-13-8 3-8 2z"/>
<path class="q17" d="M467 303l9-4 6-12-9 3z"/>
<path class="q18" d="M476 299l8-4 6-12-8 4z"/>
<path class="q19" d="M484 295l8-5 6-10-8 3z"/>
<path class="q20" d="M492 290l9-4 6-10-9 4z"/>
<path class="q21" d="M501 286l8-5 6-10-8 5z"/>
<path class="q22" d="M509 281l8-5 7-9-9 4z"/>
<path class="q23" d="M517 276l9-5 6-8-8 4z"/>
<path class="q24" d="M526 271l8-5 6-7-8 4z"/>
<path class="q25" d="M534 266l8-5 7-7-9 5z"/>
<path class="q26" d="M542 261l9-6 6-5-8 4z"/>
<path class="q27" d="M551 255l8-5 6-4-8 4z"/>
<path class="q28" d="M559 250l9-4 6-4-9 4z"/>
<path class="q29" d="M568 246l8-5 6-3-8 4z"/>
<path class="q30" d="M576 241l8-5 9-4 6-1-9 3-8 4z"/>
<path class="q31" d="M593 232l8-3 6 0-8 2z"/>
<path class="q32" d="M601 229l8-4 6 2-8 2z"/>
<path class="q33" d="M609 225l9-2 8-2 8-1 6 4-8 0-8 1-9 2z"/>
<path class="q34" d="M634 220l9 0 8 1 8 2 9 3 6 6-9-3-8-2-8-2-9-1z"/>
<path class="q33" d="M668 226l8 4 8 5 7 6-9-5-8-4z"/>
<path class="q32" d="M684 235l9 5 8 6 6 6-8-6-8-5z"/>
<path class="q31" d="M701 246l8 7 7 5-9-6z"/>
<path class="q30" d="M709 253l9 7 6 5-8-7z"/>
<path class="q29" d="M718 260l8 8 6 4-8-7z"/>
<path class="q28" d="M726 268l9 8 6 3-9-7z"/>
<path class="q27" d="M735 276l8 8 6 2-8-7z"/>
<path class="q26" d="M743 284l8 8 6 2-8-8z"/>
<path class="q25" d="M751 292l9 8 6 1-9-7z"/>
<path class="q24" d="M760 300l8 8 6 0-8-7z"/>
<path class="q23" d="M768 308l8 8 6 0-8-8z"/>
<path class="q22" d="M776 316l9 8 6-1-9-7z"/>
<path class="q21" d="M785 324l8 9 6-2-8-8z"/>
<path class="q20" d="M793 333l8 8 6-3-8-7z"/>
<path class="q19" d="M801 341l9 7 6-3-9-7z"/>
<path class="q18" d="M810 348l8 8 8 7 6-6-8-6-8-6z"/>
<path class="q17" d="M826 363l9 7 6-7-9-6z"/>
<path class="q16" d="M835 370l8 6 6-8-8-5z"/>
<path class="q15" d="M369 296l9 7 6-8-8-6z"/>
<path class="q14" d="M378 303l8 6 8 5 7-10-9-4-8-5z"/>
<path class="q13" d="M394 314l9 4 8 3 9 2 8 0 8 0 6-13-8 0-8 0-9-1-8-2-8-3z"/>
<path class="q14" d="M436 323l9-2 8-2 6-13-8 2-9 2z"/>
<path class="q15" d="M453 319l8-3 6-13-8 3z"/>
<path class="q16" d="M461 316l9-4 6-13-9 4z"/>
<path class="q17" d="M470 312l8-5 6-12-8 4z"/>
<path class="q18" d="M478 307l8-5 6-12-8 5z"/>
<path class="q19" d="M486 302l9-5 6-11-9 4z"/>
<path class="q20" d="M495 297l8-6 6-10-8 5z"/>
<path class="q21" d="M503 291l8-6 6-9-8 5z"/>
<path class="q22" d="M511 285l9-5 6-9-9 5z"/>
<path class="q23" d="M520 280l8-6 6-8-8 5z"/>
<path class="q24" d="M528 274l8-6 6-7-8 5z"/>
<path class="q25" d="M536 268l9-6 6-7-9 6z"/>
<path class="q26" d="M545 262l8-6 6-6-8 5z"/>
<path class="q27" d="M553 256l8-5 7-5-9 4z"/>
<path class="q29" d="M561 251l9-6 6-4-8 5z"/>
<path class="q30" d="M570 245l8-5 6-4-8 5z"/>
<path class="q31" d="M578 240l9-6 6-2-9 4z"/>
<path class="q32" d="M587 234l8-4 8-5 6 0-8 4-8 3z"/>
<path class="q33" d="M603 225l9-3 6 1-9 2z"/>
<path class="q34" d="M612 222l8-3 8-2 6 3-8 1-8 2z"/>
<path class="q35" d="M628 217l9-1 8 0 8 1 9 3 8 3 6 7-8-4-9-3-8-2-8-1-9 0z"/>
<path class="q34" d="M670 223l8 5 9 6 6 6-9-5-8-5z"/>
<path class="q33" d="M687 234l8 6 6 6-8-6z"/>
<path class="q32" d="M695 240l8 7 6 6-8-7z"/>
<path class="q31" d="M703 247l9 8 6 5-9-7z"/>
<path class="q30" d="M712 255l8 8 6 5-8-8z"/>
<path class="q29" d="M720 263l8 8 7 5-9-8z"/>
<path class="q28" d="M728 271l9 9 6 4-8-8z"/>
<path class="q27" d="M737 280l8 9 6 3-8-8z"/>
<path class="q26" d="M745 289l8 9 7 2-9-8z"/>
<path class="q25" d="M753 298l9 9 6 1-8-8z"/>
<path class="q24" d="M762 307l8 9 6 0-8-8z"/>
<path class="q23" d="M770 316l9 8 6 0-9-8z"/>
<path class="q22" d="M779 324l8 9 6 0-8-9z"/>
<path class="q21" d="M787 333l8 9 6-1-8-8z"/>
<path class="q19" d="M795 342l9 9 6-3-9-7z"/>
<path class="q18" d="M804 351l8 8 6-3-8-8z"/>
<path class="q17" d="M812 359l8 9 6-5-8-7z"/>
<path class="q16" d="M820 368l9 8 8 7 6-7-8-6-9-7z"/>
<path class="q14" d="M363 301l9 8 6-6-9-7z"/>
<path class="q13" d="M372 309l8 7 8 7 6-9-8-5-8-6z"/>
<path class="q12" d="M388 323l9 5 8 4 6-11-8-3-9-4z"/>
<path class="q11" d="M405 332l8 3 9 1 6-13-8 0-9-2z"/>
<path class="q12" d="M422 336l8 0 8-1 7-14-9 2-8 0z"/>
<path class="q13" d="M438 335l9-3 8-3 6-13-8 3-8 2z"/>
<path class="q14" d="M455 329l9-4 6-13-9 4z"/>
<path class="q15" d="M464 325l8-5 6-13-8 5z"/>
<path class="q16" d="M472 320l8-6 6-12-8 5z"/>
<path class="q17" d="M480 314l9-6 6-11-9 5z"/>
<path class="q18" d="M489 308l8-6 6-11-8 6z"/>
<path class="q20" d="M497 302l8-6 6-11-8 6z"/>
<path class="q21" d="M505 296l9-7 6-9-9 5z"/>
<path class="q22" d="M514 289l8-6 6-9-8 6z"/>
<path class="q23" d="M522 283l8-7 6-8-8 6z"/>
<path class="q25" d="M530 276l9-6 6-8-9 6z"/>
<path class="q26" d="M539 270l8-7 6-7-8 6z"/>
<path class="q27" d="M547 263l8-6 6-6-8 5z"/>
<path class="q28" d="M555 257l9-7 6-5-9 6z"/>
<path class="q29" d="M564 250l8-6 6-4-8 5z"/>
<path class="q31" d="M572 244l8-6 7-4-9 6z"/>
<path class="q32" d="M580 238l9-6 6-2-8 4z"/>
<path class="q33" d="M589 232l8-5 6-2-8 5z"/>
<path class="q34" d="M597 227l8-5 7 0-9 3z"/>
<path class="q35" d="M605 222l9-4 8-3 6 2-8 2-8 3z"/>
<path class="q36" d="M622 215l9-2 8-1 6 4-8 0-9 1z"/>
<path class="q37" d="M639 212l8 0 9 2 6 6-9-3-8-1z"/>
<path class="q36" d="M656 214l8 3 8 4 6 7-8-5-8-3z"/>
<path class="q35" d="M672 221l9 6 8 6 6 7-8-6-9-6z"/>
<path class="q34" d="M689 233l8 8 6 6-8-7z"/>
<path class="q33" d="M697 241l9 8 6 6-9-8z"/>
<path class="q32" d="M706 249l8 8 6 6-8-8z"/>
<path class="q31" d="M714 257l8 9 6 5-8-8z"/>
<path class="q30" d="M722 266l9 10 6 4-9-9z"/>
<path class="q28" d="M731 276l8 9 6 4-8-9z"/>
<path class="q27" d="M739 285l8 10 6 3-8-9z"/>
<path class="q26" d="M747 295l9 9 6 3-9-9z"/>
<path class="q25" d="M756 304l8 10 6 2-8-9z"/>
<path class="q23" d="M764 314l8 10 7 0-9-8z"/>
<path class="q22" d="M772 324l9 9 6 0-8-9z"/>
<path class="q21" d="M781 333l8 10 6-1-8-9z"/>
<path class="q20" d="M789 343l8 9 7-1-9-9z"/>
<path class="q19" d="M797 352l9 10 6-3-8-8z"/>
<path class="q17" d="M806 362l8 9 6-3-8-9z"/>
<path class="q16" d="M814 371l9 9 6-4-9-8z"/>
<path class="q15" d="M823 380l8 8 6-5-8-7z"/>
<path class="q14" d="M357 305l9 10 6-6-9-8z"/>
<path class="q13" d="M366 315l8 8 6-7-8-7z"/>
<path class="q12" d="M374 323l8 7 6-7-8-7z"/>
<path class="q11" d="M382 330l9 7 8 5 6-10-8-4-9-5z"/>
<path class="q10" d="M399 342l8 4 9 2 8 1 8-1 6-13-8 1-8 0-9-1-8-3z"/>
<path class="q11" d="M432 348l9-2 6-14-9 3z"/>
<path class="q12" d="M441 346l8-3 8-4 7-14-9 4-8 3z"/>
<path class="q13" d="M457 339l9-6 6-13-8 5z"/>
<path class="q15" d="M466 333l8-6 6-13-8 6z"/>
<path class="q16" d="M474 327l8-6 7-13-9 6z"/>
<path class="q17" d="M482 321l9-7 6-12-8 6z"/>
<path class="q18" d="M491 314l8-7 6-11-8 6z"/>
<path class="q20" d="M499 307l9-7 6-11-9 7z"/>
<path class="q21" d="M508 300l8-7 6-10-8 6z"/>
<path class="q22" d="M516 293l8-8 6-9-8 7z"/>
<path class="q24" d="M524 285l9-7 6-8-9 6z"/>
<path class="q25" d="M533 278l8-7 6-8-8 7z"/>
<path class="q26" d="M541 271l8-7 6-7-8 6z"/>
<path class="q28" d="M549 264l9-7 6-7-9 7z"/>
<path class="q29" d="M558 257l8-7 6-6-8 6z"/>
<path class="q30" d="M566 250l8-7 6-5-8 6z"/>
<path class="q32" d="M574 243l9-7 6-4-9 6z"/>
<path class="q33" d="M583 236l8-7 6-2-8 5z"/>
<path class="q34" d="M591 229l8-6 6-1-8 5z"/>
<path class="q35" d="M599 223l9-5 6 0-9 4z"/>
<path class="q36" d="M608 218l8-4 6 1-8 3z"/>
<path class="q37" d="M616 214l8-4 9-2 6 4-8 1-9 2z"/>
<path class="q38" d="M633 208l8 0 8 0 9 3 8 3 6 7-8-4-8-3-9-2-8 0z"/>
<path class="q37" d="M666 214l9 6 6 7-9-6z"/>
<path class="q36" d="M675 220l8 6 8 8 6 7-8-8-8-6z"/>
<path class="q35" d="M691 234l9 8 6 7-9-8z"/>
<path class="q33" d="M700 242l8 9 6 6-8-8z"/>
<path class="q32" d="M708 251l8 10 6 5-8-9z"/>
<path class="q31" d="M716 261l9 10 6 5-9-10z"/>
<path class="q30" d="M725 271l8 10 6 4-8-9z"/>
<path class="q28" d="M733 281l8 10 6 4-8-10z"/>
<path class="q27" d="M741 291l9 10 6 3-9-9z"/>
<path class="q26" d="M750 301l8 10 6 3-8-10z"/>
<path class="q24" d="M758 311l8 11 6 2-8-10z"/>
<path class="q23" d="M766 322l9 10 6 1-9-9z"/>
<path class="q22" d="M775 332l8 10 6 1-8-10z"/>
<path class="q20" d="M783 342l8 11 6-1-8-9z"/>
<path class="q19" d="M791 353l9 10 6-1-9-10z"/>
<path class="q18" d="M800 363l8 10 6-2-8-9z"/>
<path class="q16" d="M808 373l8 10 7-3-9-9z"/>
<path class="q15" d="M816 383l9 10 6-5-8-8z"/>
<path class="q14" d="M351 308l8 10 7-3-9-10z"/>
<path class="q13" d="M359 318l9 10 6-5-8-8z"/>
<path class="q11" d="M368 328l8 9 6-7-8-7z"/>
<path class="q10" d="M376 337l9 8 8 6 6-9-8-5-9-7z"/>
<path class="q9" d="M393 351l8 5 9 4 8 1 8 0 9-1 6-14-9 2-8 1-8-1-9-2-8-4z"/>
<path class="q10" d="M435 360l8-3 6-14-8 3z"/>
<path class="q11" d="M443 357l8-4 6-14-8 4z"/>
<path class="q12" d="M451 353l9-6 6-14-9 6z"/>
<path class="q13" d="M460 347l8-6 6-14-8 6z"/>
<path class="q14" d="M468 341l8-7 6-13-8 6z"/>
<path class="q16" d="M476 334l9-8 6-12-9 7z"/>
<path class="q17" d="M485 326l8-7 6-12-8 7z"/>
<path class="q18" d="M493 319l8-8 7-11-9 7z"/>
<path class="q20" d="M501 311l9-8 6-10-8 7z"/>
<path class="q21" d="M510 303l8-8 6-10-8 8z"/>
<path class="q23" d="M518 295l8-7 7-10-9 7z"/>
<path class="q24" d="M526 288l9-8 6-9-8 7z"/>
<path class="q26" d="M535 280l8-8 6-8-8 7z"/>
<path class="q27" d="M543 272l9-8 6-7-9 7z"/>
<path class="q29" d="M552 264l8-8 6-6-8 7z"/>
<path class="q30" d="M560 256l8-7 6-6-8 7z"/>
<path class="q31" d="M568 249l9-8 6-5-9 7z"/>
<path class="q33" d="M577 241l8-8 6-4-8 7z"/>
<path class="q34" d="M585 233l8-7 6-3-8 6z"/>
<path class="q35" d="M593 226l9-6 6-2-9 5z"/>
<path class="q37" d="M602 220l8-6 6 0-8 4z"/>
<path class="q38" d="M610 214l8-5 9-3 6 2-9 2-8 4z"/>
<path class="q39" d="M627 206l8-2 8 0 9 1 8 3 8 5 7 7-9-6-8-3-9-3-8 0-8 0z"/>
<path class="q38" d="M668 213l9 6 6 7-8-6z"/>
<path class="q37" d="M677 219l8 7 6 8-8-8z"/>
<path class="q36" d="M685 226l8 9 7 7-9-8z"/>
<path class="q35" d="M693 235l9 9 6 7-8-9z"/>
<path class="q34" d="M702 244l8 10 6 7-8-10z"/>
<path class="q32" d="M710 254l9 11 6 6-9-10z"/>
<path class="q31" d="M719 265l8 11 6 5-8-10z"/>
<path class="q30" d="M727 276l8 10 6 5-8-10z"/>
<path class="q28" d="M735 286l9 11 6 4-9-10z"/>
<path class="q27" d="M744 297l8 11 6 3-8-10z"/>
<path class="q25" d="M752 308l8 11 6 3-8-11z"/>
<path class="q24" d="M760 319l9 11 6 2-9-10z"/>
<path class="q22" d="M769 330l8 11 6 1-8-10z"/>
<path class="q21" d="M777 341l8 11 6 1-8-11z"/>
<path class="q19" d="M785 352l9 11 6 0-9-10z"/>
<path class="q18" d="M794 363l8 11 6-1-8-10z"/>
<path class="q17" d="M802 374l8 11 6-2-8-10z"/>
<path class="q15" d="M810 385l9 10 6-2-9-10z"/>
<path class="q14" d="M345 309l8 12 6-3-8-10z"/>
<path class="q12" d="M353 321l9 10 6-3-9-10z"/>
<path class="q11" d="M362 331l8 11 6-5-8-9z"/>
<path class="q10" d="M370 342l8 9 7-6-9-8z"/>
<path class="q9" d="M378 351l9 8 6-8-8-6z"/>
<path class="q8" d="M387 359l8 6 8 5 7-10-9-4-8-5z"/>
<path class="q7" d="M403 370l9 3 8 1 6-13-8 0-8-1z"/>
<path class="q8" d="M420 374l9-1 8-2 6-14-8 3-9 1z"/>
<path class="q9" d="M437 371l8-4 6-14-8 4z"/>
<path class="q10" d="M445 367l9-6 6-14-9 6z"/>
<path class="q11" d="M454 361l8-6 6-14-8 6z"/>
<path class="q13" d="M462 355l8-7 6-14-8 7z"/>
<path class="q14" d="M470 348l9-8 6-14-9 8z"/>
<path class="q16" d="M479 340l8-9 6-12-8 7z"/>
<path class="q17" d="M487 331l8-8 6-12-8 8z"/>
<path class="q19" d="M495 323l9-9 6-11-9 8z"/>
<path class="q20" d="M504 314l8-8 6-11-8 8z"/>
<path class="q22" d="M512 306l8-8 6-10-8 7z"/>
<path class="q23" d="M520 298l9-9 6-9-9 8z"/>
<path class="q25" d="M529 289l8-8 6-9-8 8z"/>
<path class="q26" d="M537 281l8-8 7-9-9 8z"/>
<path class="q28" d="M545 273l9-9 6-8-8 8z"/>
<path class="q29" d="M554 264l8-8 6-7-8 7z"/>
<path class="q31" d="M562 256l8-9 7-6-9 8z"/>
<path class="q33" d="M570 247l9-8 6-6-8 8z"/>
<path class="q34" d="M579 239l8-8 6-5-8 7z"/>
<path class="q36" d="M587 231l9-8 6-3-9 6z"/>
<path class="q37" d="M596 223l8-7 6-2-8 6z"/>
<path class="q38" d="M604 216l8-6 6-1-8 5z"/>
<path class="q39" d="M612 210l9-5 6 1-9 3z"/>
<path class="q40" d="M621 205l8-3 8-2 6 4-8 0-8 2z"/>
<path class="q41" d="M637 200l9 0 8 2 6 6-8-3-9-1z"/>
<path class="q40" d="M654 202l8 4 9 5 6 8-9-6-8-5z"/>
<path class="q39" d="M671 211l8 8 6 7-8-7z"/>
<path class="q38" d="M679 219l8 8 6 8-8-9z"/>
<path class="q37" d="M687 227l9 10 6 7-9-9z"/>
<path class="q35" d="M696 237l8 10 6 7-8-10z"/>
<path class="q34" d="M704 247l8 11 7 7-9-11z"/>
<path class="q32" d="M712 258l9 12 6 6-8-11z"/>
<path class="q31" d="M721 270l8 11 6 5-8-10z"/>
<path class="q29" d="M729 281l8 12 7 4-9-11z"/>
<path class="q28" d="M737 293l9 11 6 4-8-11z"/>
<path class="q26" d="M746 304l8 12 6 3-8-11z"/>
<path class="q25" d="M754 316l9 11 6 3-9-11z"/>
<path class="q23" d="M763 327l8 12 6 2-8-11z"/>
<path class="q22" d="M771 339l8 11 6 2-8-11z"/>
<path class="q20" d="M779 350l9 12 6 1-9-11z"/>
<path class="q19" d="M788 362l8 11 6 1-8-11z"/>
<path class="q17" d="M796 373l8 12 6 0-8-11z"/>
<path class="q15" d="M804 385l9 11 6-1-9-10z"/>
<path class="q14" d="M339 309l8 12 6 0-8-12z"/>
<path class="q13" d="M347 321l9 12 6-2-9-10z"/>
<path class="q11" d="M356 333l8 12 6-3-8-11z"/>
<path class="q10" d="M364 345l8 10 6-4-8-9z"/>
<path class="q9" d="M372 355l9 10 6-6-9-8z"/>
<path class="q8" d="M381 365l8 8 6-8-8-6z"/>
<path class="q7" d="M389 373l8 6 6-9-8-5z"/>
<path class="q6" d="M397 379l9 4 8 3 8 0 7-13-9 1-8-1-9-3z"/>
<path class="q7" d="M422 386l9-2 8-3 6-14-8 4-8 2z"/>
<path class="q8" d="M439 381l8-5 7-15-9 6z"/>
<path class="q9" d="M447 376l9-7 6-14-8 6z"/>
<path class="q11" d="M456 369l8-7 6-14-8 7z"/>
<path class="q12" d="M464 362l9-9 6-13-9 8z"/>
<path class="q14" d="M473 353l8-9 6-13-8 9z"/>
<path class="q16" d="M481 344l8-9 6-12-8 8z"/>
<path class="q17" d="M489 335l9-9 6-12-9 9z"/>
<path class="q19" d="M498 326l8-9 6-11-8 8z"/>
<path class="q21" d="M506 317l8-9 6-10-8 8z"/>
<path class="q22" d="M514 308l9-9 6-10-9 9z"/>
<path class="q24" d="M523 299l8-9 6-9-8 8z"/>
<path class="q25" d="M531 290l8-8 6-9-8 8z"/>
<path class="q27" d="M539 282l9-9 6-9-9 9z"/>
<path class="q29" d="M548 273l8-9 6-8-8 8z"/>
<path class="q30" d="M556 264l8-9 6-8-8 9z"/>
<path class="q32" d="M564 255l9-10 6-6-9 8z"/>
<path class="q34" d="M573 245l8-9 6-5-8 8z"/>
<path class="q35" d="M581 236l8-8 7-5-9 8z"/>
<path class="q37" d="M589 228l9-9 6-3-8 7z"/>
<path class="q38" d="M598 219l8-7 6-2-8 6z"/>
<path class="q39" d="M606 212l8-6 7-1-9 5z"/>
<path class="q40" d="M614 206l9-5 6 1-8 3z"/>
<path class="q41" d="M623 201l8-3 6 2-8 2z"/>
<path class="q42" d="M631 198l9-1 8 0 8 3 6 6-8-4-8-2-9 0z"/>
<path class="q41" d="M656 200l9 5 8 6 6 8-8-8-9-5z"/>
<path class="q40" d="M673 211l8 9 6 7-8-8z"/>
<path class="q39" d="M681 220l9 9 6 8-9-10z"/>
<path class="q37" d="M690 229l8 11 6 7-8-10z"/>
<path class="q36" d="M698 240l8 11 6 7-8-11z"/>
<path class="q34" d="M706 251l9 12 6 7-9-12z"/>
<path class="q32" d="M715 263l8 12 6 6-8-11z"/>
<path class="q31" d="M723 275l8 13 6 5-8-12z"/>
<path class="q29" d="M731 288l9 12 6 4-9-11z"/>
<path class="q27" d="M740 300l8 12 6 4-8-12z"/>
<path class="q26" d="M748 312l8 12 7 3-9-11z"/>
<path class="q24" d="M756 324l9 12 6 3-8-12z"/>
<path class="q23" d="M765 336l8 12 6 2-8-11z"/>
<path class="q21" d="M773 348l8 12 7 2-9-12z"/>
<path class="q19" d="M781 360l9 12 6 1-8-11z"/>
<path class="q18" d="M790 372l8 12 6 1-8-12z"/>
<path class="q16" d="M798 384l9 12 6 0-9-11z"/>
<path class="q15" d="M333 308l8 13 6 0-8-12z"/>
<path class="q13" d="M341 321l9 13 6-1-9-12z"/>
<path class="q11" d="M350 334l8 12 6-1-8-12z"/>
<path class="q10" d="M358 346l8 12 6-3-8-10z"/>
<path class="q8" d="M366 358l9 11 6-4-9-10z"/>
<path class="q7" d="M375 369l8 9 6-5-8-8z"/>
<path class="q6" d="M383 378l8 8 6-7-8-6z"/>
<path class="q5" d="M391 386l9 6 8 4 8 1 9 0 6-13-9 2-8 0-8-3-9-4z"/>
<path class="q6" d="M425 397l8-3 6-13-8 3z"/>
<path class="q7" d="M433 394l8-4 6-14-8 5z"/>
<path class="q8" d="M441 390l9-7 6-14-9 7z"/>
<path class="q9" d="M450 383l8-7 6-14-8 7z"/>
<path class="q11" d="M458 376l8-9 7-14-9 9z"/>
<path class="q12" d="M466 367l9-9 6-14-8 9z"/>
<path class="q14" d="M475 358l8-10 6-13-8 9z"/>
<path class="q16" d="M483 348l9-9 6-13-9 9z"/>
<path class="q18" d="M492 339l8-10 6-12-8 9z"/>
<path class="q19" d="M500 329l8-10 6-11-8 9z"/>
<path class="q21" d="M508 319l9-9 6-11-9 9z"/>
<path class="q23" d="M517 310l8-9 6-11-8 9z"/>
<path class="q24" d="M525 301l8-10 6-9-8 8z"/>
<path class="q26" d="M533 291l9-9 6-9-9 9z"/>
<path class="q28" d="M542 282l8-9 6-9-8 9z"/>
<path class="q30" d="M550 273l8-10 6-8-8 9z"/>
<path class="q31" d="M558 263l9-10 6-8-9 10z"/>
<path class="q33" d="M567 253l8-9 6-8-8 9z"/>
<path class="q35" d="M575 244l8-10 6-6-8 8z"/>
<path class="q37" d="M583 234l9-9 6-6-9 9z"/>
<path class="q38" d="M592 225l8-9 6-4-8 7z"/>
<path class="q40" d="M600 216l8-8 6-2-8 6z"/>
<path class="q41" d="M608 208l9-6 6-1-9 5z"/>
<path class="q42" d="M617 202l8-5 6 1-8 3z"/>
<path class="q43" d="M625 197l8-3 9 0 8 1 8 4 7 6-9-5-8-3-8 0-9 1z"/>
<path class="q42" d="M658 199l9 6 6 6-8-6z"/>
<path class="q41" d="M667 205l8 7 6 8-8-9z"/>
<path class="q40" d="M675 212l9 10 6 7-9-9z"/>
<path class="q39" d="M684 222l8 10 6 8-8-11z"/>
<path class="q37" d="M692 232l8 12 6 7-8-11z"/>
<path class="q36" d="M700 244l9 12 6 7-9-12z"/>
<path class="q34" d="M709 256l8 13 6 6-8-12z"/>
<path class="q32" d="M717 269l8 13 6 6-8-13z"/>
<path class="q30" d="M725 282l9 13 6 5-9-12z"/>
<path class="q29" d="M734 295l8 12 6 5-8-12z"/>
<path class="q27" d="M742 307l8 13 6 4-8-12z"/>
<path class="q25" d="M750 320l9 12 6 4-9-12z"/>
<path class="q24" d="M759 332l8 13 6 3-8-12z"/>
<path class="q22" d="M767 345l8 12 6 3-8-12z"/>
<path class="q20" d="M775 357l9 13 6 2-9-12z"/>
<path class="q18" d="M784 370l8 12 6 2-8-12z"/>
<path class="q17" d="M792 382l8 13 7 1-9-12z"/>
<path class="q16" d="M327 306l8 13 6 2-8-13z"/>
<path class="q14" d="M335 319l8 14 7 1-9-13z"/>
<path class="q12" d="M343 333l9 13 6 0-8-12z"/>
<path class="q10" d="M352 346l8 13 6-1-8-12z"/>
<path class="q9" d="M360 359l9 12 6-2-9-11z"/>
<path class="q7" d="M369 371l8 11 6-4-8-9z"/>
<path class="q6" d="M377 382l8 9 6-5-8-8z"/>
<path class="q5" d="M385 391l9 8 6-7-9-6z"/>
<path class="q4" d="M394 399l8 5 8 4 9 0 8-1 6-13-8 3-9 0-8-1-8-4z"/>
<path class="q5" d="M427 407l8-4 6-13-8 4z"/>
<path class="q6" d="M435 403l9-6 6-14-9 7z"/>
<path class="q7" d="M444 397l8-7 6-14-8 7z"/>
<path class="q9" d="M452 390l8-8 6-15-8 9z"/>
<path class="q11" d="M460 382l9-10 6-14-9 9z"/>
<path class="q12" d="M469 372l8-10 6-14-8 10z"/>
<path class="q14" d="M477 362l8-10 7-13-9 9z"/>
<path class="q16" d="M485 352l9-11 6-12-8 10z"/>
<path class="q18" d="M494 341l8-10 6-12-8 10z"/>
<path class="q20" d="M502 331l8-10 7-11-9 9z"/>
<path class="q22" d="M510 321l9-10 6-10-8 9z"/>
<path class="q23" d="M519 311l8-9 6-11-8 10z"/>
<path class="q25" d="M527 302l9-10 6-10-9 9z"/>
<path class="q27" d="M536 292l8-10 6-9-8 9z"/>
<path class="q29" d="M544 282l8-10 6-9-8 10z"/>
<path class="q31" d="M552 272l9-10 6-9-9 10z"/>
<path class="q32" d="M561 262l8-10 6-8-8 9z"/>
<path class="q34" d="M569 252l8-10 6-8-8 10z"/>
<path class="q36" d="M577 242l9-11 6-6-9 9z"/>
<path class="q38" d="M586 231l8-9 6-6-8 9z"/>
<path class="q39" d="M594 222l8-9 6-5-8 8z"/>
<path class="q41" d="M602 213l9-8 6-3-9 6z"/>
<path class="q42" d="M611 205l8-6 6-2-8 5z"/>
<path class="q43" d="M619 199l8-5 6 0-8 3z"/>
<path class="q44" d="M627 194l9-2 8 0 8 2 9 5 6 6-9-6-8-4-8-1-9 0z"/>
<path class="q43" d="M661 199l8 7 6 6-8-7z"/>
<path class="q42" d="M669 206l8 8 7 8-9-10z"/>
<path class="q41" d="M677 214l9 11 6 7-8-10z"/>
<path class="q39" d="M686 225l8 11 6 8-8-12z"/>
<path class="q37" d="M694 236l8 13 7 7-9-12z"/>
<path class="q36" d="M702 249l9 13 6 7-8-13z"/>
<path class="q34" d="M711 262l8 14 6 6-8-13z"/>
<path class="q32" d="M719 276l9 13 6 6-9-13z"/>
<path class="q30" d="M728 289l8 13 6 5-8-12z"/>
<path class="q28" d="M736 302l8 13 6 5-8-13z"/>
<path class="q26" d="M744 315l9 13 6 4-9-12z"/>
<path class="q25" d="M753 328l8 13 6 4-8-13z"/>
<path class="q23" d="M761 341l8 13 6 3-8-12z"/>
<path class="q21" d="M769 354l9 13 6 3-9-13z"/>
<path class="q19" d="M778 367l8 13 6 2-8-12z"/>
<path class="q17" d="M786 380l8 13 6 2-8-13z"/>
<path class="q17" d="M321 303l8 14 6 2-8-13z"/>
<path class="q15" d="M329 317l8 14 6 2-8-14z"/>
<path class="q13" d="M337 331l9 14 6 1-9-13z"/>
<path class="q11" d="M346 345l8 13 6 1-8-13z"/>
<path class="q9" d="M354 358l8 14 7-1-9-12z"/>
<path class="q7" d="M362 372l9 12 6-2-8-11z"/>
<path class="q6" d="M371 384l8 11 6-4-8-9z"/>
<path class="q4" d="M379 395l8 9 9 7 6-7-8-5-9-8z"/>
<path class="q3" d="M396 411l8 5 9 2 8 0 6-11-8 1-9 0-8-4z"/>
<path class="q4" d="M421 418l8-3 9-4 6-14-9 6-8 4z"/>
<path class="q6" d="M438 411l8-7 6-14-8 7z"/>
<path class="q7" d="M446 404l8-8 6-14-8 8z"/>
<path class="q9" d="M454 396l9-10 6-14-9 10z"/>
<path class="q11" d="M463 386l8-10 6-14-8 10z"/>
<path class="q13" d="M471 376l8-11 6-13-8 10z"/>
<path class="q15" d="M479 365l9-11 6-13-9 11z"/>
<path class="q17" d="M488 354l8-11 6-12-8 10z"/>
<path class="q18" d="M496 343l8-10 6-12-8 10z"/>
<path class="q20" d="M504 333l9-10 6-12-9 10z"/>
<path class="q22" d="M513 323l8-11 6-10-8 9z"/>
<path class="q24" d="M521 312l8-10 7-10-9 10z"/>
<path class="q26" d="M529 302l9-10 6-10-8 10z"/>
<path class="q28" d="M538 292l8-10 6-10-8 10z"/>
<path class="q30" d="M546 282l8-10 7-10-9 10z"/>
<path class="q31" d="M554 272l9-11 6-9-8 10z"/>
<path class="q33" d="M563 261l8-11 6-8-8 10z"/>
<path class="q35" d="M571 250l9-10 6-9-9 11z"/>
<path class="q37" d="M580 240l8-11 6-7-8 9z"/>
<path class="q39" d="M588 229l8-10 6-6-8 9z"/>
<path class="q41" d="M596 219l9-9 6-5-9 8z"/>
<path class="q42" d="M605 210l8-8 6-3-8 6z"/>
<path class="q44" d="M613 202l8-6 9-4 6 0-9 2-8 5z"/>
<path class="q45" d="M630 192l8-2 8 1 9 3 6 5-9-5-8-2-8 0z"/>
<path class="q44" d="M655 194l8 6 8 8 6 6-8-8-8-7z"/>
<path class="q42" d="M671 208l9 10 6 7-9-11z"/>
<path class="q41" d="M680 218l8 11 6 7-8-11z"/>
<path class="q39" d="M688 229l8 13 6 7-8-13z"/>
<path class="q37" d="M696 242l9 13 6 7-9-13z"/>
<path class="q35" d="M705 255l8 14 6 7-8-14z"/>
<path class="q33" d="M713 269l8 14 7 6-9-13z"/>
<path class="q31" d="M721 283l9 14 6 5-8-13z"/>
<path class="q30" d="M730 297l8 13 6 5-8-13z"/>
<path class="q28" d="M738 310l9 14 6 4-9-13z"/>
<path class="q26" d="M747 324l8 13 6 4-8-13z"/>
<path class="q24" d="M755 337l8 13 6 4-8-13z"/>
<path class="q22" d="M763 350l9 13 6 4-9-13z"/>
<path class="q20" d="M772 363l8 14 6 3-8-13z"/>
<path class="q18" d="M780 377l8 13 6 3-8-13z"/>
<path class="q18" d="M315 300l8 13 6 4-8-14z"/>
<path class="q16" d="M323 313l8 15 6 3-8-14z"/>
<path class="q14" d="M331 328l9 14 6 3-9-14z"/>
<path class="q12" d="M340 342l8 14 6 2-8-13z"/>
<path class="q10" d="M348 356l8 14 6 2-8-14z"/>
<path class="q8" d="M356 370l9 14 6 0-9-12z"/>
<path class="q6" d="M365 384l8 12 6-1-8-11z"/>
<path class="q5" d="M373 396l8 11 6-3-8-9z"/>
<path class="q3" d="M381 407l9 9 6-5-9-7z"/>
<path class="q2" d="M390 416l8 6 8 4 9 2 8-2 6-11-8 3-8 0-9-2-8-5z"/>
<path class="q3" d="M423 426l8-3 7-12-9 4z"/>
<path class="q4" d="M431 423l9-6 6-13-8 7z"/>
<path class="q6" d="M440 417l8-8 6-13-8 8z"/>
<path class="q7" d="M448 409l9-9 6-14-9 10z"/>
<path class="q9" d="M457 400l8-10 6-14-8 10z"/>
<path class="q11" d="M465 390l8-11 6-14-8 11z"/>
<path class="q13" d="M473 379l9-12 6-13-9 11z"/>
<path class="q15" d="M482 367l8-11 6-13-8 11z"/>
<path class="q17" d="M490 356l8-11 6-12-8 10z"/>
<path class="q19" d="M498 345l9-11 6-11-9 10z"/>
<path class="q21" d="M507 334l8-10 6-12-8 11z"/>
<path class="q23" d="M515 324l8-11 6-11-8 10z"/>
<path class="q25" d="M523 313l9-10 6-11-9 10z"/>
<path class="q27" d="M532 303l8-10 6-11-8 10z"/>
<path class="q28" d="M540 293l8-11 6-10-8 10z"/>
<path class="q30" d="M548 282l9-11 6-10-9 11z"/>
<path class="q32" d="M557 271l8-11 6-10-8 11z"/>
<path class="q34" d="M565 260l8-11 7-9-9 10z"/>
<path class="q36" d="M573 249l9-11 6-9-8 11z"/>
<path class="q38" d="M582 238l8-11 6-8-8 10z"/>
<path class="q40" d="M590 227l8-11 7-6-9 9z"/>
<path class="q42" d="M598 216l9-9 6-5-8 8z"/>
<path class="q43" d="M607 207l8-7 6-4-8 6z"/>
<path class="q45" d="M615 200l9-6 6-2-9 4z"/>
<path class="q46" d="M624 194l8-3 8-1 9 1 8 5 6 4-8-6-9-3-8-1-8 2z"/>
<path class="q45" d="M657 196l8 6 6 6-8-8z"/>
<path class="q44" d="M665 202l9 9 6 7-9-10z"/>
<path class="q42" d="M674 211l8 11 6 7-8-11z"/>
<path class="q41" d="M682 222l8 13 6 7-8-13z"/>
<path class="q39" d="M690 235l9 13 6 7-9-13z"/>
<path class="q37" d="M699 248l8 14 6 7-8-14z"/>
<path class="q35" d="M707 262l8 14 6 7-8-14z"/>
<path class="q33" d="M715 276l9 15 6 6-9-14z"/>
<path class="q31" d="M724 291l8 14 6 5-8-13z"/>
<path class="q29" d="M732 305l8 14 7 5-9-14z"/>
<path class="q27" d="M740 319l9 14 6 4-8-13z"/>
<path class="q25" d="M749 333l8 13 6 4-8-13z"/>
<path class="q23" d="M757 346l8 13 7 4-9-13z"/>
<path class="q21" d="M765 359l9 14 6 4-8-14z"/>
<path class="q20" d="M774 373l8 14 6 3-8-13z"/>
<path class="q19" d="M308 296l9 14 6 3-8-13z"/>
<path class="q17" d="M317 310l8 14 6 4-8-15z"/>
<path class="q15" d="M325 324l9 15 6 3-9-14z"/>
<path class="q13" d="M334 339l8 14 6 3-8-14z"/>
<path class="q10" d="M342 353l8 15 6 2-8-14z"/>
<path class="q8" d="M350 368l9 14 6 2-9-14z"/>
<path class="q7" d="M359 382l8 14 6 0-8-12z"/>
<path class="q5" d="M367 396l8 12 6-1-8-11z"/>
<path class="q3" d="M375 408l9 10 6-2-9-9z"/>
<path class="q2" d="M384 418l8 8 8 6 6-6-8-4-8-6z"/>
<path class="q1" d="M400 432l9 3 8 1 6-10-8 2-9-2z"/>
<path class="q2" d="M417 436l8-3 6-10-8 3z"/>
<path class="q3" d="M425 433l9-4 6-12-9 6z"/>
<path class="q4" d="M434 429l8-7 6-13-8 8z"/>
<path class="q6" d="M442 422l8-9 7-13-9 9z"/>
<path class="q7" d="M450 413l9-10 6-13-8 10z"/>
<path class="q9" d="M459 403l8-11 6-13-8 11z"/>
<path class="q11" d="M467 392l8-11 7-14-9 12z"/>
<path class="q13" d="M475 381l9-12 6-13-8 11z"/>
<path class="q16" d="M484 369l8-12 6-12-8 11z"/>
<path class="q18" d="M492 357l9-11 6-12-9 11z"/>
<path class="q20" d="M501 346l8-11 6-11-8 10z"/>
<path class="q22" d="M509 335l8-11 6-11-8 11z"/>
<path class="q23" d="M517 324l9-10 6-11-9 10z"/>
<path class="q25" d="M526 314l8-11 6-10-8 10z"/>
<path class="q27" d="M534 303l8-10 6-11-8 11z"/>
<path class="q29" d="M542 293l9-11 6-11-9 11z"/>
<path class="q31" d="M551 282l8-11 6-11-8 11z"/>
<path class="q33" d="M559 271l8-12 6-10-8 11z"/>
<path class="q35" d="M567 259l9-12 6-9-9 11z"/>
<path class="q38" d="M576 247l8-11 6-9-8 11z"/>
<path class="q40" d="M584 236l8-11 6-9-8 11z"/>
<path class="q41" d="M592 225l9-10 6-8-9 9z"/>
<path class="q43" d="M601 215l8-9 6-6-8 7z"/>
<path class="q45" d="M609 206l8-8 7-4-9 6z"/>
<path class="q46" d="M617 198l9-5 8-3 6 0-8 1-8 3z"/>
<path class="q47" d="M634 190l8 0 9 3 6 3-8-5-9-1z"/>
<path class="q46" d="M651 193l8 5 6 4-8-6z"/>
<path class="q45" d="M659 198l9 8 6 5-9-9z"/>
<path class="q44" d="M668 206l8 10 6 6-8-11z"/>
<path class="q42" d="M676 216l8 12 6 7-8-13z"/>
<path class="q41" d="M684 228l9 13 6 7-9-13z"/>
<path class="q39" d="M693 241l8 14 6 7-8-14z"/>
<path class="q37" d="M701 255l8 15 6 6-8-14z"/>
<path class="q35" d="M709 270l9 15 6 6-9-15z"/>
<path class="q32" d="M718 285l8 14 6 6-8-14z"/>
<path class="q30" d="M726 299l8 15 6 5-8-14z"/>
<path class="q28" d="M734 314l9 14 6 5-9-14z"/>
<path class="q26" d="M743 328l8 14 6 4-8-13z"/>
<path class="q25" d="M751 342l8 13 6 4-8-13z"/>
<path class="q23" d="M759 355l9 14 6 4-9-14z"/>
<path class="q21" d="M768 369l8 14 6 4-8-14z"/>
<path class="q20" d="M302 291l9 14 6 5-9-14z"/>
<path class="q18" d="M311 305l8 15 6 4-8-14z"/>
<path class="q16" d="M319 320l8 14 7 5-9-15z"/>
<path class="q14" d="M327 334l9 15 6 4-8-14z"/>
<path class="q12" d="M336 349l8 15 6 4-8-15z"/>
<path class="q9" d="M344 364l8 15 7 3-9-14z"/>
<path class="q7" d="M352 379l9 14 6 3-8-14z"/>
<path class="q6" d="M361 393l8 14 6 1-8-12z"/>
<path class="q4" d="M369 407l9 11 6 0-9-10z"/>
<path class="q2" d="M378 418l8 10 6-2-8-8z"/>
<path class="q1" d="M386 428l8 8 9 5 8 2 8-1 6-9-8 3-8-1-9-3-8-6z"/>
<path class="q2" d="M419 442l9-3 6-10-9 4z"/>
<path class="q3" d="M428 439l8-6 6-11-8 7z"/>
<path class="q4" d="M436 433l8-8 6-12-8 9z"/>
<path class="q6" d="M444 425l9-9 6-13-9 10z"/>
<path class="q8" d="M453 416l8-11 6-13-8 11z"/>
<path class="q10" d="M461 405l8-11 6-13-8 11z"/>
<path class="q12" d="M469 394l9-12 6-13-9 12z"/>
<path class="q14" d="M478 382l8-12 6-13-8 12z"/>
<path class="q16" d="M486 370l8-12 7-12-9 11z"/>
<path class="q18" d="M494 358l9-11 6-12-8 11z"/>
<path class="q20" d="M503 347l8-11 6-12-8 11z"/>
<path class="q22" d="M511 336l8-11 7-11-9 10z"/>
<path class="q24" d="M519 325l9-11 6-11-8 11z"/>
<path class="q26" d="M528 314l8-10 6-11-8 10z"/>
<path class="q28" d="M536 304l9-11 6-11-9 11z"/>
<path class="q30" d="M545 293l8-11 6-11-8 11z"/>
<path class="q32" d="M553 282l8-12 6-11-8 12z"/>
<path class="q34" d="M561 270l9-12 6-11-9 12z"/>
<path class="q36" d="M570 258l8-12 6-10-8 11z"/>
<path class="q39" d="M578 246l8-11 6-10-8 11z"/>
<path class="q41" d="M586 235l9-12 6-8-9 10z"/>
<path class="q42" d="M595 223l8-10 6-7-8 9z"/>
<path class="q44" d="M603 213l8-8 6-7-8 8z"/>
<path class="q46" d="M611 205l9-7 6-5-9 5z"/>
<path class="q47" d="M620 198l8-5 8-1 9 1 8 3 6 2-8-5-9-3-8 0-8 3z"/>
<path class="q46" d="M653 196l8 7 7 3-9-8z"/>
<path class="q45" d="M661 203l9 8 6 5-8-10z"/>
<path class="q44" d="M670 211l8 11 6 6-8-12z"/>
<path class="q42" d="M678 222l8 13 7 6-9-13z"/>
<path class="q40" d="M686 235l9 14 6 6-8-14z"/>
<path class="q38" d="M695 249l8 15 6 6-8-15z"/>
<path class="q36" d="M703 264l9 15 6 6-9-15z"/>
<path class="q34" d="M712 279l8 15 6 5-8-14z"/>
<path class="q32" d="M720 294l8 14 6 6-8-15z"/>
<path class="q30" d="M728 308l9 15 6 5-9-14z"/>
<path class="q28" d="M737 323l8 14 6 5-8-14z"/>
<path class="q26" d="M745 337l8 14 6 4-8-13z"/>
<path class="q24" d="M753 351l9 14 6 4-9-14z"/>
<path class="q22" d="M762 365l8 13 6 5-8-14z"/>
<path class="q21" d="M296 287l9 14 6 4-9-14z"/>
<path class="q19" d="M305 301l8 14 6 5-8-15z"/>
<path class="q17" d="M313 315l8 15 6 4-8-14z"/>
<path class="q15" d="M321 330l9 15 6 4-9-15z"/>
<path class="q13" d="M330 345l8 15 6 4-8-15z"/>
<path class="q11" d="M338 360l8 15 6 4-8-15z"/>
<path class="q8" d="M346 375l9 15 6 3-9-14z"/>
<path class="q6" d="M355 390l8 14 6 3-8-14z"/>
<path class="q5" d="M363 404l8 13 7 1-9-11z"/>
<path class="q3" d="M371 417l9 11 6 0-8-10z"/>
<path class="q2" d="M380 428l8 9 6-1-8-8z"/>
<path class="q1" d="M388 437l8 7 7-3-9-5z"/>
<path class="q0" d="M396 444l9 4 8 1 6-7-8 1-8-2z"/>
<path class="q1" d="M413 449l9-2 6-8-9 3z"/>
<path class="q2" d="M422 447l8-4 6-10-8 6z"/>
<path class="q3" d="M430 443l8-7 6-11-8 8z"/>
<path class="q4" d="M438 436l9-8 6-12-9 9z"/>
<path class="q6" d="M447 428l8-10 6-13-8 11z"/>
<path class="q8" d="M455 418l8-12 6-12-8 11z"/>
<path class="q10" d="M463 406l9-11 6-13-9 12z"/>
<path class="q13" d="M472 395l8-13 6-12-8 12z"/>
<path class="q15" d="M480 382l8-12 6-12-8 12z"/>
<path class="q17" d="M488 370l9-11 6-12-9 11z"/>
<path class="q19" d="M497 359l8-12 6-11-8 11z"/>
<path class="q21" d="M505 347l8-11 6-11-8 11z"/>
<path class="q23" d="M513 336l9-10 6-12-9 11z"/>
<path class="q25" d="M522 326l8-11 6-11-8 10z"/>
<path class="q27" d="M530 315l8-11 7-11-9 11z"/>
<path class="q29" d="M538 304l9-11 6-11-8 11z"/>
<path class="q31" d="M547 293l8-12 6-11-8 12z"/>
<path class="q33" d="M555 281l8-11 7-12-9 12z"/>
<path class="q35" d="M563 270l9-12 6-12-8 12z"/>
<path class="q37" d="M572 258l8-12 6-11-8 11z"/>
<path class="q40" d="M580 246l9-12 6-11-9 12z"/>
<path class="q42" d="M589 234l8-11 6-10-8 10z"/>
<path class="q43" d="M597 223l8-10 6-8-8 8z"/>
<path class="q45" d="M605 213l9-8 6-7-9 7z"/>
<path class="q46" d="M614 205l8-6 6-6-8 5z"/>
<path class="q47" d="M622 199l8-4 6-3-8 1z"/>
<path class="q48" d="M630 195l9-1 8 2 6 0-8-3-9-1z"/>
<path class="q47" d="M647 196l8 5 6 2-8-7z"/>
<path class="q46" d="M655 201l9 7 6 3-9-8z"/>
<path class="q45" d="M664 208l8 10 6 4-8-11z"/>
<path class="q44" d="M672 218l8 12 6 5-8-13z"/>
<path class="q42" d="M680 230l9 13 6 6-9-14z"/>
<path class="q40" d="M689 243l8 15 6 6-8-15z"/>
<path class="q38" d="M697 258l8 15 7 6-9-15z"/>
<path class="q35" d="M705 273l9 15 6 6-8-15z"/>
<path class="q33" d="M714 288l8 15 6 5-8-14z"/>
<path class="q31" d="M722 303l8 15 7 5-9-15z"/>
<path class="q29" d="M730 318l9 14 6 5-8-14z"/>
<path class="q27" d="M739 332l8 14 6 5-8-14z"/>
<path class="q25" d="M747 346l9 14 6 5-9-14z"/>
<path class="q23" d="M756 360l8 14 6 4-8-13z"/>
<path class="q22" d="M290 282l9 14 6 5-9-14z"/>
<path class="q20" d="M299 296l8 14 6 5-8-14z"/>
<path class="q18" d="M307 310l8 15 6 5-8-15z"/>
<path class="q16" d="M315 325l9 15 6 5-9-15z"/>
<path class="q14" d="M324 340l8 15 6 5-8-15z"/>
<path class="q12" d="M332 355l8 15 6 5-8-15z"/>
<path class="q10" d="M340 370l9 15 6 5-9-15z"/>
<path class="q8" d="M349 385l8 15 6 4-8-14z"/>
<path class="q6" d="M357 400l8 13 6 4-8-13z"/>
<path class="q4" d="M365 413l9 13 6 2-9-11z"/>
<path class="q2" d="M374 426l8 11 6 0-8-9z"/>
<path class="q1" d="M382 437l8 8 6-1-8-7z"/>
<path class="q0" d="M390 445l9 6 8 3 8 0 7-7-9 2-8-1-9-4z"/>
<path class="q1" d="M415 454l9-3 6-8-8 4z"/>
<path class="q2" d="M424 451l8-5 6-10-8 7z"/>
<path class="q3" d="M432 446l9-8 6-10-9 8z"/>
<path class="q5" d="M441 438l8-9 6-11-8 10z"/>
<path class="q7" d="M449 429l8-11 6-12-8 12z"/>
<path class="q9" d="M457 418l9-11 6-12-9 11z"/>
<path class="q11" d="M466 407l8-12 6-13-8 13z"/>
<path class="q13" d="M474 395l8-12 6-13-8 12z"/>
<path class="q15" d="M482 383l9-12 6-12-9 11z"/>
<path class="q18" d="M491 371l8-12 6-12-8 12z"/>
<path class="q20" d="M499 359l8-11 6-12-8 11z"/>
<path class="q22" d="M507 348l9-11 6-11-9 10z"/>
<path class="q24" d="M516 337l8-11 6-11-8 11z"/>
<path class="q26" d="M524 326l8-11 6-11-8 11z"/>
<path class="q28" d="M532 315l9-11 6-11-9 11z"/>
<path class="q30" d="M541 304l8-11 6-12-8 12z"/>
<path class="q32" d="M549 293l8-12 6-11-8 11z"/>
<path class="q34" d="M557 281l9-12 6-11-9 12z"/>
<path class="q36" d="M566 269l8-12 6-11-8 12z"/>
<path class="q38" d="M574 257l8-12 7-11-9 12z"/>
<path class="q40" d="M582 245l9-11 6-11-8 11z"/>
<path class="q42" d="M591 234l8-11 6-10-8 10z"/>
<path class="q44" d="M599 223l8-9 7-9-9 8z"/>
<path class="q46" d="M607 214l9-8 6-7-8 6z"/>
<path class="q47" d="M616 206l8-5 6-6-8 4z"/>
<path class="q48" d="M624 201l9-3 8 0 8 3 6 0-8-5-8-2-9 1z"/>
<path class="q47" d="M649 201l9 6 6 1-9-7z"/>
<path class="q46" d="M658 207l8 8 6 3-8-10z"/>
<path class="q45" d="M666 215l8 11 6 4-8-12z"/>
<path class="q43" d="M674 226l9 13 6 4-9-13z"/>
<path class="q41" d="M683 239l8 13 6 6-8-15z"/>
<path class="q39" d="M691 252l8 15 6 6-8-15z"/>
<path class="q37" d="M699 267l9 15 6 6-9-15z"/>
<path class="q35" d="M708 282l8 15 6 6-8-15z"/>
<path class="q33" d="M716 297l8 15 6 6-8-15z"/>
<path class="q30" d="M724 312l9 15 6 5-9-14z"/>
<path class="q28" d="M733 327l8 15 6 4-8-14z"/>
<path class="q26" d="M741 342l8 14 7 4-9-14z"/>
<path class="q24" d="M749 356l9 14 6 4-8-14z"/>
<path class="q24" d="M284 278l8 14 7 4-9-14z"/>
<path class="q22" d="M292 292l9 14 6 4-8-14z"/>
<path class="q20" d="M301 306l8 14 6 5-8-15z"/>
<path class="q18" d="M309 320l9 14 6 6-9-15z"/>
<path class="q15" d="M318 334l8 15 6 6-8-15z"/>
<path class="q13" d="M326 349l8 15 6 6-8-15z"/>
<path class="q11" d="M334 364l9 15 6 6-9-15z"/>
<path class="q9" d="M343 379l8 15 6 6-8-15z"/>
<path class="q7" d="M351 394l8 15 6 4-8-13z"/>
<path class="q5" d="M359 409l9 13 6 4-9-13z"/>
<path class="q3" d="M368 422l8 12 6 3-8-11z"/>
<path class="q2" d="M376 434l8 10 6 1-8-8z"/>
<path class="q1" d="M384 444l9 7 6 0-9-6z"/>
<path class="q0" d="M393 451l8 5 8 2 9-1 6-6-9 3-8 0-8-3z"/>
<path class="q1" d="M418 457l8-4 6-7-8 5z"/>
<path class="q2" d="M426 453l8-6 7-9-9 8z"/>
<path class="q4" d="M434 447l9-8 6-10-8 9z"/>
<path class="q6" d="M443 439l8-10 6-11-8 11z"/>
<path class="q8" d="M451 429l8-11 7-11-9 11z"/>
<path class="q10" d="M459 418l9-12 6-11-8 12z"/>
<path class="q12" d="M468 406l8-12 6-11-8 12z"/>
<path class="q14" d="M476 394l9-12 6-11-9 12z"/>
<path class="q16" d="M485 382l8-11 6-12-8 12z"/>
<path class="q18" d="M493 371l8-12 6-11-8 11z"/>
<path class="q20" d="M501 359l9-11 6-11-9 11z"/>
<path class="q22" d="M510 348l8-11 6-11-8 11z"/>
<path class="q24" d="M518 337l8-11 6-11-8 11z"/>
<path class="q26" d="M526 326l9-10 6-12-9 11z"/>
<path class="q28" d="M535 316l8-11 6-12-8 11z"/>
<path class="q30" d="M543 305l8-12 6-12-8 12z"/>
<path class="q33" d="M551 293l9-11 6-13-9 12z"/>
<path class="q35" d="M560 282l8-12 6-13-8 12z"/>
<path class="q37" d="M568 270l8-13 6-12-8 12z"/>
<path class="q39" d="M576 257l9-11 6-12-9 11z"/>
<path class="q41" d="M585 246l8-12 6-11-8 11z"/>
<path class="q43" d="M593 234l8-10 6-10-8 9z"/>
<path class="q45" d="M601 224l9-8 6-10-9 8z"/>
<path class="q46" d="M610 216l8-7 6-8-8 5z"/>
<path class="q47" d="M618 209l8-4 7-7-9 3z"/>
<path class="q48" d="M626 205l9-2 8 1 9 4 6-1-9-6-8-3-8 0z"/>
<path class="q47" d="M652 208l8 7 6 0-8-8z"/>
<path class="q46" d="M660 215l8 9 6 2-8-11z"/>
<path class="q44" d="M668 224l9 11 6 4-9-13z"/>
<path class="q42" d="M677 235l8 13 6 4-8-13z"/>
<path class="q40" d="M685 248l8 14 6 5-8-15z"/>
<path class="q38" d="M693 262l9 15 6 5-9-15z"/>
<path class="q36" d="M702 277l8 15 6 5-8-15z"/>
<path class="q34" d="M710 292l8 15 6 5-8-15z"/>
<path class="q32" d="M718 307l9 15 6 5-9-15z"/>
<path class="q30" d="M727 322l8 15 6 5-8-15z"/>
<path class="q28" d="M735 337l8 14 6 5-8-14z"/>
<path class="q26" d="M743 351l9 14 6 5-9-14z"/>
<path class="q25" d="M278 274l8 13 6 5-8-14z"/>
<path class="q23" d="M286 287l9 14 6 5-9-14z"/>
<path class="q21" d="M295 301l8 14 6 5-8-14z"/>
<path class="q19" d="M303 315l8 14 7 5-9-14z"/>
<path class="q17" d="M311 329l9 15 6 5-8-15z"/>
<path class="q15" d="M320 344l8 14 6 6-8-15z"/>
<path class="q13" d="M328 358l8 15 7 6-9-15z"/>
<path class="q10" d="M336 373l9 15 6 6-8-15z"/>
<path class="q8" d="M345 388l8 15 6 6-8-15z"/>
<path class="q6" d="M353 403l9 14 6 5-9-13z"/>
<path class="q4" d="M362 417l8 13 6 4-8-12z"/>
<path class="q3" d="M370 430l8 11 6 3-8-10z"/>
<path class="q2" d="M378 441l9 8 6 2-9-7z"/>
<path class="q1" d="M387 449l8 7 6 0-8-5z"/>
<path class="q0" d="M395 456l8 3 9 1 6-3-9 1-8-2z"/>
<path class="q1" d="M412 460l8-1 6-6-8 4z"/>
<path class="q2" d="M420 459l8-5 6-7-8 6z"/>
<path class="q3" d="M428 454l9-7 6-8-9 8z"/>
<path class="q5" d="M437 447l8-8 6-10-8 10z"/>
<path class="q6" d="M445 439l8-10 6-11-8 11z"/>
<path class="q8" d="M453 429l9-12 6-11-9 12z"/>
<path class="q11" d="M462 417l8-11 6-12-8 12z"/>
<path class="q13" d="M470 406l8-12 7-12-9 12z"/>
<path class="q15" d="M478 394l9-12 6-11-8 11z"/>
<path class="q17" d="M487 382l8-12 6-11-8 12z"/>
<path class="q19" d="M495 370l8-11 7-11-9 11z"/>
<path class="q21" d="M503 359l9-11 6-11-8 11z"/>
<path class="q23" d="M512 348l8-10 6-12-8 11z"/>
<path class="q25" d="M520 338l9-11 6-11-9 10z"/>
<path class="q27" d="M529 327l8-11 6-11-8 11z"/>
<path class="q29" d="M537 316l8-11 6-12-8 12z"/>
<path class="q31" d="M545 305l9-11 6-12-9 11z"/>
<path class="q33" d="M554 294l8-12 6-12-8 12z"/>
<path class="q35" d="M562 282l8-12 6-13-8 13z"/>
<path class="q38" d="M570 270l9-12 6-12-9 11z"/>
<path class="q40" d="M579 258l8-11 6-13-8 12z"/>
<path class="q42" d="M587 247l8-11 6-12-8 10z"/>
<path class="q44" d="M595 236l9-9 6-11-9 8z"/>
<path class="q45" d="M604 227l8-8 6-10-8 7z"/>
<path class="q46" d="M612 219l8-6 6-8-8 4z"/>
<path class="q47" d="M620 213l9-3 6-7-9 2z"/>
<path class="q48" d="M629 210l8-1 8 2 7-3-9-4-8-1z"/>
<path class="q47" d="M645 211l9 5 6-1-8-7z"/>
<path class="q46" d="M654 216l8 8 6 0-8-9z"/>
<path class="q45" d="M662 224l8 10 7 1-9-11z"/>
<path class="q43" d="M670 234l9 11 6 3-8-13z"/>
<path class="q42" d="M679 245l8 14 6 3-8-14z"/>
<path class="q40" d="M687 259l9 14 6 4-9-15z"/>
<path class="q37" d="M696 273l8 15 6 4-8-15z"/>
<path class="q35" d="M704 288l8 15 6 4-8-15z"/>
<path class="q33" d="M712 303l9 15 6 4-9-15z"/>
<path class="q31" d="M721 318l8 14 6 5-8-15z"/>
<path class="q29" d="M729 332l8 15 6 4-8-14z"/>
<path class="q27" d="M737 347l9 14 6 4-9-14z"/>
<path class="q26" d="M272 269l8 14 6 4-8-13z"/>
<path class="q24" d="M280 283l9 14 6 4-9-14z"/>
<path class="q22" d="M289 297l8 13 6 5-8-14z"/>
<path class="q20" d="M297 310l8 14 6 5-8-14z"/>
<path class="q18" d="M305 324l9 14 6 6-9-15z"/>
<path class="q16" d="M314 338l8 15 6 5-8-14z"/>
<path class="q14" d="M322 353l8 14 6 6-8-15z"/>
<path class="q12" d="M330 367l9 15 6 6-9-15z"/>
<path class="q10" d="M339 382l8 15 6 6-8-15z"/>
<path class="q8" d="M347 397l8 14 7 6-9-14z"/>
<path class="q6" d="M355 411l9 13 6 6-8-13z"/>
<path class="q4" d="M364 424l8 12 6 5-8-11z"/>
<path class="q3" d="M372 436l8 10 7 3-9-8z"/>
<path class="q2" d="M380 446l9 8 6 2-8-7z"/>
<path class="q1" d="M389 454l8 5 9 3 8 0 8-3 6-5-8 5-8 1-9-1-8-3z"/>
<path class="q2" d="M422 459l9-5 6-7-9 7z"/>
<path class="q4" d="M431 454l8-8 6-7-8 8z"/>
<path class="q6" d="M439 446l8-9 6-8-8 10z"/>
<path class="q7" d="M447 437l9-10 6-10-9 12z"/>
<path class="q9" d="M456 427l8-11 6-10-8 11z"/>
<path class="q12" d="M464 416l8-11 6-11-8 12z"/>
<path class="q14" d="M472 405l9-12 6-11-9 12z"/>
<path class="q16" d="M481 393l8-12 6-11-8 12z"/>
<path class="q18" d="M489 381l8-11 6-11-8 11z"/>
<path class="q20" d="M497 370l9-11 6-11-9 11z"/>
<path class="q22" d="M506 359l8-10 6-11-8 10z"/>
<path class="q24" d="M514 349l8-11 7-11-9 11z"/>
<path class="q26" d="M522 338l9-10 6-12-8 11z"/>
<path class="q28" d="M531 328l8-11 6-12-8 11z"/>
<path class="q30" d="M539 317l8-11 7-12-9 11z"/>
<path class="q32" d="M547 306l9-11 6-13-8 12z"/>
<path class="q34" d="M556 295l8-12 6-13-8 12z"/>
<path class="q36" d="M564 283l9-12 6-13-9 12z"/>
<path class="q38" d="M573 271l8-11 6-13-8 11z"/>
<path class="q40" d="M581 260l8-11 6-13-8 11z"/>
<path class="q42" d="M589 249l9-10 6-12-9 9z"/>
<path class="q44" d="M598 239l8-9 6-11-8 8z"/>
<path class="q45" d="M606 230l8-7 6-10-8 6z"/>
<path class="q46" d="M614 223l9-4 6-9-9 3z"/>
<path class="q47" d="M623 219l8-3 8 1 9 3 8 6 6-2-8-8-9-5-8-2-8 1z"/>
<path class="q46" d="M656 226l8 8 6 0-8-10z"/>
<path class="q44" d="M664 234l9 10 6 1-9-11z"/>
<path class="q42" d="M673 244l8 12 6 3-8-14z"/>
<path class="q41" d="M681 256l8 14 7 3-9-14z"/>
<path class="q39" d="M689 270l9 14 6 4-8-15z"/>
<path class="q36" d="M698 284l8 15 6 4-8-15z"/>
<path class="q34" d="M706 299l8 14 7 5-9-15z"/>
<path class="q32" d="M714 313l9 15 6 4-8-14z"/>
<path class="q30" d="M723 328l8 14 6 5-8-15z"/>
<path class="q28" d="M731 342l9 14 6 5-9-14z"/>
<path class="q27" d="M266 265l8 14 6 4-8-14z"/>
<path class="q25" d="M274 279l9 14 6 4-9-14z"/>
<path class="q23" d="M283 293l8 13 6 4-8-13z"/>
<path class="q22" d="M291 306l8 13 6 5-8-14z"/>
<path class="q20" d="M299 319l9 14 6 5-9-14z"/>
<path class="q18" d="M308 333l8 14 6 6-8-15z"/>
<path class="q16" d="M316 347l8 14 6 6-8-14z"/>
<path class="q13" d="M324 361l9 15 6 6-9-15z"/>
<path class="q11" d="M333 376l8 14 6 7-8-15z"/>
<path class="q9" d="M341 390l8 14 6 7-8-14z"/>
<path class="q7" d="M349 404l9 13 6 7-9-13z"/>
<path class="q6" d="M358 417l8 13 6 6-8-12z"/>
<path class="q4" d="M366 430l8 11 6 5-8-10z"/>
<path class="q3" d="M374 441l9 9 6 4-9-8z"/>
<path class="q2" d="M383 450l8 6 6 3-8-5z"/>
<path class="q1" d="M391 456l8 5 9 1 6 0-8 0-9-3z"/>
<path class="q2" d="M408 462l8-1 8-3 7-4-9 5-8 3z"/>
<path class="q3" d="M424 458l9-6 6-6-8 8z"/>
<path class="q5" d="M433 452l8-7 6-8-8 9z"/>
<path class="q7" d="M441 445l9-9 6-9-9 10z"/>
<path class="q8" d="M450 436l8-11 6-9-8 11z"/>
<path class="q10" d="M458 425l8-11 6-9-8 11z"/>
<path class="q13" d="M466 414l9-11 6-10-9 12z"/>
<path class="q15" d="M475 403l8-11 6-11-8 12z"/>
<path class="q17" d="M483 392l8-11 6-11-8 11z"/>
<path class="q19" d="M491 381l9-11 6-11-9 11z"/>
<path class="q21" d="M500 370l8-11 6-10-8 10z"/>
<path class="q23" d="M508 359l8-10 6-11-8 11z"/>
<path class="q25" d="M516 349l9-10 6-11-9 10z"/>
<path class="q26" d="M525 339l8-11 6-11-8 11z"/>
<path class="q28" d="M533 328l8-10 6-12-8 11z"/>
<path class="q30" d="M541 318l9-11 6-12-9 11z"/>
<path class="q32" d="M550 307l8-11 6-13-8 12z"/>
<path class="q35" d="M558 296l8-11 7-14-9 12z"/>
<path class="q37" d="M566 285l9-12 6-13-8 11z"/>
<path class="q39" d="M575 273l8-11 6-13-8 11z"/>
<path class="q41" d="M583 262l8-10 7-13-9 10z"/>
<path class="q42" d="M591 252l9-9 6-13-8 9z"/>
<path class="q44" d="M600 243l8-8 6-12-8 7z"/>
<path class="q45" d="M608 235l9-6 6-10-9 4z"/>
<path class="q46" d="M617 229l8-3 6-10-8 3z"/>
<path class="q47" d="M625 226l8-2 9 2 6-6-9-3-8-1z"/>
<path class="q46" d="M642 226l8 4 8 6 6-2-8-8-8-6z"/>
<path class="q45" d="M658 236l9 9 6-1-9-10z"/>
<path class="q43" d="M667 245l8 11 6 0-8-12z"/>
<path class="q41" d="M675 256l8 12 6 2-8-14z"/>
<path class="q40" d="M683 268l9 14 6 2-9-14z"/>
<path class="q38" d="M692 282l8 14 6 3-8-15z"/>
<path class="q35" d="M700 296l8 14 6 3-8-14z"/>
<path class="q33" d="M708 310l9 14 6 4-9-15z"/>
<path class="q31" d="M717 324l8 15 6 3-8-14z"/>
<path class="q29" d="M725 339l8 13 7 4-9-14z"/>
<path class="q28" d="M260 262l8 13 6 4-8-14z"/>
<path class="q27" d="M268 275l8 14 7 4-9-14z"/>
<path class="q25" d="M276 289l9 13 6 4-8-13z"/>
<path class="q23" d="M285 302l8 13 6 4-8-13z"/>
<path class="q21" d="M293 315l8 13 7 5-9-14z"/>
<path class="q19" d="M301 328l9 14 6 5-8-14z"/>
<path class="q17" d="M310 342l8 13 6 6-8-14z"/>
<path class="q15" d="M318 355l9 14 6 7-9-15z"/>
<path class="q13" d="M327 369l8 14 6 7-8-14z"/>
<path class="q11" d="M335 383l8 14 6 7-8-14z"/>
<path class="q9" d="M343 397l9 13 6 7-9-13z"/>
<path class="q7" d="M352 410l8 13 6 7-8-13z"/>
<path class="q6" d="M360 423l8 11 6 7-8-11z"/>
<path class="q4" d="M368 434l9 10 6 6-9-9z"/>
<path class="q3" d="M377 444l8 8 6 4-8-6z"/>
<path class="q2" d="M385 452l8 6 9 3 8 1 8-2 6-2-8 3-8 1-9-1-8-5z"/>
<path class="q3" d="M418 460l9-4 6-4-9 6z"/>
<path class="q5" d="M427 456l8-6 6-5-8 7z"/>
<path class="q6" d="M435 450l8-8 7-6-9 9z"/>
<path class="q8" d="M443 442l9-9 6-8-8 11z"/>
<path class="q10" d="M452 433l8-10 6-9-8 11z"/>
<path class="q12" d="M460 423l8-11 7-9-9 11z"/>
<path class="q14" d="M468 412l9-10 6-10-8 11z"/>
<path class="q16" d="M477 402l8-11 6-10-8 11z"/>
<path class="q18" d="M485 391l9-11 6-10-9 11z"/>
<path class="q20" d="M494 380l8-10 6-11-8 11z"/>
<path class="q21" d="M502 370l8-10 6-11-8 10z"/>
<path class="q23" d="M510 360l9-10 6-11-9 10z"/>
<path class="q25" d="M519 350l8-10 6-12-8 11z"/>
<path class="q27" d="M527 340l8-11 6-11-8 10z"/>
<path class="q29" d="M535 329l9-10 6-12-9 11z"/>
<path class="q31" d="M544 319l8-10 6-13-8 11z"/>
<path class="q33" d="M552 309l8-11 6-13-8 11z"/>
<path class="q35" d="M560 298l9-11 6-14-9 12z"/>
<path class="q37" d="M569 287l8-11 6-14-8 11z"/>
<path class="q39" d="M577 276l8-10 6-14-8 10z"/>
<path class="q41" d="M585 266l9-10 6-13-9 9z"/>
<path class="q42" d="M594 256l8-8 6-13-8 8z"/>
<path class="q44" d="M602 248l8-7 7-12-9 6z"/>
<path class="q45" d="M610 241l9-4 6-11-8 3z"/>
<path class="q46" d="M619 237l8-3 8 0 9 2 8 5 6-5-8-6-8-4-9-2-8 2z"/>
<path class="q45" d="M652 241l9 7 6-3-9-9z"/>
<path class="q43" d="M661 248l8 9 6-1-8-11z"/>
<path class="q42" d="M669 257l8 11 6 0-8-12z"/>
<path class="q40" d="M677 268l9 12 6 2-9-14z"/>
<path class="q38" d="M686 280l8 14 6 2-8-14z"/>
<path class="q36" d="M694 294l8 13 6 3-8-14z"/>
<path class="q34" d="M702 307l9 14 6 3-9-14z"/>
<path class="q32" d="M711 321l8 14 6 4-8-15z"/>
<path class="q30" d="M719 335l8 14 6 3-8-13z"/>
<path class="q30" d="M254 259l8 13 6 3-8-13z"/>
<path class="q28" d="M262 272l8 13 6 4-8-14z"/>
<path class="q26" d="M270 285l9 13 6 4-9-13z"/>
<path class="q24" d="M279 298l8 13 6 4-8-13z"/>
<path class="q22" d="M287 311l8 13 6 4-8-13z"/>
<path class="q20" d="M295 324l9 13 6 5-9-14z"/>
<path class="q18" d="M304 337l8 13 6 5-8-13z"/>
<path class="q17" d="M312 350l8 13 7 6-9-14z"/>
<path class="q15" d="M320 363l9 13 6 7-8-14z"/>
<path class="q13" d="M329 376l8 14 6 7-8-14z"/>
<path class="q11" d="M337 390l9 13 6 7-9-13z"/>
<path class="q9" d="M346 403l8 13 6 7-8-13z"/>
<path class="q7" d="M354 416l8 11 6 7-8-11z"/>
<path class="q6" d="M362 427l9 11 6 6-9-10z"/>
<path class="q4" d="M371 438l8 8 8 7 6 5-8-6-8-8z"/>
<path class="q3" d="M387 453l9 5 8 2 8 0 6 0-8 2-8-1-9-3z"/>
<path class="q4" d="M412 460l9-2 8-5 6-3-8 6-9 4z"/>
<path class="q6" d="M429 453l8-6 6-5-8 8z"/>
<path class="q7" d="M437 447l9-8 6-6-9 9z"/>
<path class="q9" d="M446 439l8-9 6-7-8 10z"/>
<path class="q11" d="M454 430l8-9 6-9-8 11z"/>
<path class="q13" d="M462 421l9-11 6-8-9 10z"/>
<path class="q15" d="M471 410l8-10 6-9-8 11z"/>
<path class="q17" d="M479 400l8-10 7-10-9 11z"/>
<path class="q18" d="M487 390l9-10 6-10-8 10z"/>
<path class="q20" d="M496 380l8-10 6-10-8 10z"/>
<path class="q22" d="M504 370l8-10 7-10-9 10z"/>
<path class="q24" d="M512 360l9-10 6-10-8 10z"/>
<path class="q26" d="M521 350l8-9 6-12-8 11z"/>
<path class="q28" d="M529 341l9-10 6-12-9 10z"/>
<path class="q30" d="M538 331l8-10 6-12-8 10z"/>
<path class="q31" d="M546 321l8-10 6-13-8 11z"/>
<path class="q33" d="M554 311l9-11 6-13-9 11z"/>
<path class="q35" d="M563 300l8-10 6-14-8 11z"/>
<path class="q37" d="M571 290l8-10 6-14-8 10z"/>
<path class="q39" d="M579 280l9-10 6-14-9 10z"/>
<path class="q41" d="M588 270l8-8 6-14-8 8z"/>
<path class="q42" d="M596 262l8-7 6-14-8 7z"/>
<path class="q44" d="M604 255l9-6 8-4 6-11-8 3-9 4z"/>
<path class="q45" d="M621 245l8-1 9 0 8 4 6-7-8-5-9-2-8 0z"/>
<path class="q44" d="M646 248l8 5 9 8 6-4-8-9-9-7z"/>
<path class="q42" d="M663 261l8 9 6-2-8-11z"/>
<path class="q41" d="M671 270l8 11 7-1-9-12z"/>
<path class="q39" d="M679 281l9 12 6 1-8-14z"/>
<path class="q37" d="M688 293l8 13 6 1-8-13z"/>
<path class="q35" d="M696 306l9 13 6 2-9-14z"/>
<path class="q33" d="M705 319l8 14 6 2-8-14z"/>
<path class="q31" d="M713 333l8 13 6 3-8-14z"/>
<path class="q31" d="M248 257l8 13 6 2-8-13z"/>
<path class="q29" d="M256 270l8 12 6 3-8-13z"/>
<path class="q27" d="M264 282l9 13 6 3-9-13z"/>
<path class="q25" d="M273 295l8 12 6 4-8-13z"/>
<path class="q23" d="M281 307l8 13 6 4-8-13z"/>
<path class="q22" d="M289 320l9 12 6 5-9-13z"/>
<path class="q20" d="M298 332l8 13 6 5-8-13z"/>
<path class="q18" d="M306 345l8 12 6 6-8-13z"/>
<path class="q16" d="M314 357l9 13 6 6-9-13z"/>
<path class="q14" d="M323 370l8 13 6 7-8-14z"/>
<path class="q12" d="M331 383l8 13 7 7-9-13z"/>
<path class="q11" d="M339 396l9 12 6 8-8-13z"/>
<path class="q9" d="M348 408l8 12 6 7-8-11z"/>
<path class="q7" d="M356 420l8 10 7 8-9-11z"/>
<path class="q6" d="M364 430l9 10 6 6-8-8z"/>
<path class="q5" d="M373 440l8 7 6 6-8-7z"/>
<path class="q4" d="M381 447l9 6 8 4 8 1 9 0 6 0-9 2-8 0-8-2-9-5z"/>
<path class="q5" d="M415 458l8-3 6-2-8 5z"/>
<path class="q6" d="M423 455l8-5 6-3-8 6z"/>
<path class="q7" d="M431 450l9-6 6-5-9 8z"/>
<path class="q9" d="M440 444l8-8 6-6-8 9z"/>
<path class="q10" d="M448 436l8-9 6-6-8 9z"/>
<path class="q12" d="M456 427l9-9 6-8-9 11z"/>
<path class="q14" d="M465 418l8-10 6-8-8 10z"/>
<path class="q16" d="M473 408l8-9 6-9-8 10z"/>
<path class="q17" d="M481 399l9-10 6-9-9 10z"/>
<path class="q19" d="M490 389l8-10 6-9-8 10z"/>
<path class="q21" d="M498 379l8-9 6-10-8 10z"/>
<path class="q23" d="M506 370l9-9 6-11-9 10z"/>
<path class="q25" d="M515 361l8-10 6-10-8 9z"/>
<path class="q26" d="M523 351l8-9 7-11-9 10z"/>
<path class="q28" d="M531 342l9-9 6-12-8 10z"/>
<path class="q30" d="M540 333l8-10 6-12-8 10z"/>
<path class="q32" d="M548 323l8-10 7-13-9 11z"/>
<path class="q34" d="M556 313l9-9 6-14-8 10z"/>
<path class="q36" d="M565 304l8-10 6-14-8 10z"/>
<path class="q37" d="M573 294l9-9 6-15-9 10z"/>
<path class="q39" d="M582 285l8-9 6-14-8 8z"/>
<path class="q41" d="M590 276l8-7 6-14-8 7z"/>
<path class="q42" d="M598 269l9-7 6-13-9 6z"/>
<path class="q43" d="M607 262l8-4 6-13-8 4z"/>
<path class="q44" d="M615 258l8-3 9 0 8 1 8 4 6-7-8-5-8-4-9 0-8 1z"/>
<path class="q43" d="M648 260l9 6 6-5-9-8z"/>
<path class="q42" d="M657 266l8 8 6-4-8-9z"/>
<path class="q41" d="M665 274l8 9 6-2-8-11z"/>
<path class="q39" d="M673 283l9 11 6-1-9-12z"/>
<path class="q38" d="M682 294l8 12 6 0-8-13z"/>
<path class="q36" d="M690 306l8 12 7 1-9-13z"/>
<path class="q34" d="M698 318l9 13 6 2-8-14z"/>
<path class="q32" d="M707 331l8 13 6 2-8-13z"/>
<path class="q31" d="M241 256l9 12 6 2-8-13z"/>
<path class="q30" d="M250 268l8 12 6 2-8-12z"/>
<path class="q28" d="M258 280l9 12 6 3-9-13z"/>
<path class="q26" d="M267 292l8 12 6 3-8-12z"/>
<path class="q24" d="M275 304l8 12 6 4-8-13z"/>
<path class="q23" d="M283 316l9 12 6 4-9-12z"/>
<path class="q21" d="M292 328l8 12 6 5-8-13z"/>
<path class="q19" d="M300 340l8 12 6 5-8-12z"/>
<path class="q18" d="M308 352l9 12 6 6-9-13z"/>
<path class="q16" d="M317 364l8 13 6 6-8-13z"/>
<path class="q14" d="M325 377l8 12 6 7-8-13z"/>
<path class="q12" d="M333 389l9 12 6 7-9-12z"/>
<path class="q11" d="M342 401l8 11 6 8-8-12z"/>
<path class="q9" d="M350 412l8 11 6 7-8-10z"/>
<path class="q8" d="M358 423l9 9 6 8-9-10z"/>
<path class="q7" d="M367 432l8 9 6 6-8-7z"/>
<path class="q6" d="M375 441l8 6 7 6-9-6z"/>
<path class="q5" d="M383 447l9 5 8 3 8 0 9-1 6 1-8 3-9 0-8-1-8-4z"/>
<path class="q6" d="M417 454l8-3 6-1-8 5z"/>
<path class="q7" d="M425 451l9-5 6-2-9 6z"/>
<path class="q8" d="M434 446l8-6 6-4-8 8z"/>
<path class="q10" d="M442 440l8-7 6-6-8 9z"/>
<path class="q11" d="M450 433l9-9 6-6-9 9z"/>
<path class="q13" d="M459 424l8-8 6-8-8 10z"/>
<path class="q15" d="M467 416l8-9 6-8-8 9z"/>
<path class="q17" d="M475 407l9-10 6-8-9 10z"/>
<path class="q18" d="M484 397l8-9 6-9-8 10z"/>
<path class="q20" d="M492 388l8-9 6-9-8 9z"/>
<path class="q22" d="M500 379l9-9 6-9-9 9z"/>
<path class="q24" d="M509 370l8-8 6-11-8 10z"/>
<path class="q25" d="M517 362l8-9 6-11-8 9z"/>
<path class="q27" d="M525 353l9-9 6-11-9 9z"/>
<path class="q29" d="M534 344l8-9 6-12-8 10z"/>
<path class="q30" d="M542 335l8-9 6-13-8 10z"/>
<path class="q32" d="M550 326l9-9 6-13-9 9z"/>
<path class="q34" d="M559 317l8-9 6-14-8 10z"/>
<path class="q36" d="M567 308l8-9 7-14-9 9z"/>
<path class="q37" d="M575 299l9-9 6-14-8 9z"/>
<path class="q39" d="M584 290l8-7 6-14-8 7z"/>
<path class="q40" d="M592 283l9-7 6-14-9 7z"/>
<path class="q41" d="M601 276l8-5 6-13-8 4z"/>
<path class="q42" d="M609 271l8-3 6-13-8 3z"/>
<path class="q43" d="M617 268l9-2 8 0 8 3 9 4 6-7-9-6-8-4-8-1-9 0z"/>
<path class="q42" d="M651 273l8 6 6-5-8-8z"/>
<path class="q41" d="M659 279l8 8 6-4-8-9z"/>
<path class="q40" d="M667 287l9 10 6-3-9-11z"/>
<path class="q38" d="M676 297l8 10 6-1-8-12z"/>
<path class="q37" d="M684 307l8 12 6-1-8-12z"/>
<path class="q35" d="M692 319l9 12 6 0-9-13z"/>
<path class="q33" d="M701 331l8 12 6 1-8-13z"/>
<path class="q32" d="M235 256l9 11 6 1-9-12z"/>
<path class="q30" d="M244 267l8 12 6 1-8-12z"/>
<path class="q29" d="M252 279l8 11 7 2-9-12z"/>
<path class="q27" d="M260 290l9 12 6 2-8-12z"/>
<path class="q25" d="M269 302l8 11 6 3-8-12z"/>
<path class="q24" d="M277 313l8 12 7 3-9-12z"/>
<path class="q22" d="M285 325l9 11 6 4-8-12z"/>
<path class="q21" d="M294 336l8 12 6 4-8-12z"/>
<path class="q19" d="M302 348l9 11 6 5-9-12z"/>
<path class="q17" d="M311 359l8 12 6 6-8-13z"/>
<path class="q16" d="M319 371l8 11 6 7-8-12z"/>
<path class="q14" d="M327 382l9 12 6 7-9-12z"/>
<path class="q12" d="M336 394l8 11 6 7-8-11z"/>
<path class="q11" d="M344 405l8 10 6 8-8-11z"/>
<path class="q9" d="M352 415l9 10 6 7-9-9z"/>
<path class="q8" d="M361 425l8 8 6 8-8-9z"/>
<path class="q7" d="M369 433l8 8 9 5 6 6-9-5-8-6z"/>
<path class="q6" d="M386 446l8 4 8 2 9 0 6 2-9 1-8 0-8-3z"/>
<path class="q7" d="M411 452l8-2 6 1-8 3z"/>
<path class="q8" d="M419 450l8-3 7-1-9 5z"/>
<path class="q9" d="M427 447l9-5 6-2-8 6z"/>
<path class="q10" d="M436 442l8-6 6-3-8 7z"/>
<path class="q11" d="M444 436l8-7 7-5-9 9z"/>
<path class="q13" d="M452 429l9-8 6-5-8 8z"/>
<path class="q14" d="M461 421l8-8 6-6-8 9z"/>
<path class="q16" d="M469 413l9-8 6-8-9 10z"/>
<path class="q18" d="M478 405l8-9 6-8-8 9z"/>
<path class="q19" d="M486 396l8-8 6-9-8 9z"/>
<path class="q21" d="M494 388l9-9 6-9-9 9z"/>
<path class="q23" d="M503 379l8-8 6-9-8 8z"/>
<path class="q24" d="M511 371l8-8 6-10-8 9z"/>
<path class="q26" d="M519 363l9-9 6-10-9 9z"/>
<path class="q27" d="M528 354l8-8 6-11-8 9z"/>
<path class="q29" d="M536 346l8-8 6-12-8 9z"/>
<path class="q31" d="M544 338l9-9 6-12-9 9z"/>
<path class="q32" d="M553 329l8-8 6-13-8 9z"/>
<path class="q34" d="M561 321l8-9 6-13-8 9z"/>
<path class="q36" d="M569 312l9-8 6-14-9 9z"/>
<path class="q37" d="M578 304l8-7 6-14-8 7z"/>
<path class="q39" d="M586 297l8-6 7-15-9 7z"/>
<path class="q40" d="M594 291l9-6 6-14-8 5z"/>
<path class="q41" d="M603 285l8-4 8-2 7-13-9 2-8 3z"/>
<path class="q42" d="M619 279l9-1 8 1 9 3 6-9-9-4-8-3-8 0z"/>
<path class="q41" d="M645 282l8 5 6-8-8-6z"/>
<path class="q40" d="M653 287l8 6 6-6-8-8z"/>
<path class="q39" d="M661 293l9 8 6-4-9-10z"/>
<path class="q38" d="M670 301l8 9 6-3-8-10z"/>
<path class="q37" d="M678 310l8 11 6-2-8-12z"/>
<path class="q35" d="M686 321l9 10 6 0-9-12z"/>
<path class="q34" d="M695 331l8 12 6 0-8-12z"/>
<path class="q33" d="M229 257l9 10 6 0-9-11z"/>
<path class="q31" d="M238 267l8 11 6 1-8-12z"/>
<path class="q29" d="M246 278l8 11 6 1-8-11z"/>
<path class="q28" d="M254 289l9 11 6 2-9-12z"/>
<path class="q26" d="M263 300l8 11 6 2-8-11z"/>
<path class="q25" d="M271 311l8 11 6 3-8-12z"/>
<path class="q23" d="M279 322l9 11 6 3-9-11z"/>
<path class="q22" d="M288 333l8 11 6 4-8-12z"/>
<path class="q20" d="M296 344l8 11 7 4-9-11z"/>
<path class="q19" d="M304 355l9 11 6 5-8-12z"/>
<path class="q17" d="M313 366l8 10 6 6-8-11z"/>
<path class="q16" d="M321 376l8 11 7 7-9-12z"/>
<path class="q14" d="M329 387l9 11 6 7-8-11z"/>
<path class="q13" d="M338 398l8 10 6 7-8-10z"/>
<path class="q11" d="M346 408l9 9 6 8-9-10z"/>
<path class="q10" d="M355 417l8 9 6 7-8-8z"/>
<path class="q9" d="M363 426l8 7 6 8-8-8z"/>
<path class="q8" d="M371 433l9 6 8 5 6 6-8-4-9-5z"/>
<path class="q7" d="M388 444l8 3 9 1 6 4-9 0-8-2z"/>
<path class="q8" d="M405 448l8 0 8-2 6 1-8 3-8 2z"/>
<path class="q9" d="M421 446l9-3 6-1-9 5z"/>
<path class="q10" d="M430 443l8-5 6-2-8 6z"/>
<path class="q11" d="M438 438l8-6 6-3-8 7z"/>
<path class="q12" d="M446 432l9-6 6-5-9 8z"/>
<path class="q14" d="M455 426l8-7 6-6-8 8z"/>
<path class="q15" d="M463 419l8-8 7-6-9 8z"/>
<path class="q17" d="M471 411l9-8 6-7-8 9z"/>
<path class="q19" d="M480 403l8-7 6-8-8 8z"/>
<path class="q20" d="M488 396l8-8 7-9-9 9z"/>
<path class="q22" d="M496 388l9-8 6-9-8 8z"/>
<path class="q23" d="M505 380l8-8 6-9-8 8z"/>
<path class="q25" d="M513 372l9-8 6-10-9 9z"/>
<path class="q26" d="M522 364l8-7 6-11-8 8z"/>
<path class="q28" d="M530 357l8-8 6-11-8 8z"/>
<path class="q29" d="M538 349l9-8 6-12-9 9z"/>
<path class="q31" d="M547 341l8-8 6-12-8 8z"/>
<path class="q32" d="M555 333l8-7 6-14-8 9z"/>
<path class="q34" d="M563 326l9-8 6-14-9 8z"/>
<path class="q35" d="M572 318l8-7 6-14-8 7z"/>
<path class="q37" d="M580 311l8-6 6-14-8 6z"/>
<path class="q38" d="M588 305l9-6 6-14-9 6z"/>
<path class="q39" d="M597 299l8-4 6-14-8 4z"/>
<path class="q40" d="M605 295l8-3 9-1 6-13-9 1-8 2z"/>
<path class="q41" d="M622 291l8 0 8 1 7-10-9-3-8-1z"/>
<path class="q40" d="M638 292l9 4 8 5 6-8-8-6-8-5z"/>
<path class="q39" d="M655 301l8 6 7-6-9-8z"/>
<path class="q38" d="M663 307l9 8 6-5-8-9z"/>
<path class="q37" d="M672 315l8 9 6-3-8-11z"/>
<path class="q36" d="M680 324l9 10 6-3-9-10z"/>
<path class="q34" d="M689 334l8 10 6-1-8-12z"/>
<path class="q33" d="M223 259l9 10 6-2-9-10z"/>
<path class="q31" d="M232 269l8 10 6-1-8-11z"/>
<path class="q30" d="M240 279l8 10 6 0-8-11z"/>
<path class="q29" d="M248 289l9 10 6 1-9-11z"/>
<path class="q27" d="M257 299l8 11 6 1-8-11z"/>
<path class="q26" d="M265 310l8 10 6 2-8-11z"/>
<path class="q24" d="M273 320l9 10 6 3-9-11z"/>
<path class="q23" d="M282 330l8 11 6 3-8-11z"/>
<path class="q21" d="M290 341l8 10 6 4-8-11z"/>
<path class="q20" d="M298 351l9 10 6 5-9-11z"/>
<path class="q18" d="M307 361l8 10 6 5-8-10z"/>
<path class="q17" d="M315 371l8 10 6 6-8-11z"/>
<path class="q16" d="M323 381l9 10 6 7-9-11z"/>
<path class="q14" d="M332 391l8 10 6 7-8-10z"/>
<path class="q13" d="M340 401l8 9 7 7-9-9z"/>
<path class="q12" d="M348 410l9 8 6 8-8-9z"/>
<path class="q11" d="M357 418l8 8 6 7-8-7z"/>
<path class="q10" d="M365 426l8 6 7 7-9-6z"/>
<path class="q9" d="M373 432l9 6 8 3 9 3 8 0 8 0 6 2-8 2-8 0-9-1-8-3-8-5z"/>
<path class="q10" d="M415 444l9-2 8-4 6 0-8 5-9 3z"/>
<path class="q11" d="M432 438l8-4 6-2-8 6z"/>
<path class="q13" d="M440 434l9-5 6-3-9 6z"/>
<path class="q14" d="M449 429l8-6 6-4-8 7z"/>
<path class="q15" d="M457 423l8-7 6-5-8 8z"/>
<path class="q17" d="M465 416l9-7 6-6-9 8z"/>
<path class="q18" d="M474 409l8-7 6-6-8 7z"/>
<path class="q19" d="M482 402l8-7 6-7-8 8z"/>
<path class="q21" d="M490 395l9-7 6-8-9 8z"/>
<path class="q22" d="M499 388l8-7 6-9-8 8z"/>
<path class="q24" d="M507 381l8-7 7-10-9 8z"/>
<path class="q25" d="M515 374l9-7 6-10-8 7z"/>
<path class="q27" d="M524 367l8-8 6-10-8 8z"/>
<path class="q28" d="M532 359l8-7 7-11-9 8z"/>
<path class="q30" d="M540 352l9-7 6-12-8 8z"/>
<path class="q31" d="M549 345l8-7 6-12-8 7z"/>
<path class="q32" d="M557 338l9-7 6-13-9 8z"/>
<path class="q34" d="M566 331l8-6 6-14-8 7z"/>
<path class="q35" d="M574 325l8-6 6-14-8 6z"/>
<path class="q36" d="M582 319l9-6 6-14-9 6z"/>
<path class="q37" d="M591 313l8-4 6-14-8 4z"/>
<path class="q38" d="M599 309l8-3 6-14-8 3z"/>
<path class="q39" d="M607 306l9-2 8-1 8 1 9 2 8 4 6-9-8-5-9-4-8-1-8 0-9 1z"/>
<path class="q38" d="M649 310l8 5 9 7 6-7-9-8-8-6z"/>
<path class="q37" d="M666 322l8 7 6-5-8-9z"/>
<path class="q35" d="M674 329l8 8 7-3-9-10z"/>
<path class="q34" d="M682 337l9 10 6-3-8-10z"/>
<path class="q33" d="M217 264l8 8 7-3-9-10z"/>
<path class="q32" d="M225 272l9 9 6-2-8-10z"/>
<path class="q30" d="M234 281l8 9 6-1-8-10z"/>
<path class="q29" d="M242 290l9 10 6-1-9-10z"/>
<path class="q28" d="M251 300l8 9 6 1-8-11z"/>
<path class="q26" d="M259 309l8 10 6 1-8-10z"/>
<path class="q25" d="M267 319l9 9 6 2-9-10z"/>
<path class="q24" d="M276 328l8 10 6 3-8-11z"/>
<path class="q22" d="M284 338l8 10 6 3-8-10z"/>
<path class="q21" d="M292 348l9 9 6 4-9-10z"/>
<path class="q20" d="M301 357l8 10 6 4-8-10z"/>
<path class="q18" d="M309 367l8 9 6 5-8-10z"/>
<path class="q17" d="M317 376l9 10 6 5-9-10z"/>
<path class="q16" d="M326 386l8 9 6 6-8-10z"/>
<path class="q15" d="M334 395l8 8 6 7-8-9z"/>
<path class="q13" d="M342 403l9 8 6 7-9-8z"/>
<path class="q12" d="M351 411l8 8 8 6 6 7-8-6-8-8z"/>
<path class="q11" d="M367 425l9 6 6 7-9-6z"/>
<path class="q10" d="M376 431l8 4 8 3 9 2 8 0 6 4-8 0-8 0-9-3-8-3z"/>
<path class="q11" d="M409 440l8-1 9-2 6 1-8 4-9 2z"/>
<path class="q12" d="M426 437l8-3 6 0-8 4z"/>
<path class="q13" d="M434 434l9-4 6-1-9 5z"/>
<path class="q14" d="M443 430l8-5 6-2-8 6z"/>
<path class="q15" d="M451 425l8-5 6-4-8 7z"/>
<path class="q16" d="M459 420l9-6 6-5-9 7z"/>
<path class="q18" d="M468 414l8-6 6-6-8 7z"/>
<path class="q19" d="M476 408l8-6 6-7-8 7z"/>
<path class="q20" d="M484 402l9-7 6-7-9 7z"/>
<path class="q22" d="M493 395l8-6 6-8-8 7z"/>
<path class="q23" d="M501 389l8-7 6-8-8 7z"/>
<path class="q24" d="M509 382l9-6 6-9-9 7z"/>
<path class="q26" d="M518 376l8-7 6-10-8 8z"/>
<path class="q27" d="M526 369l8-6 6-11-8 7z"/>
<path class="q28" d="M534 363l9-7 6-11-9 7z"/>
<path class="q30" d="M543 356l8-6 6-12-8 7z"/>
<path class="q31" d="M551 350l8-6 7-13-9 7z"/>
<path class="q32" d="M559 344l9-6 6-13-8 6z"/>
<path class="q33" d="M568 338l8-6 6-13-8 6z"/>
<path class="q35" d="M576 332l8-5 7-14-9 6z"/>
<path class="q36" d="M584 327l9-4 8-3 6-14-8 3-8 4z"/>
<path class="q37" d="M601 320l9-3 6-13-9 2z"/>
<path class="q38" d="M610 317l8-1 8 0 9 1 8 3 6-10-8-4-9-2-8-1-8 1z"/>
<path class="q37" d="M643 320l8 4 9 5 6-7-9-7-8-5z"/>
<path class="q36" d="M660 329l8 7 6-7-8-7z"/>
<path class="q35" d="M668 336l8 7 6-6-8-8z"/>
<path class="q34" d="M676 343l9 8 6-4-9-10z"/>
<path class="q33" d="M211 269l8 7 6-4-8-8z"/>
<path class="q32" d="M219 276l9 8 6-3-9-9z"/>
<path class="q31" d="M228 284l8 9 6-3-8-9z"/>
<path class="q29" d="M236 293l8 8 7-1-9-10z"/>
<path class="q28" d="M244 301l9 9 6-1-8-9z"/>
<path class="q27" d="M253 310l8 9 6 0-8-10z"/>
<path class="q26" d="M261 319l8 9 7 0-9-9z"/>
<path class="q25" d="M269 328l9 8 6 2-8-10z"/>
<path class="q23" d="M278 336l8 9 6 3-8-10z"/>
<path class="q22" d="M286 345l9 9 6 3-9-9z"/>
<path class="q21" d="M295 354l8 9 6 4-8-10z"/>
<path class="q20" d="M303 363l8 9 6 4-8-9z"/>
<path class="q18" d="M311 372l9 9 6 5-9-10z"/>
<path class="q17" d="M320 381l8 8 6 6-8-9z"/>
<path class="q16" d="M328 389l8 8 6 6-8-8z"/>
<path class="q15" d="M336 397l9 8 6 6-9-8z"/>
<path class="q14" d="M345 405l8 7 6 7-8-8z"/>
<path class="q13" d="M353 412l8 6 9 6 6 7-9-6-8-6z"/>
<path class="q12" d="M370 424l8 5 8 3 6 6-8-3-8-4z"/>
<path class="q11" d="M386 432l9 3 8 1 6 4-8 0-9-2z"/>
<path class="q12" d="M403 436l8 0 9-1 6 2-9 2-8 1z"/>
<path class="q13" d="M420 435l8-2 8-3 7 0-9 4-8 3z"/>
<path class="q14" d="M436 430l9-3 6-2-8 5z"/>
<path class="q15" d="M445 427l8-5 6-2-8 5z"/>
<path class="q16" d="M453 422l8-4 7-4-9 6z"/>
<path class="q17" d="M461 418l9-6 6-4-8 6z"/>
<path class="q19" d="M470 412l8-5 6-5-8 6z"/>
<path class="q20" d="M478 407l9-6 6-6-9 7z"/>
<path class="q21" d="M487 401l8-5 6-7-8 6z"/>
<path class="q22" d="M495 396l8-6 6-8-8 7z"/>
<path class="q23" d="M503 390l9-6 6-8-9 6z"/>
<path class="q25" d="M512 384l8-6 6-9-8 7z"/>
<path class="q26" d="M520 378l8-6 6-9-8 6z"/>
<path class="q27" d="M528 372l9-5 6-11-9 7z"/>
<path class="q28" d="M537 367l8-6 6-11-8 6z"/>
<path class="q30" d="M545 361l8-6 6-11-8 6z"/>
<path class="q31" d="M553 355l9-5 6-12-9 6z"/>
<path class="q32" d="M562 350l8-5 6-13-8 6z"/>
<path class="q33" d="M570 345l8-5 6-13-8 5z"/>
<path class="q34" d="M578 340l9-4 6-13-9 4z"/>
<path class="q35" d="M587 336l8-3 8-2 7-14-9 3-8 3z"/>
<path class="q36" d="M603 331l9-2 8 0 6-13-8 0-8 1z"/>
<path class="q37" d="M620 329l8 0 9 2 6-11-8-3-9-1z"/>
<path class="q36" d="M637 331l8 3 9 4 6-9-9-5-8-4z"/>
<path class="q35" d="M654 338l8 5 8 6 6-6-8-7-8-7z"/>
<path class="q34" d="M670 349l9 7 6-5-9-8z"/>
<path class="q32" d="M205 276l8 6 9 7 6-5-9-8-8-7z"/>
<path class="q31" d="M222 289l8 7 6-3-8-9z"/>
<path class="q30" d="M230 296l8 8 6-3-8-8z"/>
<path class="q29" d="M238 304l9 7 6-1-9-9z"/>
<path class="q27" d="M247 311l8 8 6 0-8-9z"/>
<path class="q26" d="M255 319l8 9 6 0-8-9z"/>
<path class="q25" d="M263 328l9 8 6 0-9-8z"/>
<path class="q24" d="M272 336l8 8 6 1-8-9z"/>
<path class="q23" d="M280 344l8 8 7 2-9-9z"/>
<path class="q22" d="M288 352l9 8 6 3-8-9z"/>
<path class="q21" d="M297 360l8 8 6 4-8-9z"/>
<path class="q20" d="M305 368l8 8 7 5-9-9z"/>
<path class="q19" d="M313 376l9 8 6 5-8-8z"/>
<path class="q18" d="M322 384l8 8 6 5-8-8z"/>
<path class="q17" d="M330 392l9 7 6 6-9-8z"/>
<path class="q16" d="M339 399l8 7 6 6-8-7z"/>
<path class="q15" d="M347 406l8 6 6 6-8-6z"/>
<path class="q14" d="M355 412l9 5 8 5 6 7-8-5-9-6z"/>
<path class="q13" d="M372 422l8 4 9 3 8 2 8 1 9 0 6 3-9 1-8 0-8-1-9-3-8-3z"/>
<path class="q14" d="M414 432l8-1 8-2 6 1-8 3-8 2z"/>
<path class="q15" d="M430 429l9-2 6 0-9 3z"/>
<path class="q16" d="M439 427l8-4 8-3 6-2-8 4-8 5z"/>
<path class="q17" d="M455 420l9-4 6-4-9 6z"/>
<path class="q18" d="M464 416l8-5 6-4-8 5z"/>
<path class="q19" d="M472 411l8-5 7-5-9 6z"/>
<path class="q21" d="M480 406l9-4 6-6-8 5z"/>
<path class="q22" d="M489 402l8-5 6-7-8 6z"/>
<path class="q23" d="M497 397l9-6 6-7-9 6z"/>
<path class="q24" d="M506 391l8-5 6-8-8 6z"/>
<path class="q25" d="M514 386l8-5 6-9-8 6z"/>
<path class="q26" d="M522 381l9-5 6-9-9 5z"/>
<path class="q27" d="M531 376l8-5 6-10-8 6z"/>
<path class="q28" d="M539 371l8-5 6-11-8 6z"/>
<path class="q29" d="M547 366l9-4 6-12-9 5z"/>
<path class="q30" d="M556 362l8-5 6-12-8 5z"/>
<path class="q31" d="M564 357l8-4 6-13-8 5z"/>
<path class="q32" d="M572 353l9-4 6-13-9 4z"/>
<path class="q33" d="M581 349l8-3 6-13-8 3z"/>
<path class="q34" d="M589 346l8-2 9-2 6-13-9 2-8 2z"/>
<path class="q35" d="M606 342l8 0 8 0 9 1 8 2 8 3 7-10-9-4-8-3-9-2-8 0-8 0z"/>
<path class="q34" d="M647 348l9 4 8 5 6-8-8-6-8-5z"/>
<path class="q33" d="M664 357l8 6 7-7-9-7z"/>
<path class="q32" d="M199 284l8 5 6-7-8-6z"/>
<path class="q31" d="M207 289l9 6 6-6-9-7z"/>
<path class="q30" d="M216 295l8 6 8 6 6-3-8-8-8-7z"/>
<path class="q29" d="M232 307l9 7 6-3-9-7z"/>
<path class="q28" d="M241 314l8 7 6-2-8-8z"/>
<path class="q27" d="M249 321l8 8 6-1-8-9z"/>
<path class="q26" d="M257 329l9 7 6 0-9-8z"/>
<path class="q25" d="M266 336l8 8 6 0-8-8z"/>
<path class="q24" d="M274 344l8 7 6 1-8-8z"/>
<path class="q23" d="M282 351l9 7 6 2-9-8z"/>
<path class="q22" d="M291 358l8 8 6 2-8-8z"/>
<path class="q21" d="M299 366l8 7 6 3-8-8z"/>
<path class="q20" d="M307 373l9 7 6 4-9-8z"/>
<path class="q19" d="M316 380l8 7 6 5-8-8z"/>
<path class="q18" d="M324 387l8 7 7 5-9-7z"/>
<path class="q17" d="M332 394l9 6 6 6-8-7z"/>
<path class="q16" d="M341 400l8 6 8 5 7 6-9-5-8-6z"/>
<path class="q15" d="M357 411l9 5 8 4 6 6-8-4-8-5z"/>
<path class="q14" d="M374 420l9 3 8 2 8 2 9 1 6 4-9 0-8-1-8-2-9-3z"/>
<path class="q15" d="M408 428l8 0 8-1 9-2 6 2-9 2-8 2-8 1z"/>
<path class="q16" d="M433 425l8-2 6 0-8 4z"/>
<path class="q17" d="M441 423l8-2 6-1-8 3z"/>
<path class="q18" d="M449 421l9-3 8-4 6-3-8 5-9 4z"/>
<path class="q19" d="M466 414l8-4 6-4-8 5z"/>
<path class="q20" d="M474 410l9-4 6-4-9 4z"/>
<path class="q21" d="M483 406l8-4 6-5-8 5z"/>
<path class="q22" d="M491 402l8-4 7-7-9 6z"/>
<path class="q23" d="M499 398l9-5 6-7-8 5z"/>
<path class="q24" d="M508 393l8-4 6-8-8 5z"/>
<path class="q25" d="M516 389l8-4 7-9-9 5z"/>
<path class="q26" d="M524 385l9-4 6-10-8 5z"/>
<path class="q27" d="M533 381l8-5 6-10-8 5z"/>
<path class="q28" d="M541 376l9-4 6-10-9 4z"/>
<path class="q29" d="M550 372l8-3 6-12-8 5z"/>
<path class="q30" d="M558 369l8-4 6-12-8 4z"/>
<path class="q31" d="M566 365l9-3 6-13-9 4z"/>
<path class="q32" d="M575 362l8-3 8-2 6-13-8 2-8 3z"/>
<path class="q33" d="M591 357l9-2 8 0 6-13-8 0-9 2z"/>
<path class="q34" d="M608 355l8-1 9 1 8 2 8 2 6-11-8-3-8-2-9-1-8 0z"/>
<path class="q33" d="M641 359l9 3 8 4 8 5 6-8-8-6-8-5-9-4z"/>
<path class="q31" d="M193 292l8 5 8 5 7-7-9-6-8-5z"/>
<path class="q30" d="M209 302l9 5 6-6-8-6z"/>
<path class="q29" d="M218 307l8 5 8 6 7-4-9-7-8-6z"/>
<path class="q28" d="M234 318l9 7 6-4-8-7z"/>
<path class="q27" d="M243 325l8 6 6-2-8-8z"/>
<path class="q26" d="M251 331l9 6 6-1-9-7z"/>
<path class="q25" d="M260 337l8 7 6 0-8-8z"/>
<path class="q24" d="M268 344l8 7 6 0-8-7z"/>
<path class="q23" d="M276 351l9 6 8 7 6 2-8-8-9-7z"/>
<path class="q22" d="M293 364l8 7 6 2-8-7z"/>
<path class="q21" d="M301 371l9 6 6 3-9-7z"/>
<path class="q20" d="M310 377l8 6 6 4-8-7z"/>
<path class="q19" d="M318 383l8 6 6 5-8-7z"/>
<path class="q18" d="M326 389l9 6 8 5 6 6-8-6-9-6z"/>
<path class="q17" d="M343 400l8 5 9 5 6 6-9-5-8-5z"/>
<path class="q16" d="M360 410l8 4 8 3 9 3 8 2 8 1 9 1 8 0 9-1 6 2-9 2-8 1-8 0-9-1-8-2-8-2-9-3-8-4z"/>
<path class="q17" d="M427 423l8-1 8-2 6 1-8 2-8 2z"/>
<path class="q18" d="M443 420l9-2 6 0-9 3z"/>
<path class="q19" d="M452 418l8-2 8-3 6-3-8 4-8 4z"/>
<path class="q20" d="M468 413l9-3 6-4-9 4z"/>
<path class="q21" d="M477 410l8-3 6-5-8 4z"/>
<path class="q22" d="M485 407l8-4 6-5-8 4z"/>
<path class="q23" d="M493 403l9-3 6-7-9 5z"/>
<path class="q24" d="M502 400l8-4 6-7-8 4z"/>
<path class="q25" d="M510 396l8-3 9-4 6-8-9 4-8 4z"/>
<path class="q26" d="M527 389l8-3 6-10-8 5z"/>
<path class="q27" d="M535 386l8-4 7-10-9 4z"/>
<path class="q28" d="M543 382l9-3 6-10-8 3z"/>
<path class="q29" d="M552 379l8-3 6-11-8 4z"/>
<path class="q30" d="M560 376l8-2 9-3 6-12-8 3-9 3z"/>
<path class="q31" d="M577 371l8-2 9-1 6-13-9 2-8 2z"/>
<path class="q32" d="M594 368l8-1 8 0 9 0 8 1 8 2 9 3 8 3 8 4 6-9-8-5-8-4-9-3-8-2-8-2-9-1-8 1-8 0z"/>
<path class="q30" d="M187 302l8 4 8 4 6-8-8-5-8-5z"/>
<path class="q29" d="M203 310l9 4 8 5 6-7-8-5-9-5z"/>
<path class="q28" d="M220 319l8 5 9 5 6-4-9-7-8-6z"/>
<path class="q27" d="M237 329l8 5 6-3-8-6z"/>
<path class="q26" d="M245 334l8 6 7-3-9-6z"/>
<path class="q25" d="M253 340l9 6 8 5 6 0-8-7-8-7z"/>
<path class="q24" d="M270 351l8 6 7 0-9-6z"/>
<path class="q23" d="M278 357l9 6 6 1-8-7z"/>
<path class="q22" d="M287 363l8 6 9 6 6 2-9-6-8-7z"/>
<path class="q21" d="M304 375l8 5 6 3-8-6z"/>
<path class="q20" d="M312 380l8 6 9 5 6 4-9-6-8-6z"/>
<path class="q19" d="M329 391l8 5 8 4 6 5-8-5-8-5z"/>
<path class="q18" d="M345 400l9 5 8 3 6 6-8-4-9-5z"/>
<path class="q17" d="M362 408l8 4 9 2 8 3 8 1 9 2 8 0 8 0 7 3-9 1-8 0-9-1-8-1-8-2-9-3-8-3z"/>
<path class="q18" d="M420 420l9 0 8-1 6 1-8 2-8 1z"/>
<path class="q19" d="M437 419l8-1 9-2 6 0-8 2-9 2z"/>
<path class="q20" d="M454 416l8-2 9-2 6-2-9 3-8 3z"/>
<path class="q21" d="M471 412l8-2 6-3-8 3z"/>
<path class="q22" d="M479 410l8-3 6-4-8 4z"/>
<path class="q23" d="M487 407l9-2 8-3 6-6-8 4-9 3z"/>
<path class="q24" d="M504 402l8-3 6-6-8 3z"/>
<path class="q25" d="M512 399l9-2 6-8-9 4z"/>
<path class="q26" d="M521 397l8-3 8-3 6-9-8 4-8 3z"/>
<path class="q27" d="M537 391l9-2 6-10-9 3z"/>
<path class="q28" d="M546 389l8-2 8-3 6-10-8 2-8 3z"/>
<path class="q29" d="M562 384l9-1 8-2 6-12-8 2-9 3z"/>
<path class="q30" d="M579 381l8-1 9-1 6-12-8 1-9 1z"/>
<path class="q31" d="M596 379l8 0 8 1 9 0 8 2 9 2 8 2 8 3 6-9-8-4-8-3-9-3-8-2-8-1-9 0-8 0z"/>
<path class="q29" d="M181 312l8 3 8 3 9 4 6-8-9-4-8-4-8-4z"/>
<path class="q28" d="M206 322l8 4 8 4 6-6-8-5-8-5z"/>
<path class="q27" d="M222 330l9 4 8 5 6-5-8-5-9-5z"/>
<path class="q26" d="M239 339l8 5 9 4 6-2-9-6-8-6z"/>
<path class="q25" d="M256 348l8 5 6-2-8-5z"/>
<path class="q24" d="M264 353l8 5 9 5 6 0-9-6-8-6z"/>
<path class="q23" d="M281 363l8 5 8 5 7 2-9-6-8-6z"/>
<path class="q22" d="M297 373l9 5 6 2-8-5z"/>
<path class="q21" d="M306 378l8 5 8 4 7 4-9-5-8-6z"/>
<path class="q20" d="M322 387l9 5 8 4 6 4-8-4-8-5z"/>
<path class="q19" d="M339 396l9 4 8 3 8 3 6 6-8-4-8-3-9-5z"/>
<path class="q18" d="M364 406l9 3 8 3 8 1 9 2 8 1 8 1 6 3-8 0-8 0-9-2-8-1-8-3-9-2z"/>
<path class="q19" d="M414 417l9 0 8 0 8 0 6 1-8 1-8 1-9 0z"/>
<path class="q20" d="M439 417l9-1 8-1 6-1-8 2-9 2z"/>
<path class="q21" d="M456 415l8-1 9-2 6-2-8 2-9 2z"/>
<path class="q22" d="M473 412l8-1 8-2 7-4-9 2-8 3z"/>
<path class="q23" d="M489 409l9-2 6-5-8 3z"/>
<path class="q24" d="M498 407l8-2 9-2 6-6-9 2-8 3z"/>
<path class="q25" d="M515 403l8-2 8-2 6-8-8 3-8 3z"/>
<path class="q26" d="M531 399l9-1 6-9-9 2z"/>
<path class="q27" d="M540 398l8-2 8-1 6-11-8 3-8 2z"/>
<path class="q28" d="M556 395l9-2 8-1 6-11-8 2-9 1z"/>
<path class="q29" d="M573 392l8 0 9-1 8 0 6-12-8 0-9 1-8 1z"/>
<path class="q30" d="M598 391l8 1 9 0 8 1 8 2 9 2 8 2 6-10-8-3-8-2-9-2-8-2-9 0-8-1z"/>
<path class="q28" d="M174 323l9 2 8 3 9 3 8 3 6-8-8-4-9-4-8-3-8-3z"/>
<path class="q27" d="M208 334l8 3 9 4 6-7-9-4-8-4z"/>
<path class="q26" d="M225 341l8 3 8 4 9 4 6-4-9-4-8-5-8-5z"/>
<path class="q25" d="M250 352l8 4 8 4 6-2-8-5-8-5z"/>
<path class="q24" d="M266 360l9 5 8 4 6-1-8-5-9-5z"/>
<path class="q23" d="M283 369l8 4 9 4 6 1-9-5-8-5z"/>
<path class="q22" d="M300 377l8 4 8 4 6 2-8-4-8-5z"/>
<path class="q21" d="M316 385l9 4 8 3 8 4 7 4-9-4-8-4-9-5z"/>
<path class="q20" d="M341 396l9 3 8 3 8 2 9 3 8 2 9 1 8 2 8 1 9 1 8 0 8 0 9 1 6 1-9 1-8 0-8 0-9 0-8-1-8-1-9-2-8-1-8-3-9-3-8-3-8-3z"/>
<path class="q21" d="M442 415l8-1 8 0 6 0-8 1-8 1z"/>
<path class="q22" d="M458 414l9-1 8 0 8-1 6-3-8 2-8 1-9 2z"/>
<path class="q23" d="M483 412l9-1 8-1 6-5-8 2-9 2z"/>
<path class="q24" d="M500 410l8-1 9-1 6-7-8 2-9 2z"/>
<path class="q25" d="M517 408l8-2 8 0 7-8-9 1-8 2z"/>
<path class="q26" d="M533 406l9-1 8-1 6-9-8 1-8 2z"/>
<path class="q27" d="M550 404l9-1 8 0 8 0 6-11-8 0-8 1-9 2z"/>
<path class="q28" d="M575 403l9-1 8 1 8 0 9 1 8 1 8 1 9 2 8 2 6-11-8-2-9-2-8-2-8-1-9 0-8-1-8 0-9 1z"/>
<path class="q27" d="M168 334l9 2 8 2 8 2 9 3 6-9-8-3-9-3-8-3-9-2z"/>
<path class="q26" d="M202 343l8 2 8 3 9 3 8 3 6-6-8-4-8-3-9-4-8-3z"/>
<path class="q25" d="M235 354l9 3 8 3 8 4 6-4-8-4-8-4-9-4z"/>
<path class="q24" d="M260 364l9 3 8 3 8 4 6-1-8-4-8-4-9-5z"/>
<path class="q23" d="M285 374l9 3 8 3 8 3 6 2-8-4-8-4-9-4z"/>
<path class="q22" d="M310 383l9 3 8 3 8 3 9 3 6 4-9-3-8-4-8-3-9-4z"/>
<path class="q21" d="M344 395l8 2 8 3 9 2 8 2 8 2 9 1 8 2 9 1 8 1 8 1 9 0 6 3-9-1-8 0-8 0-9-1-8-1-8-2-9-1-8-2-9-3-8-2-8-3z"/>
<path class="q22" d="M436 412l8 1 8 0 9 0 8 0 6 0-8 0-9 1-8 0-8 1z"/>
<path class="q23" d="M469 413l8 0 9 0 8 0 6-3-8 1-9 1-8 1z"/>
<path class="q24" d="M494 413l8 0 9 0 8 0 6-7-8 2-9 1-8 1z"/>
<path class="q25" d="M519 413l8-1 9 0 8 0 6-8-8 1-9 1-8 0z"/>
<path class="q26" d="M544 412l8 0 9 0 8 1 8 0 7-11-9 1-8 0-8 0-9 1z"/>
<path class="q27" d="M577 413l9 1 8 0 9 1 8 1 8 2 9 1 8 2 6-11-8-2-9-2-8-1-8-1-9-1-8 0-8-1z"/>
<path class="q26" d="M162 345l9 2 8 1 8 2 9 2 8 2 6-9-8-2-9-3-8-2-8-2-9-2z"/>
<path class="q25" d="M204 354l8 2 9 3 8 2 8 2 9 3 8 2 6-4-8-4-8-3-9-3-8-3-9-3-8-3z"/>
<path class="q24" d="M254 368l8 2 9 3 8 2 9 3 6-1-9-3-8-4-8-3-9-3z"/>
<path class="q23" d="M288 378l8 2 8 2 9 3 8 2 8 2 9 2 6 4-9-3-8-3-8-3-9-3-8-3-8-3z"/>
<path class="q22" d="M338 391l8 3 8 2 9 1 8 2 8 2 9 2 8 1 8 2 9 1 8 1 8 1 9 2 6 2-8-1-9 0-8-1-8-1-9-1-8-2-9-1-8-2-8-2-9-2-8-3-8-2z"/>
<path class="q23" d="M438 411l8 0 9 1 8 1 8 1 9 1 8 1 6-3-8 0-9 0-8 0-8 0-9 0-8 0z"/>
<path class="q24" d="M488 416l8 0 9 1 8 1 8 0 6-6-8 1-8 0-9 0-8 0z"/>
<path class="q25" d="M521 418l9 1 8 1 8 0 9 1 8 1 8 1 6-10-8 0-8-1-9 0-8 0-8 0-9 0z"/>
<path class="q26" d="M571 423l9 1 8 1 8 1 9 2 8 1 8 2 9 1 6-11-8-2-9-1-8-2-8-1-9-1-8 0-9-1z"/>
<path class="q25" d="M156 356l9 2 8 1 8 2 9 1 8 2 6-10-8-2-9-2-8-2-8-1-9-2z"/>
<path class="q24" d="M198 364l8 2 9 1 8 2 8 1 9 2 8 1 8 2 9 1 8 2 8 2 9 1 8 2 8 1 9 2 8 1 9 2 8 1 6 4-8-3-9-2-8-2-8-2-9-3-8-2-8-2-9-3-8-2-9-3-8-2-8-2-9-3-8-2-8-2-9-3-8-2z"/>
<path class="q23" d="M340 390l8 2 9 2 8 1 8 2 9 1 8 2 8 1 9 2 8 1 8 2 9 2 6 3-9-2-8-1-8-1-9-1-8-2-8-1-9-2-8-2-8-2-9-1-8-2z"/>
<path class="q24" d="M432 408l8 1 8 2 9 1 8 2 8 1 9 2 8 1 9 2 8 2 8 1 9 2 8 1 8 2 9 1 8 2 8 1 9 2 6-10-9-1-8-1-8-1-9-1-8 0-8-1-9-1-8 0-8-1-9-1-8 0-8-1-9-1-8-1-8-1-9-1-8 0z"/>
<path class="q25" d="M574 434l8 2 8 1 9 2 8 1 8 2 9 1 6-11-9-1-8-2-8-1-9-2-8-1-8-1z"/>
</g></g>
<rect x="230.8" y="37.4" width="9.8" height="56" fill="url(#cb)" stroke="#444" stroke-width="0.6"/>
<g stroke="#333" stroke-width="0.5">
<line x1="230.80" y1="44.40" x2="232.60" y2="44.40"/>
<line x1="240.60" y1="44.40" x2="238.80" y2="44.40"/>
<line x1="230.80" y1="51.40" x2="232.60" y2="51.40"/>
<line x1="240.60" y1="51.40" x2="238.80" y2="51.40"/>
<line x1="230.80" y1="58.40" x2="232.60" y2="58.40"/>
<line x1="240.60" y1="58.40" x2="238.80" y2="58.40"/>
<line x1="230.80" y1="65.40" x2="232.60" y2="65.40"/>
<line x1="240.60" y1="65.40" x2="238.80" y2="65.40"/>
<line x1="230.80" y1="72.40" x2="232.60" y2="72.40"/>
<line x1="240.60" y1="72.40" x2="238.80" y2="72.40"/>
<line x1="230.80" y1="79.40" x2="232.60" y2="79.40"/>
<line x1="240.60" y1="79.40" x2="238.80" y2="79.40"/>
<line x1="230.80" y1="86.40" x2="232.60" y2="86.40"/>
<line x1="240.60" y1="86.40" x2="238.80" y2="86.40"/>
</g>
<g class="s">
<text x="203.8" y="14.3" text-anchor="middle">7.0 ps</text>
<text x="35.5" y="43.4">E<tspan dy="2.5" font-size="7.4">3</tspan><tspan dy="-2.5"> [MeV/m]</tspan></text>
<text x="30.3" y="130.00" text-anchor="end">-200</text>
<text x="30.3" y="120.66" text-anchor="end">-150</text>
<text x="30.3" y="111.33" text-anchor="end">-100</text>
<text x="30.3" y="101.99" text-anchor="end">-50</text>
<text x="30.3" y="92.65" text-anchor="end">0</text>
<text x="30.3" y="83.31" text-anchor="end">50</text>
<text x="30.3" y="73.97" text-anchor="end">100</text>
<text x="30.3" y="64.64" text-anchor="end">150</text>
<text x="30.3" y="55.30" text-anchor="end">200</text>
<text x="245.4" y="96.70">-200</text>
<text x="245.4" y="89.70">-150</text>
<text x="245.4" y="82.70">-100</text>
<text x="245.4" y="75.70">-50</text>
<text x="247.7" y="68.70">0</text>
<text x="247.7" y="61.70">50</text>
<text x="247.7" y="54.70">100</text>
<text x="247.7" y="47.70">150</text>
<text x="247.7" y="40.70">200</text>
<text x="43.44" y="135.53" text-anchor="middle">-400</text>
<text x="170.40" y="151.34">-400</text>
<text x="68.47" y="140.19" text-anchor="middle">-200</text>
<text x="184.75" y="143.45">-200</text>
<text x="93.50" y="144.85" text-anchor="middle">0</text>
<text x="199.90" y="135.55">0</text>
<text x="118.53" y="149.51" text-anchor="middle">200</text>
<text x="214.25" y="127.65">200</text>
<text x="143.56" y="154.17" text-anchor="middle">400</text>
<text x="228.60" y="119.76">400</text>
<text x="66.9" y="150.6">x<tspan dy="-3.8" font-size="7">1</tspan><tspan dy="3.8" dx="-0.6"> [<tspan class="mu">μ</tspan>m]</tspan></text>
<text x="210.6" y="138.0">x<tspan dy="-3.8" font-size="7">2</tspan><tspan dy="3.8" dx="-0.3"> [<tspan class="mu">μ</tspan>m]</tspan></text>
</g>
<g class="c">
<text x="96.8" y="200.5" textLength="12.2" lengthAdjust="spacingAndGlyphs">(d)</text>
<text x="113.0" y="200.5" font-style="italic" textLength="5.6" lengthAdjust="spacingAndGlyphs">x</text>
<text class="u" x="119.5" y="196.6">0</text>
<text x="127.8" y="200.5" textLength="6.6" lengthAdjust="spacingAndGlyphs">=</text>
<text x="138.2" y="200.5" textLength="13.2" lengthAdjust="spacingAndGlyphs">7.0</text>
<text x="153.2" y="200.5" textLength="11.8" lengthAdjust="spacingAndGlyphs">ps.</text>
</g>
</g>
</svg>
</body></html>
